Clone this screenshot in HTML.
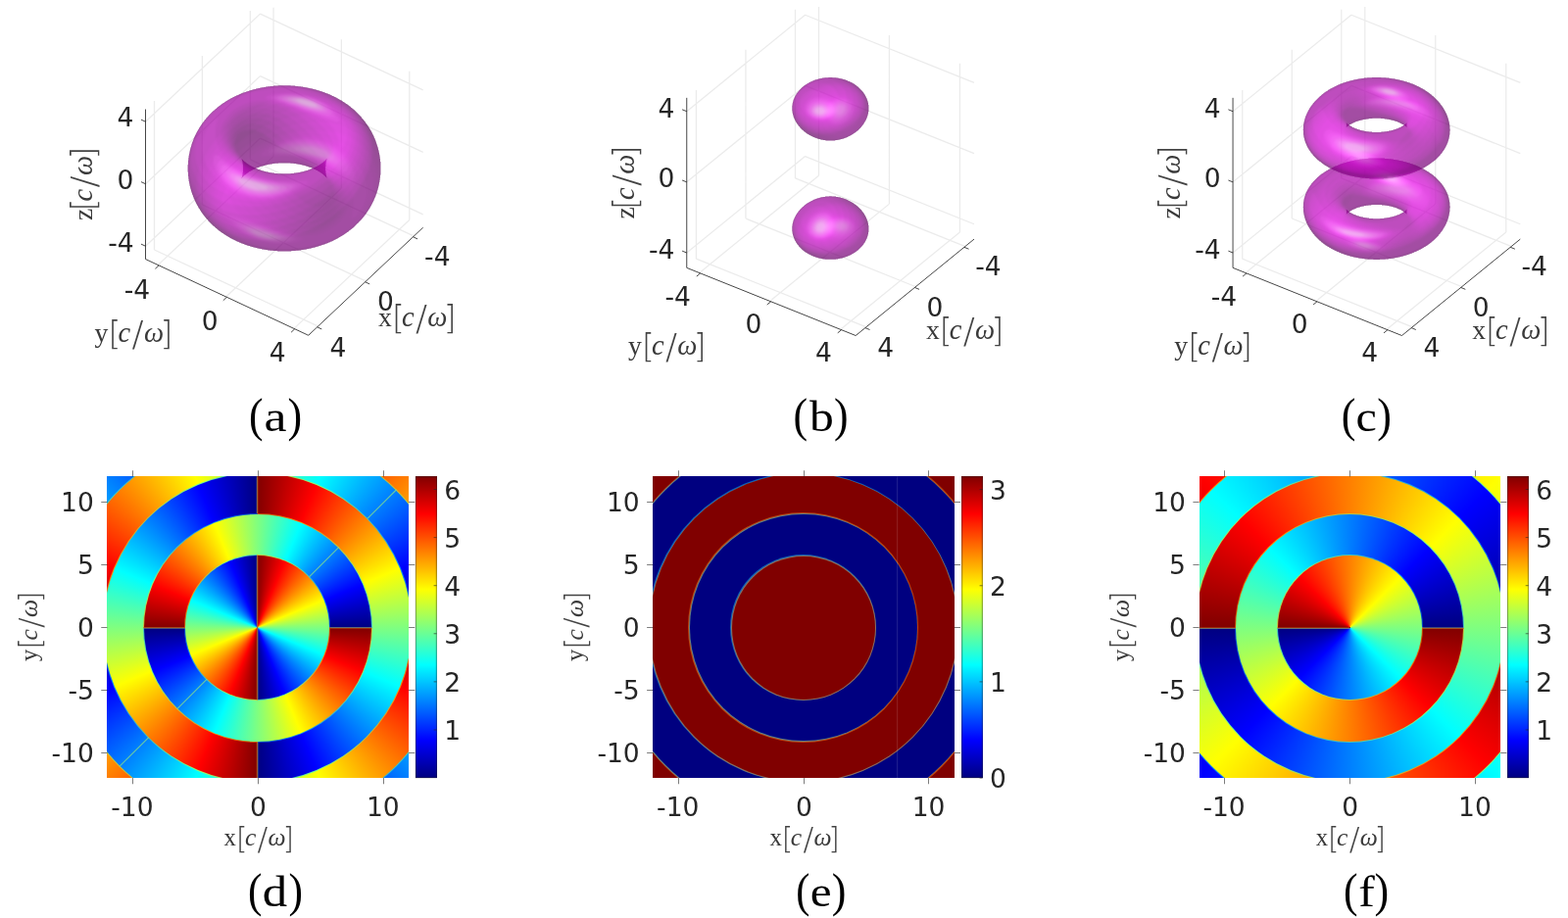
<!DOCTYPE html>
<html lang="en"><head><meta charset="utf-8"><title>Figure</title><style>
html,body{margin:0;padding:0;background:#fff}
#fig{position:relative;width:1600px;height:937px;overflow:hidden;background:#fff}
#fig svg{position:absolute;left:0;top:0}
.pl{position:absolute;overflow:hidden}
.pl i{position:absolute;border-radius:50%;display:block}
.cb{position:absolute;background:linear-gradient(to top,#000080 0%,#0000ff 12.5%,#00ffff 37.5%,#ffff00 62.5%,#ff0000 87.5%,#800000 100%)}
.pl i.fr{opacity:.55}
.pl i.f2{opacity:.55}
.wa{fill:none;stroke:#c86414;stroke-opacity:.8;stroke-width:.75}
.wb{fill:none;stroke:#96aa78;stroke-opacity:.85;stroke-width:.75}
.dl{fill:none;stroke:#82dc8c;stroke-opacity:.8;stroke-width:1.1}
.t{font-family:'DejaVu Sans','Liberation Sans',sans-serif;fill:#262626}
.s{font-family:'Liberation Serif','DejaVu Serif',serif;fill:#3a3a3a}
.el{font-family:'DejaVu Sans','Liberation Sans',sans-serif;font-weight:200;fill:#444}
.cap{font-family:'Liberation Serif','DejaVu Serif',serif;fill:#000}
.gr{fill:none;stroke:#262626;stroke-opacity:.095;stroke-width:1.25}
.ax{fill:none;stroke:#262626;stroke-width:.85}
.tk{fill:none;stroke:#262626;stroke-opacity:.6;stroke-width:1}
</style></head><body><div id="fig">
<div class="pl" style="left:109.45px;top:486.45px;width:307.6px;height:307.6px;background:conic-gradient(from 0deg,#800000 0deg,#ff0000 22.5deg,#ffff00 67.5deg,#00ffff 112.5deg,#0000ff 157.5deg,#000080 180deg,#800000 180deg,#ff0000 202.5deg,#ffff00 247.5deg,#00ffff 292.5deg,#0000ff 337.5deg,#000080 360deg)"><i class="fr" style="left:-46.76px;top:-45.86px;width:400.11px;height:400.11px;background:conic-gradient(from 90deg,#ff8000 0deg,#ffff00 22.5deg,#80ff80 45deg,#00ffff 67.5deg,#0080ff 90deg,#ff8000 90deg,#ffff00 112.5deg,#80ff80 135deg,#00ffff 157.5deg,#0080ff 180deg,#ff8000 180deg,#ffff00 202.5deg,#80ff80 225deg,#00ffff 247.5deg,#0080ff 270deg,#ff8000 270deg,#ffff00 292.5deg,#80ff80 315deg,#00ffff 337.5deg,#0080ff 360deg)"></i><i style="left:-45.76px;top:-44.86px;width:398.11px;height:398.11px;background:conic-gradient(from -90deg,#800000 0deg,#ff0000 22.5deg,#ffff00 67.5deg,#00ffff 112.5deg,#0000ff 157.5deg,#000080 180deg,#800000 180deg,#ff0000 202.5deg,#ffff00 247.5deg,#00ffff 292.5deg,#0000ff 337.5deg,#000080 360deg)"></i><i class="fr" style="left:-5.14px;top:-4.24px;width:316.88px;height:316.88px;background:conic-gradient(from 90deg,#ff8000 0deg,#ffff00 22.5deg,#80ff80 45deg,#00ffff 67.5deg,#0080ff 90deg,#ff8000 90deg,#ffff00 112.5deg,#80ff80 135deg,#00ffff 157.5deg,#0080ff 180deg,#ff8000 180deg,#ffff00 202.5deg,#80ff80 225deg,#00ffff 247.5deg,#0080ff 270deg,#ff8000 270deg,#ffff00 292.5deg,#80ff80 315deg,#00ffff 337.5deg,#0080ff 360deg)"></i><i style="left:-4.14px;top:-3.24px;width:314.88px;height:314.88px;background:conic-gradient(from 0deg,#800000 0deg,#ff0000 22.5deg,#ffff00 67.5deg,#00ffff 112.5deg,#0000ff 157.5deg,#000080 180deg,#800000 180deg,#ff0000 202.5deg,#ffff00 247.5deg,#00ffff 292.5deg,#0000ff 337.5deg,#000080 360deg)"></i><i class="fr" style="left:36.23px;top:37.13px;width:234.14px;height:234.14px;background:conic-gradient(from 90deg,#ff8000 0deg,#ffff00 22.5deg,#80ff80 45deg,#00ffff 67.5deg,#0080ff 90deg,#ff8000 90deg,#ffff00 112.5deg,#80ff80 135deg,#00ffff 157.5deg,#0080ff 180deg,#ff8000 180deg,#ffff00 202.5deg,#80ff80 225deg,#00ffff 247.5deg,#0080ff 270deg,#ff8000 270deg,#ffff00 292.5deg,#80ff80 315deg,#00ffff 337.5deg,#0080ff 360deg)"></i><i style="left:37.23px;top:38.13px;width:232.14px;height:232.14px;background:conic-gradient(from -90deg,#800000 0deg,#ff0000 22.5deg,#ffff00 67.5deg,#00ffff 112.5deg,#0000ff 157.5deg,#000080 180deg,#800000 180deg,#ff0000 202.5deg,#ffff00 247.5deg,#00ffff 292.5deg,#0000ff 337.5deg,#000080 360deg)"></i><i class="fr" style="left:78.93px;top:79.83px;width:148.74px;height:148.74px;background:conic-gradient(from 90deg,#ff8000 0deg,#ffff00 22.5deg,#80ff80 45deg,#00ffff 67.5deg,#0080ff 90deg,#ff8000 90deg,#ffff00 112.5deg,#80ff80 135deg,#00ffff 157.5deg,#0080ff 180deg,#ff8000 180deg,#ffff00 202.5deg,#80ff80 225deg,#00ffff 247.5deg,#0080ff 270deg,#ff8000 270deg,#ffff00 292.5deg,#80ff80 315deg,#00ffff 337.5deg,#0080ff 360deg)"></i><i style="left:79.93px;top:80.83px;width:146.74px;height:146.74px;background:conic-gradient(from 0deg,#800000 0deg,#ff0000 22.5deg,#ffff00 67.5deg,#00ffff 112.5deg,#0000ff 157.5deg,#000080 180deg,#800000 180deg,#ff0000 202.5deg,#ffff00 247.5deg,#00ffff 292.5deg,#0000ff 337.5deg,#000080 360deg)"></i></div>
<div class="cb" style="left:424px;top:486.45px;width:21.6px;height:307.6px"></div>
<div class="pl" style="left:666.3px;top:486.45px;width:307.6px;height:307.6px;background:#800000"><i class="f2" style="left:-46.81px;top:-46.11px;width:400.61px;height:400.61px;background:#f07818"></i><i class="f2" style="left:-46.06px;top:-45.36px;width:399.11px;height:399.11px;background:#18b4e6"></i><i style="left:-45.31px;top:-44.61px;width:397.61px;height:397.61px;background:#000080"></i><i class="f2" style="left:-5.19px;top:-4.49px;width:317.38px;height:317.38px;background:#18b4e6"></i><i class="f2" style="left:-4.44px;top:-3.74px;width:315.88px;height:315.88px;background:#f07818"></i><i style="left:-3.69px;top:-2.99px;width:314.38px;height:314.38px;background:#800000"></i><i class="f2" style="left:36.18px;top:36.88px;width:234.64px;height:234.64px;background:#f07818"></i><i class="f2" style="left:36.93px;top:37.63px;width:233.14px;height:233.14px;background:#18b4e6"></i><i style="left:37.68px;top:38.38px;width:231.64px;height:231.64px;background:#000080"></i><i class="f2" style="left:78.88px;top:79.58px;width:149.24px;height:149.24px;background:#18b4e6"></i><i class="f2" style="left:79.63px;top:80.33px;width:147.74px;height:147.74px;background:#f07818"></i><i style="left:80.38px;top:81.08px;width:146.24px;height:146.24px;background:#800000"></i></div>
<div class="cb" style="left:981.4px;top:486.45px;width:21.2px;height:307.6px"></div>
<div class="pl" style="left:1223.6px;top:486.45px;width:307.6px;height:307.6px;background:conic-gradient(from -90deg,#800000 0deg,#ff0000 45deg,#ffff00 135deg,#00ffff 225deg,#0000ff 315deg,#000080 360deg)"><i class="fr" style="left:-46.36px;top:-45.66px;width:400.11px;height:400.11px;background:conic-gradient(from 90deg,#ff8000 0deg,#ffff00 45deg,#80ff80 90deg,#00ffff 135deg,#0080ff 180deg,#ff8000 180deg,#ffff00 225deg,#80ff80 270deg,#00ffff 315deg,#0080ff 360deg)"></i><i style="left:-45.36px;top:-44.66px;width:398.11px;height:398.11px;background:conic-gradient(from -270deg,#800000 0deg,#ff0000 45deg,#ffff00 135deg,#00ffff 225deg,#0000ff 315deg,#000080 360deg)"></i><i class="fr" style="left:-4.74px;top:-4.04px;width:316.88px;height:316.88px;background:conic-gradient(from 90deg,#ff8000 0deg,#ffff00 45deg,#80ff80 90deg,#00ffff 135deg,#0080ff 180deg,#ff8000 180deg,#ffff00 225deg,#80ff80 270deg,#00ffff 315deg,#0080ff 360deg)"></i><i style="left:-3.74px;top:-3.04px;width:314.88px;height:314.88px;background:conic-gradient(from -90deg,#800000 0deg,#ff0000 45deg,#ffff00 135deg,#00ffff 225deg,#0000ff 315deg,#000080 360deg)"></i><i class="fr" style="left:36.63px;top:37.33px;width:234.14px;height:234.14px;background:conic-gradient(from 90deg,#ff8000 0deg,#ffff00 45deg,#80ff80 90deg,#00ffff 135deg,#0080ff 180deg,#ff8000 180deg,#ffff00 225deg,#80ff80 270deg,#00ffff 315deg,#0080ff 360deg)"></i><i style="left:37.63px;top:38.33px;width:232.14px;height:232.14px;background:conic-gradient(from -270deg,#800000 0deg,#ff0000 45deg,#ffff00 135deg,#00ffff 225deg,#0000ff 315deg,#000080 360deg)"></i><i class="fr" style="left:79.33px;top:80.03px;width:148.74px;height:148.74px;background:conic-gradient(from 90deg,#ff8000 0deg,#ffff00 45deg,#80ff80 90deg,#00ffff 135deg,#0080ff 180deg,#ff8000 180deg,#ffff00 225deg,#80ff80 270deg,#00ffff 315deg,#0080ff 360deg)"></i><i style="left:80.33px;top:81.03px;width:146.74px;height:146.74px;background:conic-gradient(from -90deg,#800000 0deg,#ff0000 45deg,#ffff00 135deg,#00ffff 225deg,#0000ff 315deg,#000080 360deg)"></i></div>
<div class="cb" style="left:1538.1px;top:486.45px;width:21.6px;height:307.6px"></div>
<svg width="1600" height="937" viewBox="0 0 1600 937"><defs><filter id="bl" x="-5%" y="-5%" width="110%" height="110%" color-interpolation-filters="sRGB"><feGaussianBlur stdDeviation="0.8"/></filter></defs><path class="wa" d="M262.95 566.78V640.65M262.25 640.65V714.52M262.95 486.45V524.08M262.25 757.22V794.05M146.18 640.55H188.88M336.62 641.25H379.32"/><path class="wb" d="M262.25 566.78V640.65M262.95 640.65V714.52M262.25 486.45V524.08M262.95 757.22V794.05M146.18 641.25H188.88M336.62 640.55H379.32"/>
<path class="dl" d="M315.68 588.62L345.88 558.42M211.22 693.08L181.02 723.28M375.13 529.17L404.56 499.74M151.77 752.53L122.34 781.96"/>
<rect x="424.3" y="486.75" width="21" height="307" fill="none" stroke="#262626" stroke-opacity=".45" stroke-width="1"/>
<text class="t" x="52.53" y="778.15" font-size="26.5">-10</text>
<text class="t" x="113.24" y="833.25" font-size="26.5">-10</text>
<text class="t" x="69.39" y="714.2" font-size="26.5">-5</text>
<text class="t" x="78.95" y="650.25" font-size="26.5">0</text>
<text class="t" x="255.03" y="833.25" font-size="26.5">0</text>
<text class="t" x="78.95" y="586.3" font-size="26.5">5</text>
<text class="t" x="62.09" y="522.35" font-size="26.5">10</text>
<text class="t" x="373.91" y="833.25" font-size="26.5">10</text>
<text class="t" x="453.2" y="754.96" font-size="26.5">1</text>
<text class="t" x="453.2" y="705.87" font-size="26.5">2</text>
<text class="t" x="453.2" y="656.78" font-size="26.5">3</text>
<text class="t" x="453.2" y="607.69" font-size="26.5">4</text>
<text class="t" x="453.2" y="558.6" font-size="26.5">5</text>
<text class="t" x="453.2" y="509.51" font-size="26.5">6</text>
<path class="tk" d="M109.45 768.5h-6.2M417.05 768.5h6.2M135.5 486.45v-6.2M135.5 794.05v6.2M109.45 704.5h-6.2M417.05 704.5h6.2M109.45 640.5h-6.2M417.05 640.5h6.2M263.5 486.45v-6.2M263.5 794.05v6.2M109.45 576.5h-6.2M417.05 576.5h6.2M109.45 512.5h-6.2M417.05 512.5h6.2M391.5 486.45v-6.2M391.5 794.05v6.2M445.6 744.96h-3M445.6 695.87h-3M445.6 646.78h-3M445.6 597.69h-3M445.6 548.6h-3M445.6 499.51h-3"/>
<text class="s" y="863.4"><tspan x="228.54" dy="0" font-size="24.82">x</tspan><tspan x="240.92" dy="2.7" font-size="29.61" class="el">[</tspan><tspan x="249.96" dy="-2.7" font-size="25.61" font-style="italic">c</tspan><tspan x="262.53" dy="3.62" font-size="32.12" class="el">/</tspan><tspan x="273.58" dy="-3.62" font-size="25.61" font-style="italic">ω</tspan><tspan x="288.39" dy="2.7" font-size="29.61" class="el">]</tspan></text>
<text class="s" y="0" transform="translate(38 675.4) rotate(-90)"><tspan x="0.29" dy="0" font-size="24.82">y</tspan><tspan x="12.82" dy="2.7" font-size="29.61" class="el">[</tspan><tspan x="21.86" dy="-2.7" font-size="25.61" font-style="italic">c</tspan><tspan x="34.43" dy="3.62" font-size="32.12" class="el">/</tspan><tspan x="45.48" dy="-3.62" font-size="25.61" font-style="italic">ω</tspan><tspan x="60.29" dy="2.7" font-size="29.61" class="el">]</tspan></text>
<text class="cap" y="924.6"><tspan x="252.98" font-size="49" textLength="14.52" lengthAdjust="spacingAndGlyphs">(</tspan><tspan x="267.67" font-size="45" textLength="25.35" lengthAdjust="spacingAndGlyphs">d</tspan><tspan x="294.39" font-size="49" textLength="14.52" lengthAdjust="spacingAndGlyphs">)</tspan></text>
<path d="M915.6 486.45V794.05" stroke="#fff" stroke-opacity=".13" stroke-width="1" fill="none"/>
<rect x="981.7" y="486.75" width="20.6" height="307" fill="none" stroke="#262626" stroke-opacity=".45" stroke-width="1"/>
<text class="t" x="609.38" y="778.15" font-size="26.5">-10</text>
<text class="t" x="670.09" y="833.25" font-size="26.5">-10</text>
<text class="t" x="626.24" y="714.2" font-size="26.5">-5</text>
<text class="t" x="635.8" y="650.25" font-size="26.5">0</text>
<text class="t" x="811.88" y="833.25" font-size="26.5">0</text>
<text class="t" x="635.8" y="586.3" font-size="26.5">5</text>
<text class="t" x="618.94" y="522.35" font-size="26.5">10</text>
<text class="t" x="930.76" y="833.25" font-size="26.5">10</text>
<text class="t" x="1010.05" y="804.05" font-size="26.5">0</text>
<text class="t" x="1010.05" y="705.9" font-size="26.5">1</text>
<text class="t" x="1010.05" y="607.75" font-size="26.5">2</text>
<text class="t" x="1010.05" y="509.6" font-size="26.5">3</text>
<path class="tk" d="M666.3 768.5h-6.2M973.9 768.5h6.2M692.5 486.45v-6.2M692.5 794.05v6.2M666.3 704.5h-6.2M973.9 704.5h6.2M666.3 640.5h-6.2M973.9 640.5h6.2M820.5 486.45v-6.2M820.5 794.05v6.2M666.3 576.5h-6.2M973.9 576.5h6.2M666.3 512.5h-6.2M973.9 512.5h6.2M947.5 486.45v-6.2M947.5 794.05v6.2M1002.6 794.05h-3M1002.6 695.9h-3M1002.6 597.75h-3M1002.6 499.6h-3"/>
<text class="s" y="863.4"><tspan x="785.39" dy="0" font-size="24.82">x</tspan><tspan x="797.77" dy="2.7" font-size="29.61" class="el">[</tspan><tspan x="806.81" dy="-2.7" font-size="25.61" font-style="italic">c</tspan><tspan x="819.38" dy="3.62" font-size="32.12" class="el">/</tspan><tspan x="830.43" dy="-3.62" font-size="25.61" font-style="italic">ω</tspan><tspan x="845.24" dy="2.7" font-size="29.61" class="el">]</tspan></text>
<text class="s" y="0" transform="translate(594.85 675.4) rotate(-90)"><tspan x="0.29" dy="0" font-size="24.82">y</tspan><tspan x="12.82" dy="2.7" font-size="29.61" class="el">[</tspan><tspan x="21.86" dy="-2.7" font-size="25.61" font-style="italic">c</tspan><tspan x="34.43" dy="3.62" font-size="32.12" class="el">/</tspan><tspan x="45.48" dy="-3.62" font-size="25.61" font-style="italic">ω</tspan><tspan x="60.29" dy="2.7" font-size="29.61" class="el">]</tspan></text>
<text class="cap" y="924.6"><tspan x="812.23" font-size="49" textLength="14.13" lengthAdjust="spacingAndGlyphs">(</tspan><tspan x="826.68" font-size="45" textLength="21.83" lengthAdjust="spacingAndGlyphs">e</tspan><tspan x="848.68" font-size="49" textLength="14.65" lengthAdjust="spacingAndGlyphs">)</tspan></text>
<path class="wa" d="M1223.6 640.8H1260.73M1303.43 640.8H1377.3M1451.17 641.5H1493.87"/><path class="wb" d="M1223.6 641.5H1260.73M1303.43 641.5H1377.3M1451.17 640.8H1493.87"/>
<rect x="1538.4" y="486.75" width="21" height="307" fill="none" stroke="#262626" stroke-opacity=".45" stroke-width="1"/>
<text class="t" x="1166.68" y="778.15" font-size="26.5">-10</text>
<text class="t" x="1227.39" y="833.25" font-size="26.5">-10</text>
<text class="t" x="1183.54" y="714.2" font-size="26.5">-5</text>
<text class="t" x="1193.1" y="650.25" font-size="26.5">0</text>
<text class="t" x="1369.18" y="833.25" font-size="26.5">0</text>
<text class="t" x="1193.1" y="586.3" font-size="26.5">5</text>
<text class="t" x="1176.24" y="522.35" font-size="26.5">10</text>
<text class="t" x="1488.06" y="833.25" font-size="26.5">10</text>
<text class="t" x="1567.35" y="754.96" font-size="26.5">1</text>
<text class="t" x="1567.35" y="705.87" font-size="26.5">2</text>
<text class="t" x="1567.35" y="656.78" font-size="26.5">3</text>
<text class="t" x="1567.35" y="607.69" font-size="26.5">4</text>
<text class="t" x="1567.35" y="558.6" font-size="26.5">5</text>
<text class="t" x="1567.35" y="509.51" font-size="26.5">6</text>
<path class="tk" d="M1223.6 768.5h-6.2M1531.2 768.5h6.2M1249.5 486.45v-6.2M1249.5 794.05v6.2M1223.6 704.5h-6.2M1531.2 704.5h6.2M1223.6 640.5h-6.2M1531.2 640.5h6.2M1377.5 486.45v-6.2M1377.5 794.05v6.2M1223.6 576.5h-6.2M1531.2 576.5h6.2M1223.6 512.5h-6.2M1531.2 512.5h6.2M1505.5 486.45v-6.2M1505.5 794.05v6.2M1559.7 744.96h-3M1559.7 695.87h-3M1559.7 646.78h-3M1559.7 597.69h-3M1559.7 548.6h-3M1559.7 499.51h-3"/>
<text class="s" y="863.4"><tspan x="1342.69" dy="0" font-size="24.82">x</tspan><tspan x="1355.07" dy="2.7" font-size="29.61" class="el">[</tspan><tspan x="1364.11" dy="-2.7" font-size="25.61" font-style="italic">c</tspan><tspan x="1376.68" dy="3.62" font-size="32.12" class="el">/</tspan><tspan x="1387.73" dy="-3.62" font-size="25.61" font-style="italic">ω</tspan><tspan x="1402.54" dy="2.7" font-size="29.61" class="el">]</tspan></text>
<text class="s" y="0" transform="translate(1152.15 675.4) rotate(-90)"><tspan x="0.29" dy="0" font-size="24.82">y</tspan><tspan x="12.82" dy="2.7" font-size="29.61" class="el">[</tspan><tspan x="21.86" dy="-2.7" font-size="25.61" font-style="italic">c</tspan><tspan x="34.43" dy="3.62" font-size="32.12" class="el">/</tspan><tspan x="45.48" dy="-3.62" font-size="25.61" font-style="italic">ω</tspan><tspan x="60.29" dy="2.7" font-size="29.61" class="el">]</tspan></text>
<text class="cap" y="924.6"><tspan x="1370.98" font-size="49" textLength="14.52" lengthAdjust="spacingAndGlyphs">(</tspan><tspan x="1386.37" font-size="45" textLength="16.53" lengthAdjust="spacingAndGlyphs">f</tspan><tspan x="1402.58" font-size="49" textLength="14.65" lengthAdjust="spacingAndGlyphs">)</tspan></text>
<g id="pa"><path class="gr" d="M255.3 162.92L421.5 240.66M279.04 159.66L162.04 269.75M255.3 162.92L255.3 11.03M265.49 141.14L148.5 251.23M279.04 159.66L279.04 7.77M265.49 141.14L431.7 218.87M206.4 208.94L372.6 286.67M348.4 192.1L231.4 302.19M206.4 208.94L206.4 57.05M265.49 77.64L148.5 187.73M348.4 192.1L348.4 40.21M265.49 77.64L431.7 155.37M157.5 254.95L323.7 332.69M417.76 224.54L300.76 334.63M157.5 254.95L157.5 103.06M265.49 14.14L148.5 124.23M417.76 224.54L417.76 72.65M265.49 14.14L431.7 91.87"/>
<clipPath id="csa1"><use href="#sa1"/></clipPath><g opacity="0.45" clip-path="url(#csa1)"><g filter="url(#bl)"><path id="sa1" fill="#690069" stroke="#690069" stroke-width="3" d="M332.6 162.8l0.9-0.9 0.2 0.3-0.3 0.3 0 0.7-0.3 0.3 0 1-0.4 0.3 0 1.7-0.3 0.3 0 3-0.3 0.4 0 3.6 0.3 0.4 0 2.6 0.3 0.4 0 1.6 0.3 0.4 0 1 0.4 0.3 0 0.7 0.3 0.3-0.2 0.2-1.2-1.2 0-0.3-0.8-0.8-0.3 0-1.7-1.7-0.3 0-1-1-0.4 0-1.6-1.3-1-0.4-0.7-0.6-0.3 0-0.4-0.4-0.3 0-0.3-0.3-0.4 0-0.3-0.3-0.3 0-0.4-0.4-0.3 0-0.3-0.3-0.4 0-0.3-0.3-0.3 0-0.9-0.6 0.9-0.5 0.3 0 0.3-0.4 0.4 0 0.3-0.3 0.3 0 0.4-0.3 0.3 0 0.3-0.4 0.4 0 0.3-0.3 0.3 0 0.4-0.3 0.3 0 0.3-0.4 0.4 0 0.6-0.6 0.4 0 1.6-1.4 0.4 0 0.6-0.6 0.4 0 1.6-1.7 0.4 0 1.3-1.3zM246.6 162.5l0.2-0.2 3 3 0.4 0 1.3 1.3 0.3 0 0.7 0.7 0.3 0 1.7 1.3 1 0.3 0.7 0.7 0.3 0 1.7 1 0.3 0 1 0.7 0.7 0 0.9 0.5-0.9 0.6-0.4 0-0.3 0.3-0.7 0-1.6 1-0.4 0-0.6 0.7-1 0.3-0.4 0.4-0.3 0-0.7 0.6-0.3 0-0.7 0.7-0.3 0-2.3 2-0.4 0-2.7 2.8 0 0.3-0.6 0.6-0.2-0.3 0.6-1 0-1 0.4-0.3 0-1 0.3-0.3 0-2 0.3-0.4 0-8-0.3-0.3 0-2-0.3-0.3 0-1-0.4-0.4 0-0.6-0.3-0.4z"/><path fill="#7c007c" d="M246.8 162.5l3 3 0.4 0 1.3 1.3 0.3 0 0.7 0.6 0.3 0 1.7 1.4 1 0.3 0.7 0.7 0.3 0 1.7 1 0.3 0 1 0.7 0.7 0 0.3 0.3 0.4 0-1.1 0.4-0.3 0.3-0.7 0-1.6 1-0.4 0-0.6 0.7-1 0.3-0.4 0.4-0.3 0-0.7 0.6-0.3 0-0.7 0.7-0.3 0-1 1-0.3 0-1 1-0.4 0-2.6 2.7-0.1-1.1 0.4-0.3 0-1 0.3-0.3 0-2 0.3-0.4 0-8-0.3-0.3 0-2-0.3-0.3 0-1-0.4-0.4 0-0.6-0.3-0.4zM333.1 162.5l0.2 0 0 0.7-0.4 0.3 0 1-0.3 0.3 0 1.7-0.4 0.3 0 3-0.3 0.4 0 3.6 0.3 0.4 0 2.6 0.3 0.4 0 1.6 0.3 0.4 0 0.9-6.6-4.9-0.4 0-1.3-1-0.3 0-0.4-0.4-0.3 0-0.3-0.3-0.4 0-0.3-0.3-0.3 0-0.4-0.4-0.3 0-0.3-0.3-0.4 0-0.3-0.3-1-0.4 1-0.3 0.3-0.4 0.4 0 0.3-0.3 0.3 0 0.4-0.3 0.3 0 0.3-0.4 0.4 0 0.3-0.3 0.3 0 0.4-0.3 0.3 0 0.3-0.4 0.4 0 0.6-0.7 0.4 0 1.6-1.3 0.4 0 0.6-0.7 0.4 0 1.6-1.6 0.4 0 1.3-1.4z"/><path fill="#8a008a" d="M246.8 162.5l3 3 0.4 0 1.3 1.3 0.3 0 0.7 0.7 0.3 0 1.7 1.3 1 0.3 0.7 0.7 0.3 0 1.7 1 0.3 0 1 0.7 0.7 0 0.3 0.3 0.4 0-1.1 0.4-0.3 0.3-0.7 0-1.6 1-0.4 0-0.6 0.7-1 0.3-0.4 0.4-0.3 0-0.7 0.6-0.3 0-0.7 0.7-0.3 0-1 1-0.3 0-1 1-0.4 0-2.6 2.7-0.1-1.1 0.4-0.3 0-1 0.3-0.3 0-2 0.3-0.4 0-8-0.3-0.3 0-2-0.3-0.3 0-1-0.4-0.4 0-0.6-0.3-0.4zM333.1 162.5l0.2 0 0 0.7-0.4 0.3 0 1-0.3 0.3 0 1.7-0.4 0.3 0 3-0.3 0.4 0 3.6 0.3 0.4 0 2.6 0.3 0.4 0 1.6 0.3 0.4 0 0.3-3-2.1-3.3-2.1-6-3.1-0.3 0-0.4-0.4-0.3 0 1-0.3 0.3-0.4 0.4 0 0.3-0.3 0.3 0 0.4-0.3 0.3 0 0.3-0.4 0.4 0 0.3-0.3 0.3 0 0.4-0.3 0.3 0 0.3-0.4 0.4 0 0.6-0.6 0.4 0 1.6-1.4 0.4 0 0.6-0.7 0.4 0 1.6-1.6 0.4 0 1.3-1.4z"/><path fill="#970097" d="M246.8 162.5l3 3 0.4 0 1.3 1.3 0.3 0 0.7 0.7 0.3 0 1.7 1.3 1 0.3 0.7 0.7 0.3 0 1.7 1 0.3 0 1 0.7 0.7 0 0.3 0.3 0.4 0-1.1 0.4-0.3 0.3-0.7 0-1.6 1-0.4 0-0.6 0.7-1 0.3-0.4 0.4-0.3 0-0.7 0.6-0.3 0-0.7 0.7-0.3 0-1 1-0.3 0-1 1-0.4 0-2.6 2.7-0.1-1.1 0.4-0.3 0-1 0.3-0.3 0-2 0.3-0.4 0-8-0.3-0.3 0-2-0.3-0.3 0-1-0.4-0.4 0-0.6-0.3-0.4zM333.1 162.5l0.2 0-0.1 0.7-0.3 0.3 0 1-0.3 0.3 0 1.7-0.4 0.3 0 3-0.3 0.4 0 3.6 0.3 0.4 0 2.6 0.3 0.4 0 1.4-3-2-3.3-1.9-6.3-2.9 0.3-0.3 0.3 0 0.3-0.3 0.4 0 0.3-0.4 0.3 0 0.4-0.3 0.3 0 0.3-0.4 0.4 0 1.6-1 0.4 0 0.6-0.6 0.4 0 1.6-1.4 0.4 0 0.6-0.6 0.4-0.1 1.6-1.6 0.4 0 1.3-1.4z"/><path fill="#a400a4" d="M246.8 162.5l3 3 0.4 0 1.3 1.3 0.3 0 0.7 0.7 0.3 0 1.7 1.3 1 0.3 0.7 0.7 0.3 0 1.7 1 0.3 0 1 0.7 0.7 0 0.3 0.3 0.3 0-1 0.4-0.3 0.3-0.7 0-1.6 1-0.4 0-0.6 0.7-1 0.3-0.4 0.3-0.3 0.1-0.7 0.6-0.3 0-0.7 0.7-0.3 0-1 1-0.3 0-1 1-0.4 0-2.6 2.6-0.1-1 0.4-0.3 0-1 0.3-0.3 0-2 0.3-0.4 0-8-0.3-0.3 0-2-0.3-0.3 0-1-0.4-0.4 0-0.6-0.3-0.4zM333.1 162.5l0.1 0 0 0.7-0.3 0.3 0 1-0.3 0.3 0 1.7-0.4 0.3 0 3-0.3 0.4 0 3.6 0.3 0.4 0 2.6 0.3 0.4 0 0.6-6-3.5-6.3-2.8 0.3 0 0.3-0.3 0.4 0 0.3-0.4 0.3 0 0.4-0.3 0.3 0 0.3-0.4 0.4 0 1.6-1 0.4 0 0.6-0.6 0.4 0 1.6-1.4 0.4 0 0.6-0.6 0.4 0 1.6-1.7 0.4 0 1.3-1.4z"/><path fill="#b100b1" d="M246.8 162.5l3 3 0.4 0 1.3 1.3 0.3 0 0.7 0.7 0.3 0 1.7 1.3 1 0.3 0.7 0.7 0.3 0 1.7 1 0.3 0 1 0.7 0.7 0 0.3 0.3 0.3 0-1 0.4-0.3 0.3-0.7 0-1.6 1-0.4 0-0.6 0.7-1 0.3-0.4 0.3-0.3 0-0.7 0.7-0.3 0-0.7 0.7-0.3 0-1 1-0.3 0-1 1-0.4 0-2.6 2.6 0-1 0.3-0.3 0-1 0.3-0.3 0-2 0.3-0.4 0-8-0.3-0.3 0-2-0.3-0.3 0-1-0.3-0.4 0-0.6-0.4-0.4zM332.8 162.8l0.4-0.3 0 0.7-0.3 0.3 0 1-0.3 0.3 0 1.7-0.4 0.3 0 3-0.3 0.4-0.1 3.6 0.4 0.4 0 2.5-5.4-3-5.8-2.5 0.5-0.4 0.3 0 0.4-0.3 0.3 0 0.3-0.3 0.4 0 0.3-0.4 0.3 0 0.4-0.3 0.3 0 0.3-0.4 0.4 0 0.6-0.6 0.4 0 1.6-1.4 0.4 0 0.6-0.6 0.4 0 3.6-3.3z"/><path fill="#be00be" d="M246.8 162.5l3 3 0.4 0 1.3 1.3 0.3 0 0.7 0.7 0.3 0 1.7 1.3 1 0.4 0.7 0.6 0.3 0 1.7 1 0.3 0 1 0.7 0.7 0 0.4 0.3-1.8 0.7-1.6 1-0.4 0-2 1.3-0.3 0-1.8 1.4-0.2 0-2.4 2-0.3 0-2.6 2.6 0-1 0.3-0.3 0-1 0.3-0.3 0-2 0.4-0.4 0-8-0.4-0.3 0-2-0.3-0.3 0-1-0.3-0.4 0-0.6-0.4-0.4zM332.8 162.8l0.4-0.3 0 0.7-0.3 0.3 0 1-0.3 0.3-0.1 1.7-0.3 0.3 0 3-0.3 0.4-0.1 3.6 0.4 0.4 0 1.3-4.7-2.5-5.3-2.3 0-0.2 0.3 0 0.3-0.3 0.4 0 1.6-1 0.4 0 0.6-0.7 0.4 0 1.6-1.4 0.4 0 0.6-0.6 0.4 0 3.6-3.3z"/><path fill="#cc00cc" d="M332.8 162.8l0.4-0.3 0 0.7-0.3 0.3 0 1-0.4 0.3 0 1.7-0.3 0.3 0 3-0.4 0.4 0 3.6-4.3-2.2-4-1.7 0.7-0.4 0.3 0 0.3-0.3 0.4 0 0.6-0.7 0.4 0 1.6-1.3 0.4 0 0.6-0.7 0.4 0 3.6-3.3zM247.6 163.8l0.2-0.2 0.4 0.2 1.6 1.7 0.4 0 1.3 1.3 0.3 0 0.7 0.7 0.3 0 1.7 1.3 1 0.4 0.7 0.6 0.3 0 1.7 1 0.3 0 0.3 0.4 0.4 0 0.1 0.3-6.1 3.5-3.4 2.4-2.3 2 0-0.9 0.3-0.3 0-2 0.4-0.4 0-8-0.4-0.3 0-2-0.3-0.3z"/><path fill="#d400d4" d="M333.1 162.5l0.1 0.7-0.3 0.3 0 1-0.4 0.3 0 1.7-0.3 0.3 0 3-0.4 0.4 0 1.5-6-2.9 0-0.3 0.4 0 1.6-1.3 0.4 0 0.6-0.7 0.4 0 1.6-1.7 0.4 0 1.6-1.6 0-0.4zM253.1 168.2l0.7 0 0.7 0.6 1 0.4 0.4 0.6-3.7 2.5-4 3.3 0-4.6z"/><path fill="#e105e1" d="M333.1 162.5l0.1 0.7-0.3 0.3 0 1-0.4 0.3 0 1.7-0.3 0.3 0 2.5-4.4-2 0.4-0.1 0.6-0.7 0.4 0 1.6-1.7 0.4 0 1.6-1.6 0-0.4z"/><path fill="#eb0deb" d="M333.1 162.5l0.1 0.7-0.3 0.3 0 1-0.4 0.3 0 1.7-0.3 0.3 0 1.2-3.4-1.5 0.4 0 1.6-1.7 0.4 0 1.6-1.6 0-0.4z"/><path fill="#f415f4" d="M333.1 162.5l0.1 0.7-0.3 0.3 0 1-0.4 0.3 0 1.7-0.3 0.3 0 0.5-2.5-1.1 1.1-1.4 0.4 0 1.6-1.6 0-0.4z"/><path fill="#fe20fe" d="M333.1 162.5l0.1 0.7-0.3 0.3 0 1-0.4 0.3 0 1.7-0.3 0.2-2-0.9 0-0.3 0.6-0.7 0.4 0 1.6-1.6 0-0.4z"/><path fill="#ff32ff" d="M333.1 162.5l0.1 0.7-0.3 0.3-0.1 1-0.3 0.3 0 1.3-2-0.8 2.3-2.1 0-0.4z"/><path fill="#ff4dff" d="M333.1 162.5l0.1 0.7-0.4 0.3 0 1-0.3 0.5-1-0.4 1.3-1.4 0-0.4z"/><path fill="#ff75ff" d="M333.2 162.5l0 0.7-0.4 0.3 0 0.7-0.6-0.3z"/></g></g>
<clipPath id="csa2"><use href="#sa2"/></clipPath><g opacity="0.45" clip-path="url(#csa2)"><g filter="url(#bl)"><path id="sa2" fill="#4d004d" stroke="#4d004d" stroke-width="3" d="M332.6 162.8l0.9-0.8 0.2 0.2-0.3 0.3 0 0.7-0.4 0.3 0 1-0.3 0.3 0 1.7-0.3 0.3 0 3-0.4 0.4 0 3.6 0.4 0.4 0 2.6 0.3 0.4 0 1.6 0.3 0.4 0 1 0.4 0.3 0 0.7 0.3 0.3-0.2 0.2-1.2-1.2 0-0.3-0.8-0.8-0.3 0-1.7-1.7-0.3 0-1-1-0.4 0-0.6-0.7-0.4 0-0.6-0.6-1-0.4-0.7-0.6-0.3 0-0.4-0.4-0.3 0-0.3-0.3-0.4 0-0.3-0.3-0.3 0-0.4-0.4-0.3 0-0.3-0.3-0.4 0-0.3-0.3-0.3 0-0.9-0.6 0.9-0.5 0.3 0 0.3-0.3 0.4 0 0.3-0.4 0.3 0 0.4-0.3 0.3 0 0.3-0.3 0.4 0 0.3-0.4 0.3 0 0.4-0.3 0.3 0 0.3-0.3 0.4 0 1.6-1.4 0.4 0 1.6-1.3 0.4 0 1.6-1.7 0.4 0 1.3-1.3zM246.6 162.8l0.2-0.5 3 3 0.4 0 1.3 1.3 0.3 0 0.7 0.7 0.3 0 1.7 1.3 1 0.4 0.7 0.6 1 0.4 1 0.6 0.3 0 1 0.7 0.7 0 0.8 0.5-0.8 0.6-0.4 0-0.3 0.3-0.7 0-1.6 1-0.4 0-0.6 0.7-0.4 0-0.3 0.3-1 0.3-1.7 1.4-0.3 0-2.3 2-0.4 0-2.8 2.8 0 0.3-0.5 0.5-0.2-0.2 0.7-1 0-1 0.3-0.3 0-1 0.3-0.3 0-2 0.4-0.4 0-8-0.4-0.3 0-2-0.3-0.3 0-1-0.3-0.4 0-0.6z"/><path fill="#540054" d="M333.1 162.5l0.1 0.7-0.3 0.3 0 1-0.4 0.3 0 1.7-0.3 0.3 0 3-0.3 0.4 0 3.6 0.3 0.4 0 2.6 0.3 0.4 0 1.6 0.4 0.4-0.1 1 0.4 0.3 0 0.7-0.7-0.8 0-0.2-1-1-4-3.6-3-2.3-3.2-2.1 0.2-0.4 0.3 0 0.4-0.3 0.3 0 0.3-0.3 0.4 0 1.6-1.1 0.4 0 1.6-1.3 0.4 0 1.6-1.3 0.4 0 1.6-1.7 0.4 0 1.3-1.3z"/><path fill="#590059" d="M333.1 162.5l0.1 0.7-0.3 0.3 0 1-0.4 0.3 0 1.7-0.3 0.3 0 3-0.3 0.4 0 3.6 0.3 0.4 0 2.6 0.3 0.4 0 1.6 0.4 0.4-0.1 1 0.4 0.3 0 0.7-0.7-1-4.3-4.3-2.7-2.2-4-2.9 0.3 0 0.4-0.3 0.3 0 0.3-0.3 0.4 0 1.6-1.1 0.4 0 1.6-1.3 0.4 0 1.6-1.3 0.4 0 1.6-1.7 0.4 0 1.3-1.3z"/><path fill="#5f005f" d="M333.1 162.5l0.1 0.7-0.3 0.3 0 1-0.4 0.3 0 1.7-0.3 0.3 0 3-0.3 0.4 0 3.6 0.3 0.4 0 2.6 0.3 0.4 0 1.6 0.4 0.4-0.1 1 0.4 0.3 0 0.6-2-2.5-2.4-2.4-3.3-3-3.3-2.4 0-0.3 1-0.3 0.3-0.4 0.3 0 0.4-0.3 0.3 0 0.3-0.3 0.4-0.1 1.6-1.3 0.4 0 1.6-1.3 0.4 0 1.6-1.7 0.4 0 1.3-1.3z"/><path fill="#640064" d="M333.1 162.5l0.1 0.7-0.3 0.3 0 1-0.4 0.3 0 1.7-0.3 0.3 0 3-0.3 0.4 0 3.6 0.3 0.4 0 2.6 0.3 0.4 0 1.6 0.3 0.4 0 1 0.4 0.3 0 0.5-2-2.7-2.4-2.5-3-2.8-3.2-2.5 0.2-0.3 0.4 0 1.6-1 0.4 0 1.6-1.4 0.4 0 1.6-1.3 0.4 0 1.6-1.7 0.4 0 1.3-1.3z"/><path fill="#690069" d="M333.1 162.5l0.1 0.7-0.3 0.3 0 1-0.4 0.3 0 1.7-0.3 0.3 0 3-0.3 0.4 0 3.6 0.3 0.4 0 2.6 0.3 0.4 0 1.6 0.3 0.4 0 1.1-1.6-2.3-2.4-2.7-2.6-2.6-3.1-2.5 1.7-1 0.4 0 1.6-1.4 0.4 0 1.6-1.3 0.4 0 1.6-1.7 0.4 0 1.3-1.3z"/><path fill="#6e006e" d="M333.1 162.5l0.1 0.7-0.3 0.3 0 1-0.4 0.3 0 1.7-0.3 0.3 0 3-0.3 0.4 0 3.6 0.3 0.4 0 2.6 0.3 0.4 0 1.6 0.3 0.4 0 0.9-1.6-2.6-2-2.5-2.7-2.7-2.8-2.5 1.1-0.6 0.4 0 1.6-1.4 0.4 0 1.6-1.3 0.4 0 1.6-1.7 0.4 0 1.3-1.3z"/><path fill="#730073" d="M333.1 162.5l0.1 0.7-0.3 0.3 0 1-0.4 0.3 0 1.7-0.3 0.3 0 3-0.3 0.4-0.1 3.6 0.4 0.4 0 2.6 0.3 0.4 0 1.9-1.3-2.2-2-2.6-4.8-4.8 0.4-0.3 0.4 0 0.6-0.7 0.4 0 0.6-0.7 0.4 0 0.6-0.6 0.4 0 0.6-0.7 0.4 0 1.6-1.7 0.4 0 1.3-1.3z"/><path fill="#780078" d="M333.1 162.5l0.1 0.7-0.3 0.3 0 1-0.4 0.3 0 1.7-0.3 0.3 0 3-0.4 0.4 0 3.6 0.4 0.4 0 2.6 0.3 0.4 0 1.4-1.3-2.4-1.7-2.3-4.3-4.7 0.6-0.7 0.4 0 0.6-0.7 0.4 0 1.6-1.3 0.4 0 1.6-1.7 0.4 0 1.6-1.6 0-0.4z"/><path fill="#7d007d" d="M333.1 162.5l0.1 0.7-0.3 0.3 0 1-0.4 0.3 0 1.7-0.3 0.3 0 3-0.4 0.4 0 3.6 0.4 0.4 0 2.6 0.3 0.4 0 0.8-1-2.1-1.3-2.1-4.4-5.3 0.4 0 0.6-0.7 0.4 0 1.6-1.3 0.4 0 1.6-1.7 0.4 0 1.3-1.3z"/><path fill="#820082" d="M333.1 162.5l0.1 0.7-0.3 0.3 0 1-0.4 0.3 0 1.7-0.3 0.3 0 3-0.4 0.4 0 3.6 0.4 0.4 0 2.1-2-3.8-3.5-4.3 0.1-0.4 0.4 0 1.6-1.3 0.4 0 1.6-1.7 0.4 0 1.6-1.6 0-0.4z"/><path fill="#870087" d="M333.1 162.5l0.1 0.7-0.4 0.3 0 1-0.3 0.3 0 1.7-0.3 0.3 0 3-0.4 0.4 0 3.6 0.4 0.4 0 1-0.7-1.8-1-1.8-2.9-4.1 1.2-1 0.4 0 1.6-1.7 0.4 0 1.6-1.6 0-0.4z"/><path fill="#8c008c" d="M333.2 162.5l0 0.7-0.4 0.3 0 1-0.3 0.3 0 1.7-0.3 0.3 0 3-0.4 0.4 0 2.3-1.3-2.7-2-3 0.3-0.3 0.4 0 1.6-1.7 0.4 0 1.6-1.6 0-0.4z"/><path fill="#920092" d="M333.2 162.5l0 0.7-0.4 0.3 0 1-0.3 0.3 0 1.7-0.3 0.3 0 3-0.4 0.5-0.8-1.8-1.4-2.3 1.2-1.4 0.4 0 1.6-1.6 0-0.4z"/><path fill="#970097" d="M333.2 162.5l0 0.7-0.4 0.3 0 1-0.3 0.3 0 1.7-0.3 0.3 0 1.8-0.5-1.4-1.1-2 0.2-0.4 0.4 0 1.6-1.6 0-0.4z"/><path fill="#9d009d" d="M333.2 162.5l0 0.7-0.4 0.3 0 1-0.3 0.3 0 1.7-0.7-2.3 1-1 0-0.4z"/></g></g>
<clipPath id="csa3"><use href="#sa3"/></clipPath><g opacity="0.45" clip-path="url(#csa3)"><g filter="url(#bl)"><path id="sa3" fill="#4f004f" stroke="#4f004f" stroke-width="3" d="M283.5 87.6l0.3-0.3 12.7 0 0.3 0.3 4.4 0 0.3 0.4 2.7 0 0.3 0.3 2.3 0 0.4 0.3 2 0 0.3 0.4 1.7 0 0.3 0.3 1.3 0 0.4 0.3 1.3 0 0.3 0.4 1.4 0 0.3 0.3 1 0 0.3 0.3 1.4 0 0.3 0.4 1 0 0.3 0.3 0.7 0 0.3 0.3 1 0 0.4 0.4 0.6 0 0.4 0.3 1 0 0.3 0.3 0.7 0 0.3 0.4 0.7 0 0.3 0.3 0.7 0 0.3 0.3 0.7 0 0.3 0.4 0.7 0 1 0.6 0.6 0 0.4 0.4 0.6 0 1 0.6 0.7 0 1 0.7 0.7 0 0.3 0.3 0.3 0 1.7 1 0.3 0 0.4 0.4 0.6 0 0.4 0.3 0.3 0 1.7 1 1 0.3 0.6 0.7 1 0.3 1 0.7 0.4 0 0.6 0.7 1 0.3 0.4 0.3 0.3 0 1.7 1.4 0.3 0 0.7 0.6 0.3 0 1.7 1.4 0.3 0 0.7 0.6 0.3 0 1 1 0.3 0 1 1 0.4 0 1.3 1.4 0.3 0 1.7 1.6 0.3 0 8.2 8.2 0 0.4 2 2 0 0.3 1 1 0 0.3 1 1 0 0.4 1 1 0 0.3 0.7 0.7 0 0.3 0.7 0.7 0 0.3 1.3 1.7 0.3 1 0.7 0.6 0.3 1 0.7 0.7 0.3 1 0.4 0.3 0 0.4 0.3 0.3 0 0.3 0.3 0.4 0 0.3 0.4 0.3 0 0.4 0.3 0.3 0 0.3 1 1.7 0 0.7 1 1.6 0 0.7 0.7 1 0 0.7 0.3 0.3 0 0.7 0.3 0.3 0 0.7 0.4 0.3 0 0.7 0.3 0.3 0 0.7 0.3 0.3 0 0.7 0.4 0.3 0 0.7 0.3 0.3 0 1 0.3 0.3 0 1 0.4 0.4 0 1 0.3 0.3 0 1.3 0.3 0.4 0 1.3 0.4 0.3 0 1.7 0.3 0.3 0 2 0.3 0.4 0 2.6 0.4 0.4 0 13.3-0.4 0.3 0 2.7-0.3 0.3 0 2-0.3 0.4 0 1.6-0.3 0.4-0.1 1.3-0.3 0.3 0 1.4-0.3 0.3 0 1-0.3 0.3 0 1-0.4 0.4 0 1-0.3 0.3 0 0.7-0.3 0.3 0 0.7-0.4 0.3 0 1-0.3 0.3 0 0.7-0.7 1 0 0.7-0.3 0.3 0 0.7-0.7 1 0 0.6-1 1.7 0 0.7-0.3 0.3 0 0.3-0.3 0.4 0 0.3-0.4 0.3 0 0.4-0.3 0.3 0 0.3-0.3 0.4 0 0.3-0.4 0.3 0 0.4-0.3 0.3 0 0.3-0.3 0.4-0.4 1-0.6 0.6 0 0.4-0.4 0.3-0.3 1-1.3 1.7 0 0.3-0.7 0.7 0 0.3-0.7 0.7 0 0.3-0.6 0.7 0 0.3-0.7 0.7 0 0.3-1 1 0 0.3-1.3 1.4 0 0.3-1.7 1.7 0 0.3-4 4 0 0.3-0.2 0.3-0.4 0-4.3 4.3-0.3 0-1.7 1.7-0.3 0-1 1-0.4 0-1.3 1.3-0.3 0-0.7 0.7-0.3 0-1 1-0.4 0-0.6 0.6-0.4 0-1.6 1.4-1 0.3-0.7 0.7-1 0.3-0.7 0.7-1 0.3-0.3 0.3-0.3 0-0.7 0.7-0.3 0-0.4 0.3-0.3 0-0.3 0.4-0.4 0-0.3 0.3-0.3 0-0.4 0.3-0.3 0-0.3 0.4-0.4 0-0.3 0.3-0.3 0-1.7 1-0.7 0-1.6 1-0.7 0-1.7 1-0.6 0-0.4 0.3-0.6 0-1 0.7-0.7 0-0.3 0.3-0.7 0-0.3 0.4-0.7 0-0.3 0.3-0.7 0-0.3 0.3-0.7 0-0.3 0.4-0.7 0-0.3 0.3-0.7 0-0.3 0.3-1 0-0.4 0.4-0.6 0-0.4 0.3-1 0-0.3 0.3-1 0-0.3 0.4-1 0-0.4 0.3-1 0-0.3 0.3-1.3 0-0.4 0.4-1.3 0-0.3 0.3-1.4 0-0.3 0.3-1.7 0-0.3 0.4-2 0-0.3 0.3-2.4 0-0.3 0.3-2.7 0-0.3 0.3-4 0.1-0.3 0.3-14 0-0.4-0.3-4-0.1-0.3-0.3-3 0-0.3-0.3-2 0-0.4-0.4-2 0-0.3-0.3-1.7 0-0.3-0.3-1.3 0-0.4-0.4-1.3 0-0.3-0.3-1.4 0-0.3-0.3-1 0-0.3-0.4-1 0-0.4-0.3-1 0-0.3-0.3-1 0-0.3-0.4-1 0-0.4-0.3-0.6 0-0.4-0.3-0.6 0-0.4-0.4-1 0-0.3-0.3-0.7 0-0.3-0.3-0.7 0-0.3-0.4-0.7 0-1-0.6-0.6 0-0.4-0.4-0.6 0-0.4-0.3-0.3 0-0.3-0.3-0.7 0-1-0.7-0.7 0-1.6-1-0.7 0-0.3-0.3-0.4 0-0.3-0.4-0.3 0-0.4-0.3-0.3 0-0.3-0.3-0.4 0-0.3-0.4-0.3 0-0.4-0.3-0.3 0-0.3-0.3-0.4 0-0.3-0.4-0.3 0-0.4-0.3-0.3 0-0.3-0.3-0.4 0-0.3-0.4-1-0.3-0.7-0.7-1-0.3-0.6-0.7-1-0.3-0.7-0.7-0.3 0-0.7-0.6-1-0.4-1-1-0.3 0-0.7-0.6-0.3 0-0.7-0.7-0.3 0-1-1-0.4 0-3-2.7-0.3 0-2.3-2.3-0.4 0-5.5-5.5 0-0.4-2.3-2.3 0-0.3-1.4-1.4 0-0.3-1-1 0-0.3-1-1 0-0.4-1-1 0-0.3-0.6-0.7 0-0.3-0.7-0.7-0.3-1-1.4-1.6 0-0.4-0.3-0.3-0.3-1-0.7-0.7-0.3-1-0.4-0.3 0-0.3-0.6-1 0-0.4-0.4-0.3-0.3-1-0.3-0.3 0-0.4-0.4-0.3 0-0.7-1-1.6 0-0.7-0.6-1 0-0.7-0.7-1 0-0.6-0.3-0.4 0-0.6-0.4-0.4 0-0.6-0.3-0.4 0-0.6-0.3-0.4 0-1-0.4-0.3 0-0.7-0.3-0.3 0-1-0.3-0.3 0-1-0.4-0.4 0-1.3-0.3-0.3 0-1.4-0.3-0.3 0-1.3-0.4-0.4 0-2-0.3-0.3 0-2.3-0.3-0.4 0-4-0.4-0.3 0-7.3 0.4-0.4 0-4 0.3-0.3 0-2.3 0.3-0.4 0-2 0.4-0.3 0-1.3 0.3-0.4 0-1.3 0.3-0.3 0-1.4 0.4-0.3 0-1 0.3-0.3 0-1 0.3-0.4 0-0.6 0.4-0.4 0-0.6 0.3-0.4 0-1 0.3-0.3 0-0.7 0.4-0.3 0-0.7 0.6-1 0-0.6 0.4-0.4 0-0.6 0.6-1 0-0.7 1-1.7 0-0.6 1-1.7 0.4-1 0.6-1 0-0.3 0.4-0.4 0-0.3 0.6-0.7 0-0.3 0.7-1 0-0.3 0.7-0.7 0.3-1 1.3-1.7 0-0.3 1.4-1.7 0-0.3 0.6-0.7 0-0.3 1-1 0-0.3 1-1 0-0.4 1.7-1.6 0-0.4 2.3-2.3 0-0.3 4.9-4.9 0.3 0 2.4-2.3 0.3 0 1.7-1.7 0.3 0 1-1 0.3 0 2.4-2 0.3 0 0.7-0.7 0.3 0 0.7-0.6 0.3 0 1.7-1.4 0.3 0 0.7-0.6 1-0.4 0.6-0.6 1-0.4 0.4-0.3 0.3 0 0.7-0.7 0.3 0 1-0.6 0.3 0 0.4-0.4 0.3 0 1.7-1 0.3 0 0.3-0.3 0.4 0 1-0.7 0.3 0 0.3-0.3 0.7 0 0.3-0.3 1-0.4 1-0.6 0.7 0 0.3-0.4 0.4 0 0.3-0.3 0.7 0 1-0.7 0.6 0 0.4-0.3 0.6 0 0.4-0.3 0.6 0 0.4-0.4 0.6 0 0.4-0.3 0.6 0 0.4-0.3 0.6 0 0.4-0.4 0.6 0 0.4-0.3 0.6 0 0.4-0.3 1 0 0.3-0.4 0.7 0 0.3-0.3 1 0 0.3-0.3 1 0 0.4-0.4 1 0 0.3-0.3 1 0 0.3-0.3 1.4 0 0.3-0.4 1.3 0 0.4-0.3 1.6 0 0.4-0.3 1.6 0 0.4-0.4 1.6 0 0.4-0.3 2.3 0 0.3-0.3 3 0 0.4-0.4zM284.2 166.4l-0.4 0.3-3.3 0-0.3 0.4-2 0-0.4 0.3-1.6 0-0.4 0.3-1.6 0-0.4 0.4-1 0-0.3 0.3-1.3 0-0.4 0.3-0.6 0-0.4 0.4-1 0-0.3 0.3-1 0-0.3 0.3-0.7 0-0.3 0.4-0.7 0-0.3 0.3-0.7 0-1 0.7-0.7 0-0.3 0.3-0.7 0-0.3 0.3-0.5 0.1 0.8 0.5 0.7 0 1 0.7 0.7 0 0.3 0.3 0.7 0 0.3 0.3 0.7 0 0.3 0.4 0.7 0 0.3 0.3 0.7 0 0.3 0.3 1 0 0.3 0.4 1 0 0.4 0.3 1 0 0.3 0.3 1.3 0 0.4 0.4 1.3 0 0.3 0.3 1.7 0 0.3 0.3 2 0 0.4 0.4 3 0 0.3 0.3 13 0 0.3-0.3 3 0 0.4-0.4 2 0 0.3-0.3 1.7 0 0.3-0.3 1.7 0 0.3-0.4 1 0 0.3-0.3 1.4 0 0.3-0.3 0.7 0 0.3-0.4 1 0 0.3-0.3 0.7 0 0.3-0.3 1 0 0.4-0.4 0.6 0 0.4-0.3 0.6 0 1-0.7 0.7 0 1-0.6 0.8-0.2-0.8-0.1-1-0.7-0.7 0-0.3-0.3-0.7 0-0.3-0.3-0.7 0-0.3-0.4-0.7 0-0.3-0.3-0.7 0-0.3-0.3-0.7 0-0.3-0.4-1 0-0.3-0.3-1 0-0.4-0.3-1 0-0.3-0.4-1.3 0-0.4-0.3-1.3 0-0.3-0.3-1.7 0-0.3-0.3-2.4-0.1-0.3-0.3-3 0-0.3-0.3z"/><path fill="#670067" d="M306.3 98.8l4.9-0.1 5 0.1 5 0.4 5 0.7 5 0.9 4.3 1 4.7 1.4 4.6 1.7 4.4 1.9 4 2 4 2.4 3.9 2.6 3.4 2.7 3.3 3 3 3.2 2.7 3.2 1 1.3 0 0.3 0.7 0.7 0 0.3 0.6 0.7 0 0.3 0.7 0.7 0.3 1 0.7 0.6 0 0.4 0.3 0.3 0 0.3 0.7 0.7 0.3 1 0.4 0.3 0 0.4 0.3 0.3 0 0.3 0.3 0.4 0 0.3 0.4 0.3 0 0.4 0.3 0.3 0 0.3 0.3 0.4 0 0.3 0.4 0.3 0 0.4 0.3 0.3 0 0.7 0.7 1 0 0.3 0.3 0.3 0 0.7 0.7 1 0 0.7 0.3 0.3 0 0.7 0.4 0.3 0 0.7 0.3 0.3 0 0.7 0.3 0.3 0 0.7 0.4 0.3 0 0.7 0.3 0.3 0 0.7 0.3 0.3 0 1 0.4 0.3 0 1 0.3 0.4 0 1 0.3 0.3 0 1.3 0.4 0.4 0 1.3 0.3 0.3 0 1.7 0.3 0.3 0 2 0.4 0.4 0 2.6 0.3 0.4 0 6.3 0 7-0.3 0.3 0 2.7-0.4 0.3 0 2-0.3 0.4 0 1.6-0.3 0.4 0 1.3-0.4 0.3 0 1.4-0.3 0.3 0 1-0.3 0.3 0 1-0.4 0.4 0 1-0.3 0.3 0 0.7-0.3 0.3 0 0.7-0.4 0.3 0 1-0.3 0.3 0 0.7-0.7 1 0 0.7-0.3 0.3 0 0.7-0.7 1 0 0.6-0.3 0.4 0 0.3-0.6 1-0.1 0.7-0.3 0.3 0 0.3-0.3 0.4 0 0.3-0.3 0.3-0.1 0.4-0.3 0.3 0 0.3-0.3 0.4 0 0.3-0.3 0.3-0.1 0.4-0.3 0.3 0 0.3-0.3 0.4-0.4 1-0.6 0.6 0 0.4-0.3 0.3-0.4 1-1.3 1.7 0 0.3-0.7 0.7 0 0.3-0.6 0.7 0 0.3-0.7 0.7 0 0.3-0.7 0.7 0 0.3-1 1 0 0.3-1.3 1.4 0 0.3-1.7 1.7 0 0.3-4 4 0 0.4-0.4 0-4.3 4.3-0.3 0-1.7 1.7-0.3 0-1 1-0.4 0-1.3 1.3-0.3 0-0.7 0.7-0.3 0-1 1-0.4 0-0.6 0.7-0.4 0-1.6 1.3-1 0.3-0.7 0.7-0.3 0-0.4 0.3-0.3 0-0.7 0.7-1 0.3-0.3 0.4-0.3 0-0.7 0.6-0.3 0-0.4 0.4-0.3 0-0.3 0.3-0.4 0-0.3 0.3-0.3 0-0.4 0.4-0.3 0-0.3 0.3-0.4 0-0.3 0.3-0.3 0-1.7 1-0.7 0-1.6 1-0.7 0-1.7 1-0.6 0-0.4 0.3-0.6 0.1-1 0.6-0.7 0-0.3 0.3-0.7 0.1-0.3 0.3-0.7 0-0.3 0.3-0.7 0-0.3 0.3-0.7 0.1-0.3 0.3-0.7 0-0.3 0.3-0.7 0-0.3 0.3-1 0.1-0.4 0.3-0.6 0-0.4 0.3-1 0-0.3 0.3-1 0.1-0.3 0.3-1 0-0.4 0.3-1 0-0.3 0.3-1.3 0-0.4 0.4-1.3 0-0.3 0.3-1.4 0-0.3 0.3-1.7 0-0.3 0.4-2 0-0.3 0.3-2.4 0-0.3 0.3-2.7 0-0.3 0.4-4 0-0.3 0.3-14 0-0.4-0.3-4 0-0.3-0.4-3 0-0.3-0.3-2 0-0.4-0.3-2 0-0.3-0.4-1.7 0-0.3-0.3-1.3 0-0.4-0.3-1.3 0-0.3-0.4-1.4 0-0.3-0.3-1 0-0.3-0.3-1 0-0.4-0.4-1 0-0.3-0.3-1 0-0.3-0.3-1 0-0.4-0.4-0.6 0-0.4-0.3-0.6 0-0.4-0.3-1 0-0.3-0.4-0.7 0-0.3-0.3-0.7 0-0.3-0.3-0.7 0-1-0.7-0.6 0-0.4-0.3-0.6 0-1-0.7-0.7 0-0.3-0.3-0.4 0-0.3-0.4-0.7 0-1.6-1-0.7 0-0.3-0.3-0.4 0-0.3-0.3-0.3 0-0.4-0.4-0.3 0-0.3-0.3-0.4 0-0.3-0.3-0.3 0-0.4-0.4-0.3 0-0.3-0.3-0.4 0-0.3-0.3-0.3 0-0.4-0.4-0.3 0-0.3-0.3-0.4 0-0.3-0.3-1-0.4-0.7-0.6-1-0.4-0.6-0.6-1-0.4-1.7-1.3-1-0.4-1-1-0.3 0-0.7-0.6-0.3 0-0.7-0.7-0.3 0-1-1-0.4 0-1.3-1.3-0.3 0-1.4-1.4-0.3 0-2.3-2.3-0.7-0.3-4.3-4.7-3.4-4.3-3.2-5.4-2.5-5.3-1.9-5.7-1.1-5.6-0.6-6 0.2-6 0.8-6.3 1.4-6.1 2.1-6.3 3-6.7 3.6-6.6 4.2-6.4 5-6.4 5.4-6 6-5.9 6.3-5.3 7-5.2 7.1-4.5 7.2-4 7.4-3.4 7.6-3 7.7-2.4 8-1.9 8-1.3zM333.2 162.5l-0.4 0.3 0 0.4-1.6 1.6-0.4 0-1.6 1.7-0.4 0-0.6 0.6-0.4 0-1.6 1.4-0.4 0-0.6 0.6-0.4 0-0.3 0.4-0.3 0-0.4 0.3-0.3 0-0.3 0.3-0.4 0-0.3 0.3-0.3 0-0.4 0.4-0.3 0-1.7 1-1.3-0.3-1-0.6-0.7 0-0.3-0.4-0.7 0-0.3-0.3-0.7 0-0.3-0.3-0.7 0-0.3-0.4-0.7 0-0.3-0.3-0.7 0-0.3-0.3-1 0-0.3-0.4-1 0-0.4-0.3-1 0-0.3-0.3-1.3 0-0.4-0.4-1.3 0-0.3-0.3-1.7 0-0.3-0.3-2.4 0-0.3-0.4-3 0-0.3-0.3-6.4 0-5.6 0-0.4 0.3-3.3 0-0.3 0.4-2 0-0.4 0.3-1.6 0-0.4 0.3-1.6 0.1-0.4 0.3-1 0-0.3 0.3-1.3 0-0.4 0.3-0.6 0.1-0.4 0.3-1 0-0.3 0.3-1 0-0.3 0.3-0.7 0.1-0.3 0.3-0.7 0-0.3 0.3-0.7 0-1 0.7-0.7 0-0.3 0.3-0.7 0-0.3 0.4-1 0.2-0.3-0.3-0.7 0-1-0.7-0.3 0-1.7-1-0.3 0-0.7-0.7-1-0.3-1.7-1.3-0.3 0-0.7-0.7-0.3 0-3-2.7-0.3 0.1 2 2.3 2.6 2.6 3 2.5 3.4 2.4 7.6 4.6 15.9 8.2 6.8 4 5.4 3.7 11.3 9 5.2 3.7 3.8 2 3.3 1.2 3.7 0.9 3.3 0.2 3-0.3 2.7-0.7 2.3-1.1 2.3-1.5 2-2.1 1.4-2 1-2.3 0.5-2.3 0.2-2-0.2-2.4-0.5-2.3-0.8-2.3-1.1-2.4-1.2-2-3.7-4.6-0.1-0.7-0.3-0.3-0.1-1-0.3-0.4 0-1.6-0.4-0.4 0-2.6-0.3-0.4 0-3.6 0.3-0.4 0-3 0.3-0.3 0-1.7 0.4-0.3 0-1 0.3-0.3z"/><path fill="#790079" d="M309.6 103.8l5.2-0.1 5.4 0.1 5 0.4 5.3 0.7 5 1 5 1.2 4.7 1.6 4.6 1.8 4.4 2.1 4.3 2.4 4 2.6 3.7 2.8 3.3 2.9 3.3 3.5 3 3.6 2.4 3.3 2.3 4 1 2 0 0.5 1 1.6 0 0.7 0.7 1 0 0.7 0.3 0.3 0 0.7 0.3 0.3 0 0.7 0.4 0.3 0 0.7 0.3 0.3 0 0.7 0.3 0.3 0 0.7 0.4 0.3 0 0.7 0.3 0.3 0 1 0.3 0.3 0 1 0.4 0.4 0 1 0.3 0.3 0 1.3 0.3 0.4 0.1 1.3 0.3 0.3 0 1.7 0.3 0.3 0 2 0.3 0.4 0.1 2.6 0.3 0.4 0 13.3-0.3 0.3 0 2.7-0.4 0.3 0 2-0.3 0.4 0 1.6-0.3 0.4 0 1.3-0.4 0.3 0 1.4-0.3 0.3 0 1-0.3 0.3 0 1-0.4 0.4 0 1-0.3 0.3 0 0.7-0.3 0.3 0 0.7-0.4 0.3 0 1-0.3 0.3 0 0.7-0.7 1 0 0.7-0.3 0.3 0 0.7-0.7 1 0 0.6-0.3 0.4 0 0.3-0.7 1 0 0.7-0.3 0.3 0 0.3-0.3 0.4 0 0.3-0.4 0.3 0 0.4-0.3 0.3 0 0.3-0.3 0.4 0 0.3-0.4 0.3 0 0.4-0.3 0.3 0 0.3-0.3 0.4-0.4 1-0.6 0.6 0 0.4-0.4 0.3-0.3 1-1.3 1.7 0 0.3-0.7 0.7 0 0.3-0.7 0.7 0 0.3-0.6 0.7 0 0.3-0.7 0.7 0 0.3-1 1 0 0.3-1.3 1.4 0 0.3-1.7 1.7 0 0.3-4 4 0 0.4-0.4 0-4.3 4.3-0.3 0-1.7 1.7-0.3 0-1 1-0.4 0-1.3 1.3-0.3 0-0.7 0.7-0.3 0-1 1-0.4 0-0.6 0.6-0.4 0-1.6 1.4-1 0.3-0.7 0.7-1 0.3-0.7 0.7-1 0.3-0.3 0.3-0.3 0-0.7 0.7-0.3 0-0.4 0.3-0.3 0-0.3 0.4-0.4 0-0.3 0.3-0.3 0-0.4 0.3-0.3 0-0.3 0.4-0.4 0-0.3 0.3-0.3 0-1.7 1-0.7 0-1.6 1-0.7 0-1.7 1-0.6 0-0.4 0.3-0.6 0-1 0.7-0.7 0-0.3 0.3-0.7 0-0.3 0.4-0.7 0-0.3 0.3-0.7 0-0.3 0.3-0.7 0-0.3 0.4-0.7 0-0.3 0.3-0.7 0-0.3 0.3-1 0-0.4 0.4-0.6 0-0.4 0.3-1 0-0.3 0.3-1 0-0.3 0.4-1 0-0.4 0.3-1 0-0.3 0.3-1.3 0-0.4 0.4-1.3 0-0.3 0.3-1.4 0-0.3 0.3-1.7 0-0.3 0.4-2 0-0.3 0.3-2.4 0-0.3 0.3-2.7 0-0.3 0.4-4 0-0.3 0.3-14 0-0.4-0.3-4 0-0.3-0.4-3 0-0.3-0.3-2 0-0.4-0.3-2 0-0.3-0.4-1.7 0-0.3-0.3-1.3 0-0.4-0.3-1.3 0-0.3-0.4-1.4 0-0.3-0.3-1 0-0.3-0.3-1 0-0.4-0.4-1 0-0.3-0.3-1 0-0.3-0.3-1-0.1-0.4-0.3-0.6 0-0.4-0.3-0.6 0-0.4-0.3-1-0.1-0.3-0.3-0.7 0-0.3-0.3-0.7 0-0.3-0.3-0.7-0.1-1-0.6-0.6 0-0.4-0.3-0.6-0.1-1-0.6-0.7 0-0.3-0.3-0.4-0.1-0.3-0.3-0.7 0-1.6-1-0.7 0-0.3-0.3-0.4 0-0.3-0.4-0.3 0-0.4-0.3-0.3 0-0.3-0.3-0.4 0-0.3-0.4-0.3 0-0.4-0.3-0.3 0-0.3-0.3-0.4 0-0.3-0.4-0.3 0-0.4-0.3-0.3 0-0.3-0.3-0.4 0-0.3-0.4-1-0.3-0.7-0.7-1-0.3-0.6-0.7-1-0.3-1.7-1.3-0.3 0-1-0.7-0.7-0.7-0.3 0-3-2.3-4.5-4-3.7-4-3.5-4.6-2.9-4.7-2.4-5-1.7-5-1.1-5-0.6-5.4-0.1-5.3 0.6-5.7 1-5.3 1.7-5.7 2.3-5.6 2.8-5.7 3.4-5.8 4.1-5.9 4.6-5.6 5.2-5.7 5.4-5.2 6-5.1 6.3-4.7 6.4-4.2 6.7-3.9 7-3.6 7-3 7-2.5 7.3-2.1 7-1.6 7-1.1zM333.2 162.5l-0.4 0.3 0 0.4-1.6 1.6-0.4 0-1.6 1.6-0.4 0-0.6 0.7-0.4 0-1.6 1.3-0.4 0-0.6 0.7-0.4 0-0.3 0.3-0.3 0-0.4 0.3-0.3 0-0.3 0.4-0.4 0-0.3 0.3-0.3 0-0.4 0.3-0.3 0-1.7 1-1.3-0.2-1-0.6-0.7-0.1-0.3-0.3-0.7 0-0.3-0.3-0.7 0-0.3-0.3-0.7-0.1-0.3-0.3-0.7 0-0.3-0.3-0.7 0-0.3-0.3-1 0-0.3-0.4-1 0-0.4-0.3-1 0-0.3-0.3-1.3 0-0.4-0.4-1.3 0-0.3-0.3-1.7 0-0.3-0.3-2.4 0-0.3-0.4-3 0-0.3-0.3-7.4 0-4.6 0-0.4 0.3-3.3 0-0.3 0.4-2 0-0.4 0.3-1.6 0-0.4 0.3-1.6 0-0.4 0.4-1 0-0.3 0.3-1.3 0-0.4 0.3-0.6 0-0.4 0.4-1 0-0.3 0.3-1 0-0.3 0.3-0.7 0-0.3 0.4-0.7 0-0.3 0.3-0.7 0-1 0.7-0.7 0-0.3 0.3-0.7 0-0.3 0.3-1 0.2-0.3-0.3-0.7 0-1-0.7-0.3 0-1.7-1-0.3 0-0.7-0.6-1-0.4-1.7-1.3-0.3 0-0.7-0.7-0.3 0-1.3-1.3-0.4 0-2.6-2.6-0.3 0 1.3 2.6 2.3 3.3 3 3.3 3.3 3 6.4 5 12.8 8.8 5.9 4.4 5.3 4.3 10.4 9 4.6 3.5 5.3 3.4 5 2.3 5 1.4 5 0.4 3.7-0.3 3.3-0.8 3.3-1.3 3-1.9 2.4-2 2.1-2.7 1.5-2.9 0.9-3.1 0.3-2.7-0.1-2.6-0.6-3-0.9-2.7-1.2-2.3-1.4-2.4-2.4-3-2.9-2.9-0.1-0.4-0.3-0.3-0.1-1-0.3-0.4-0.1-1.6-0.3-0.4 0-2.6-0.4-0.4 0-3.6 0.3-0.4 0-3 0.4-0.3 0-1.7 0.3-0.3 0-1 0.3-0.3z"/><path fill="#8b008b" d="M311.9 109.8l5.3-0.2 5.3 0.1 5 0.3 5 0.6 5 0.9 4.7 1.1 5 1.6 4.3 1.6 4.3 2 4 2.2 4 2.6 3.5 2.6 3.5 3 3 3.1 3 3.5 2.4 3.3 2.6 4.4 2 4.2 1.7 4.5 0.3 1.6 0.4 0.6 0 0.8 0.3 0.5 0 1.1 0.3 0.4 0 1.3 0.4 0.3 0 1.7 0.3 0.3 0 2 0.3 0.4 0 2.6 0.4 0.4 0 13.3-0.3 0.3-0.1 2.7-0.3 0.3 0 2-0.3 0.4 0 1.6-0.3 0.4 0 1.3-0.4 0.3 0 1.4-0.3 0.3 0 1-0.3 0.3 0 1-0.4 0.4 0 1-0.3 0.3 0 0.7-0.3 0.3 0 0.7-0.4 0.3 0 1-0.3 0.3 0 0.7-0.3 0.3 0 0.4-0.4 0.3 0 0.7-0.3 0.3 0 0.7-0.7 1 0 0.6-1 1.7 0 0.7-0.3 0.3 0 0.3-0.3 0.4 0 0.3-0.4 0.3 0 0.4-0.3 0.3 0 0.3-0.3 0.4 0 0.3-0.4 0.3 0 0.4-0.3 0.3 0 0.3-0.3 0.4-0.4 1-0.6 0.6 0 0.4-0.4 0.3-0.3 1-1.3 1.7 0 0.3-0.7 0.7 0 0.3-0.7 0.7 0 0.3-0.6 0.7 0 0.3-0.7 0.7 0 0.3-1 1 0 0.3-1.3 1.4 0 0.3-1.7 1.7 0 0.3-4 4 0 0.4-0.4 0-4.3 4.3-0.3 0-1.7 1.7-0.3 0-1 1-0.4 0-1.3 1.3-0.3 0-0.7 0.7-0.3 0-1 1-0.4 0-0.6 0.6-0.4 0-1.6 1.4-1 0.3-0.7 0.7-1 0.3-0.7 0.7-1 0.3-0.3 0.3-0.3 0-0.7 0.7-0.3 0-0.4 0.3-0.3 0-0.3 0.4-0.4 0-0.3 0.3-0.3 0-0.4 0.3-0.3 0-0.3 0.4-0.4 0-0.3 0.3-0.3 0-1.7 1-0.7 0-1.6 1-0.7 0-1.7 1-0.6 0-0.4 0.3-0.6 0-1 0.7-0.7 0-0.3 0.3-0.7 0-0.3 0.4-0.7 0-0.3 0.3-0.7 0-0.3 0.3-0.7 0-0.3 0.4-0.7 0-0.3 0.3-0.7 0-0.3 0.3-1 0-0.4 0.4-0.6 0-0.4 0.3-1 0-0.3 0.3-1 0-0.3 0.4-1 0-0.4 0.3-1 0-0.3 0.3-1.3 0-0.4 0.4-1.3 0-0.3 0.3-1.4 0-0.3 0.3-1.7 0-0.3 0.4-2 0-0.3 0.3-2.4 0-0.3 0.3-2.7 0-0.3 0.4-4 0-0.3 0.3-14 0-0.4-0.3-4-0.1-0.3-0.3-3 0-0.3-0.3-2 0-0.4-0.3-2-0.1-0.3-0.3-1.7 0-0.3-0.3-1.3 0-0.4-0.4-1.3 0-0.3-0.3-1.4 0-0.3-0.3-1 0-0.3-0.4-1 0-0.4-0.3-1 0-0.3-0.3-1 0-0.3-0.4-1 0-0.4-0.3-0.6 0-0.4-0.3-0.6 0-0.4-0.4-1 0-0.3-0.3-0.7 0-0.3-0.3-0.7 0-0.3-0.4-0.7 0-1-0.6-0.6 0-0.4-0.4-0.6 0-1-0.6-0.7 0-0.3-0.4-0.4 0-0.3-0.3-0.6 0-7.4-3.7-5-3-5-3.6-4.3-3.7-3.8-4-3.2-4-3.1-4.7-2.3-4.6-1.9-5-1.2-5-0.7-5 0-5 0.4-5.4 1.1-5.3 1.6-5.3 2.1-5.2 2.6-5.3 3.4-5.5 4-5.6 4.6-5.6 5-5.3 5.7-5.4 5.8-4.8 6.2-4.6 6.7-4.4 6.6-3.8 7-3.6 7-3 7-2.6 7-2.1 7-1.6 7-1.2zM246.8 162.4l0 0.4 0.3 0.4 0 0.6 0.3 0.4 0.1 1 0.3 0.3 0 1.7 1.4 3.1 3 4.3 4.3 4.8 5 4.7 13.2 11.7 15.9 14.7 6.5 5 3.1 2 3 1.6 5.6 2.2 3 0.8 3 0.6 3 0.2 3 0 3-0.3 2.7-0.5 2.7-0.8 2.6-1 2.4-1.3 2.3-1.5 2-1.7 1.9-2 1.5-2 1.3-2.2 1.2-3.1 0.6-3 0.1-3.3-0.4-3.4-1.4-4.3-2.4-4.3-3.4-4.4-4.3-4-0.1-0.6-0.3-0.4-0.1-1.6-0.3-0.4-0.1-2.6-0.3-0.4 0-3.6 0.3-0.4 0-3 0.3-0.3 0-1.7 0.3-0.3 0-1 0.3-0.3 0-0.8-0.4 0.4 0 0.4-1.6 1.5-0.4 0-1.6 1.7-0.4 0-0.6 0.6-0.4 0-1.6 1.4-0.4 0-0.6 0.6-0.4 0-0.3 0.4-0.3 0-0.4 0.3-0.3 0-0.3 0.3-0.4 0-0.3 0.3-0.3 0-0.4 0.4-0.3 0-1.7 0.9-1.3-0.1-1-0.7-0.7 0-0.3-0.3-0.7 0-0.3-0.3-0.7 0-0.3-0.4-0.7 0-0.3-0.3-0.7 0-0.3-0.3-0.7 0-0.3-0.4-1 0-0.3-0.3-1 0-0.4-0.3-1 0-0.3-0.3-1.3-0.1-0.4-0.3-1.3 0-0.3-0.3-1.7 0-0.3-0.3-2.4-0.1-0.3-0.3-3 0-0.3-0.3-9.4 0-2.6 0-0.4 0.3-3.3 0-0.3 0.4-2 0-0.4 0.3-1.6 0-0.4 0.3-1.6 0-0.4 0.4-1 0-0.3 0.3-1.3 0-0.4 0.3-0.6 0-0.4 0.4-1 0-0.3 0.3-1 0-0.3 0.3-0.7 0-0.3 0.4-0.7 0-0.3 0.3-0.7 0-1 0.7-0.7 0-0.3 0.3-0.7 0-0.3 0.3-1 0.2-0.3-0.3-0.7 0-1.7-1-0.3 0-0.3-0.4-0.4 0-0.3-0.3-0.3 0-0.7-0.7-1-0.3-1.7-1.3-0.3 0-0.7-0.7-0.3 0-1.3-1.3-0.4 0z"/><path fill="#9d009d" d="M318.4 116.5l5.4 0 5 0.2 5 0.5 5 0.9 4.7 1 4.7 1.4 4.3 1.6 4.3 1.9 4 2.2 3.7 2.3 3.7 2.7 3.3 2.8 3 3 3 3.6 2.3 3.3 2.4 3.9 1.6 3.4 1.7 4.2 1 3.2 1 4.4 0.7 4.8 0 10.7-0.4 0.3 0 2.7-0.3 0.3 0 2-0.3 0.4 0 1.6-0.4 0.4 0 1.3-0.3 0.3 0 1.4-0.3 0.3 0 1-0.4 0.3 0 1-0.3 0.4 0 1-0.3 0.3 0 0.7-0.4 0.3 0 0.7-0.3 0.3 0 1-0.3 0.3 0 0.7-0.7 1 0 0.7-0.3 0.3 0 0.7-0.7 1 0 0.6-0.3 0.4 0 0.3-0.7 1 0 0.7-0.3 0.3 0 0.3-0.3 0.4-0.1 0.3-0.3 0.3 0 0.4-0.3 0.3 0 0.3-0.3 0.4 0 0.3-0.4 0.3 0 0.4-0.3 0.3 0 0.3-0.3 0.4-0.4 1-0.6 0.6 0 0.4-0.4 0.3-0.3 1-1.3 1.7 0 0.3-0.7 0.7 0 0.3-0.7 0.7 0 0.3-0.6 0.7 0 0.3-0.7 0.7 0 0.3-1 1 0 0.3-1.3 1.4 0 0.3-1.7 1.7 0 0.3-4 4 0 0.3-0.4 0.1-4.3 4.3-0.3 0-1.7 1.7-0.3 0-1 1-0.4 0-1.3 1.3-0.3 0-0.7 0.7-0.3 0-1 1-0.4 0-0.6 0.6-0.4 0-1.6 1.4-1 0.3-0.7 0.7-1 0.3-0.7 0.7-1 0.3-0.3 0.3-0.3 0-0.7 0.7-0.3 0-0.4 0.3-0.3 0-0.3 0.4-0.4 0-0.3 0.3-0.3 0-0.4 0.3-0.3 0-0.3 0.4-0.4 0-0.3 0.3-0.3 0-1.7 1-0.7 0-1.6 1-0.7 0-1.7 1-0.6 0-0.4 0.3-0.6 0-1 0.7-0.7 0-0.3 0.3-0.7 0-0.3 0.4-0.7 0-0.3 0.3-0.7 0-0.3 0.3-0.7 0-0.3 0.4-0.7 0-0.3 0.3-0.7 0-0.3 0.3-1 0-0.4 0.3-0.6 0.1-0.4 0.3-1 0-0.3 0.3-1 0-0.3 0.3-1 0.1-0.4 0.3-1 0-0.3 0.3-1.3 0-0.4 0.3-1.3 0.1-0.3 0.3-1.4 0-0.3 0.3-1.7 0-0.3 0.3-2 0.1-0.3 0.3-2.4 0-0.3 0.3-2.7 0-0.3 0.3-4 0-0.3 0.4-14 0-0.4-0.4-4 0-0.3-0.3-3 0-0.3-0.3-2 0-0.4-0.4-1.9 0-0.4-0.3-1.5 0-0.5-0.3-1.2 0-0.5-0.4-1.1 0-0.5-0.3-1 0-0.7-0.3-0.7 0-0.6-0.4-0.7 0-0.7-0.3-1.7-0.3-8.9-3-8-3.7-4.2-2.3-3.7-2.4-4.5-3.3-4.2-3.7-3.6-3.6-3.2-4-2.8-4.4-2.1-4.3-1.8-4.7-1.1-4.6-0.7-4.7 0-4.7 0.4-4.6 1-5 1.5-5 2-4.8 2.5-4.9 3.1-5 3.7-5 4.3-5.1 5-5.2 5.4-4.9 5.6-4.6 6.4-4.6 6.3-4.1 6.7-3.9 6.6-3.4 6.7-2.9 6.8-2.6 6.9-2.2 7-1.8 6.6-1.3 7-1zM246.8 162.3l-0.1 0.5 0.3 0.4 0 0.6 0.4 0.4 0 1 0.3 0.3 0.1 2 0.3 0.3 0.1 7.4 1.6 3.3 3.4 4.7 4.3 4.9 6 6.4 10 10.4 6.4 6.3 4.3 3.7 4.1 3.3 3.9 2.6 4 2.3 3.3 1.5 3.7 1.4 3.3 0.9 3.7 0.7 3.6 0.4 3.4 0 3.6-0.3 3.4-0.6 3.3-0.9 3.3-1.2 3-1.5 2.7-1.7 2.7-2 2.2-2.3 1.9-2.3 1.6-2.7 1.5-3.7 0.8-3.6 0.1-3.7-0.6-4-0.8-2.7-0.9-2.3-1.5-2.7-1.5-2.3-1.9-2.3-2.2-2.4-5.1-4.2 0-1.4-0.4-0.4 0-2.6-0.4-0.4 0-3.6 0.3-0.4 0-3 0.3-0.3 0-1.7 0.3-0.3 0-1 0.4-0.3-0.1-0.8-0.5 0.4 0 0.4-1.5 1.5-0.4 0-1.6 1.7-0.4 0-0.6 0.6-0.4 0-1.6 1.3-0.4 0-0.6 0.7-0.4 0-0.3 0.3-0.3 0-0.4 0.3-0.3 0-0.3 0.4-0.4 0-0.3 0.3-0.3 0-0.4 0.3-0.3 0-1.7 0.9-0.5 0-7.8-2.7-2-0.3-0.7-0.3-0.8 0-0.5-0.4-1.1 0-0.6-0.3-1.3 0-0.3-0.3-1.7 0-0.3-0.4-2.4 0-0.3-0.3-3 0-0.3-0.3-12 0-0.4 0.3-3.3 0-0.3 0.3-2 0.1-0.4 0.3-1.6 0-0.4 0.3-1.6 0-0.4 0.3-1 0.1-0.3 0.3-1.3 0-0.4 0.3-0.6 0-0.4 0.3-1 0.1-0.3 0.3-1 0-0.3 0.3-0.7 0-0.3 0.4-0.7 0-0.3 0.3-0.7 0-1 0.6-0.7 0.1-0.3 0.3-0.7 0-0.3 0.3-1 0.1-0.3-0.3-0.7 0-1.7-1-0.3 0-0.3-0.3-0.4 0-0.3-0.3-0.3 0-0.7-0.7-1-0.3-1.7-1.4-0.3 0-0.7-0.6-0.3 0-1.3-1.4-0.4 0z"/><path fill="#ae00ae" d="M316.1 124.5l5.4-0.3 5 0.1 5 0.2 5 0.6 4.7 0.9 4.6 1.1 4.4 1.3 4.3 1.7 4 1.8 4 2.3 3.7 2.4 3.3 2.6 3 2.7 3 3.2 2.3 2.9 2.4 3.5 2 3.6 1.6 3.6 1.4 3.8 1.2 4.7 0.7 4.3 0.3 4 0.1 4-0.3 4.6-0.7 4.5-0.3 0.9 0 0.8-0.4 0.5 0 0.9-0.3 0.5 0 0.8-0.3 0.5 0 0.7-0.4 0.3 0 0.7-0.3 0.3 0 1-0.3 0.3 0 0.7-0.7 1 0 0.7-0.3 0.3 0 0.7-0.7 1 0 0.6-1 1.7 0 0.7-0.3 0.3 0 0.3-0.4 0.4 0 0.3-0.3 0.3 0 0.4-0.3 0.3 0 0.3-0.4 0.4 0 0.3-0.3 0.3 0 0.4-0.3 0.3 0 0.3-0.4 0.4-0.3 1-0.7 0.6 0 0.4-0.3 0.3-0.3 1-1.4 1.7 0 0.3-0.6 0.7 0 0.3-0.7 0.7 0 0.3-0.7 0.7 0 0.3-0.6 0.7 0 0.3-1 1 0 0.3-1.4 1.4 0 0.3-1.6 1.7 0 0.3-4 4 0 0.3-0.4 0-4.3 4.4-0.3 0-1.7 1.6-0.3 0-1 1-0.4 0-1.3 1.4-0.3 0-0.7 0.6-0.3 0-1 1-0.4 0-0.6 0.7-0.4 0-1.6 1.3-1 0.4-0.7 0.6-1 0.4-0.7 0.6-1 0.4-0.3 0.3-0.3 0-0.7 0.7-0.3 0-0.4 0.3-0.3 0-0.3 0.3-0.4 0-0.3 0.4-0.3 0-0.4 0.3-0.3 0-0.3 0.3-0.4 0-0.3 0.4-0.3 0-1.7 1-0.7 0-1.6 1-0.7 0-1.7 1-0.6 0-0.4 0.3-0.6 0-1 0.7-0.7 0-0.3 0.3-0.7 0-0.3 0.3-0.7 0-0.3 0.4-0.7 0-0.3 0.3-0.7 0-0.3 0.3-0.7 0-0.3 0.4-0.7 0-0.3 0.3-1 0-0.4 0.3-0.6 0-0.4 0.4-1 0-0.3 0.3-1 0-0.3 0.3-1 0-0.4 0.4-1 0-0.3 0.3-1.3 0-0.4 0.3-1.3 0-0.3 0.4-1.4 0-0.3 0.3-1.7 0-0.4 0.3-1.9 0-0.3 0.4-2.4 0-0.4 0.3-2.6 0-0.9 0.3-3.4 0-0.7 0.2-2.6 0.2-4.7 0-10.3-0.7-8.8-1.3-9.7-2.4-8.7-3-4.6-2-4-2-4.1-2.3-3.6-2.3-4.3-3.4-3.8-3.3-3.4-3.7-2.8-3.6-2.6-4-2-4-1.5-4-1-4.4-0.6-4.3-0.1-4.3 0.4-4.4 0.8-4.4 1.4-4.3 1.9-4.6 2.3-4.3 2.8-4.4 3.4-4.6 4.1-4.7 4.5-4.4 5-4.5 5.3-4.2 6-4.2 6-3.9 6.3-3.6 6.4-3.2 6.6-3.1 6.7-2.6 6.7-2.2 6.6-1.9 6.4-1.4 6.6-1.1zM246.8 162.3l-0.2 0.2 0 0.3 0.3 0.4 0.1 0.6 0.3 0.4 0 1 0.3 0.3 0.1 2 0.3 0.3 0.1 8-0.3 0.4 0 2-0.4 0.3 0 1-0.3 0.3 0 1-0.6 1-0.1 1 0.5 1.7 1.6 2.9 3.7 4.9 5.7 6.9 6.6 7.3 6.1 6.3 4.9 4.5 4.7 3.8 4.4 3.1 4.6 2.6 4 1.9 4 1.5 4.3 1.3 4 0.7 4.3 0.5 4 0.1 4.4-0.4 4-0.6 4-1 4-1.5 3.6-1.7 3.4-2.1 3-2.3 2.6-2.6 2.2-2.8 1.9-3 1.6-4 1-4.3 0.1-4.3-0.8-4.4-0.8-2.6-1.3-3-1.6-2.7-1.9-2.7-4-4.3-3-2.6-3.4-2.4 0-0.3-0.3-0.4-0.1-2.6-0.3-0.4-0.1-3.6 0.4-0.4-0.1-3 0.4-0.3-0.1-1.7 0.4-0.3 0-1 0.3-0.3-0.1-0.8-0.5 0.4 0 0.4-1.5 1.5-0.4 0-1.6 1.6-0.4 0-0.6 0.7-0.4 0-1.6 1.3-0.4 0-0.6 0.6-0.4 0-0.3 0.4-0.3 0-0.4 0.3-0.3 0-0.3 0.3-0.4 0-0.3 0.3-0.3 0-1.7 1-7-2.2-7.7-1.7-9.6-1.1-5.4-0.1-6.6 0.1-0.9 0.3-2.8 0-0.3 0.3-2 0-0.4 0.4-1.6 0-0.4 0.3-1.6 0-0.4 0.3-1 0-0.3 0.4-1.3 0-0.4 0.3-0.6 0-0.4 0.3-1 0-0.3 0.4-1 0-0.3 0.3-0.7 0-0.3 0.3-0.7 0-0.3 0.4-0.7 0-1 0.6-0.7 0-0.3 0.4-0.7 0-0.3 0.3-1 0.1-0.3-0.3-0.7 0-1.7-1-0.3 0-0.3-0.4-0.4 0-0.3-0.3-0.3 0-0.7-0.7-1-0.3-1.7-1.3-0.3 0-0.7-0.7-0.3 0-1.3-1.3-0.4 0z"/><path fill="#c001c0" d="M315.2 132.8l10.3-0.1 5 0.3 5 0.5 4.7 0.8 4.3 0.9 4.3 1.3 4 1.4 4 1.7 3.7 1.9 3.3 2.1 3.4 2.4 3 2.5 2.9 3 2.4 2.8 2.3 3.3 2 3.4 1.7 3.5 1.3 3.5 1.1 3.8 0.8 4 0.4 4 0.1 4.4-0.2 4-0.5 3.6-1 4.6-1.3 4.5-1.4 3.5-2 4.4-2.3 4.3-2.3 3.7-2.7 3.7-3 3.6-3.3 3.6-4 3.8-1 0.7-1.4 1.3-0.6 0.3-1.1 1-0.3 0-1 1-1.3 1-0.3 0-0.7 0.7-4 2.7-0.3 0-3.7 2.3-0.3 0-0.4 0.3-2.5 1.4-5.8 2.6-8 3-9.8 2.7-9.2 1.7-6 0.6-4.7 0.3-9.6 0.1-9-0.7-4.8-0.7-5.4-1-9-2.3-5-1.7-4.2-1.6-4.3-2-3.8-2-3.8-2.4-3.8-2.6-3.7-3-3.5-3.4-2.9-3.3-2.5-3.4-2.3-3.9-1.7-3.7-1.2-3.7-0.9-4-0.4-4 0.1-4 0.5-4 0.9-4 1.4-4 1.8-4 2.1-3.6 2.8-4 3.2-4 4-4.2 4.4-4 5-4.1 6-4.4 6.3-4.2 6.3-3.9 6.4-3.4 5.6-2.7 6-2.6 5.7-2.1 6.3-1.9 5.7-1.4 6.3-1.2 5.7-0.8zM246.8 162.2l-0.3 0.3 0 0.3 0.4 0.4 0 0.6 0.3 0.4 0 1 0.4 0.3 0 2 0.3 0.3 0.1 8-0.3 0.4-0.1 2-0.3 0.3 0 1-0.3 0.3-0.1 1-2.3 3.7-0.6 1.3-0.4 1.7-0.1 1.3 0.2 1.7 1.1 3.3 2.4 3.8 4 5.3 5.3 6.2 5.4 5.7 4.6 4.3 4 3.4 4.3 3 5 3 4.7 2.3 4.8 2 4.9 1.7 5.3 1.3 5 0.9 5 0.4 5-0.1 4.7-0.5 4.6-1 4.7-1.5 4.7-2 4-2.4 3.6-2.6 3.4-3.2 2.6-3.2 2.2-3.4 2-4.7 0.6-2.3 0.4-2.7 0.1-2.3-0.1-2.7-0.4-2.7-0.5-2.3-1.1-3-1.6-3.3-2-3-2.1-2.7-2.5-2.7-2.6-2.4-3.4-2.5-3.3-2.2 0-1.5-0.4-0.4 0-3.6 0.3-0.4 0-3 0.3-0.3 0-1.7 0.3-0.3 0-1 0.3-0.3-0.1-0.8-0.5 0.4 0 0.4-1.5 1.5-0.4 0-1.6 1.6-0.4 0-0.6 0.6-0.4 0-1.6 1.3-0.4 0-0.6 0.7-0.4 0-0.3 0.3-0.3 0-0.4 0.3-0.3 0-1.7 1-8-2.4-7-1.5-7.6-0.9-8-0.3-8 0.5-7 1.1-7 1.7-4.7 1.5-3.2 1.3-0.8 0-0.3-0.3-0.7 0-1.7-1-0.3 0-0.3-0.3-0.4 0-0.3-0.3-0.3 0-0.7-0.7-1-0.3-1.7-1.4-0.3 0-0.7-0.6-0.3 0-1.3-1.4-0.4 0z"/><path fill="#d101d1" d="M309.1 137.8l4.4-0.1 4.3 0.1 8.7 0.9 4.7 0.9 4 1 4.3 1.4 4.7 1.7 9.3 4.1 4 2.1 3.7 2.3 3.3 2.4 3 2.5 2.7 2.6 2.3 2.8 2 2.8 1.9 3.2 1.4 3 1.4 3.5 1 3.7 0.6 3.5 0.4 3.6 0 3.4-0.2 3.6-0.5 3.7-0.9 4-1.1 3.5-1.3 3.5-1.7 3.6-1.7 3.1-2.3 3.7-2.7 3.6-2.3 2.8-2.7 2.9-3.1 3-3.5 3-3.2 2.3-7.3 4.7-8 4-8.8 3.3-9.5 2.7-8.8 1.6-9.1 1.1-10 0.3-9.3-0.5-9.4-1.2-8.9-2-4.4-1.3-4.7-1.7-4-1.7-4.1-2-6.7-4-4.9-3.6-4.3-4-3.7-4.4-2.9-4.5-2.3-4.8-1.4-4.7-0.8-5 0.1-5 0.8-4.6 1.6-5 2.2-4.7 2.8-4.3 3.4-4.4 4.2-4.3 5-4.3 6.7-5.2 0 1.5 0.4 0.3 0 6 0 2-0.4 0.4 0 2-0.3 0.3 0 0.5-2.1 2.2-2.1 2.6-1.3 2.4-1 2.3-0.7 2.3-0.2 2.4 0.2 2.3 0.5 2.3 1.3 3.4 2.1 3.6 3 4.4 3.9 4.6 3.5 3.7 3 2.7 3.2 2.3 3.9 2.3 6.6 3.4 8.3 3.6 6.8 2.7 7.2 2.3 6.5 1.7 5.7 1.1 6 0.6 5.7 0.2 4.6-0.4 4.7-1 4.7-1.6 4.3-2.1 4.3-2.7 3.7-2.9 3.6-3.5 2.8-3.7 1.7-2.7 1.4-3 1.1-3 0.7-3 0.4-3 0-3-0.2-3-0.7-3.3-1.3-3.7-1.8-3.6-2.1-3.4-2.6-3.3-3-3-3.3-2.9-3.7-2.6-4.3-2.7-0.1-3.1 0.4-0.4-0.1-3 0.3-0.3 0-1.7 0.3-0.3 0-1 0.3-0.3 0-0.7-0.1-0.2-0.5 0.5 0 0.4-1.5 1.4-0.4 0-1.6 1.7-0.4-0.1-1.6 1.3-0.4 0-0.6 0.7-0.4 0-0.6 0.7-0.4-0.1-1 0.7-7.6-2.6-8.7-1.9-8.3-1-8.4-0.2-8.3 0.5-8 1.4-7.3 2-3.7 1.3-4.2 1.8-0.5 0-1.6-0.9-0.4 0-0.3-0.4-0.3 0-0.7-0.6-1-0.4-1.7-1.3-0.3 0-0.7-0.7-0.3 0-1.3-1.3-0.4 0-0.3-0.4-0.1-0.3 9.3-7.3 5.1-3.7 6.7-4.1 7.3-3.7 7.7-3.1 7.7-2.3 8-1.6z"/><path fill="#df05df" d="M306.8 140.2l4.7-0.2 4.7 0.1 5 0.5 4.3 0.7 4.3 1 4.4 1.4 4 1.6 3.6 1.7 3.4 1.9 3.6 2.5 3.4 2.6 3.1 2.8 3.3 3.4 3.2 3.6 3.3 4.4 2.8 4 2 3.3 1.5 3 1.2 3 0.9 3.1 0.7 3.5 0.3 3.4 0 3.3-0.4 3.4-0.6 3.4-1 3.6-1.3 3.4-1.7 3.4-2 3.3-2.3 3.1-2.4 2.5-2.3 1.8-1 0.5-0.7 0.2-0.4-0.2-0.2-0.7 0.2-1.7 1.5-8 0.2-3 0-3-0.3-3.3-0.5-3-1-3.3-1.3-3.4-1.9-3.6-2.2-3.4-2.4-3-3-3.2-3.5-3.1-3.6-2.7-3.5-2.3-4.4-2.5-0.1-3.2 0.3-0.3 0-1.7 0.3-0.3 0-1 0.4-0.3 0-0.7 0.3-0.3-0.2-0.2-0.9 0.8 0 0.4-1.4 1.4-0.4 0-1.6 1.6-0.4 0-1.7 1.3-6.1-2.3-5.4-1.7-7-1.7-5.8-1-5.6-0.6-8-0.5-19.4 0-2.3-0.3-0.7-0.3-0.6-0.6-0.1-1 0.7-1.3 1.2-1.4 1.9-1.6 5-3.4 6.3-3.2 6-2.4 6.3-1.9 6.7-1.3zM232.3 191.2l0.9-0.2 0.3 0.3 0.2 0.5 0.7 5.7 0.6 3.3 1.2 3.7 1.7 3.7 2.1 3.6 2.5 3.4 2.5 2.6 2.5 2 3.4 2 5 2.4 25.2 10 10.6 3.6 13.3 3.7 3 1 1.5 1 0.1 0.3-0.2 0.7-1.6 1.1-3.3 1.3-4.3 1-4.7 0.7-4.7 0.4-5 0.1-4.3-0.2-5.7-0.5-4.6-0.8-4.7-1-4.7-1.3-4-1.3-4-1.6-3.6-1.7-3.7-2.1-3.7-2.3-3-2.3-3-2.6-2.5-2.6-2.5-3-2-3-1.6-3-1.2-3-0.9-3-0.5-3.3-0.2-3 0.3-3.3 0.6-3 1.1-3.4 1.4-2.8 1.7-2.3z"/><path fill="#eb13eb" d="M308.7 141.5l5.5 0 5.6 0.5 5.7 0.9 5 1.4 4.7 1.7 4.6 2.3 4.4 2.6 3.8 2.9 3.6 3.4 3.4 4 2.7 4 2.4 4.6 1.6 4.7 0.9 5 0.1 2-0.2 2-0.4 1.3-0.6 1-0.7 0.5-0.6 0.1-1-0.3-1-0.5-2.4-1.6-7-5.8-4.5-3.4-5.9-3.6-5.9-3.1 0-1.3 0.3-0.3-0.1-1.7 0.4-0.3 0-1 0.3-0.3 0-0.7 0.3-0.3-0.2-0.2-0.9 0.8 0 0.4-1.4 1.4-0.4 0-1.6 1.6-0.7 0.1-4.8-1.8-5.1-1.7-5-1.3-6.2-1.3-6.3-1-6-0.7-17.9-1.1-2.7-0.6-0.7-0.3-0.7-0.7 0-1 0.5-1 2.6-2.3 4.3-2.7 5.3-2.4 5.7-2 5.7-1.4 5.6-1zM235.1 219.5l1.4-0.1 2.3 0.6 8.5 3.2 17.2 5.8 20.2 7.5 15 5 3 1.3 0.7 0.7 0 0.7-0.5 0.6-1.4 0.8-2 0.7-2.7 0.6-6 0.8-6.3 0.1-6.3-0.4-5.7-0.8-6-1.3-6.7-2-5.6-2.4-5-2.6-5-3.4-3.7-3.1-3.5-4-2.1-3.6-0.6-1.7-0.2-1.3 0.2-1z"/><path fill="#f71ff7" d="M305.3 142.8l5.2-0.3 5 0.2 5 0.5 4.7 0.9 4.6 1.3 4.4 1.6 4.3 2.1 4 2.4 3.7 2.8 3.3 3.2 3.1 3.7 2.4 3.6 2 4 1.1 4 0.3 3.4-0.1 1.3-0.5 1-0.6 0.7-1 0.3-1.4-0.1-1.3-0.6-13-7.6-8-4.1 0-0.3 0.3-0.3 0-1.7 0.3-0.3 0-1 0.3-0.3 0-0.7 0.3-0.3-0.2-0.3-0.9 0.9 0 0.4-1.4 1.4-0.4 0-1.4 1.2-9.4-3.3-8.9-2.3-5.1-1-6.6-1-17.9-2-2.7-0.7-0.6-0.4-0.5-0.6 0-0.7 0.2-0.6 0.8-1 1.2-1 3.1-2 3.8-1.9 4.4-1.6 4.6-1.3 5-1zM239.4 223.8l2.1-0.2 4 0.8 8.7 2.3 9.3 3 32.1 11.5 3.4 1.6 0.6 0.7 0 0.7-0.6 0.6-1.3 0.7-3.5 0.9-5 0.6-5.7 0.1-5.7-0.3-5.3-0.8-5-1-5.7-1.7-5-1.9-4.3-2.1-4.3-2.6-3.8-2.9-3.4-3.3-2-3-0.5-1.3-0.1-1 0.2-0.7z"/><path fill="#ff35ff" d="M308.9 143.5l4.3 0 4.3 0.3 4.3 0.6 4.4 0.9 3.6 1.1 4 1.6 4 1.9 3.4 2.1 3.3 2.5 2.6 2.3 2.8 3 1.9 2.7 1.8 3.7 1.1 3.3 0.2 2.7-0.2 1-0.5 1-0.7 0.6-1 0.2-1.3-0.1-1.4-0.4-17-8 0-1.7 0.3-0.3 0-1 0.3-0.3 0-0.7 0.4-0.3-0.3-0.3-0.9 0.9 0 0.4-1.4 1.3-0.4 0-0.6 0.7-0.4 0-8.3-2.9-8.7-2.4-10-1.9-17.3-2.3-3-0.9-0.7-0.4-0.5-0.6 0-0.6 0.2-0.7 1.6-1.7 3.3-2 4.1-1.7 4.3-1.4 4.4-1.1 4.6-0.7zM244 226.2l3.5 0.1 4.8 0.9 6.9 1.8 8 2.6 26.1 9.6 3 1.6 0.5 0.7-0.1 0.7-0.7 0.6-0.8 0.4-3.9 1-4.5 0.4-5.6 0-4.4-0.4-4.6-0.7-4.7-1-4.7-1.4-5.3-2-4-2-4-2.4-3.7-2.9-2.7-3-0.8-1.3-0.3-1-0.1-1 0.4-0.7 0.5-0.3z"/><path fill="#ff56ff" d="M306 145.2l3.8-0.2 4 0 4 0.4 3.7 0.5 3.7 0.9 3.6 1.2 3.4 1.3 3 1.5 3 1.8 3 2.2 2.5 2.4 2.4 2.6 1.8 2.7 1.2 2.7 0.5 2-0.3 1.6-0.6 0.7-0.9 0.3-1.3 0-1.3-0.2-3.7-1.2-8.7-3.4 0.4-0.5-0.1-1 0.4-0.3 0-0.7 0.3-0.3-0.3-0.3-1 0.9 0 0.4-1.3 1.1-8.4-2.8-8.4-2.3-7.6-1.7-15.8-3-2.5-1-0.9-1 0.2-1 0.9-1 2-1.3 2.5-1.2 3-1 3-0.8zM248.2 229.2l3.3 0 5 0.8 6.3 1.6 7 2.1 10.4 3.6 8 3.2 3 1.7 0.6 0.6 0.2 0.7-0.6 0.7-0.7 0.3-2.5 0.7-3.7 0.3-4 0-4-0.3-4.3-0.6-4.4-1-4.3-1.2-4.3-1.7-3.7-1.7-3.5-2.2-2.6-2-1.9-2-0.9-1.6-0.1-0.7 0.3-0.7 0.4-0.3z"/><path fill="#ff7aff" d="M310.3 146.8l6.2 0.2 6 1 5.7 1.7 5.3 2.4 4.8 3.1 2 1.6 1.9 2 1.6 2 1 2 0.4 1.7-0.2 1-0.7 0.7-1.1 0.2-1.7-0.1-2-0.4-6.3-2.1 0-0.3 0.3-0.3 0-0.7 0.3-0.3-0.3-0.3-1 0.9 0 0.4-0.3 0.3-7.1-2.3-6.9-2.1-19.2-4.6-2.8-1-1.1-0.7-0.5-0.6-0.1-0.7 0.8-1 1.6-1 2.3-0.9 5.3-1.2zM251.8 231.2l3 0 4.7 0.9 6 1.5 6.3 2.1 7.4 2.7 4.9 2.1 2.1 1.3 0.6 0.7 0 0.7-1 0.6-2 0.5-3 0.2-3.3-0.1-6.7-0.9-7-1.8-3.6-1.4-3.1-1.5-2.8-1.6-2.2-1.7-1.5-1.7-0.6-1.3 0.2-0.6 0.3-0.3z"/><path fill="#ff9eff" d="M310.6 148.5l5.2 0.1 5 0.6 5 1.3 4.7 1.9 4.3 2.4 3.7 3 1.4 1.7 0.8 1.3 0.3 1-0.1 1-0.7 0.7-1.4 0.2-1.7-0.2-2.9-0.7-0.7-0.1 0.3-0.5-0.3-0.4-0.7 0.7-12-3.6-16-4.4-3.2-1.3-1-1 0-0.7 0.5-0.7 2-1 3.4-0.8zM253.8 233.2l2-0.4 3 0.4 4.7 1 5.3 1.6 5.9 2 4.7 2 2.7 1.7 0.4 0.7-0.1 0.3-0.9 0.6-1.3 0.3-4.4 0.1-5.3-0.7-5.7-1.5-5.2-2.1-4-2.4-1.5-1.3-0.7-1-0.1-0.7z"/><path fill="#ffcaff" d="M312.1 150.2l3.7-0.1 4 0.5 4 0.9 3.7 1.2 3.6 1.8 2.9 2 1.9 2 0.5 1 0.1 0.7-0.7 0.7-1.6 0.2-2.4-0.3-3.9-1-17.2-5-3.1-1.3-1-1 0-0.7 1.2-0.8 1.8-0.5zM257 234.8l1.5-0.3 2.3 0.2 3.4 0.7 3.7 1.1 4.7 1.7 3.1 1.3 1.7 1 0.7 0.7 0.1 0.4-0.1 0.2-0.9 0.5-3 0.1-4.4-0.6-4-1-4.3-1.6-2.9-1.7-1.2-1-0.6-0.7-0.1-0.6z"/></g></g>
<clipPath id="csa4"><use href="#sa4"/></clipPath><g opacity="0.45" clip-path="url(#csa4)"><g filter="url(#bl)"><path id="sa4" fill="#4f004f" stroke="#4f004f" stroke-width="3" d="M283.6 87.5l0.2-0.2 12.7 0 0.3 0.3 4.4 0 0.3 0.4 2.7 0 0.3 0.3 2.3 0 0.4 0.3 2 0 0.3 0.4 1.7 0 0.3 0.3 1.3 0 0.4 0.3 1.3 0 0.3 0.4 1.4 0 0.3 0.3 1 0 0.3 0.3 1.4 0 0.3 0.4 1 0 0.3 0.3 0.7 0 0.3 0.3 1 0 0.4 0.4 0.6 0 0.4 0.3 1 0 0.3 0.3 0.7 0 0.3 0.4 0.7 0 0.3 0.3 0.7 0 0.3 0.3 0.7 0 0.3 0.4 0.7 0 1 0.6 0.6 0 0.4 0.4 0.6 0 0.4 0.3 0.3 0 0.3 0.3 0.7 0 1 0.7 0.7 0 1.6 1 0.4 0 0.3 0.3 0.3 0 0.4 0.4 0.6 0 1.7 1 0.3 0 0.4 0.3 0.3 0 0.3 0.3 0.4 0 0.6 0.7 0.4 0 0.3 0.3 0.3 0 0.4 0.4 1 0.3 0.6 0.7 0.4 0 0.3 0.3 1 0.3 1.7 1.4 0.3 0 0.7 0.6 0.3 0 0.7 0.7 0.3 0 0.7 0.7 0.3 0 0.7 0.6 0.3 0 2.3 2 0.4 0 1.3 1.4 0.3 0 1.7 1.6 0.3 0 8.2 8.2 0 0.4 2 2 0 0.3 1 1 0 0.3 1 1 0 0.4 1 1 0 0.3 0.7 0.7 0 0.3 0.7 0.7 0 0.3 1.3 1.7 0.3 1 0.7 0.6 0.3 1 0.7 0.7 0 0.3 1 1.7 0.3 1 0.7 1 0 0.3 0.7 1 0 0.4 0.3 0.3 0 0.7 1 1.6 0 0.7 0.3 0.3 0 0.4 0.4 0.3 0 0.7 0.3 0.3 0 0.7 0.3 0.3 0 0.7 0.4 0.3 0 0.7 0.3 0.3 0 0.7 0.3 0.3 0 0.7 0.4 0.3 0 0.7 0.3 0.3 0 1 0.3 0.3 0 1 0.4 0.4 0 1 0.3 0.3 0 1.3 0.3 0.4 0 1.3 0.4 0.3 0 1.7 0.3 0.3 0 2 0.3 0.4 0 2.6 0.4 0.4 0 13.3-0.4 0.3 0 2.7-0.3 0.3 0 2-0.3 0.4 0 1.6-0.4 0.4 0 1.3-0.3 0.3 0 1.4-0.3 0.3 0 1-0.4 0.3 0 1-0.3 0.4 0 1-0.3 0.3 0 0.7-0.4 0.3 0 0.7-0.3 0.3 0 1-0.3 0.3 0 0.7-0.7 1 0 0.7-0.3 0.3 0 0.7-0.7 1 0 0.6-1 1.7 0 0.7-0.7 1 0 0.3-1 1.7 0 0.3-1 1.7-0.3 1-0.7 0.6-0.3 1-0.3 0.4 0 0.3-1.4 1.7 0 0.3-0.6 0.7 0 0.3-0.7 0.7 0 0.3-0.7 0.7 0 0.3-0.6 0.7 0 0.3-1 1 0 0.3-1.4 1.4 0 0.3-1.6 1.7 0 0.3-4 4 0 0.3-0.6 0.2-4.3 4.4-0.3 0-1.7 1.6-0.3 0-1 1-0.4 0-1.3 1.4-0.3 0-0.7 0.6-0.3 0-1 1-0.4 0-0.6 0.7-0.4 0-0.6 0.7-0.4 0-0.6 0.6-1 0.4-0.7 0.6-1 0.4-0.7 0.6-0.3 0-1 0.7-0.3 0-0.7 0.7-0.3 0-0.4 0.3-0.3 0-1 0.7-0.3 0-0.4 0.3-0.3 0-1 0.7-0.3 0-1.7 1-0.7 0-1.6 1-0.7 0-1.7 1-0.6 0-0.4 0.3-0.6 0-1 0.7-0.7 0-0.3 0.3-0.7 0-0.3 0.3-0.7 0-0.3 0.4-0.7 0-0.3 0.3-0.7 0-0.3 0.3-0.7 0-0.3 0.4-0.7 0-0.3 0.3-1 0-0.4 0.3-0.6 0-0.4 0.4-1 0-0.3 0.3-1 0-0.3 0.3-1 0-0.4 0.4-1 0-0.3 0.3-1.3 0-0.4 0.3-1.3 0-0.3 0.4-1.4 0-0.3 0.3-1.7 0-0.3 0.3-2 0-0.3 0.4-2.4 0-0.3 0.3-2.7 0-0.3 0.3-4 0-0.3 0.4-14 0-0.4-0.4-4 0-0.3-0.3-3 0-0.3-0.3-2 0-0.4-0.4-2 0-0.3-0.3-1.7 0-0.3-0.3-1.3 0-0.4-0.4-1.3 0-0.3-0.3-1.4 0-0.3-0.3-1 0-0.3-0.4-1 0-0.4-0.3-1 0-0.3-0.3-1 0-0.3-0.4-1 0-0.4-0.3-0.6 0-0.4-0.3-0.6 0-0.4-0.4-1 0-0.3-0.3-0.7 0-0.3-0.3-0.7 0-0.3-0.4-0.7 0-1-0.6-0.6 0-0.4-0.4-0.6 0-1-0.6-0.7 0-1-0.7-0.7 0-1.6-1-0.7 0-0.3-0.3-0.4 0-1-0.7-0.3 0-0.3-0.3-0.4 0-0.3-0.4-0.3 0-0.4-0.3-0.3 0-0.3-0.3-0.4 0-1.6-1-0.4 0-1-0.7-0.3 0-0.7-0.7-1-0.3-0.6-0.7-1-0.3-1.7-1.3-1-0.4-1-1-0.3 0-0.7-0.6-0.3 0-0.7-0.7-0.3 0-1-1-0.4 0-1.3-1.3-0.3 0-1.4-1.4-0.3 0-2.3-2.3-0.4 0-5.5-5.5 0-0.4-2.3-2.3 0-0.3-1.4-1.4 0-0.3-1-1 0-0.3-2-2.4 0-0.3-0.6-0.7 0-0.3-0.7-0.7-0.3-1-1.4-1.6-0.3-1-0.3-0.4 0-0.3-0.7-0.7-0.3-1-0.4-0.3 0-0.3-0.3-0.4 0-0.3-0.3-0.3 0-0.4-0.4-0.3 0-0.3-0.3-0.4 0-0.3-0.3-0.3 0-0.4-0.4-0.3 0-0.7-1-1.6 0-0.7-0.6-1 0-0.7-0.7-1 0-0.6-0.3-0.4 0-0.6-0.4-0.4 0-0.6-0.3-0.4 0-0.6-0.3-0.4 0-1-0.4-0.3 0-0.7-0.3-0.3 0-1-0.3-0.3 0-1-0.4-0.4 0-1.3-0.3-0.3 0-1.4-0.3-0.3 0-1.3-0.4-0.4 0-2-0.3-0.3 0-2.3-0.3-0.4 0-4-0.4-0.3 0-7.3 0.4-0.4 0-4 0.3-0.3 0-2.3 0.3-0.4 0-2 0.3-0.3 0.1-1.3 0.3-0.4 0-1.3 0.3-0.3 0-1.4 0.3-0.3 0.1-1 0.3-0.3 0-1 0.3-0.4 0-0.6 0.3-0.4 0-0.6 0.4-0.4 0-1 0.3-0.3 0-0.7 0.3-0.3 0-0.7 0.7-1 0-0.6 0.3-0.4 0-0.6 0.7-1 0-0.7 1-1.7 0-0.6 1-1.7 0-0.3 0.3-0.4 0-0.3 0.4-0.3 0-0.4 0.3-0.3 0-0.3 0.3-0.4 0-0.3 0.7-0.7 0-0.3 0.3-0.3 0.4-1 0.6-0.7 0.4-1 0.6-0.7 0-0.3 0.7-0.7 0-0.3 0.7-0.7 0-0.3 0.6-0.7 0-0.3 0.7-0.7 0-0.3 1-1 0-0.3 1-1 0-0.4 1.7-1.6 0-0.4 2.3-2.3 0-0.3 4.9-4.9 0.3 0 2.4-2.4 0.3 0 1.7-1.6 0.3 0 1-1 0.3 0 2.4-2 0.3 0 0.7-0.7 0.3 0 0.7-0.7 0.3 0 0.7-0.6 0.3 0 1.7-1.4 1-0.3 0.6-0.7 0.4 0 0.3-0.3 1-0.3 0.7-0.7 1-0.3 0.3-0.4 0.3 0 0.4-0.3 0.3 0 0.3-0.3 0.4 0 0.3-0.4 0.3 0 0.4-0.3 0.3 0 0.3-0.3 0.4 0 0.3-0.4 0.3 0 0.4-0.3 0.3 0 0.3-0.3 0.7 0 0.3-0.4 0.4 0 1.6-1 0.7 0 0.3-0.3 0.4 0 0.3-0.3 0.7 0 1-0.7 0.6 0 0.4-0.3 0.6 0 0.4-0.4 0.6 0 0.4-0.3 0.6 0 0.4-0.3 0.6 0 0.4-0.4 0.6 0 0.4-0.3 0.6 0 0.4-0.3 0.6 0 0.4-0.4 1 0 0.3-0.3 0.7 0 0.3-0.3 1 0 0.3-0.4 1 0 0.4-0.3 1 0 0.3-0.3 1 0 0.3-0.4 1.4 0 0.3-0.3 1.3 0 0.4-0.3 1.6 0 0.4-0.4 1.6 0 0.4-0.3 1.6 0 0.4-0.3 2.3 0 0.3-0.3 3-0.1 0.4-0.3zM284.2 166.4l-0.4 0.3-3.3 0-0.3 0.3-2 0-0.4 0.4-1.6 0-0.4 0.3-1.6 0-0.4 0.3-1 0-0.3 0.4-1.3 0-0.4 0.3-0.6 0-0.4 0.3-1 0-0.3 0.4-1 0-0.3 0.3-0.7 0-0.3 0.3-0.7 0-0.3 0.4-0.7 0-1 0.6-0.7 0-0.3 0.4-0.7 0-0.8 0.4 0.5 0.2 0.3 0.3 0.7 0 1 0.7 0.7 0 0.3 0.3 0.7 0 0.3 0.3 0.7 0 0.3 0.4 0.7 0 0.3 0.3 0.7 0 0.3 0.3 1 0 0.3 0.4 1 0 0.4 0.3 1 0 0.3 0.3 1.3 0 0.4 0.4 1.3 0 0.3 0.3 1.7 0 0.3 0.3 2 0 0.4 0.3 3 0.1 0.3 0.3 5.7 0 7.3 0 0.3-0.3 3-0.1 0.4-0.3 2 0 0.3-0.3 1.7 0 0.3-0.4 1.7 0 0.3-0.3 1 0 0.3-0.3 1.4 0 0.3-0.4 0.7 0 0.3-0.3 1 0 0.3-0.3 0.7 0 0.3-0.4 1 0 0.4-0.3 0.6 0 0.4-0.3 0.6 0 1-0.7 0.7 0 1-0.7 0.8-0.1-0.8-0.1-1-0.7-0.7 0-0.3-0.3-0.7 0-0.3-0.3-0.7 0-0.3-0.4-0.7 0-0.3-0.3-0.7 0-0.3-0.3-0.7 0-0.3-0.4-1 0-0.3-0.3-1 0-0.4-0.3-1 0-0.3-0.4-1.3 0-0.4-0.3-1.3 0-0.3-0.3-1.7 0-0.3-0.4-2.4 0-0.3-0.3-3 0-0.3-0.3z"/><path fill="#670067" d="M283.8 87.5l12.7 0 0.3 0.3 4.4 0 0.3 0.3 2.7 0 0.3 0.4 2.3 0 0.4 0.3 2 0 0.3 0.3 1.7 0 0.3 0.4 1.3 0 0.4 0.3 1.3 0 0.3 0.3 1.4 0 0.3 0.4 1 0 0.3 0.3 1.4 0 0.3 0.3 1 0 0.3 0.4 0.7 0 0.3 0.3 1 0 0.4 0.3 0.6 0 0.4 0.4 1 0 0.3 0.3 0.7 0 0.3 0.3 0.7 0 0.3 0.4 0.7 0 0.3 0.3 0.7 0 0.3 0.3 0.7 0 1 0.7 0.6 0 0.4 0.3 0.6 0 1 0.7 0.7 0 0.3 0.3 0.4 0 0.3 0.4 0.7 0 1.6 1 0.4 0 0.3 0.3 0.3 0 0.4 0.3 0.6 0 1.7 1 0.3 0 0.4 0.4 0.3 0 0.3 0.3 0.4 0 0.6 0.7 0.4 0 0.3 0.3 1 0.4 0.3 0.3 0.4 0 0.6 0.6 0.4 0 0.3 0.4 1 0.3 1.7 1.3 0.3 0.1 0.7 0.6 0.3 0 0.7 0.7 0.3 0 0.7 0.7 0.3 0 0.7 0.6 0.3 0 2.3 2 0.4 0 1.3 1.4 0.3 0 1.7 1.6 0.3 0 5.4 5.4 3.6 4.6 2.1 3 1.9 3.5 1.7 3.5 1.3 3.4 1.1 3.6 0.9 3.7 0.5 3.7 0.3 4 0.1 3.6-0.3 4-0.5 4-0.8 4-1.2 4.4-1.5 4.3-1.8 4.3-2.1 4.5-2.3 4.2-2.7 4.3-3 4.3-3.2 4.1-3.5 4.1-3.6 3.9-4 3.9-4 3.5-4.4 3.6-4.4 3.3-9.3 6-9.6 5.1-10 4.2-5 1.8-5.3 1.6-10 2.2-5.2 0.8-5.2 0.5-5 0.2-5 0.1-5-0.3-5-0.5-4.8-0.7-4.8-1-7.1-2-6.9-2.6-6.2-3.1-6-3.6-5.3-4-4.9-4.6-4.6-5.5-1-1.6-0.7-0.7-0.3-1-0.7-0.6 0-0.4-0.7-0.6-0.3-1-0.3-0.4 0-0.3-0.7-0.7-0.3-1-0.4-0.3 0-0.3-0.3-0.4 0-0.3-0.3-0.3 0-0.4-0.4-0.3 0-0.3-0.3-0.4 0-0.3-0.3-0.3 0-0.4-0.4-0.3 0-0.7-1-1.6 0-0.7-0.3-0.3 0-0.4-0.3-0.3-0.1-0.7-0.6-1 0-0.6-0.3-0.4-0.1-0.6-0.3-0.4 0-0.6-0.3-0.4 0-0.6-0.3-0.4-0.1-1-0.3-0.3 0-0.7-0.3-0.3 0-1-0.4-0.3 0-1-0.3-0.4 0-1.3-0.3-0.3 0-1.4-0.4-0.3 0-1.3-0.3-0.4 0-2-0.3-0.3 0-2.3-0.4-0.4 0-4-0.3-0.3 0-7.3 0.3-0.4 0-4 0.4-0.3 0-2.3 0.3-0.4 0-2 0.3-0.3 0-1.3 0.4-0.4 0-1.3 0.3-0.3 0-1.4 0.3-0.3 0-1 0.4-0.3 0-1 0.3-0.4 0-0.6 0.3-0.4 0-0.6 0.4-0.4 0-1 0.3-0.3 0-0.7 0.3-0.3 0-0.7 0.7-1 0-0.6 0.3-0.4 0-0.6 0.7-1 0-0.7 0.3-0.3 0-0.4 0.7-1 0-0.6 1-1.7 0-0.3 0.3-0.4 0-0.3 0.3-0.3 0.1-0.4 0.3-0.3 0-0.3 0.3-0.4 0-0.3 0.7-0.7 0-0.3 0.3-0.3 0.4-1 0.6-0.7 0.4-1 0.6-0.7 0-0.3 0.7-0.7 0-0.3 0.6-0.7 0-0.3 0.7-0.7 0-0.3 0.7-0.7 0-0.3 1-1 0-0.3 1-1 0-0.4 1.6-1.6 0-0.4 2.4-2.3 0-0.3 4.7-4.8 0.3 0 2.4-2.3 0.3 0 1.7-1.7 0.3 0 1-1 0.3 0 2.4-2 0.3 0 0.7-0.6 0.3 0 0.7-0.7 0.3 0 0.7-0.7 0.3 0 1.7-1.3 1-0.3 0.6-0.7 1-0.3 0.4-0.4 0.3 0 0.7-0.6 1-0.4 0.3-0.3 0.3 0 0.4-0.3 0.3 0 0.3-0.4 0.4 0 0.3-0.3 0.3 0 0.4-0.3 0.3 0 0.3-0.4 0.4 0 0.3-0.3 0.3 0 0.4-0.3 0.3 0 0.3-0.3 0.7-0.1 0.3-0.3 0.4 0 1.6-1 0.7 0 0.3-0.3 0.4 0 0.3-0.3 0.7-0.1 1-0.6 0.6 0 0.4-0.3 0.6-0.1 0.4-0.3 0.6 0 0.4-0.3 0.6 0 0.4-0.3 0.6-0.1 0.4-0.3 0.6 0 0.4-0.3 0.6 0 0.4-0.3 0.6-0.1 0.4-0.3 1 0 0.3-0.3 0.7 0 0.3-0.3 1-0.1 0.3-0.3 1 0 0.4-0.3 1 0 0.3-0.3 1 0 0.3-0.4 1.4 0 0.3-0.3 1.3 0 0.4-0.3 1.6 0 0.4-0.4 1.6 0 0.4-0.3 1.6 0 0.4-0.3 2.3 0 0.3-0.4 3 0 0.4-0.3 4.3 0zM251.8 132.5l-2.6 0.7-2.7 1.2-2.3 1.6-2 2.1-1.4 2.2-1 2.6-0.4 2.6 0 3 0.6 2.7 1 3 1.4 2.6 1.8 2.7 2.3 2.7 3.3 3.1 1.7 1.3 0.3 0.1 1.7 1.3 0.3 0 0.7 0.6 1 0.4 0.7 0.6 0.3 0 1.7 1 0.3 0 0.3 0.3 0.4 0 0.3 0.4 0.7 0 0.3 0.3 0.3 0 0.4 0.5 0.3 0 0.3 0.4 0.7 0 1 0.6 0.7 0 0.3 0.4 0.7 0 0.3 0.3 0.7 0 0.3 0.3 0.7 0 0.3 0.4 0.7 0 0.3 0.3 1 0 0.3 0.3 1 0 0.4 0.4 1 0 0.3 0.3 1.3 0 0.4 0.3 1.3 0 0.3 0.4 1.7 0 0.3 0.3 2 0 0.4 0.3 3 0 0.3 0.4 13 0 0.3-0.4 3 0 0.4-0.3 2 0 0.3-0.3 1.7-0.1 0.3-0.3 1.7 0 0.3-0.3 1 0 0.3-0.3 1.4-0.1 0.3-0.3 0.7 0 0.3-0.3 1 0 0.3-0.3 0.7-0.1 0.3-0.3 1 0 0.4-0.3 0.6 0 0.4-0.3 0.6-0.1 1-0.6 0.7 0 1-0.7 0.7 0 0.3-0.5 0.3 0 1-0.7 0.4 0 0.3-0.4 0.3 0 0-0.2-2-1.4-5.3-3.2-17-8.9-6.9-4-6.2-4.3-11.7-9.3-5.5-3.6-4-1.8-4-1.2-3.7-0.4z"/><path fill="#790079" d="M283.8 87.5l12.7 0 0.3 0.3 4.4 0 0.3 0.3 2.7 0 0.3 0.4 2.3 0 0.4 0.3 2 0 0.3 0.3 1.7 0 0.3 0.4 1.3 0 0.4 0.3 1.3 0 0.3 0.3 1.4 0 0.3 0.4 1 0 0.3 0.3 1.4 0 0.3 0.3 1 0.1 0.3 0.3 0.7 0 0.3 0.3 1 0 0.4 0.3 0.6 0 0.4 0.4 1 0 0.3 0.3 0.7 0 0.3 0.3 0.7 0.1 0.3 0.3 0.7 0 0.3 0.3 0.7 0 0.3 0.3 0.7 0.1 1 0.6 0.6 0 0.4 0.3 0.6 0.1 1 0.6 0.7 0 0.3 0.4 0.4 0 0.3 0.3 0.7 0 1.6 1 0.4 0 0.3 0.3 0.3 0 0.4 0.4 0.6 0 1.7 1 0.3 0 0.4 0.3 0.3 0 0.3 0.3 0.4 0 0.6 0.7 0.4 0 0.3 0.3 0.3 0 0.4 0.4 1 0.3 0.6 0.7 1 0.3 1.4 1 0.3 0 0.7 0.7 0.3 0 0.7 0.6 0.3 0 0.7 0.7 0.3 0 1.3 1 3.4 2.7 2.9 2.6 2.9 3 2.5 3 2.3 3.2 2.1 3.2 1.9 3.6 1.4 3.4 1.3 3.6 0.9 3.7 0.7 3.7 0.3 3.6 0.1 4-0.2 3.7-0.5 4-0.8 4-1 4-1.5 4.3-1.8 4.4-2.2 4.3-2.3 4.1-2.7 4.2-3 4.2-3.3 4.2-3.5 4-3.9 4-4 3.8-4.3 3.8-4.3 3.4-4.7 3.4-4.7 3.1-9.6 5.6-10 4.7-10 3.7-5.1 1.5-5.3 1.3-5.2 1-5.1 0.7-5 0.5-5 0.3-5 0-5-0.3-5-0.5-4.7-0.7-4.6-1-4.7-1.3-6.7-2.4-6.3-2.9-5.7-3.3-5.3-3.9-4.7-4.2-4.3-4.8-3.3-4.5-3.4-5.9 0-0.5-1-1.6 0-0.7-0.6-1 0-0.7-0.7-1 0-0.6-0.3-0.4 0-0.6-0.4-0.4 0-0.6-0.3-0.4 0-0.6-0.3-0.4 0-1-0.4-0.3 0-0.7-0.3-0.3 0-1-0.3-0.3 0-1-0.4-0.4 0-1.3-0.3-0.3 0-1.4-0.3-0.3-0.1-1.3-0.3-0.4 0-2-0.3-0.3 0-2.3-0.3-0.4-0.1-4-0.3-0.3 0-7.3 0.3-0.4 0-4 0.4-0.3 0-2.3 0.3-0.4 0-2 0.3-0.3 0-1.3 0.4-0.4 0-1.3 0.3-0.3 0-1.4 0.3-0.3 0-1 0.4-0.3 0-1 0.3-0.4 0-0.6 0.3-0.4 0-0.6 0.4-0.4 0-1 0.3-0.3 0-0.7 0.3-0.3 0-0.7 0.7-1 0-0.6 0.3-0.4 0-0.6 0.7-1 0-0.7 1-1.7 0-0.6 1-1.7 0-0.3 0.3-0.4 0-0.3 0.4-0.3 0-0.4 0.3-0.3 0-0.3 0.3-0.4 0-0.3 0.7-0.7 0.3-1 0.4-0.3 0-0.3 0.6-0.7 0.4-1 0.6-0.7 0-0.3 0.7-0.7 0-0.3 0.7-0.7 0-0.3 0.6-0.7 0-0.3 0.7-0.7 0-0.3 1-1 0-0.3 1-1 0-0.4 1.7-1.6 0-0.4 2.3-2.3 0-0.3 4.7-4.7 0.3 0 2.4-2.4 0.3 0 1.7-1.6 0.3 0 1-1 0.3 0 2.4-2 0.3 0 0.7-0.7 0.3 0 0.7-0.7 0.3 0 0.7-0.6 0.3 0 1.7-1.4 1-0.3 0.6-0.7 1-0.3 0.4-0.3 0.3 0 0.7-0.7 1-0.3 0.3-0.4 0.3 0 0.4-0.3 0.3 0 0.3-0.3 0.4 0 0.3-0.4 0.3 0 0.4-0.3 0.3 0 0.3-0.3 0.4 0 0.3-0.4 0.3 0 0.4-0.3 0.3 0 0.3-0.3 0.7 0 0.3-0.4 0.4 0 1.6-1 0.7 0 0.3-0.3 0.4 0 0.3-0.3 0.7 0 1-0.7 0.6 0 0.4-0.3 0.6 0 0.4-0.4 0.6 0 0.4-0.3 0.6 0 0.4-0.3 0.6 0 0.4-0.4 0.6 0 0.4-0.3 0.6 0 0.4-0.3 0.6 0 0.4-0.4 1 0 0.3-0.3 0.7 0 0.3-0.3 1 0 0.3-0.4 1 0 0.4-0.3 1 0 0.3-0.3 1 0 0.3-0.4 1.4 0 0.3-0.3 1.3 0 0.4-0.3 1.6 0 0.4-0.4 1.6 0 0.4-0.3 1.6 0 0.4-0.3 2.3 0 0.3-0.4 3 0 0.4-0.3 4.3 0zM254.2 126.5l-3.7 0.8-3.3 1.4-3 1.9-2.4 2.1-2 2.6-1.4 2.9-0.9 3-0.3 3.3 0.3 3.3 0.8 3 1.5 3.4 1.8 3 2.4 3 3 3 4.5 3.6 3 1.9 5 2.6 1.3 0.4 0.4 0.4 0.3 0.1 0.3 0.3 0.7 0 1 0.6 0.7 0.1 0.3 0.3 0.7 0 0.3 0.3 0.7 0 0.3 0.3 0.7 0 0.3 0.4 0.7 0 0.3 0.3 1 0 0.3 0.3 1 0 0.4 0.4 1 0 0.3 0.3 1.3 0 0.4 0.3 1.3 0 0.3 0.4 1.7 0 0.3 0.3 2 0 0.4 0.3 3 0 0.3 0.4 13 0 0.3-0.4 3 0 0.4-0.3 2 0 0.3-0.3 1.7 0 0.3-0.4 1.7 0 0.3-0.3 1 0 0.3-0.3 1.4 0 0.3-0.4 0.7 0 0.3-0.3 1 0 0.3-0.3 0.7 0 0.3-0.4 1 0 0.4-0.3 0.6 0 0.4-0.3 0.6 0 1-0.7 0.7 0 1-0.7 0.7 0 0.3-0.5 0.3 0 1.7-1 0.3 0 0.4-0.4 0.3 0 0.3-0.3 0.4 0 0.3-0.4 0.3 0 0.2-0.3-5.2-4.1-15.1-10.6-5.4-4-5.4-4.3-11.4-9.9-3.3-2.5-3.4-2.3-5-2.7-2.6-1-2.7-0.8-2.7-0.5-2.6-0.3-2.7 0z"/><path fill="#8b008b" d="M283.8 87.5l12.7 0 0.3 0.3 4.4 0 0.3 0.3 2.7 0.1 0.3 0.3 2.3 0 0.4 0.3 2 0 0.3 0.3 1.7 0.1 0.3 0.3 1.3 0 0.4 0.3 1.3 0 0.3 0.4 1.4 0 0.3 0.3 1 0 0.3 0.3 1.4 0 0.3 0.4 1 0 0.3 0.3 0.7 0 0.3 0.3 1 0 0.4 0.4 0.6 0 0.4 0.3 1 0 0.3 0.3 0.7 0 0.3 0.4 0.7 0 0.3 0.3 0.7 0 0.3 0.3 0.7 0 0.3 0.4 0.7 0 1 0.6 0.6 0 0.4 0.4 0.6 0 1 0.6 0.6 0 1.1 0.7 1.2 0.3 5.3 2.7 3.5 2 4 2.7 6.3 5 2.8 2.6 2.8 3 2.4 3 2 3 2 3.4 1.6 3.3 1.4 3.7 1 3.3 0.8 3.7 0.5 3.6 0.2 3.7-0.1 3.7-0.4 3.6-0.7 3.7-1 4-1.3 3.8-1.6 4.1-2 4.1-2.4 4.1-2.6 4.2-3 4.1-3.4 4.1-3.6 4.2-3.6 3.6-4.1 3.8-4.3 3.8-9 6.8-9.7 6.1-10 5.2-10 4.2-10.3 3.4-5.4 1.3-5 1-10 1.4-5 0.3-5 0-5-0.2-4.6-0.4-4.7-0.7-4.7-1-4.6-1.3-4.4-1.4-6-2.5-5.6-3-5.4-3.6-4.6-3.8-4.4-4.3-3.6-4.6-3-4.7-2.7-5.3-1.7-4.4-0.6-2.1 0-0.6-0.4-0.6 0-1.1-0.3-0.3 0-1.4-0.3-0.3 0-1.3-0.4-0.4 0-2-0.3-0.3 0-2.3-0.3-0.4 0-4-0.4-0.3 0-7.3 0.3-0.4 0.1-4 0.3-0.3 0-2.3 0.3-0.4 0-2 0.3-0.3 0-1.3 0.4-0.4 0-1.3 0.3-0.3 0-1.4 0.3-0.3 0-1 0.4-0.3 0-1 0.3-0.4 0-0.6 0.3-0.4 0-0.6 0.4-0.4 0-1 0.3-0.3 0-0.7 0.3-0.3 0-0.7 0.7-1 0-0.6 0.3-0.4 0-0.6 0.7-1 0-0.7 0.3-0.3 0-0.4 0.7-1 0-0.6 1-1.7 0-0.3 0.3-0.4 0-0.3 0.4-0.3 0-0.4 0.3-0.3 0-0.3 0.3-0.4 0-0.3 0.7-0.7 0.3-1 0.4-0.3 0-0.3 0.6-0.7 0.4-1 0.6-0.7 0-0.3 0.7-0.7 0-0.3 0.7-0.7 0-0.3 0.6-0.7 0-0.3 0.7-0.7 0-0.3 2-2.3 0-0.4 1.7-1.6 0-0.4 2.3-2.3 0-0.3 4.7-4.7 0.3 0 2.4-2.4 0.3 0 1.7-1.6 0.3 0 1-1 0.3 0 2.4-2 0.3 0 0.7-0.7 0.3 0 0.7-0.7 0.3 0 0.7-0.6 0.3 0 0.7-0.7 0.3 0 0.7-0.7 0.3 0 0.3-0.3 0.4 0 0.6-0.7 1-0.3 0.4-0.3 0.3 0 0.7-0.7 1-0.3 0.3-0.4 0.3 0 0.4-0.3 0.3 0 0.3-0.3 0.4 0 0.3-0.4 0.3 0 0.4-0.3 0.3 0 0.3-0.3 0.4 0 0.3-0.4 0.3 0 0.4-0.3 0.3 0 0.3-0.3 0.7 0 0.3-0.4 0.4 0 1.6-1 0.7 0 0.3-0.3 0.4 0 0.3-0.3 0.7 0 1-0.7 0.6 0 0.4-0.3 0.6 0 0.4-0.4 0.6 0 0.4-0.3 0.6 0 0.4-0.3 0.6 0 0.4-0.4 0.6 0 0.4-0.3 0.6 0 0.4-0.3 0.6 0 0.4-0.4 1 0 0.3-0.3 0.7 0 0.3-0.3 1 0 0.3-0.4 1 0 0.4-0.3 1 0 0.3-0.3 1 0 0.3-0.4 1.4 0 0.3-0.3 1.3 0 0.4-0.3 1.6 0 0.4-0.4 1.6 0 0.4-0.3 1.6 0 0.4-0.3 2.3 0 0.3-0.4 3 0 0.4-0.3 4.3 0zM258.8 120.8l-4.3 0.6-4 1.2-3.7 1.6-3.3 2.1-3 2.7-2.2 2.8-1.8 3.4-1 3.3-0.4 3.3 0.2 3.7 0.8 3.7 1.6 3.6 2 3.4 2.7 3.3 3.1 3.1 4 3.1 6.7 4.1 3.3 1.6 1.3 0.4 1 0.7 0.7 0 1 0.7 0.7 0 0.3 0.3 0.7 0 0.3 0.3 0.7 0 0.3 0.4 0.7 0 0.3 0.3 0.7 0 0.3 0.3 1 0 0.3 0.4 1 0 0.4 0.3 1 0 0.3 0.3 1.3 0 0.4 0.3 1.3 0.1 0.3 0.3 1.7 0 0.3 0.3 2 0 0.4 0.3 3 0.1 0.3 0.3 13 0 0.3-0.4 3 0 0.4-0.3 2 0 0.3-0.3 1.7 0 0.3-0.4 1.7 0 0.3-0.3 1 0 0.3-0.3 1.4 0 0.3-0.4 0.7 0 0.3-0.3 1 0 0.3-0.3 0.7 0 0.3-0.4 1 0 0.4-0.3 0.6 0 0.4-0.3 0.6 0 1-0.7 0.7 0 1-0.7 0.7 0 0.3-0.4 0.3 0 1.7-1 0.3-0.1 0.4-0.3 0.3 0 0.3-0.3 0.4-0.1 0.3-0.3 0.3 0 0.4-0.4 0.3 0 0.3-0.3 0.4 0 0.6-0.7 0.4 0 0.3-0.4 0.2-0.3-0.9-1-6-5.9-14-12.4-14.3-13.4-4-3.4-3.9-2.9-3.1-2-3-1.7-3-1.3-3.3-1.2-3.1-0.8-3.3-0.5-3-0.3z"/><path fill="#9d009d" d="M283.8 87.5l12.7 0 0.3 0.3 4.4 0 0.3 0.4 2.7 0 0.3 0.3 2.3 0 0.4 0.3 1.9 0 0.4 0.4 1.5 0 0.5 0.3 1.3 0 0.4 0.3 1.1 0 0.5 0.4 1 0 0.7 0.3 0.7 0 0.6 0.3 0.8 0 4.6 1.4 8.3 3 4.5 2 3.8 2 4 2.3 3.5 2.3 3.5 2.7 3.1 2.7 2.7 2.6 2.7 3 2.3 3 1.9 3 1.9 3.4 1.5 3.3 1.2 3.3 0.9 3.4 0.6 3.3 0.3 3.7 0.1 3.3-0.3 3.7-0.6 3.6-0.8 3.7-1.2 3.7-1.4 3.6-1.9 4-2.3 4-2.6 4-2.7 3.8-3.2 3.9-3.5 3.8-7.7 7.4-8.6 6.9-9.7 6.6-5 3-5.3 2.9-10.4 4.8-10 3.7-10.3 2.8-10 1.9-5 0.5-5 0.4-5 0.1-4.7-0.2-4.6-0.4-4.7-0.7-4.7-0.9-4.3-1.1-4.3-1.5-4-1.6-5.7-2.7-5.3-3.3-4.7-3.6-4.3-4.1-3.7-4.3-3.3-5-2.7-5.1-2-5.1-1.3-4.7-1-5.8-0.4-4.2 0-2.5 0-2.3 0.4-0.4 0-4 0.3-0.3 0-2.3 0.3-0.4 0-2 0.4-0.3 0-1.3 0.3-0.4 0-1.3 0.3-0.3 0-1.4 0.4-0.3 0-1 0.3-0.3 0-1 0.3-0.4 0-0.6 0.4-0.4 0-0.6 0.3-0.4 0-1 0.3-0.3 0-0.7 0.4-0.3 0-0.7 0.6-1 0-0.6 0.3-0.4 0.1-0.6 0.6-1 0-0.7 0.3-0.3 0.1-0.4 0.6-1 0-0.6 1-1.7 0-0.3 0.3-0.4 0.1-0.3 0.3-0.3 0-0.4 0.3-0.3 0-0.3 0.3-0.4 0.1-0.3 0.6-0.7 0-0.3 0.3-0.3 0.4-1 0.6-0.7 0.4-1 1.3-1.7 0-0.3 0.7-0.7 0-0.3 0.6-0.7 0-0.3 0.7-0.7 0-0.3 2-2.3 0-0.4 1.7-1.6 0-0.4 2.3-2.3 0-0.3 4.7-4.7 0.3 0 2.4-2.4 0.3 0 1.7-1.6 0.3 0 1-1 0.3 0 2.4-2 0.3 0 0.7-0.7 0.3 0 0.7-0.7 0.3 0 0.7-0.6 0.3 0 1.7-1.4 1-0.3 0.6-0.7 0.4 0 0.3-0.3 1-0.3 0.7-0.7 1-0.3 0.3-0.4 0.3 0 0.4-0.3 0.3 0 0.3-0.3 0.4 0 0.3-0.4 0.3 0 0.4-0.3 0.3 0 0.3-0.3 0.4 0 0.3-0.4 0.3 0 0.4-0.3 0.3 0 0.3-0.3 0.7 0 0.3-0.4 0.4 0 1.6-0.9 0.7-0.1 0.3-0.3 0.4 0 0.3-0.3 0.7 0 1-0.7 0.6 0 0.4-0.3 0.6 0 0.4-0.4 0.6 0 0.4-0.3 0.6 0 0.4-0.3 0.6 0 0.4-0.4 0.6 0 0.4-0.3 0.6 0 0.4-0.3 0.6 0 0.4-0.3 1-0.1 0.3-0.3 0.7 0 0.3-0.3 1 0 0.3-0.3 1-0.1 0.4-0.3 1 0 0.3-0.3 1 0 0.3-0.3 1.4-0.1 0.3-0.3 1.3 0 0.4-0.3 1.6 0 0.4-0.3 1.6-0.1 0.4-0.3 1.6 0 0.4-0.3 2.3 0 0.3-0.3 3 0 0.4-0.4 4.3 0zM261.2 115.8l-4.7 0.7-4.7 1.2-4.3 1.9-4 2.4-3.3 2.7-2.8 3.1-2.2 3.7-1.5 3.7-0.7 3.6-0.1 4 0.7 4 1.5 4 2 3.7 2.7 3.7 3.4 3.5 4 3.2 3.6 2.4 3.7 2.1 4.3 2 4.4 1.7 4.3 1.4 0.4 0 0.6 0.3 2.1 0.4 0.6 0.3 0.8 0 0.5 0.3 1.2 0 0.5 0.4 1.3 0 0.3 0.3 1.7 0 0.3 0.3 2 0 0.4 0.4 3 0 0.3 0.3 13 0 0.3-0.3 3-0.1 0.4-0.3 2 0 0.3-0.3 1.7 0 0.3-0.3 1.7-0.1 0.3-0.3 1 0 0.3-0.3 1.4 0 0.3-0.3 0.7-0.1 0.3-0.3 1 0 0.3-0.3 0.7 0 0.3-0.3 1-0.1 0.4-0.3 0.6 0 0.4-0.3 0.6 0 1-0.7 0.7 0 1-0.7 0.7 0 0.3-0.4 0.3 0 0.4-0.3 0.3 0 0.3-0.3 1.7-0.7 0.3-0.4 0.4 0 0.3-0.3 0.3 0 0.4-0.4 0.3 0 0.3-0.3 0.4 0 0.6-0.7 0.4 0 0.6-0.7 0.4 0 0.6-0.7 0.4 0 0.6-0.7 0.4 0 1-1 0-0.3-2-2.7-4-5-14-14.8-10.7-10.6-4.2-3.6-3.9-3-3.9-2.6-3.7-2.1-3.6-1.6-3.7-1.4-4-1-3.7-0.6-4-0.2z"/><path fill="#ae00ae" d="M279.8 87.8l10-0.3 10.8 0.7 9 1.3 8.6 2 9 3 8.3 3.7 3.6 2 3.8 2.3 3.4 2.3 3.3 2.7 2.9 2.7 2.6 2.6 2.5 3 2.1 3 1.8 3 1.7 3.4 1.3 3.3 0.9 3 0.7 3.3 0.4 3.4 0.1 3.3-0.1 3.3-0.5 3.4-0.8 3.6-1 3.4-1.4 3.4-1.7 3.6-2 3.6-2.5 3.7-2.8 3.7-3 3.5-3.3 3.5-3.7 3.5-4 3.5-9 6.9-9.6 6.2-10.4 5.5-10.3 4.6-10.3 3.7-10 2.7-10 1.8-9.7 0.8-5 0.1-4.7-0.2-4.6-0.4-4.4-0.6-4.3-0.9-4.3-1.1-4-1.3-4-1.6-5.2-2.6-4.8-2.9-4.4-3.3-4.1-3.8-3.5-4.1-3-4.3-2.7-4.8-2-4.9-1.3-4.5-1-5.3-0.5-5.4 0.1-5.7 0.7-5.6 0.7-2.7 0-0.7 0.3-0.6 0-0.8 0.3-0.6 0-0.6 0.4-0.4 0-0.6 0.3-0.4 0-1 0.3-0.3 0-0.7 0.4-0.3 0-0.7 0.6-1 0-0.6 0.4-0.4 0-0.6 0.6-1 0-0.7 0.4-0.3 0-0.4 0.6-1 0-0.6 1-1.7 0-0.3 0.4-0.4 0-0.3 0.3-0.3 0-0.4 0.3-0.3 0-0.3 0.4-0.4 0-0.3 0.6-0.7 0-0.3 0.4-0.3 0.3-1 0.7-0.7 0.3-1 1.3-1.7 0-0.3 0.7-0.7 0-0.3 0.7-0.7 0-0.3 0.6-0.7 0-0.3 2-2.3 0-0.4 1.7-1.6 0-0.4 2.3-2.3 0-0.3 4.7-4.7 0.3 0 2.4-2.3 0.3 0 1.7-1.7 0.3 0 1-1 0.3 0 2.4-2 0.3 0 0.7-0.7 0.3 0 0.7-0.6 0.3 0 0.7-0.7 0.3 0 1.7-1.3 1-0.4 0.6-0.6 0.4 0 0.3-0.4 1-0.3 0.7-0.7 1-0.3 0.3-0.3 0.3 0 0.4-0.4 0.3 0 0.3-0.3 0.4 0 0.3-0.3 0.3 0 0.4-0.4 0.3 0 0.3-0.3 0.4 0 0.3-0.3 0.3 0 0.4-0.4 0.3 0 0.3-0.3 0.7 0 0.3-0.3 0.4 0 1.6-1 0.7 0 0.3-0.4 0.4 0 0.3-0.3 0.7 0 1-0.7 0.6 0 0.4-0.3 0.6 0 0.4-0.3 0.6 0 0.4-0.4 0.6 0 0.4-0.3 0.6 0 0.4-0.3 0.6 0 0.4-0.4 0.6 0 0.4-0.3 0.6 0 0.4-0.3 1 0 0.3-0.4 0.7 0 0.3-0.3 1 0 0.3-0.3 1 0 0.4-0.4 1 0 0.3-0.3 1 0 0.3-0.3 1.4 0 0.3-0.4 1.3 0 0.4-0.3 1.6 0 0.4-0.3 1.6 0 0.4-0.4 1.6 0 0.6-0.3 2.1 0 0.6-0.3 2.7 0zM262.8 111.2l-5.3 0.8-5 1.4-5 2.1-4.3 2.6-3.9 3.1-3.1 3.3-2.7 4-1.7 4-1 4-0.2 4.3 0.6 4.4 1.4 4.3 2 4 2.9 4 3.4 3.7 4.3 3.5 5 3.3 5.3 2.7 5.7 2.3 6.6 2 6.7 1.4 9 1.1 13 0 0.8-0.3 2.5 0 0.5-0.4 1.9 0 0.4-0.3 1.6 0 0.3-0.3 1.7 0 0.3-0.4 1 0 0.3-0.3 1.4 0 0.3-0.3 0.7 0 0.3-0.4 1 0 0.3-0.3 0.7 0 0.3-0.3 1 0 0.4-0.4 0.6 0 0.4-0.3 0.6 0 1-0.7 0.7 0 1-0.6 0.7 0 0.3-0.4 0.3 0 0.4-0.3 0.3-0.1 0.3-0.3 0.4 0 3-1.7 0.3 0 0.3-0.3 0.4 0 0.6-0.7 0.4 0 1.6-1.3 0.4-0.1 0.6-0.6 0.4-0.1 3.4-3.1 0-0.4 1.1-1.3 0-1-0.3-1-1.9-3.5-4-5.3-7.3-8.6-8-8.6-6.4-6.1-5.9-4.9-4.4-3-4.6-2.7-4.4-2-4.7-1.7-4.6-1.2-4.7-0.7-5-0.3z"/><path fill="#c001c0" d="M283.1 88.5l9.4 0.1 9.8 0.9 9.3 1.7 8.6 2.3 8.1 3 4.3 2 3.8 2 6.8 4.3 3 2.4 3 2.6 2.7 2.7 2.3 2.7 2 2.6 1.9 3 1.6 3 1.2 3 1 3 0.8 3.4 0.4 3 0.1 3.3-0.1 3.3-0.5 3.4-0.8 3.2-1 3.1-1.3 3.3-1.5 3-2 3.4-2.4 3.3-2.4 3.1-3 3.3-3.4 3.3-3.6 3.3-8.4 6.4-10 6.7-10 5.7-10 4.7-10 3.7-9.6 2.6-9.7 1.7-10 0.9-10 0.1-9.3-0.9-4.4-0.7-4.3-1-4-1.1-4-1.4-3.7-1.6-3.3-1.7-4.3-2.6-4-3-3.7-3.3-3.3-3.7-3-4.2-2.4-4.1-1.9-4.5-1.4-4.4-1-5-0.5-4.6 0-5 0.5-5 1-5.1 1.7-5.7 2-5 2.3-4.7 2.7-4.5 3-4.3 3-3.7 4.3-4.7 4.3-4 0.7-0.3 1.3-1.4 0.7-0.3 1-1 0.3 0 1.1-1 0.3 0 0.6-0.7 1.4-1 0.3 0 0.7-0.6 0.3 0 0.7-0.7 0.3 0 0.8-0.7 3.9-2.3 0.3 0 0.9-0.7 4.6-2.3 5.4-2.3 6.4-2.4 5.7-1.6 7.3-1.7 6.2-1 6.1-0.7zM264.2 106.8l-5.7 0.9-5.7 1.6-5.3 2.2-5 2.9-4.3 3.4-3.6 3.7-2.8 4-2.1 4.3-1.2 4.4-0.5 4.6 0.4 4.4 1.3 4.6 1.9 4.4 2.9 4.3 3.5 4 4.2 3.7 5 3.5 5 2.7 6 2.6 5.6 1.9 6.7 1.7 6.3 1 7 0.6 6.4 0.1 7-0.5 5.6-0.8 7-1.6 6-1.9 3.4-1.3 6-3.1 3.7-2.6 0.3 0 2-1.7 2.9-3.3 1.9-3.3 0.5-1.7 0.2-1.3-0.1-1.7-0.4-1.6-1.8-3.7-1.9-2.9-2.7-3.5-6.8-8-6.8-7-6.2-5.3-5.1-3.7-5.8-3.3-5.7-2.7-6.5-2.3-6.4-1.7-5.3-0.8-5.7-0.4z"/><path fill="#d101d1" d="M285.8 90.5l9.7 0.3 8.7 1 8.4 1.7 9 2.7 8.1 3.3 6.8 3.6 6.3 4.4 5 4.5 2.4 2.5 2.1 2.7 1.9 2.7 1.6 2.9 1.4 3 0.9 2.7 0.8 3 0.4 3 0.2 3-0.1 3-0.4 3-0.6 3-1 3-1.2 3-1.4 2.7-1.8 3-2.2 3-2.6 3.1-2.7 2.8-3.3 3.1-4.4 3.6-15 11.7-5.9 4.3-7.1 4.4-7.3 3.8-7.7 3.1-7.6 2.3-8.7 1.7-4.7 0.6-4.3 0.2-8.7-0.1-8.3-1-4-0.9-4.7-1.2-8.6-3-9-4.1-4-2.1-3.4-2.1-3.9-2.9-3.4-3-3-3.3-2.7-3.6-2.2-3.8-1.8-4-1.3-4-1-4.6-0.5-4.4 0.1-4.6 0.4-4.7 1-4.7 1.3-4.5 1.7-4.2 2.3-4.6 2.7-4.3 2.7-3.8 3.3-3.9 3.6-3.7 3.8-3.3 4.3-3.3 4-2.7 4.6-2.7 5.3-2.6 4.7-2 5.6-2 5.6-1.7 5.5-1.3 5.2-1 7.3-1 5.8-0.5zM260.2 103.5l-5.4 0.9-5.6 1.9-5.4 2.6-5 3.3-4.3 3.9-3.5 4.1-2.9 4.6-1.9 4.7-1 4.7-0.2 5 0.6 4.6 1.4 4.7 2.3 4.7 3 4.3 4 4.3 4.5 3.9 5.4 3.6 5.6 3 6.4 2.6 6.3 2 6.3 1.5 7.4 1 7.3 0.5 7-0.1 7.3-0.7 6-1.1 6.4-1.7 6.3-2.3 5.3-2.7 5.4-3.4 4-3.4 3.3-3.7 1.3-2 1.1-2 0.8-2 0.5-2 0.2-2-0.1-2-0.3-2-0.7-2.3-1.1-2.5-1.5-2.5-4.2-5.9-5.6-6.4-4.9-4.4-5.6-3.6-8-4-10-4.4-9.4-3.3-7.3-2-8.2-1.5-7-0.7z"/><path fill="#df05df" d="M287.3 94.8l7.2-0.2 7.7 0.5 8 1.2 8 2 7.3 2.7 6.3 3 5.4 3.3 5.3 4.2 4.5 4.7 1.8 2.3 1.7 2.7 2.4 5 0.9 2.6 0.6 2.7 0.3 2.7 0 2.6-0.2 2.7-0.5 2.7-0.8 2.7-1 2.3-1.4 2.3-1.3 1.7-1 1-1 0.5-0.7-0.2-0.2-0.3-1.3-9-1-3.4-1.6-3.6-2.3-4-2.7-3.7-2.5-2.7-3.1-2.3-3.5-2-4.4-2-22.5-9-12.3-4.3-16.5-4.7-1.5-0.7-0.4-0.3-0.4-0.7 0.2-0.6 1-0.8 1.7-0.8 2.3-0.8 5-1.2zM219.5 121.1l1.7-0.7 0.4 0.1 0.3 0.3 0.1 0.7-1.7 9.3-0.2 3.4 0 3.3 0.7 5 1.6 5.3 1.3 3 1.4 2.7 1.7 2.7 2 2.6 4.7 5 5.7 4.7 5.7 3.7 6.6 3.3 6.6 2.7 7.6 2.3 9.3 2 4.6 0.7 6.2 0.6 8.4 0.3 14-0.2 3.6 0.3 1.4 0.3 0.8 0.7 0.1 1-0.7 1.3-2.7 2.7-4.2 3-5 2.7-5.7 2.5-5.6 2-6 1.6-5.7 1-6 0.6-5.7 0.1-5.6-0.3-5.4-0.8-5.3-1.2-5.3-1.7-4.7-2-4.7-2.5-4.3-2.8-4.5-3.6-4.5-4.3-4.6-5.3-4.3-5.7-2.9-4.7-2.2-4.3-1.5-4.3-0.9-4.4-0.4-5 0.4-5.3 1.1-5.2 1.6-4.8 2.4-4.6 3-4.5 3.6-4z"/><path fill="#eb13eb" d="M287.9 96.2l4.6-0.3 5 0 5 0.4 4.7 0.7 5 1 5 1.3 4.6 1.7 4 1.7 4 2 4.4 2.7 3.3 2.5 3.1 2.9 2.5 3 1.9 3 1 2.7 0.1 1-0.2 1-0.7 0.7-0.7 0.1-1.3-0.1-1.7-0.5-8.7-3.2-17-5.8-20.4-7.5-15-5-2.4-1-1.2-1 0-0.7 0.5-0.7 2-1 3.5-0.9zM219.3 157.5l1.2-0.1 2 1 11 8.8 3.9 2.6 3.7 2.4 7.1 3.6 8.2 3.4 5.1 1.6 4.9 1.4 10.1 2 9 1 15 0.9 3.7 0.4 1.6 0.4 1 0.6 0.4 0.7-0.1 0.6-1.1 1.7-1.9 1.7-3.1 2-3.8 1.9-4 1.7-4.4 1.5-4 1-4.6 1-4.4 0.6-4 0.3-4 0.1-4.3-0.2-4-0.5-4-0.7-4-1-3.7-1.1-3.6-1.5-3.4-1.6-3.3-2-3.3-2.3-2.8-2.2-2.8-2.7-2.4-2.7-2.2-3-2.1-3.3-1.6-3.3-1.3-3.4-1-3.6-0.5-3.4 0.1-3 0.6-2.1 0.6-0.9z"/><path fill="#f71ff7" d="M289.2 96.8l4-0.2 4.3 0 8.3 0.8 5 0.9 4 1 4.4 1.4 4 1.5 3.6 1.8 3.7 2 3.3 2.3 2.7 2.2 2.6 2.7 1.7 2.3 0.9 2 0.1 1-0.2 0.7-0.4 0.5-1 0.3-3-0.2-6.4-1.5-9-2.6-9-3-27.5-9.9-3.1-1.3-1.1-0.7-0.5-0.6 0-0.7 0.2-0.3 1.8-1 2.9-0.8zM224.1 164.2l1.4 0.2 2 0.9 10.9 6.5 7 3.7 6.1 2.7 6.4 2.3 8.2 2.3 7.9 1.7 9.2 1.3 12.6 1.3 3.7 0.5 2.4 0.9 0.6 0.7 0 1-1 1.3-2.1 1.7-2.6 1.5-3 1.5-7 2.4-4 1-4 0.8-7.3 0.7-7.3-0.1-7.4-1-6.6-1.7-6.4-2.6-3.3-1.8-3-1.9-2.7-2-2.5-2.2-2.3-2.3-2-2.3-2.1-3-1.6-3-1.3-3-0.9-3-0.3-2.7 0.2-2.3 0.4-1 0.4-0.6z"/><path fill="#ff35ff" d="M292.5 97.2l6.9 0 3.8 0.3 4.6 0.7 3.4 0.6 5 1.4 6.3 2.3 3.7 1.8 3 1.7 2.7 1.8 2.4 2 2 2 1.4 2 0.6 1.7-0.2 1-0.6 0.7-1 0.3-1.7 0.1-2-0.2-5-0.9-7-1.9-10-3.3-21.4-7.8-4.6-2-0.9-0.7-0.5-0.6 0.1-0.7 0.3-0.3 2-1 3.4-0.7zM227 168.8l1.8 0 2.4 0.7 16.6 7.9 5 2 5.7 2 7.3 2 7.7 1.6 6 1 11.9 1.5 4.1 0.7 2.7 1 0.6 0.6 0.1 1-0.7 1-1.5 1.4-2.2 1.3-3 1.4-6.3 2.2-7.4 1.5-6.6 0.6-6.7-0.1-6.3-0.8-6.4-1.5-5.6-2.2-5.7-2.9-4.9-3.5-2.2-2-2.3-2.4-1.6-2-1.7-2.6-1.1-2.4-0.9-2.6-0.5-2.4 0.1-2 0.6-1.3z"/><path fill="#ff56ff" d="M296.5 98.2l6 0.2 6.3 0.9 5.7 1.4 5.7 1.9 5.3 2.6 4.5 3 1.8 1.6 1.1 1.4 0.7 1.3 0 1-0.5 0.7-0.9 0.3-3 0.1-5.4-0.9-7-1.7-10.3-3.3-12-4.5-4.6-2-1.3-1-0.4-0.7 0.3-0.7 0.4-0.3 1.6-0.6 2.7-0.5zM231.6 174.2l0.9-0.3 1 0 2.7 0.5 16 6.1 10.8 3.3 8.6 2 17.4 3.4 2 0.6 1.1 0.7 0.5 0.7 0 0.6-0.7 1-1.2 1-3.5 1.8-5.4 1.7-5.6 1-5.7 0.4-5.7-0.1-5.3-0.7-5.3-1.2-5-1.8-4.7-2.3-4.3-2.8-3.7-3.2-3.2-3.8-2-3.6-0.5-1.7-0.2-1.7 0.3-1z"/><path fill="#ff7aff" d="M295.7 99.5l4.5-0.3 5.3 0.3 6 1.1 5.3 1.6 5.4 2.2 4.1 2.4 1.7 1.4 1.3 1.3 0.7 1 0.1 1-0.5 0.7-1.1 0.3-2 0.1-2.7-0.4-7-1.5-9.3-3-8.5-3.2-2.9-1.3-1.7-1-1-1 0.1-0.7 1-0.7zM235.9 177.5l1.9-0.2 2.7 0.5 20.1 6.4 20.5 5 3.5 1.3 0.8 0.7 0.3 1-0.4 0.6-0.8 0.7-3 1.4-4 1.1-4.7 0.7-4.3 0.2-4.7-0.2-4.6-0.7-4.4-1-4.3-1.6-4-1.9-3.7-2.3-2.9-2.4-2.8-3-1.6-2.6-0.4-1.4-0.1-1 0.2-0.6z"/><path fill="#ff9dff" d="M301.8 100.2l3.7 0.1 4.3 0.7 4.4 1.1 4 1.3 3.6 1.8 3.1 2 1.7 1.6 0.3 0.7-0.1 0.7-0.3 0.3-1 0.3-2.3 0-3.7-0.6-5-1.3-6-1.9-5.6-2.2-3.4-1.6-1.6-1.4-0.1-0.6 0.7-0.5 1.3-0.4zM240.3 180.2l2.2-0.1 3.3 0.7 14.4 4.2 14 3.8 3 1 1.3 0.7 0.9 0.7 0.2 0.3 0 0.7-1 1-2.4 1-3 0.6-3.7 0.4-3.7 0-3.6-0.3-3.7-0.6-3.7-1-3.3-1.2-3.3-1.5-2.9-1.8-2.6-2-2.2-2.3-1.1-2-0.2-1 0.1-0.7z"/><path fill="#ffcaff" d="M302.8 101.5l2.4-0.2 3 0.2 3.6 0.7 3.5 1 3.3 1.3 2.5 1.3 1.7 1.4 0.5 0.6 0.2 0.7-0.3 0.3-0.7 0.3-2.7-0.1-4-0.8-4.7-1.4-4.4-1.6-3.4-1.7-0.9-0.7-0.4-0.6 0.2-0.4zM244.4 182.8l1.8-0.1 3.3 0.5 17.9 5 2.9 1 2.2 1 1.1 1 0 0.6-0.8 0.7-2 0.7-2.3 0.3-2.3 0.1-5.4-0.4-5.3-1.2-2.7-1-2.6-1.2-2.2-1.3-1.8-1.3-1.4-1.4-0.9-1.3-0.1-1z"/></g></g>
<path class="ax" d="M148.5 111.53L148.5 264.53L314.7 342.27L431.7 232.17M148.5 251.23L143.97 249.11M162.04 270.87L158.4 274.29M421.5 241.77L426.03 243.89M148.5 187.73L143.97 185.61M231.4 303.31L227.76 306.73M372.6 287.78L377.13 289.9M148.5 124.23L143.97 122.11M300.76 335.75L297.12 339.17M323.7 333.8L328.23 335.92"/>
<text class="t" x="119.47" y="129.4" font-size="26.5">4</text>
<text class="t" x="119.38" y="192.8" font-size="26.5">0</text>
<text class="t" x="110.14" y="256.9" font-size="26.5">-4</text>
<text class="t" x="126.69" y="305" font-size="26.5">-4</text>
<text class="t" x="205.68" y="337.2" font-size="26.5">0</text>
<text class="t" x="274.87" y="369.4" font-size="26.5">4</text>
<text class="t" x="336.42" y="363.75" font-size="26.5">4</text>
<text class="t" x="384.98" y="316.6" font-size="26.5">0</text>
<text class="t" x="433.09" y="271" font-size="26.5">-4</text>
<text class="s" y="333.1"><tspan x="386.09" dy="0" font-size="27.64">x</tspan><tspan x="399.88" dy="3" font-size="32.98" class="el">[</tspan><tspan x="409.94" dy="-3" font-size="28.52" font-style="italic">c</tspan><tspan x="423.94" dy="4.03" font-size="35.77" class="el">/</tspan><tspan x="436.25" dy="-4.03" font-size="28.52" font-style="italic">ω</tspan><tspan x="452.74" dy="3" font-size="32.98" class="el">]</tspan></text>
<text class="s" y="348.75"><tspan x="96.58" dy="0" font-size="27.64">y</tspan><tspan x="110.53" dy="3" font-size="32.98" class="el">[</tspan><tspan x="120.59" dy="-3" font-size="28.52" font-style="italic">c</tspan><tspan x="134.59" dy="4.03" font-size="35.77" class="el">/</tspan><tspan x="146.9" dy="-4.03" font-size="28.52" font-style="italic">ω</tspan><tspan x="163.39" dy="3" font-size="32.98" class="el">]</tspan></text>
<text class="s" y="0" transform="translate(93.9 225) rotate(-90)"><tspan x="0.05" dy="0" font-size="27.64">z</tspan><tspan x="9.57" dy="3" font-size="32.98" class="el">[</tspan><tspan x="19.64" dy="-3" font-size="28.52" font-style="italic">c</tspan><tspan x="33.63" dy="4.03" font-size="35.77" class="el">/</tspan><tspan x="45.95" dy="-4.03" font-size="28.52" font-style="italic">ω</tspan><tspan x="62.43" dy="3" font-size="32.98" class="el">]</tspan></text>
<text class="cap" y="440.3"><tspan x="254.08" font-size="49" textLength="14.59" lengthAdjust="spacingAndGlyphs">(</tspan><tspan x="269.46" font-size="45" textLength="22.97" lengthAdjust="spacingAndGlyphs">a</tspan><tspan x="293.58" font-size="49" textLength="14.65" lengthAdjust="spacingAndGlyphs">)</tspan></text></g>
<g id="pb"><path class="gr" d="M811.48 181.88L983.89 251.05M835.48 179.24L714.67 277.66M811.48 181.88L811.48 9.65M821.57 159.59L700.76 258.01M835.48 179.24L835.48 7.01M821.57 159.59L993.99 228.76M760.96 223.04L933.37 292.21M907.46 208.12L786.66 306.54M760.96 223.04L760.96 50.81M821.57 87.43L700.76 185.85M907.46 208.12L907.46 35.89M821.57 87.43L993.99 156.6M710.44 264.2L882.85 333.37M979.45 237L858.64 335.42M710.44 264.2L710.44 91.97M821.57 15.27L700.76 113.69M979.45 237L979.45 64.77M821.57 15.27L993.99 84.44"/>
<clipPath id="csb1"><use href="#sb1"/></clipPath><g opacity="0.45" clip-path="url(#csb1)"><g filter="url(#bl)"><path id="sb1" fill="#4f004f" stroke="#4f004f" stroke-width="3" d="M845.2 79.3l0.3-0.3 3.7 0 0.3 0.3 3.7 0 0.3 0.3 2 0 0.3 0.4 1.4 0 0.3 0.3 1 0 0.3 0.3 1 0 0.4 0.4 1 0 0.3 0.3 0.7 0 0.3 0.3 0.7 0 0.3 0.4 0.7 0 1.6 1 0.7 0 1.7 1 0.3 0 0.3 0.3 1 0.3 0.7 0.7 1 0.3 1.7 1.4 0.3 0 1.3 1.3 0.4 0 5.2 5.2 0 0.3 1 1 0 0.4 1.3 1.6 0 0.4 0.3 0.3 0 0.3 0.4 0.4 0 0.3 0.3 0.3 0 0.4 1 1.6 0 0.7 0.3 0.3 0 0.7 0.4 0.3 0 0.7 0.3 0.3 0 1 0.3 0.4 0 1.6 0.4 0.4 0 6.6-0.3 0.4-0.1 1.6-0.3 0.4 0 1-0.3 0.3 0 0.7-0.3 0.3 0 0.7-0.4 0.3 0 0.7-0.6 1 0 0.6-0.7 1 0 0.4-0.7 0.6-0.3 1-0.7 0.7-0.3 1-1 1 0 0.3-1.3 1.4 0 0.3-3.9 3.9-0.4 0-1.3 1.3-0.3 0-1 1-0.4 0-1.6 1.4-1 0.3-0.7 0.7-0.3 0-0.4 0.3-0.3 0-0.3 0.3-0.4 0-0.3 0.4-0.3 0-0.4 0.3-0.3 0-1.7 1-0.6 0-0.4 0.3-0.6 0-0.4 0.4-0.3 0-0.3 0.3-0.7 0-0.3 0.3-1 0-0.4 0.4-1 0-0.3 0.3-1 0-0.3 0.3-1.4 0-0.3 0.4-2 0-0.3 0.3-9.7 0-0.3-0.4-2 0-0.4-0.3-1.3 0-0.3-0.3-1 0-0.4-0.4-1 0-0.3-0.3-0.7 0-0.3-0.3-0.7 0-0.3-0.4-0.7 0-0.3-0.3-0.7 0-1-0.7-0.6 0-0.4-0.3-0.3 0-0.3-0.3-0.4 0-0.3-0.4-0.3 0-0.4-0.3-0.3 0-0.3-0.3-1-0.4-0.7-0.6-0.3 0-0.4-0.4-0.3 0-0.7-0.6-0.3 0-2.3-2-0.4 0-1.6-1.7-0.4 0-2.5-2.5 0-0.4-1.7-1.6 0-0.4-1-1 0-0.3-0.6-0.7 0-0.3-0.7-0.7 0-0.3-0.7-1 0-0.3-0.3-0.4 0-0.3-0.7-1 0-0.3-0.3-0.4 0-0.6-0.7-1 0-1-0.3-0.4 0-0.6-0.3-0.4 0-1-0.4-0.3 0-2-0.3-0.3 0-5.4 0.3-0.3 0-2 0.4-0.3 0-1 0.3-0.4 0-1 0.3-0.3 0-0.7 0.7-1 0-0.6 0.3-0.4 0-0.3 1-1.7 0-0.3 0.7-0.7 0.3-1 2-2.3 0-0.3 4.6-4.6 0.3 0 1.3-1.3 0.4 0 0.6-0.7 0.4 0 1.6-1.3 1-0.3 0.7-0.7 1-0.3 1-0.7 0.7 0 1.6-1 0.7 0 1-0.7 0.7 0 0.3-0.3 1 0 0.3-0.3 0.7 0 0.3-0.4 1 0 0.4-0.3 1 0 0.3-0.3 1.3 0 0.4-0.4 2 0 0.3-0.3zM845.8 200.6l0.4-0.3 2.3 0 0.3 0.3 4 0 0.4 0.4 1.6 0 0.4 0.3 1.3 0 0.3 0.3 1 0 0.4 0.4 1 0 0.3 0.3 0.7 0 0.3 0.3 0.7 0 0.3 0.4 0.7 0 1 0.6 0.6 0 0.4 0.4 0.3 0 1.7 1 0.3 0 1.7 1 0.3 0 0.3 0.3 0.4 0 0.6 0.7 1 0.3 1 1 0.4 0 0.6 0.7 0.4 0 1.3 1.3 0.3 0 4.6 4.5 0 0.4 1 1 0 0.3 1 1 0 0.3 0.6 0.7 0.4 1 0.6 0.7 0 0.3 0.4 0.3 0 0.4 0.6 1 0 0.6 0.7 1 0 0.7 0.3 0.3 0 0.7 0.4 0.3 0 0.7 0.3 0.3 0 1 0.3 0.4 0 1.6 0.4 0.4 0 6.6-0.3 0.4-0.1 1.6-0.3 0.4 0 1-0.3 0.3 0 0.7-0.3 0.3 0 0.7-0.4 0.3 0 0.7-1 1.6 0 0.4-0.3 0.3 0 0.3-0.3 0.4 0 0.3-0.4 0.3 0 0.4-1.3 1.6 0 0.4-1 1 0 0.3-5.2 5.2-0.4 0-1 1-0.3 0-0.7 0.7-0.3 0-1.7 1.3-1 0.4-0.3 0.3-0.3 0-0.7 0.7-0.3 0-1 0.6-0.7 0-1.7 1-0.6 0-0.4 0.4-0.6 0-0.4 0.3-0.6 0-0.4 0.3-0.6 0-0.4 0.4-0.6 0-0.4 0.3-1 0-0.3 0.3-1.3 0-0.4 0.4-1.3 0-0.3 0.3-2 0-0.4 0.3-11 0-0.3-0.3-2 0-0.3-0.4-1.4 0-0.3-0.3-1.3 0-0.4-0.3-1 0-0.3-0.4-0.7 0-0.3-0.3-0.7 0-0.3-0.3-0.7 0-0.3-0.4-0.7 0-1-0.6-0.6 0-0.4-0.4-0.3 0-0.3-0.3-0.4 0-0.3-0.3-0.3 0-0.4-0.4-0.3 0-0.3-0.3-0.4 0-0.3-0.3-1-0.4-0.7-0.6-1-0.4-0.6-0.6-0.4 0-1-1-0.3 0-1-1-0.3 0-2.2-2.2-2-2 0-0.4-1.4-1.3 0-0.3-0.6-0.7 0-0.3-0.7-0.7-0.3-1-0.7-0.7-0.3-1-0.4-0.3 0-0.7-0.6-1 0-0.6-0.4-0.4 0-0.6-0.3-0.4 0-0.6-0.3-0.4 0-1-0.4-0.3 0-2-0.3-0.3 0-5.4 0.3-0.3 0-2 0.4-0.3 0-1 0.3-0.4 0-1 0.3-0.3 0-0.7 0.7-1 0-0.6 0.3-0.4 0.4-1 0.3-0.3 0-0.3 1-1.7 0-0.3 0.7-0.7 0-0.3 0.6-0.7 0-0.3 1-1 0-0.4 1.4-1.3 0-0.3 3.2-3.2 0.3 0 1.7-1.7 0.3 0 1-1 0.3 0 0.7-0.7 0.3 0 0.7-0.6 1-0.4 0.7-0.6 0.3 0 1.7-1 0.3 0 1.7-1 0.3 0 0.3-0.4 0.7 0 1-0.6 0.7 0 0.3-0.4 0.7 0 0.3-0.3 1 0 0.3-0.3 0.7 0 0.3-0.4 1 0 0.4-0.3 1.3 0 0.3-0.3 2 0 0.4-0.4z"/><path fill="#680068" d="M853.1 84.2l4.1 0 4 0.3 4 0.8 3.6 1.1 3.4 1.4 3 1.7 2.6 1.9 2.4 2.3 1 1.1 0 0.4 0.6 0.6 0 0.4 0.7 0.6 0 0.4 0.3 0.3 0 0.3 0.4 0.4 0 0.3 0.3 0.3 0 0.4 1 1.6 0 0.7 0.4 0.3 0 0.7 0.3 0.3 0 0.7 0.3 0.3 0 1 0.4 0.4 0 1.6 0.3 0.4 0 6.6-0.3 0.4 0 1.6-0.4 0.4 0 1-0.3 0.3 0 0.7-0.3 0.3 0 0.7-0.3 0.3-0.1 0.7-0.6 1 0 0.6-0.7 1 0 0.4-0.6 0.6-0.4 1-0.6 0.7-0.4 1-1 1 0 0.3-1.3 1.4 0 0.3-3.7 3.7-0.4 0-1.3 1.4-0.3 0-1 1-0.4 0-1.6 1.3-1 0.3-0.7 0.7-0.3 0-0.4 0.3-0.3 0-0.3 0.4-0.4 0-0.3 0.3-0.3 0-0.4 0.3-0.3 0-1.7 1-0.6 0-0.4 0.3-0.6 0.1-0.4 0.3-0.3 0-0.3 0.3-0.7 0-0.3 0.3-1 0.1-0.4 0.3-1 0-0.3 0.3-1 0-0.3 0.3-1.4 0-0.3 0.4-2 0-0.3 0.3-9.7 0-0.3-0.3-2 0-0.4-0.4-1.3 0-0.3-0.3-1 0-0.4-0.3-1 0-0.3-0.4-0.7 0-0.3-0.3-0.7 0-0.3-0.3-0.7 0-0.3-0.4-0.7 0-1-0.6-0.6 0-0.4-0.4-0.3 0-0.3-0.3-0.4 0-0.3-0.3-0.3 0-0.4-0.4-0.3 0-0.3-0.3-1-0.4-0.7-0.6-0.3 0-0.4-0.4-0.3 0-0.7-0.6-0.3 0-2.3-2-0.4 0-3.3-3.3-2.3-3.3-1.1-2.1-0.8-2.3-0.6-2.4-0.3-2.3 0-2.7 0.2-2.3 0.6-2.6 0.7-2.4 2.3-4.7 1.5-2.3 1.9-2.3 4.1-4 5.1-3.7 5.7-3 6-2.2 6.2-1.5zM854.6 206.8l4.2 0.1 4 0.5 4 0.9 3.7 1.2 3.3 1.6 2.7 1.8 2.7 2.3 2 2.3 0 0.3 0.6 0.7 0.4 1 0.6 0.7 0.4 1 0.3 0.3 0 0.3 0.3 0.4 0.1 0.6 0.6 1 0 0.7 0.4 0.3 0 0.7 0.3 0.3 0 0.7 0.3 0.3 0 1 0.4 0.4 0 1.6 0.3 0.4 0 6.6-0.3 0.4 0 1.6-0.4 0.4 0 1-0.3 0.3 0 0.7-0.3 0.3 0 0.7-0.3 0.3-0.1 0.7-0.9 1.6 0 0.4-0.4 0.3 0 0.3-0.3 0.4 0 0.3-0.3 0.3-0.1 0.4-1.3 1.6 0 0.4-1 1 0 0.3-5 5.1-0.4 0-1 1-0.3 0-0.7 0.6-0.3 0-1.7 1.4-1 0.3-0.3 0.3-0.3 0-0.7 0.7-0.3 0-1 0.6-0.7 0.1-1.7 0.9-0.6 0.1-0.4 0.3-0.6 0-0.4 0.3-0.6 0-0.4 0.3-0.6 0.1-0.4 0.3-0.6 0-0.4 0.3-1 0-0.3 0.3-1.3 0-0.4 0.4-1.3 0-0.3 0.3-2 0-0.4 0.3-11 0-0.3-0.3-2 0-0.3-0.3-1.4 0-0.3-0.4-1.3 0-0.4-0.3-1 0-0.3-0.3-0.7 0-0.3-0.4-0.7 0-0.3-0.3-0.7 0-0.3-0.3-0.7 0-1-0.7-0.6 0-0.4-0.3-0.3 0-0.3-0.4-0.4 0-0.3-0.3-0.3 0-0.4-0.3-0.3 0-0.3-0.4-0.4 0-0.3-0.3-1-0.4-0.7-0.6-0.3 0-0.3-0.3-0.4-0.1-0.6-0.6-0.4 0-2.3-2-0.3 0-2.7-2.7-2.3-3.4-1.7-3.9-0.4-2-0.3-2.4 0.2-4.3 1.2-4.3 2-4.3 3-4.3 3.5-3.8 4.5-3.6 5-3.1 5.6-2.6 5.7-1.9 6-1.2z"/><path fill="#7a007a" d="M852.8 85.8l4.4-0.1 4.3 0.4 4 0.7 3.7 1 3.4 1.4 3.1 1.6 2.8 2.1 2.3 2.2 2.4 3.1 0 0.3 0.3 0.3 0 0.4 1 1.6 0 0.7 0.3 0.3 0 0.7 0.4 0.3 0 0.7 0.3 0.3 0 1 0.3 0.4 0.1 1.6 0.3 0.4 0 6.6-0.3 0.4 0 1.6-0.4 0.4 0 1-0.3 0.3 0 0.7-0.3 0.3 0 0.7-0.4 0.3 0 0.7-0.6 1 0 0.6-0.7 1 0 0.4-0.7 0.6-0.3 1-0.7 0.7-0.3 1-1 1 0 0.3-1.3 1.4 0 0.3-3.7 3.7-0.4 0-1.3 1.3-0.3 0-1 1-0.4 0-1.6 1.4-1 0.3-0.7 0.7-0.3 0-0.4 0.3-0.3 0-0.3 0.3-0.4 0-0.3 0.4-0.3 0-0.4 0.3-0.3 0-1.7 1-0.6 0-0.4 0.3-0.6 0-0.4 0.4-0.3 0-0.3 0.3-0.7 0-0.3 0.3-1 0-0.4 0.4-1 0-0.3 0.3-1 0-0.3 0.3-1.4 0-0.3 0.4-2 0-0.3 0.3-9.7 0-0.3-0.3-2 0-0.4-0.4-1.3 0-0.3-0.3-1 0-0.4-0.3-1-0.1-0.3-0.3-0.7 0-0.3-0.3-0.7 0-0.3-0.3-0.7-0.1-0.3-0.3-0.7 0-1-0.7-0.6 0-0.4-0.3-0.3 0-0.3-0.3-0.4 0-0.3-0.4-0.3 0-0.4-0.3-0.3 0-0.3-0.3-1-0.4-0.7-0.6-0.3 0-2.3-1.7-3.2-3.3-1.5-2-1.1-2-1.6-4.4-0.5-2.3-0.3-2.7 0.1-2.6 0.3-2.4 1.3-4.6 2.1-4.4 3.1-4.3 4-4 4.5-3.3 5.1-2.8 5.6-2.3 6-1.5zM852 208.8l4.2-0.2 4.3 0.2 4 0.5 4 1 3.3 1.2 3.4 1.7 3 2.1 2.3 2.2 1.7 2 1.6 2.7 0 0.6 0.7 1 0 0.7 0.3 0.3 0 0.7 0.4 0.3 0 0.7 0.3 0.3 0 1 0.3 0.4 0.1 1.6 0.3 0.4 0 6.6-0.3 0.4 0 1.6-0.4 0.4 0 1-0.3 0.3 0 0.7-0.3 0.3 0 0.7-0.4 0.3 0 0.7-1 1.6 0 0.4-0.3 0.3 0 0.3-0.3 0.4 0 0.3-0.4 0.3 0 0.4-1.3 1.6 0 0.4-1 1 0 0.3-5 5-0.4 0-1 1-0.3 0-0.7 0.7-0.3 0-1.7 1.3-1 0.4-0.3 0.3-0.3 0-0.7 0.7-0.3 0-0.4 0.3-0.3 0-0.3 0.3-0.7 0-1.7 1-0.6 0-0.4 0.4-0.6 0-0.4 0.3-0.6 0-0.4 0.3-0.6 0-0.4 0.4-0.6 0-0.4 0.3-1 0-0.3 0.3-1.3 0-0.4 0.4-1.3 0-0.3 0.3-2 0-0.4 0.3-11 0-0.3-0.3-2 0-0.3-0.3-1.4 0-0.3-0.4-1.3 0-0.4-0.3-1 0-0.3-0.3-0.7-0.1-0.3-0.3-0.7 0-0.3-0.3-0.7 0-0.3-0.3-0.7-0.1-1-0.6-0.6 0-0.4-0.4-0.3 0-0.3-0.3-0.4 0-0.3-0.3-0.3 0-0.4-0.4-0.3 0-0.3-0.3-0.4 0-0.3-0.3-1-0.4-0.7-0.6-0.9-0.4-2.1-1.6-3-3.1-1.3-1.9-1.1-2-1.3-4-0.3-2-0.2-2.4 0.2-2.3 0.4-2.3 1.4-4.4 2.4-4.3 3.1-4 3.8-3.7 4.6-3.3 5-2.8 5.7-2.3 5.6-1.6z"/><path fill="#8c008c" d="M852 87.8l3.8-0.2 4 0 4 0.5 3.7 0.7 3.3 1.1 3 1.3 3 1.7 2.7 2 2.3 2.4 1.7 2.3 1.3 2.5 0 0.4 0.4 0.5 0 0.5 0.3 0.4 0 0.9 0.3 0.4 0 1.6 0.4 0.4 0 6.6-0.3 0.4 0 1.6-0.4 0.4 0 1-0.3 0.3 0 0.7-0.3 0.3 0 0.7-0.4 0.3 0 0.7-0.6 1 0 0.6-0.7 1 0 0.4-0.7 0.6-0.3 1-0.7 0.7-0.3 1-1 1 0 0.3-1.3 1.4 0 0.3-3.7 3.7-0.4 0-1.3 1.3-0.3 0-1 1-0.4 0-1.6 1.4-1 0.3-0.7 0.7-0.3 0-0.4 0.3-0.3 0-0.3 0.3-0.4 0-0.3 0.4-0.3 0-1.7 1-0.3 0-0.4 0.3-0.6 0-0.4 0.3-0.6 0-0.4 0.4-0.3 0-0.3 0.3-0.7 0-0.3 0.3-1 0-0.4 0.4-1 0-0.3 0.3-1 0-0.3 0.3-1.4 0-0.3 0.4-2 0-0.3 0.3-9.7 0-0.3-0.4-2 0-0.4-0.3-1.3 0-0.3-0.3-1 0-0.4-0.4-1 0-0.3-0.3-0.7 0-0.3-0.3-0.7 0-0.3-0.4-0.7 0-0.3-0.3-0.5 0-0.8-0.3-2.4-1.4-1.9-1.3-1.9-1.7-1.5-1.6-2.6-3.7-1.9-4.3-0.6-2.4-0.4-2.3-0.1-2.3 0.1-2.7 0.9-4.7 1.7-4.3 2.7-4.3 3.5-4 4-3.4 4.8-3 5.2-2.3 5.5-1.7zM852.3 210.8l4.2-0.2 4.3 0.1 4 0.5 3.7 0.8 3.3 1.2 3.4 1.6 2.6 1.7 2.7 2.3 2.3 2.7 1.7 2.9 0.3 1.1 0.4 0.4 0 0.6 0.3 0.4 0 0.9 0.3 0.4 0 1.6 0.4 0.4 0 6.6-0.3 0.4 0 1.6-0.4 0.4 0 1-0.3 0.3 0 0.7-0.3 0.3 0 0.7-0.4 0.3 0 0.7-1 1.6 0 0.4-0.3 0.3 0 0.3-0.3 0.4 0 0.3-0.4 0.3 0 0.4-1.3 1.6 0 0.4-1 1 0 0.3-5 5-0.4 0-1 1-0.3 0-0.7 0.7-0.3 0-1.7 1.3-1 0.4-0.3 0.3-0.3 0-0.7 0.7-0.3 0-0.4 0.3-0.3 0-0.3 0.3-0.7 0-1.7 1-0.6 0-0.4 0.4-0.6 0-0.4 0.3-0.6 0-0.4 0.3-0.6 0-0.4 0.4-0.6 0-0.4 0.3-1 0-0.3 0.3-1.3 0-0.4 0.4-1.3 0-0.3 0.3-2 0-0.4 0.3-11 0-0.3-0.3-2 0-0.3-0.4-1.4 0-0.3-0.3-1.3 0-0.4-0.3-1 0-0.3-0.4-0.7 0-0.3-0.3-0.7 0-0.3-0.3-0.7 0-0.3-0.4-0.7 0-1-0.6-0.5 0-2.5-1.4-3.6-2.6-3.1-3.4-1.3-1.8-1-2-0.7-1.8-0.6-2.3-0.4-4.1 0.5-4.3 1.3-4.3 2.3-4.2 3-4 3.6-3.5 4.4-3.3 4.8-2.7 5.2-2.1 5.3-1.6z"/><path fill="#9e009e" d="M854.8 89.8l3.7-0.1 3.6 0.1 3.4 0.5 3.3 0.8 3.3 1.1 2.7 1.2 2.7 1.6 2.3 1.8 2 2.1 1.7 2.2 1.3 2.4 1 2.9 0.4 1.6 0 5.8-0.4 0.4 0 1.6-0.3 0.4 0 1-0.3 0.3 0 0.7-0.3 0.3-0.1 0.7-0.3 0.3 0 0.7-0.6 1-0.1 0.6-0.6 1 0 0.4-0.7 0.6-0.3 1-0.7 0.7-0.3 1-1 1 0 0.3-1.3 1.4 0 0.3-3.7 3.7-0.4 0-1.3 1.3-0.3 0-1 1-0.4 0-1.6 1.4-1 0.3-0.7 0.7-0.3 0-0.4 0.3-0.3 0-0.3 0.3-0.4 0-0.3 0.4-0.3 0-0.4 0.3-0.3 0-1.7 1-0.6 0-0.4 0.3-0.6 0-0.4 0.4-0.3 0-0.3 0.3-0.7 0-0.3 0.3-1 0-0.4 0.3-1 0.1-0.3 0.3-1 0-0.3 0.3-1.4 0-0.3 0.3-2 0-0.3 0.4-9.7 0-0.3-0.4-1.6 0-2.5-0.6-3.9-1.7-2.2-1.3-1.7-1.4-3.2-3.3-2.5-4-1.7-4.3-0.8-4.7 0.1-4.7 1-4.6 1.8-4.4 2.5-4 3.3-3.6 3.7-3.1 4.7-2.8 4.8-2.1 5.5-1.6zM854.9 212.8l3.9-0.1 3.7 0.2 3.7 0.5 3.3 0.9 3.3 1.2 3 1.5 2.7 1.7 2.3 2.1 2 2.3 1.7 2.8 1 2.4 0.7 2.8 0 5.7-0.4 0.4 0 1.6-0.3 0.4 0 1-0.3 0.3 0 0.7-0.3 0.3-0.1 0.7-0.3 0.3 0 0.7-1 1.6 0 0.4-0.3 0.3 0 0.3-0.3 0.4 0 0.3-0.4 0.3 0 0.4-1.3 1.6 0 0.4-1 1 0 0.3-5 5-0.4 0-1 1-0.3 0-0.7 0.7-0.3 0-1.7 1.3-1 0.4-0.3 0.3-0.3 0-0.7 0.7-0.3 0-0.4 0.3-0.3 0-0.3 0.3-0.7 0-1.7 1-0.6 0-0.4 0.4-0.6 0-0.4 0.3-0.6 0-0.4 0.3-0.6 0-0.4 0.3-0.6 0.1-0.4 0.3-1 0-0.3 0.3-1.3 0-0.4 0.3-1.3 0-0.3 0.4-2 0-0.4 0.3-10.9 0-0.4-0.3-1.7 0-0.6-0.4-1 0-0.7-0.3-0.5 0-3.8-1.3-4.3-2.4-3.3-2.6-2.7-3.4-2-3.6-1.1-4-0.3-4.4 0.6-4.3 1.4-3.9 2.3-4.1 2.8-3.7 3.6-3.3 4.1-3 4.9-2.6 5-1.9 5.3-1.4z"/><path fill="#b000b0" d="M855.8 92.5l3-0.2 3.4 0 3.3 0.4 3 0.6 3 0.8 2.7 1.2 2.6 1.4 2.4 1.7 2 1.9 1.6 2 1.4 2.2 1 2.4 0.6 2.7 0.2 2.2-0.2 3.6-0.3 0.8 0 0.9-0.3 0.4 0 0.7-0.4 0.3 0 0.7-0.3 0.3 0 0.7-0.7 1 0 0.6-0.6 1 0 0.4-0.7 0.6-0.3 1-0.7 0.7-0.3 1-1 1 0 0.3-1.4 1.4 0 0.3-3.6 3.7-0.4 0-1.3 1.3-0.3 0-1 1-0.4 0-1.6 1.3-1 0.4-0.7 0.6-0.3 0-0.4 0.4-0.3 0-0.3 0.3-0.4 0-0.3 0.3-0.3 0-0.4 0.4-0.3 0-1.7 1-0.6 0-0.4 0.3-0.6 0-0.4 0.3-0.3 0-0.3 0.4-0.7 0-0.3 0.3-1 0-0.4 0.3-1 0-0.3 0.4-1 0-0.3 0.3-1.4 0-0.3 0.3-2 0-0.3 0.3-0.7 0.1-2 0-2.7-0.2-3.2-0.5-3.8-1.3-2-1-2-1.4-3.1-3-2.4-3.3-1.8-4-1-4.7-0.2-4.6 0.7-4.7 1.3-4 2.1-4 2.9-3.7 3.2-3 4-2.7 4.7-2.2 4.6-1.5zM854.3 215.5l3.5-0.3 3.4 0 3.3 0.3 3.3 0.6 3 0.8 3 1.2 2.7 1.4 2.3 1.6 2.3 2.1 1.7 2.1 1.4 2.2 1 2.4 0.6 2.6 0.2 2.3-0.2 3.7-0.3 0.7 0 0.9-0.3 0.4 0 0.7-0.4 0.3 0 0.7-0.3 0.3 0 0.7-1 1.6 0 0.4-0.3 0.3 0 0.3-0.4 0.4 0 0.3-0.3 0.3 0 0.4-1.3 1.6 0 0.4-1 1 0 0.3-5 5-0.4 0-1 1-0.3 0-0.7 0.7-0.3 0-1.7 1.3-1 0.3-0.3 0.4-0.3 0-0.7 0.6-0.3 0-1 0.7-0.7 0-1.7 1-0.6 0-0.4 0.3-0.6 0-0.4 0.4-0.6 0-0.4 0.3-0.6 0-0.4 0.3-0.6 0-0.4 0.4-1 0-0.3 0.3-1.3 0-0.4 0.3-1.3 0-0.3 0.4-2 0-1 0.3-5.2 0-2.8-0.3-3.1-0.7-4.6-1.7-3.9-2.3-3.1-2.7-2.5-3.3-1.8-3.7-1-4-0.1-4 0.8-4.3 1.5-4 2.4-4 3-3.5 3.7-3.1 4.2-2.7 4.5-2.1 5-1.6z"/><path fill="#c101c1" d="M860 95.5l5.8 0.3 2.7 0.4 2.7 0.8 2.3 0.8 2.3 1.2 2 1.3 2 1.6 1.7 1.9 1.3 1.9 1 2 0.7 1.8 0.5 2.3 0.1 2.4-0.1 2.3-0.5 2.4-0.7 2.1-1 2.3-1.3 2.4-1.7 2.5-2 2.3-2 2-3.3 2.7-3 2-0.3 0-1.6 1-3.6 1.6-3 1-2.9 0.7-2.9 0.4-3 0.1-2.7-0.3-2.7-0.5-3.6-1.5-3.3-2.2-2.7-3-1.8-3.3-1.3-4-0.6-4.4 0.2-4.3 1-4.7 1.4-4 1.8-3.3 2.7-3.3 2.9-2.5 3.3-2.1 4-1.6 4.4-1zM857.1 218.2l3.1-0.1 3.3 0.1 5.7 1 2.6 0.8 2.7 1.1 2.3 1.3 2 1.5 1.8 1.6 1.6 1.9 1.2 2.1 0.9 2 0.6 2 0.3 2.3 0 2.7-0.4 2.3-0.6 2.4-1 2.4-1.7 2.9-1.7 2.3-4.3 4.4-2.7 2-0.3 0-0.7 0.6-0.3 0-1.4 1-0.9 0.4-1.7 1-3.4 1.3-5.3 1.3-3 0.4-3.3 0.1-2.7-0.2-3-0.6-4-1.3-3.7-2-3.2-2.7-2.4-3-1.9-3.7-1-3.6-0.2-3.7 0.5-4 1.4-4 2.1-4 2.5-3.3 3.2-3 3.7-2.4 4-1.8 4.7-1.2z"/><path fill="#d302d3" d="M855.4 98.2l4.8-0.2 4.6 0.7 5.4 1.8 5.4 2.7 2.9 2.2 2.3 2.8 0.9 1.6 0.7 1.7 0.4 1.9 0.2 1.8-0.1 2.3-0.3 2-1.4 4.1-1.1 1.9-1.6 2.3-3.3 3.7-4.4 3.3-4.5 2.4-4.8 1.5-4.7 0.7-3.7-0.2-3.6-1-3-1.7-2.3-2.3-1.7-2.8-1.4-3.9-1.4-5.7-0.6-4.6 0.2-3.7 0.7-3.3 1.3-3 1.9-2.7 2.4-2.3 2.9-1.9 3.3-1.4zM855.4 220.2l4.4-0.1 5 0.8 5 1.7 4.8 2.2 3 2 2.6 2.5 2 3.2 1 3 0.3 3.7-0.7 3.8-0.6 1.9-1 2.1-2.4 3.4-3 3.1-3.7 2.7-4.1 2-4.5 1.3-4.7 0.5-4.3-0.4-4-1.1-3.7-2-3-2.6-2.3-3.1-1.6-3.6-1.3-5-0.8-4.7 0.1-3.7 0.9-3.3 1.7-3 2.6-2.7 3.4-2.2 4.3-1.6z"/><path fill="#e105e1" d="M855.2 99.5l3.6-0.2 3.7 0.5 3.7 1.2 3 1.8 2.3 2 2.1 2.7 2.5 4.7 1.2 3.3 0.3 2.7-0.4 2.6-1 2.7-1.7 2.7-2.1 2.3-2.6 2-3 1.7-3.3 1.1-3.3 0.5-3-0.3-2.7-1-4.7-2.7-2.6-2.1-2.4-2.6-1.6-2.9-1.2-3.4-0.5-3.3 0.2-3.3 0.9-3.4 1.4-2.6 2.2-2.5 2.6-2 3-1.4zM855.8 221.2l3.4 0 3.3 0.5 3 0.9 3 1.4 2.6 1.8 2.1 2 1.8 2.4 2.3 3.6 1.1 2.4 0.6 2 0.1 2.3-0.4 2.3-1 2.4-1.5 2.2-1.9 1.8-2.1 1.4-3 1.3-3 0.5-3.4-0.1-3-0.8-2.3-1.1-5-2.8-4.7-2.9-3.3-2.9-1.3-1.7-1-1.5-1.1-2.8-0.4-3 0.2-1.6 0.5-1.4 1.5-2.6 2.4-2.4 2.9-1.7 3.6-1.3z"/><path fill="#ed14ed" d="M854.9 100.5l3.3-0.3 3 0.3 3 0.9 2.6 1.4 2.2 1.7 1.7 2.3 1 2.4 0.4 2.6-0.3 2.7-0.8 2.7-1.7 3-2.1 2.4-2.4 2-3 1.7-3 1.1-3 0.4-2.3-0.1-2.3-0.6-2.4-1.2-1.7-1.4-1.6-2-1.3-2.3-0.8-2.7-0.4-2.7 0.1-2.6 0.6-2.4 1-2.3 1.3-2 1.8-1.8 2-1.4 2.4-1.1zM853.6 222.2l2.2-0.3 2.7 0 2.3 0.2 2.4 0.6 2.3 0.9 2 1 1.7 1.2 1.6 1.7 1.2 1.7 0.8 1.6 0.4 2 0.1 1.7-0.4 2-0.7 1.7-1 1.5-1.4 1.4-2.3 1.6-3.3 1.3-3.4 0.5-3.6 0-3.4-0.6-3.6-1.3-2.7-1.6-2.4-2.2-1.7-2.3-0.8-2.7-0.1-2.6 0.8-2.4 1.7-2.3 2.2-1.8 3-1.6z"/><path fill="#fa21fa" d="M855.5 101.2l2.7-0.2 3 0.3 2.6 0.8 2.4 1.3 1.9 1.8 1.4 2 0.8 2.3 0.2 2.3-0.4 2.7-1.1 2.7-1.8 2.6-2 2.1-2.7 2-2.7 1.3-2.6 0.8-2.7 0.2-2-0.3-2-0.7-1.7-1.1-1.7-1.6-1.3-2-0.9-2-0.6-2.3-0.2-2.7 0.3-2.3 0.6-2 1-2 1.3-1.7 1.5-1.5 2-1.3 2.4-1zM855.7 222.5l2.1-0.1 2.4 0.2 4 1.1 2 1 1.6 1.1 1.5 1.4 1 1.3 0.7 1.3 0.6 1.7 0.1 1.7-0.2 1.6-0.6 1.7-0.9 1.3-1.2 1.4-1.6 1.2-2.7 1.3-2.7 0.7-3.3 0.3-3.3-0.3-3-0.7-3-1.4-2.4-1.8-1.7-2-1.1-2.3-0.3-2.4 0.5-2.3 1.1-2 2-2 2.5-1.5 2.7-1z"/><path fill="#ff39ff" d="M855.5 101.8l3-0.2 2.7 0.4 2.4 0.8 2.2 1.4 1.7 1.6 0.9 1.7 0.6 2 0 2-0.4 2.3-1.2 2.7-1.6 2.3-2 2-2.3 1.7-2.7 1.3-2.3 0.6-2.7 0.2-2-0.4-1.7-0.7-1.4-1-1.3-1.3-1-1.7-0.9-2.4-0.4-2.3 0-2 0.3-2 0.7-2 0.9-1.6 1.3-1.7 1.5-1.3 1.7-1 2-0.9zM854.5 223.2l3.7-0.2 3.6 0.5 3.4 1.3 2 1.3 1 1.1 0.8 1 0.7 1.3 0.4 1.3 0.1 1.7-0.3 1.3-0.5 1.4-0.8 1.3-1.1 1.1-2 1.5-2.7 1.2-3 0.6-3 0.1-3-0.4-3-0.9-1.6-0.9-2.4-1.9-1.3-2.1-0.7-2.2 0.1-2.1 0.8-2 1.5-1.9 2-1.6 2.3-1.1z"/><path fill="#ff5cff" d="M855.7 103.2l2.1-0.2 2.4 0.3 2 0.6 1.5 0.9 1.5 1.4 0.9 1.3 0.6 1.7 0.2 2-0.3 2-0.8 2-1.2 2-1.8 1.8-2 1.5-2 1-2 0.6-2 0.2-1.6-0.3-1.4-0.5-1.3-0.8-1.3-1.2-0.9-1.3-0.7-1.7-0.4-1.7-0.2-2 0.2-1.6 0.5-1.7 0.8-1.7 1-1.3 1.3-1.2 1.4-0.9 1.6-0.8zM854.8 224.2l3.4-0.2 3 0.5 2.6 1.1 2.4 1.7 1.4 2.2 0.5 2-0.2 1.3-0.3 1-1.4 2.1-1.7 1.3-2 0.9-2.3 0.6-2.7 0.1-2.3-0.2-2.4-0.7-2.1-1.1-1.7-1.3-1.3-1.7-0.6-1.6 0-2 0.6-1.7 1.1-1.5 1.7-1.3 2-0.9z"/><path fill="#ff81ff" d="M855.4 104.8l1.8-0.2 1.6 0 1.7 0.4 1.7 0.7 1.3 1.1 0.8 1 0.6 1.4 0.3 1.6-0.2 1.7-0.5 1.7-0.9 1.6-1.1 1.4-1.7 1.4-1.6 1-1.7 0.6-1.7 0.2-1.3-0.1-1.3-0.4-1-0.5-1.1-0.9-0.8-1-0.7-1.3-0.4-1.4-0.2-1.6 0.4-2.7 0.5-1.3 0.9-1.4 2-1.8zM856.5 225.2l2.7 0 2.3 0.6 2.3 1.3 1.5 1.4 0.9 1.7 0.1 2-0.7 1.6-1.4 1.6-1.7 0.9-1.7 0.6-2 0.3-2-0.1-2-0.4-1.6-0.6-1.7-1-1.3-1.3-0.7-1.3-0.3-1.7 0.2-1.3 0.7-1.3 1.1-1.1 1.6-1 1.7-0.6z"/><path fill="#ffa5ff" d="M856.4 106.2l1.4-0.2 1.4 0.2 1.3 0.4 1 0.6 1 1 0.6 1 0.3 1 0.1 1.3-0.2 1.3-0.5 1.4-0.8 1.3-1 1-1.2 0.9-1.3 0.7-1.3 0.4-1.4 0.2-2-0.5-1.7-1.4-1-2-0.3-2.3 0.5-2.3 1.2-1.9 1.7-1.3zM855.4 226.5l2.1-0.3 2 0.2 2 0.7 1.7 1 1.1 1.4 0.4 1.3-0.2 1.4-0.7 1.3-1 0.9-1.3 0.7-1.3 0.4-1.7 0.2-3-0.4-1.3-0.5-1.4-0.9-1-1-0.5-1.1-0.2-1 0.2-1 0.4-1 0.9-1 1.2-0.7z"/><path fill="#ffceff" d="M856.4 107.8l2.1-0.1 1.7 0.7 0.6 0.6 0.6 0.8 0.4 1.7-0.5 2-1.1 1.6-1.7 1.2-2 0.5-1.5-0.3-1.2-0.8-0.8-1.2-0.4-1.7 0.3-1.6 0.7-1.4 1.2-1.2zM856.9 227.5l1.6 0 1.3 0.2 1.4 0.6 1 0.9 0.6 1 0.1 1-0.3 1-0.5 0.6-0.9 0.7-1 0.4-2.4 0.3-2.3-0.6-1.5-1.1-0.8-1.3 0-1 0.3-0.7 0.5-0.7 0.9-0.6z"/></g></g>
<clipPath id="csb2"><use href="#sb2"/></clipPath><g opacity="0.45" clip-path="url(#csb2)"><g filter="url(#bl)"><path id="sb2" fill="#4f004f" stroke="#4f004f" stroke-width="3" d="M845.3 79.2l0.2-0.2 3.7 0 0.3 0.3 3.7 0 0.3 0.3 2 0 0.3 0.4 1.4 0 0.3 0.3 1 0 0.3 0.3 1 0 0.4 0.4 1 0 0.3 0.3 0.7 0 0.3 0.3 0.7 0 0.3 0.4 0.7 0 1.6 1 0.7 0 0.3 0.3 0.4 0 0.3 0.3 0.3 0 0.4 0.4 0.3 0 0.3 0.3 1 0.3 0.7 0.7 1 0.3 0.7 0.7 0.3 0 0.7 0.7 0.3 0 1.3 1.3 0.4 0 5.2 5.2 0 0.3 1 1 0 0.4 0.6 0.6 0 0.4 0.7 0.6 0.3 1 0.4 0.4 0 0.3 0.3 0.3 0.3 1 0.7 1 0 0.7 0.3 0.3 0 0.7 0.4 0.3 0 0.7 0.3 0.3 0 1 0.3 0.4 0 1.6 0.4 0.4 0 6.6-0.4 0.4 0 1.6-0.3 0.4 0 1-0.3 0.3 0 0.7-0.4 0.3 0 0.7-0.3 0.3 0 0.7-0.7 1 0 0.6-0.6 1 0 0.4-0.7 0.6-0.3 1-0.7 0.7-0.3 1-1 1 0 0.3-1.4 1.4 0 0.3-3.8 3.9-0.4 0-1.3 1.3-0.3 0-1 1-0.4 0-1.6 1.3-1 0.4-0.7 0.6-0.3 0-0.4 0.4-1 0.3-0.3 0.3-0.3 0-1.7 1-0.3 0-0.4 0.4-0.6 0-0.4 0.3-0.6 0-0.4 0.3-0.3 0-0.3 0.4-0.7 0-0.3 0.3-1 0-0.4 0.3-1 0-0.3 0.4-1 0-0.3 0.3-1.4 0-0.3 0.3-2 0-0.3 0.4-9.7 0-0.3-0.4-2 0-0.4-0.3-1.3 0-0.3-0.3-1 0-0.4-0.4-1 0-0.3-0.3-0.7 0-0.3-0.3-0.7 0-0.3-0.4-0.7 0-0.3-0.3-0.7 0-1-0.7-0.6 0-1.7-1-0.3 0-1.7-1-0.3 0-0.7-0.6-0.3 0-0.4-0.4-0.3 0-0.7-0.6-0.3 0-1-1-0.3 0-1-1-0.4 0-1.6-1.7-0.4 0-2.5-2.5 0-0.4-1.7-1.6 0-0.4-1-1 0-0.3-1.3-1.7-0.3-1-0.4-0.3 0-0.3-0.3-0.4 0-0.3-0.3-0.3 0-0.4-0.4-0.3 0-0.3-0.3-0.4 0-0.6-0.7-1 0-1-0.3-0.4 0-0.6-0.3-0.4 0-1-0.4-0.3 0-2-0.3-0.3 0-5.4 0.3-0.3 0-2 0.3-0.3 0-1 0.4-0.4 0-1 0.3-0.3 0-0.7 0.3-0.3 0-0.3 0.4-0.4 0-0.6 1-1.7 0-0.3 0.3-0.4 0-0.3 0.7-0.7 0.3-1 2-2.3 0-0.3 4.6-4.6 0.3 0 1.3-1.3 0.4 0 0.6-0.7 0.4 0 0.6-0.7 0.4 0 0.6-0.6 1-0.4 0.7-0.6 1-0.4 0.3-0.3 0.4 0 0.3-0.3 0.7 0 1.6-1 0.7 0 1-0.7 0.7 0 0.3-0.3 1 0 0.3-0.4 0.7 0 0.3-0.3 1 0 0.4-0.3 1 0 0.3-0.4 1.3 0 0.4-0.3 2 0 0.3-0.3zM846 200.5l0.2-0.2 2.3 0 0.3 0.3 4 0 0.4 0.4 1.6 0 0.4 0.3 1.3 0 0.3 0.3 1 0 0.4 0.4 1 0 0.3 0.3 0.7 0 0.3 0.3 0.7 0 0.3 0.4 0.7 0 1 0.6 0.6 0 1.7 1 0.3 0 0.4 0.4 0.3 0 0.3 0.3 0.4 0 0.3 0.3 0.3 0 0.4 0.4 1 0.3 0.6 0.7 1 0.3 1 1 0.4 0 0.6 0.7 0.4 0 1.3 1.3 0.3 0 4.6 4.5 0 0.4 1 1 0 0.3 1 1 0 0.3 0.6 0.7 0.4 1 0.6 0.7 0 0.3 1 1.7 0 0.6 0.7 1 0 0.7 0.3 0.3 0 0.7 0.4 0.3 0 0.7 0.3 0.3 0 1 0.3 0.4 0 1.6 0.4 0.4 0 6.6-0.4 0.4 0 1.6-0.3 0.4 0 1-0.3 0.3 0 0.7-0.4 0.3 0 0.7-0.3 0.3 0 0.7-0.7 1-0.3 1-0.3 0.3 0 0.3-0.4 0.4-0.3 1-1.3 1.6 0 0.4-1 1 0 0.3-5.2 5.2-0.4 0-1 1-0.3 0-0.7 0.7-0.3 0-0.7 0.6-0.3 0-0.7 0.7-1 0.3-0.3 0.4-0.3 0-0.7 0.6-0.3 0-1 0.7-0.7 0-1.7 1-0.6 0-0.4 0.3-0.6 0-0.4 0.4-0.6 0-0.4 0.3-0.6 0-0.4 0.3-0.6 0-0.4 0.4-1 0-0.3 0.3-1.3 0-0.4 0.3-1.3 0-0.3 0.4-2 0-0.4 0.3-11 0-0.3-0.3-2 0-0.3-0.4-1.4 0-0.3-0.3-1.3 0-0.4-0.3-1 0-0.3-0.4-0.7 0-0.3-0.3-0.7 0-0.3-0.3-0.7 0-0.3-0.4-0.7 0-1-0.6-0.6 0-0.4-0.4-0.3 0-1-0.6-0.3 0-0.4-0.4-1-0.3-0.3-0.3-1-0.4-0.7-0.6-1-0.4-0.6-0.6-0.4 0-1-1-0.3 0-1-1-0.3 0-2.7-2.7-1.5-1.5 0-0.4-1.4-1.3 0-0.3-0.6-0.7 0-0.3-0.7-0.7-0.3-1-0.7-0.7 0-0.3-0.3-0.3 0-0.4-0.4-0.3 0-0.7-0.6-1 0-0.6-0.4-0.4 0-0.6-0.3-0.4 0-0.6-0.3-0.4 0-1-0.4-0.3 0-2-0.3-0.3 0-5.4 0.3-0.3 0-2 0.3-0.3 0-1 0.4-0.4 0-1 0.3-0.3 0-0.7 0.3-0.3 0-0.3 0.4-0.4 0-0.6 0.3-0.4 0-0.3 0.3-0.3 0-0.4 0.4-0.3 0-0.3 0.3-0.4 0-0.3 0.3-0.3 0.4-1 1.3-1.7 0-0.3 1-1 0-0.4 1.3-1.3 0-0.3 3.3-3.3 0.3 0 1.7-1.6 0.3 0 1-1 0.3 0 0.7-0.7 0.3 0 0.7-0.7 1-0.3 0.7-0.7 0.3 0 0.3-0.3 0.4 0 0.3-0.3 0.3 0 0.4-0.4 0.3 0 0.3-0.3 0.4 0 1.6-1 0.7 0 1-0.7 0.7 0 0.3-0.3 0.7 0 0.3-0.3 1 0 0.3-0.4 0.7 0 0.3-0.3 1 0 0.4-0.3 1.3 0 0.3-0.4 2 0 0.4-0.3z"/><path fill="#680068" d="M845.5 79.2l3.7-0.1 0.3 0.4 3.7 0 0.3 0.3 2 0 0.3 0.3 1.4 0 0.3 0.4 1 0 0.3 0.3 1 0 0.4 0.3 1 0 0.3 0.4 0.7 0 0.3 0.3 0.7 0 0.3 0.3 0.7 0 1.6 1 0.7 0 0.3 0.4 0.4 0 0.3 0.3 0.3 0 0.4 0.3 0.3 0 0.3 0.4 1 0.3 0.7 0.7 1 0.3 0.7 0.7 0.3 0 0.7 0.7 0.3 0 1.3 1.3 0.4 0 3.6 3.7 0.7 0.9 1.7 2.9 1 2.6 0.6 3.2 0.2 3-0.4 3.4-0.8 3-1.3 3.1-1.8 3.2-2.2 3-2.8 3-3.1 2.7-3.4 2.5-3.7 2.1-4 2-4.3 1.6-4.4 1.3-4.3 0.8-4.3 0.5-4.4 0.1-4-0.3-4-0.6-3.6-1-2.7-1.1-2.7-1.3-2-1.3-2.3-1.9-1.7-1.7-1.6-2.1 0-0.3-0.7-0.7-0.3-1-0.4-0.3 0-0.3-0.3-0.4 0-0.3-0.3-0.3-0.1-0.4-0.3-0.3 0-0.3-0.3-0.4 0-0.6-0.7-1 0-1-0.3-0.4 0-0.6-0.4-0.4 0-1-0.3-0.3 0-2-0.3-0.3 0-5.4 0.3-0.3 0-2 0.3-0.3 0-1 0.4-0.4 0-1 0.3-0.3 0-0.7 0.6-1 0.1-0.6 0.9-1.7 0.1-0.3 0.3-0.4 0-0.3 0.6-0.7 0.4-1 1-1 0-0.3 1-1 0-0.3 4.4-4.4 0.3 0 1.3-1.4 0.4 0 0.6-0.6 0.4 0 0.6-0.7 0.4 0 0.6-0.7 1-0.3 0.7-0.6 1-0.4 0.3-0.3 0.4 0 0.3-0.3 0.7-0.1 1.6-0.9 0.7-0.1 0.3-0.3 0.4 0 0.3-0.3 0.7 0 0.3-0.3 1-0.1 0.3-0.3 0.7 0 0.3-0.3 1 0 0.4-0.3 1 0 0.3-0.4 1.3 0 0.4-0.3 2 0 0.3-0.3 3.7 0zM846.1 200.5l2.4 0 0.3 0.3 4 0 0.4 0.3 1.6 0 0.4 0.4 1.3 0 0.3 0.3 1 0 0.4 0.3 1 0 0.3 0.4 0.7 0 0.3 0.3 0.7 0 0.3 0.3 0.7 0 1 0.7 0.6 0 0.4 0.3 0.3 0 0.3 0.4 0.4 0 0.3 0.3 0.3 0 0.4 0.3 0.3 0 0.3 0.4 0.4 0 0.3 0.3 0.3 0 0.4 0.3 1 0.4 0.6 0.7 1 0.3 1 1 0.4 0 0.6 0.7 0.4 0 1.3 1.3 0.3 0 0.4 0.3 2 2.1 2.3 3.3 1.3 2.8 1 3.2 0.5 3 0 3.3-0.4 3.3-1 3.4-1.4 3.2-1.8 3.1-2.3 3-2.6 2.7-3 2.6-3.4 2.4-3.6 2-4 1.9-4 1.4-4.3 1.1-4.3 0.8-4.4 0.4-4.3 0-4-0.4-4-0.8-3.7-1.1-2.6-1.1-2.5-1.2-2.2-1.4-2-1.6-2.7-2.8 0-0.2-0.6-0.7 0-0.3-0.7-0.7-0.3-1-0.7-0.7 0-0.3-0.7-1 0-0.7-0.7-1 0-0.6-0.3-0.4 0-0.6-0.3-0.4 0-0.6-0.4-0.4 0-1-0.3-0.3 0-2-0.3-0.3 0-5.4 0.3-0.3 0-2 0.3-0.3 0-1 0.4-0.4 0-1 0.3-0.3 0-0.7 0.6-1 0.1-0.6 0.3-0.4 0-0.3 0.3-0.3 0-0.4 0.3-0.3 0-0.3 0.4-0.4 0-0.3 0.3-0.3 0.4-1 1.3-1.7 0-0.3 1-1 0-0.4 1.3-1.3 0-0.3 3.1-3.1 0.3 0 1.7-1.7 0.3 0 1-1 0.3 0 0.7-0.6 0.3 0 0.7-0.7 1-0.3 0.7-0.7 0.3 0 0.3-0.3 0.4 0 0.3-0.4 0.3 0 0.4-0.3 0.3 0 0.3-0.3 0.4 0 1.6-1 0.7 0 1-0.7 0.7 0 0.3-0.3 0.7 0 0.3-0.3 1-0.1 0.3-0.3 0.7 0 0.3-0.3 1 0 0.4-0.3 1.3 0 0.3-0.4 2 0 0.4-0.3 3.6 0z"/><path fill="#7a007a" d="M845.5 79.2l3.7-0.1 0.3 0.4 3.7 0 0.3 0.3 2 0 0.3 0.3 1.4 0 0.3 0.4 1 0 0.3 0.3 1 0 0.4 0.3 1 0.1 0.3 0.3 0.7 0 0.3 0.3 0.7 0 0.3 0.3 0.7 0.1 1.6 1 0.7 0 0.3 0.3 0.4 0 0.3 0.3 0.3 0 0.4 0.4 0.3 0 0.3 0.3 1 0.3 0.7 0.7 0.9 0.3 1.4 1 2 1.7 2.3 2.7 1.7 2.6 1.3 3 0.7 2.7 0.3 3-0.1 3-0.6 3-1.1 3.3-1.7 3.4-2 3-2.6 3-2.8 2.6-3 2.4-3.7 2.3-3.8 2-4 1.7-4.2 1.3-4.3 1-4.4 0.6-4.3 0.2-4-0.1-4-0.5-3.7-0.9-3.6-1.3-2.4-1.1-2.3-1.4-3.7-2.9-1.6-1.9-1.4-1.9-0.3-0.8-0.3-0.3 0-0.4-0.4-0.3 0-0.3-0.3-0.4 0-0.6-0.7-1 0-1-0.3-0.4 0-0.6-0.3-0.4-0.1-1-0.3-0.3 0-2-0.3-0.3 0-5.4 0.3-0.3 0-2 0.3-0.3 0-1 0.4-0.4 0-1 0.3-0.3 0-0.7 0.3-0.3 0-0.3 0.4-0.4 0-0.6 1-1.7 0-0.3 0.3-0.4 0-0.3 0.7-0.7 0.3-1 2-2.3 0-0.3 4.4-4.4 0.3 0 1.3-1.3 0.4 0 0.6-0.7 0.4 0 0.6-0.7 0.4 0 0.6-0.6 1-0.4 0.7-0.6 1-0.4 0.3-0.3 0.4 0 0.3-0.3 0.7 0 1.6-1 0.7 0 0.3-0.4 0.4 0 0.3-0.3 0.7 0 0.3-0.3 1 0 0.3-0.4 0.7 0 0.3-0.3 1 0 0.4-0.3 1 0 0.3-0.4 1.3 0 0.4-0.3 2 0 0.3-0.3 3.7 0zM846.1 200.5l2.4 0 0.3 0.3 4 0 0.4 0.3 1.6 0 0.4 0.4 1.3 0 0.3 0.3 1 0 0.4 0.3 1 0.1 0.3 0.3 0.7 0 0.3 0.3 0.7 0 0.3 0.4 0.7 0 1 0.6 0.6 0 0.4 0.4 0.3 0 0.3 0.3 0.4 0 0.3 0.3 0.3 0 0.4 0.4 0.3 0 0.3 0.3 0.4 0 0.3 0.3 0.3 0 0.4 0.4 1 0.3 0.6 0.7 0.4 0 1.7 1.3 2.1 2 2.1 2.7 1.7 3 1.2 3 0.7 3 0.3 3.3-0.2 3.3-0.6 3.4-1 3.1-1.4 2.9-2 3.1-2.3 2.9-2.7 2.6-3 2.5-3.3 2.2-3.8 2-3.9 1.6-4.2 1.4-4.1 0.9-4.3 0.6-4 0.2-4-0.1-4-0.5-3.7-0.9-3.7-1.2-4.6-2.3-2-1.4-2-1.7-1.7-1.7-1.3-1.7-1.4-2.3 0-0.6-0.6-1 0-0.6-0.4-0.4 0-0.6-0.3-0.4 0-0.6-0.3-0.4-0.1-1-0.3-0.3 0-2-0.3-0.3 0-5.4 0.3-0.3 0-2 0.3-0.3 0-1 0.4-0.4 0-1 0.3-0.3 0-0.7 0.3-0.3 0-0.3 0.4-0.4 0-0.6 0.3-0.4 0-0.3 0.3-0.3 0-0.4 0.4-0.3 0-0.3 0.3-0.4 0-0.3 0.3-0.3 0.4-1 1.3-1.7 0-0.3 1-1 0-0.4 1.3-1.3 0-0.3 3.1-3.1 0.3 0 1.7-1.6 0.3 0 1-1 0.3 0 0.7-0.7 0.3 0 0.7-0.7 1-0.3 0.7-0.7 0.3 0 0.3-0.3 0.4 0 0.3-0.3 0.3 0 0.4-0.4 0.3 0 0.3-0.3 0.4 0 1.6-1 0.7 0 1-0.7 0.7 0 0.3-0.3 0.7 0 0.3-0.3 1 0 0.3-0.4 0.7 0 0.3-0.3 1 0 0.4-0.3 1.3 0 0.3-0.4 2 0 0.4-0.3 3.6 0z"/><path fill="#8c008c" d="M845.5 79.2l3.7 0 0.3 0.3 3.7 0 0.3 0.3 2 0 0.3 0.4 1.4 0 0.3 0.3 1 0 0.3 0.3 1 0 0.4 0.4 1 0 0.3 0.3 0.7 0 0.3 0.3 0.7 0 0.3 0.4 1.3 0.3 0.4 0.3 0.3 0 0.3 0.4 0.4 0 1.3 0.6 2.9 2 2.6 2.4 1.9 2.3 1.7 2.7 1.2 3 0.6 3 0.2 3-0.3 3.3-0.8 3.3-1.2 3-1.6 3-2.2 3-2.4 2.7-3 2.7-3.2 2.3-3.4 2-3.7 1.8-3.9 1.5-4.1 1.2-4.2 0.8-4.1 0.5-4 0.1-4-0.3-4-0.6-3.7-1-3.3-1.4-4.1-2.3-1.9-1.5-1.7-1.5-2.6-3.5-1.4-2.6 0-0.5-0.3-0.4 0-0.6-0.3-0.4 0-1-0.4-0.4 0-1.9-0.3-0.3 0-5.4 0.3-0.3 0-2 0.3-0.3 0-1 0.4-0.4 0-1 0.3-0.3 0-0.7 0.3-0.3 0-0.3 0.4-0.4 0-0.6 1-1.7 0-0.3 0.3-0.4 0-0.3 0.7-0.7 0.3-1 2-2.3 0-0.3 4.4-4.4 0.3 0 1.3-1.3 0.4 0 0.6-0.7 0.4 0 0.6-0.7 0.4 0 0.6-0.6 1-0.4 0.7-0.6 1-0.4 0.3-0.3 0.4 0 0.3-0.3 0.7 0 1.6-1 0.7 0 0.3-0.4 0.4 0 0.3-0.3 0.7 0 0.3-0.3 1 0 0.3-0.4 0.7 0 0.3-0.3 1 0 0.4-0.3 1 0 0.3-0.4 1.3 0 0.4-0.3 2 0 0.3-0.3 3.7 0zM846.2 200.5l2.3 0 0.3 0.3 4 0 0.4 0.4 1.6 0 0.4 0.3 1.3 0 0.3 0.3 1 0 0.4 0.4 1 0 0.3 0.3 0.7 0 0.3 0.3 0.7 0 0.3 0.4 0.6 0 1.1 0.6 0.4 0 1.3 0.7 2.5 1.7 2.4 2 1.8 2 1.9 2.6 1.5 3 1.1 3.4 0.6 3.3 0.1 3.3-0.3 3.4-0.8 3.3-1.2 3.1-1.7 3.1-1.9 2.8-2.4 2.7-2.7 2.4-2.9 2.2-3.3 2-3.4 1.7-4 1.6-4 1.1-4 0.7-4 0.4-4 0.1-3.7-0.3-3.7-0.6-3.6-1-3.4-1.3-4.3-2.4-3.3-2.8-2.7-3.2-1-1.7-0.7-1.5 0-0.4-0.3-0.4 0-0.6-0.3-0.5 0-0.9-0.4-0.4 0-1.9-0.3-0.3 0-5.4 0.3-0.3 0-2 0.3-0.3 0-1 0.4-0.4 0-1 0.3-0.3 0-0.7 0.3-0.3 0-0.3 0.4-0.4 0-0.6 0.3-0.4 0-0.3 0.3-0.3 0-0.4 0.4-0.3 0-0.3 0.3-0.4 0-0.3 0.3-0.3 0.4-1 1.3-1.7 0-0.3 1-1 0-0.4 1.3-1.3 0-0.3 3.1-3.1 0.3 0 1.7-1.6 0.3 0 1-1 0.3 0 0.7-0.7 0.3 0 0.7-0.7 1-0.3 0.7-0.7 0.3 0 0.3-0.3 0.4 0 0.3-0.3 0.3 0 0.4-0.4 0.3 0 0.3-0.3 0.4 0 1.6-1 0.7 0 1-0.7 0.7 0 0.3-0.3 0.7 0 0.3-0.3 1 0 0.3-0.4 0.7 0 0.3-0.3 1 0 0.4-0.3 1.3 0 0.3-0.4 2 0 0.4-0.3 3.6 0z"/><path fill="#9e009e" d="M845.5 79.2l3.7 0 0.3 0.3 3.7 0 0.3 0.3 1.7 0 0.6 0.4 0.9 0 3.3 1 3.1 1.3 2.8 1.7 2.5 2 2.3 2.3 1.8 2.6 1.3 2.7 0.9 2.7 0.5 3 0 3.3-0.4 3-0.9 3-1.4 3.1-1.8 2.9-2 2.7-2.6 2.7-2.8 2.3-3.1 2.1-3.5 1.9-3.5 1.6-3.7 1.2-3.7 1-4 0.6-4 0.3-4 0-3.6-0.4-3.7-0.8-3.7-1.2-3-1.3-4-2.6-1.6-1.5-1.7-1.8-1.3-1.9-1-1.8-1.4-3.7-0.3-1.9 0-2.8 0-1.7 0.3-0.3 0-2 0.4-0.3 0-1 0.3-0.4 0-1 0.3-0.3 0-0.7 0.7-1 0-0.6 1-1.7 0-0.3 0.3-0.4 0-0.3 0.7-0.7 0.3-1 1-1 0-0.3 1-1 0-0.3 4.4-4.4 0.3 0 1.3-1.3 0.4 0 0.6-0.7 0.4 0 0.6-0.7 0.4 0 0.6-0.6 1-0.4 0.7-0.6 1-0.4 0.3-0.3 0.4 0 0.3-0.3 0.7 0 1.6-1 0.7 0 1-0.7 0.7 0 0.3-0.3 1 0 0.3-0.3 0.7-0.1 0.3-0.3 1 0 0.4-0.3 1 0 0.3-0.3 1.3 0 0.4-0.4 2 0 0.3-0.3 3.7 0zM846.2 200.5l2.3 0 0.3 0.3 3.8 0 0.6 0.4 1.2 0 0.8 0.3 0.5 0 3.6 1.3 2.5 1.4 2.7 2 2.4 2.3 1.7 2.3 1.7 3 1.2 3 0.8 3 0.4 3.4-0.1 3.3-0.5 3.3-1 3.4-1.3 3-1.6 2.6-2.1 2.7-2.2 2.3-2.7 2.4-2.9 2-3.1 1.7-3.7 1.6-3.3 1.1-3.7 0.9-3.7 0.5-4 0.3-3.6-0.1-3.7-0.5-3.3-0.7-3.4-1.1-3-1.4-4-2.6-1.6-1.5-1.7-1.8-1.3-1.9-1-1.7-1.4-3.8 0-0.7-0.3-1.2 0-2.5 0-2 0.3-0.3 0-2 0.4-0.3 0-1 0.3-0.4 0-1 0.3-0.3 0-0.7 0.7-1 0-0.6 0.3-0.4 0-0.3 0.3-0.3 0-0.4 0.4-0.3 0-0.3 0.3-0.4 0-0.3 0.3-0.3 0.4-1 1.3-1.7 0-0.3 1-1 0-0.4 1.3-1.3 0-0.3 3.1-3.1 0.3 0 1.7-1.6 0.3 0 1-1 0.3 0 0.7-0.7 0.3 0 0.7-0.7 1-0.3 0.7-0.7 0.3 0 0.3-0.3 0.4 0 0.3-0.3 0.3 0 0.4-0.4 0.3 0 0.3-0.3 0.4 0 1.6-1 0.7 0 1-0.6 0.7-0.1 0.3-0.3 0.7 0 0.3-0.3 1 0 0.3-0.3 0.7-0.1 0.3-0.3 1 0 0.4-0.3 1.3 0 0.3-0.3 2 0 0.4-0.4 3.6 0z"/><path fill="#b000b0" d="M841.9 79.5l6.4 0 4.2 0.7 2.5 0.6 3.3 1.4 2.5 1.3 2.7 2 2.1 2 1.8 2.3 1.4 2.6 1.1 2.8 0.6 2.6 0.2 2.7-0.2 3-0.6 3-1.1 3-1.4 2.7-1.8 2.6-1.9 2.4-2.5 2.4-2.7 2-3 1.9-3.3 1.7-3.4 1.3-3.3 1-3.7 0.7-3.6 0.5-3.7 0.1-3.7-0.3-3.3-0.5-3.3-0.9-3-1.2-3.9-2.1-3.1-2.5-2.7-3.3-1.6-3.2-1-3.6-0.2-3 0.5-4 0.3-0.4 0-0.9 0.3-0.4 0-0.7 0.7-1 0-0.6 1-1.7 0-0.3 0.3-0.4 0-0.3 0.7-0.7 0.3-1 2-2.3 0-0.3 4.4-4.4 0.3 0 1.3-1.3 0.4 0 0.6-0.7 0.4 0 0.6-0.6 0.4 0 0.6-0.7 1-0.3 0.7-0.7 1-0.3 0.3-0.4 0.4 0 0.3-0.3 0.7 0 1.6-1 0.7 0 0.3-0.3 0.4 0 0.3-0.4 0.7 0 0.3-0.3 1 0 0.3-0.3 0.7 0 0.3-0.4 1 0 0.4-0.3 1 0 0.3-0.3 1.3 0 0.4-0.4 2 0zM842.5 200.8l4 0 2.3 0.2 2.5 0.5 3 1 2.7 1.3 2.4 1.7 2.1 2 1.9 2.3 1.6 2.7 1.1 2.7 0.8 3 0.5 3 0.1 3.3-0.3 3-0.7 3-1.1 3-1.3 2.7-1.6 2.4-2 2.4-2.2 2.2-2.5 2-2.6 1.6-2.7 1.4-3.1 1.3-3.2 1-3.4 0.7-3.3 0.4-3.3 0.1-3.4-0.2-3.3-0.5-3.1-0.8-2.9-1.1-3.7-1.9-3.3-2.6-2.7-3.1-1.6-2.9-1.1-3.4-0.3-1.7-0.1-2.3 0.5-4 0.3-0.4 0-0.9 0.3-0.4 0-0.7 0.7-1 0-0.6 0.3-0.4 0-0.3 0.4-0.3 0-0.4 0.3-0.3 0-0.3 0.3-0.4 0-0.3 0.4-0.3 0.3-1 1.3-1.7 0-0.3 1-1 0-0.4 1.4-1.3 0-0.3 3-3 0.3 0 1.7-1.7 0.3 0 1-1 0.3 0 0.7-0.7 0.3 0 0.7-0.6 1-0.4 0.7-0.6 0.3 0 0.3-0.4 0.4 0 0.3-0.3 0.3 0 0.4-0.3 0.3 0 0.3-0.4 0.4 0 1.6-1 0.7 0 1-0.6 0.7 0 0.3-0.4 0.7 0 0.3-0.3 1 0 0.3-0.3 0.7 0 0.3-0.4 1 0 0.4-0.3 1.3 0 0.4-0.3 1.9 0z"/><path fill="#c101c1" d="M838.1 80.8l3.1-0.1 3.2 0.1 2.8 0.5 3 0.8 2.6 1.1 2.4 1.3 2.3 1.7 1.7 1.6 1.7 2 1.4 2.4 1 2.3 0.6 2.3 0.4 2.7 0 2.7-0.4 2.6-0.7 2.7-1 2.7-1.3 2.3-1.5 2.3-1.9 2.4-1.8 1.6-2.2 1.8-2.3 1.4-2.7 1.3-2.7 1-3 0.8-3.3 0.5-3.3 0.3-3.4-0.1-3.3-0.3-3-0.5-3-0.8-3.7-1.6-3.3-2.1-2.9-2.7-2.1-3-1.3-3.2-0.6-3.4 0-3.4 0.9-3.8 1.7-3.8 3-4.3 3.6-3.7 0.7-0.4 1.5-1.3 4.2-2.7 4.4-2 4.4-1.3zM838.5 202.2l3-0.2 3 0.1 2.3 0.4 2.7 0.8 2.5 1.2 2 1.3 1.9 1.7 1.6 2 1.4 2.3 1 2.4 0.8 2.6 0.4 2.7 0.1 3-0.2 3-0.5 3-0.8 3-1 2.3-1.1 2.4-1.3 2-1.6 2-1.7 1.6-2 1.7-2.2 1.3-2.3 1.2-2.7 1-2.6 0.7-3 0.5-3 0.2-3.4 0-3-0.2-3-0.6-2.6-0.7-3.7-1.6-3.3-2.2-2.7-2.6-2-3-1.3-3.4-0.6-3.6 0.2-3.4 1-3.9 1.7-3.7 2.7-4 2.6-3 3-2.7 4.4-3 0.3 0 0.9-0.6 3.4-1.7 3.8-1.3z"/><path fill="#d302d3" d="M833 84.2l3.8-0.2 3.7 0.4 3.3 0.9 3.1 1.5 2.8 2 2.2 2.4 1.9 3 1.3 3.3 1.2 5 0.6 4.3-0.1 3.7-0.9 3-1.7 3-2.6 2.7-3.1 2-3.7 1.5-4.6 1-2.7 0.2-2.7-0.1-5-0.8-5-1.7-5.1-2.5-3.5-2.5-1.4-1.5-1.3-1.7-1-1.9-0.6-1.7-0.5-2-0.1-2 0.1-2 0.4-2.2 0.7-2 1-2.2 1.3-2.1 1.4-1.7 1.6-1.8 1.9-1.7 4.1-2.6 2-1 2.7-1zM835.3 204.8l4.2-0.2 4 0.6 3.3 1.4 1.4 0.9 1.5 1.3 2 2.7 1.5 3.7 1.7 6.3 0.7 5-0.2 4-0.8 3.7-1.6 3.3-2.1 2.7-2.7 2.3-3.4 1.8-3.6 1.2-4 0.5-4.7-0.3-4.3-0.9-5.4-2.1-4.3-2.3-3-2.6-1.9-2.6-1.3-3-0.6-3.4 0.1-2 0.3-2 1.1-3.6 2.3-4.1 3-3.6 3.5-3 4.2-2.7 4.6-1.9z"/><path fill="#e105e1" d="M826.6 91.8l2.2-0.3 2.4 0.1 2.3 0.5 2.3 0.8 5.7 3 4 2.4 2.7 2 2.3 2.2 1.6 2 1 2 0.7 2 0.2 2.3-0.2 2-0.7 2-1.3 2-1.6 1.7-3 2.1-3.7 1.4-4 0.7-4.3 0-4-0.7-3.7-1.4-3.4-2.1-2.8-2.7-2.6-3.6-2.3-4.4-0.7-3 0.2-3 0.5-1.6 0.9-1.7 1.1-1.7 1.2-1.3 1.6-1.3 1.6-1 1.7-0.7zM831.8 210.5l3-0.3 3 0.4 2.7 1.1 4 2.2 2.7 2 2.3 2.4 1.6 2.5 1.3 3 0.7 3 0.1 3.4-0.4 3-1.1 3-1.8 2.6-2 2-2.4 1.7-3 1.3-4 0.8-4 0-4-0.9-3.7-1.7-2.9-2.2-2.3-2.6-1.9-3.4-2-4.6-0.5-2.7 0.2-3 1.1-2.9 1.7-2.7 2.3-2.5 2.9-2.2 3.2-1.7z"/><path fill="#ed14ed" d="M833.2 99.5l2.3-0.1 2.7 0.1 2.3 0.4 2.3 0.7 2.4 1.1 1.6 0.9 1.7 1.3 1.5 1.6 1.1 1.7 0.8 1.6 0.3 1.7 0.1 1.7-0.4 1.6-0.7 1.7-1.2 1.7-1.3 1.3-2.9 1.8-3 1.1-3.3 0.6-3.7 0-3.6-0.6-3-1-3-1.8-2.2-2.1-1.7-2.7-0.8-2.6 0.1-2.7 0.9-2.7 1.7-2.2 2.3-1.9 3-1.4zM838.6 216.2l2.9 0.1 2.7 0.8 2.3 1.4 2.1 2 1.7 2.7 1 3 0.4 3.3-0.2 3-0.8 2.7-1.3 2.3-1.9 2.2-2.3 1.8-2.7 1.2-3 0.8-3 0.2-3-0.3-2.7-0.7-2.3-1.1-1.9-1.4-1.6-1.7-1.3-2-0.8-2.3-0.2-2.4 0.2-2.3 0.7-2.3 1.4-2.7 1.5-2 2-2 2.3-1.7 2.7-1.4 2.3-0.8z"/><path fill="#fa21fa" d="M833.1 101.5l4.1-0.3 2 0.2 2.3 0.6 2 0.7 2 1 1.7 1.1 1.3 1.2 1.1 1.5 0.8 1.3 0.5 1.7 0.1 1.7-0.3 1.6-0.5 1.4-0.8 1.3-1.2 1.3-2.4 1.7-2.6 1.1-3.4 0.8-3.3 0.1-3.3-0.5-3-0.9-2.7-1.5-2-1.8-1.6-2.3-0.8-2.3 0-2.4 0.8-2.3 1.4-2 2.2-1.9 2.7-1.3zM838.7 217.8l2.8 0.1 2.3 0.7 2.1 1.2 1.9 1.9 1.5 2.5 0.9 2.6 0.4 3-0.2 2.7-0.7 2.3-1.2 2.4-1.7 2-2.2 1.6-2.4 1.2-2.7 0.7-3 0.3-2.7-0.3-2.3-0.7-2-0.9-1.8-1.3-1.6-1.6-1-1.7-0.6-2-0.3-2 0.2-2 0.6-2 1.1-2.3 1.4-2 2-2.1 2.3-1.8 2.4-1.3 2.3-0.8z"/><path fill="#ff39ff" d="M834.2 103.2l4-0.2 4 0.7 3 1.2 1 0.6 1.6 1.5 1 1.4 0.7 1.3 0.4 1.5 0 1.3-0.2 1.3-0.5 1.4-0.8 1.3-0.9 1-2.4 1.7-2.6 1.1-3 0.6-3 0.1-3-0.4-2.4-0.8-2.6-1.3-2-1.7-1.3-2-0.6-2 0.1-2.3 0.8-2 1.3-1.8 2-1.6 2.4-1.1zM838.6 219.5l2.2-0.1 2.4 0.5 2 0.9 1.6 1.4 1.4 2 1.1 3 0.4 3-0.3 2.6-0.8 2.4-1.1 2-1.7 1.8-2 1.5-2.3 1-2.7 0.7-2.6 0.1-2.7-0.4-2-0.6-2-1.1-1.7-1.4-1-1.3-0.7-1.7-0.4-1.6 0-1.7 0.3-1.7 0.7-2 1-2 1.3-1.6 1.6-1.7 1.9-1.5 2-1.2 2-0.8z"/><path fill="#ff5cff" d="M835.6 105.2l3.2 0.1 3 0.7 2.7 1.4 1.9 1.8 1.1 2 0.2 1 0 1.3-0.3 1.3-0.6 1-1.6 1.8-1.7 1.1-2.3 0.8-2.4 0.4-2.6 0-2.4-0.4-2.3-0.8-2-1.3-1.6-1.6-0.9-1.6-0.3-1.7 0.3-2 0.8-1.6 1.4-1.4 2-1.2 2-0.7zM837.9 221.8l1.9-0.1 2 0.3 1.9 0.8 1.5 1.3 1.1 1.4 0.9 2 0.4 2 0.1 2.3-0.4 2-0.9 2-1.2 1.7-1.4 1.2-1.6 1.1-2 0.7-2 0.4-2.4 0-1.6-0.3-1.7-0.6-1.4-0.8-1.3-1.1-0.9-1.3-0.6-1.3-0.4-1.7 0-1.6 0.3-1.7 0.7-1.7 1-1.6 1.4-1.7 1.5-1.3 1.7-1.1 1.7-0.8z"/><path fill="#ff81ff" d="M835.4 106.8l2.4 0 2.7 0.6 2.2 1.1 1.6 1.3 1 1.7 0.3 2-0.6 1.7-1.4 1.6-1.6 1-1.8 0.7-2 0.3-2 0-2-0.4-2-0.8-1.4-0.8-1.3-1.3-0.8-1.3-0.3-1.4 0.2-1.3 0.6-1.4 1.1-1.3 1.5-1 1.7-0.6zM837.1 223.8l1.7-0.2 1.7 0.1 1.3 0.4 1.4 0.9 1.1 1.2 0.9 1.6 0.4 1.7 0.2 1.7-0.3 1.6-0.5 1.7-0.8 1.3-1 1.2-1.4 1-1.6 0.8-1.7 0.5-1.7 0.1-1.6-0.2-1.3-0.4-2.3-1.3-0.9-1-0.6-1-0.4-1.3-0.1-1.4 0.1-1.3 0.5-1.5 0.7-1.5 0.9-1.2 2.4-2.1 1.3-0.8z"/><path fill="#ffa5ff" d="M834.3 108.5l2.2-0.3 2 0.3 1.7 0.5 1.6 1 1.2 1.2 0.6 1.6-0.1 1.4-0.8 1.3-0.9 0.8-1.3 0.8-1.3 0.4-1.7 0.2-1.7-0.1-1.6-0.3-1.4-0.6-1.2-0.9-0.9-1-0.5-1-0.1-1.3 0.2-1 0.6-1 0.9-0.9 1-0.6zM837.2 225.5l1.3-0.2 1.3 0.1 1.2 0.4 1 0.7 0.8 0.9 0.7 1.1 0.4 1.3 0.1 1.4-0.2 1.3-0.4 1.3-0.6 1-1 1.2-1 0.8-1.3 0.7-1.3 0.3-1.4 0.1-2.2-0.4-1.8-1.1-0.8-0.9-0.5-1-0.3-2 0.6-2.3 1.2-2 1.9-1.7z"/><path fill="#ffceff" d="M835.4 109.8l1.4 0 1.4 0.2 1.3 0.5 1 0.7 0.8 1 0.2 1-0.1 1-0.7 1-1.7 1-2.2 0.3-2.3-0.4-1.7-1.1-0.6-0.8-0.3-0.7 0-1 0.2-0.7 0.5-0.6 0.9-0.7zM836.7 227.5l1.8-0.3 1.7 0.5 0.6 0.5 0.7 0.8 0.6 1.8-0.3 2-0.9 1.7-1.4 1.1-2 0.6-1.7-0.1-1.3-0.6-1-1.1-0.5-1.6 0.2-1.6 0.6-1.4 1.4-1.5z"/></g></g>
<path class="ax" d="M700.76 99.85L700.76 273.35L873.18 342.52L993.99 244.1M700.76 258.01L696.12 256.15M714.67 278.93L710.8 282.08M983.89 252.32L988.54 254.18M700.76 185.85L696.12 183.99M786.66 307.81L782.78 310.96M933.37 293.48L938.02 295.34M700.76 113.69L696.12 111.83M858.64 336.69L854.76 339.84M882.85 334.64L887.5 336.5"/>
<text class="t" x="671.47" y="120" font-size="26.5">4</text>
<text class="t" x="671.38" y="191" font-size="26.5">0</text>
<text class="t" x="661.89" y="263.5" font-size="26.5">-4</text>
<text class="t" x="678.49" y="311.9" font-size="26.5">-4</text>
<text class="t" x="760.38" y="340.3" font-size="26.5">0</text>
<text class="t" x="832.07" y="369.4" font-size="26.5">4</text>
<text class="t" x="895.27" y="363.75" font-size="26.5">4</text>
<text class="t" x="945.48" y="322.5" font-size="26.5">0</text>
<text class="t" x="995.19" y="281.25" font-size="26.5">-4</text>
<text class="s" y="345.6"><tspan x="944.89" dy="0" font-size="27.64">x</tspan><tspan x="958.68" dy="3" font-size="32.98" class="el">[</tspan><tspan x="968.74" dy="-3" font-size="28.52" font-style="italic">c</tspan><tspan x="982.74" dy="4.03" font-size="35.77" class="el">/</tspan><tspan x="995.05" dy="-4.03" font-size="28.52" font-style="italic">ω</tspan><tspan x="1011.54" dy="3" font-size="32.98" class="el">]</tspan></text>
<text class="s" y="362.25"><tspan x="640.93" dy="0" font-size="27.64">y</tspan><tspan x="654.88" dy="3" font-size="32.98" class="el">[</tspan><tspan x="664.94" dy="-3" font-size="28.52" font-style="italic">c</tspan><tspan x="678.94" dy="4.03" font-size="35.77" class="el">/</tspan><tspan x="691.25" dy="-4.03" font-size="28.52" font-style="italic">ω</tspan><tspan x="707.74" dy="3" font-size="32.98" class="el">]</tspan></text>
<text class="s" y="0" transform="translate(646.55 223.6) rotate(-90)"><tspan x="0.05" dy="0" font-size="27.64">z</tspan><tspan x="9.57" dy="3" font-size="32.98" class="el">[</tspan><tspan x="19.64" dy="-3" font-size="28.52" font-style="italic">c</tspan><tspan x="33.63" dy="4.03" font-size="35.77" class="el">/</tspan><tspan x="45.95" dy="-4.03" font-size="28.52" font-style="italic">ω</tspan><tspan x="62.43" dy="3" font-size="32.98" class="el">]</tspan></text>
<text class="cap" y="440.3"><tspan x="809.58" font-size="49" textLength="14.59" lengthAdjust="spacingAndGlyphs">(</tspan><tspan x="826.1" font-size="45" textLength="24.79" lengthAdjust="spacingAndGlyphs">b</tspan><tspan x="850.99" font-size="49" textLength="14.52" lengthAdjust="spacingAndGlyphs">)</tspan></text></g>
<g id="pc"><path class="gr" d="M1368.78 181.88L1541.19 251.05M1392.78 179.24L1271.97 277.66M1368.78 181.88L1368.78 9.65M1378.87 159.59L1258.06 258.01M1392.78 179.24L1392.78 7.01M1378.87 159.59L1551.29 228.76M1318.26 223.04L1490.67 292.21M1464.76 208.12L1343.96 306.54M1318.26 223.04L1318.26 50.81M1378.87 87.43L1258.06 185.85M1464.76 208.12L1464.76 35.89M1378.87 87.43L1551.29 156.6M1267.74 264.2L1440.15 333.37M1536.75 237L1415.94 335.42M1267.74 264.2L1267.74 91.97M1378.87 15.27L1258.06 113.69M1536.75 237L1536.75 64.77M1378.87 15.27L1551.29 84.44"/>
<clipPath id="csc1"><use href="#sc1"/></clipPath><g opacity="0.45" clip-path="url(#csc1)"><g filter="url(#bl)"><path id="sc1" fill="#4d004d" stroke="#4d004d" stroke-width="3" d="M1373.6 125.5l0.2-0.2 1.7 1.6 0.3 0 0.6 0.6 0 0.3-0.2 0.3-2.4 2-0.2-0.3 0.3-0.3 0-3.7zM1433.8 127l1.7-1.7 0.2 0.2-0.3 0.3 0 3.7 0.3 0.3-0.2 0.2-2.5-2.2 0-0.3 0.3-0.3 0.2-0.2zM1396.2 162l0.3-0.4 16.3 0 0.4 0.4 3.3 0 0.3 0.3 2.7 0 0.3 0.3 2 0 0.4 0.4 1.6 0 0.4 0.3 1.6 0 0.4 0.3 1.3 0 0.3 0.4 1.4 0 0.3 0.3 1 0 0.3 0.3 1 0 0.4 0.4 1 0 0.3 0.3 1 0 0.3 0.3 0.7 0 0.3 0.4 1 0 0.4 0.3 0.6 0 0.4 0.3 0.6 0 0.4 0.4 0.6 0 0.4 0.3 0.6 0 0.4 0.3 0.6 0 1 0.7 0.7 0 0.3 0.3 0.7 0 1.7 1 0.6 0 1 0.7 1 0.3 0.4 0.4 0.3 0 0.3 0.3 1 0.3 0.2 0.6-0.8 0.5-0.4 0-0.3 0.3-0.3 0-0.4 0.4-0.3 0-0.3 0.3-0.4 0-0.3 0.3-0.7 0-1.6 1-0.7 0-1 0.7-0.7 0-0.3 0.4-0.7 0-0.3 0.3-0.7 0-1 0.7-0.6 0-0.4 0.3-1 0-0.3 0.3-0.7 0-0.3 0.4-0.7 0-0.3 0.3-1 0-0.3 0.3-0.7 0-0.3 0.4-1 0-0.4 0.3-1.3 0-0.3 0.3-1 0-0.4 0.4-1.3 0-0.3 0.3-1.4 0-0.3 0.3-1.7 0-0.3 0.4-1.7 0-0.3 0.3-2 0-0.3 0.3-2.7 0-0.3 0.4-4 0-0.4 0.3-14.3 0-0.3-0.3-4 0-0.4-0.4-2.6 0-0.4-0.3-2 0-0.3-0.3-1.7 0-0.3-0.4-1.7 0-0.3-0.3-1.3 0-0.4-0.4-1.3 0-0.3-0.3-1 0-0.4-0.3-1.3 0-0.3-0.4-1 0-0.4-0.3-0.6 0-0.4-0.3-1 0-0.3-0.4-0.7 0-0.3-0.3-0.7 0-0.3-0.3-1 0-0.3-0.4-0.7 0-1-0.6-0.7 0-0.3-0.4-0.7 0-0.3-0.3-0.7 0-1-0.7-0.6 0-1.7-1-0.7 0-0.3-0.3-0.3 0-0.4-0.3-0.3 0-0.3-0.4-0.4 0-0.3-0.3-0.3 0-0.9-0.5 0.2-0.6 1-0.3 0.3-0.3 0.4 0 0.3-0.4 1-0.3 1-0.7 0.7 0 1-0.6 0.6 0 1-0.7 0.7 0 1-0.7 0.7 0 0.3-0.3 0.7 0 0.3-0.3 0.7 0 0.3-0.4 0.7 0 0.3-0.3 0.7 0 0.3-0.3 1 0 0.3-0.4 0.7 0 0.3-0.3 1 0 0.4-0.3 1 0 0.3-0.4 1 0 0.3-0.3 1 0 0.4-0.3 1.3 0 0.3-0.4 1.4 0 0.3-0.3 1.7 0 0.3-0.3 1.7 0 0.3-0.4 2 0 0.3-0.3 2.7 0 0.3-0.3zM1373.6 213.8l0.2-0.2 0.6 0.6 0.1 0.4 0.3 0 1.4 1.3 0.3 0 0.2 0.3-0.5 0.5-0.4 0-2 2-0.2-0.2 0.3-0.3 0-3.7-0.3-0.3zM1435.3 213.8l0.2-0.2 0.2 0.2 0 0.4-0.3 0.3 0 3.7 0.3 0.3-0.2 0.2-2-2-0.3 0-0.6-0.5 0.6-0.2 1.3-1.4 0.3 0 0.5-0.4z"/><path fill="#5a005a" d="M1374.1 125.8l1.4 1.3 0.3 0 0.4 0.4 0 0.4-1 1-0.4 0-0.6 0.7zM1433.8 127.1l1.4-1.3 0 3.7-2-1.6-0.1-0.4 0.4-0.4zM1403.5 164.8l6.3-0.2 6 0.1 6.4 0.4 5.6 0.8 6.7 1.2 5.2 1.4 6.9 2.3 3.6 1.5 0 0.2-1 0.3-0.4 0.4-0.3 0-0.3 0.3-0.4 0-0.3 0.4-0.7 0-1.6 1-0.7 0-1 0.6-0.7 0-0.3 0.4-0.7 0-0.3 0.3-0.7 0-1 0.7-0.6 0-0.4 0.3-1 0-0.3 0.4-0.7 0-0.3 0.3-0.7 0-0.3 0.3-1 0-0.3 0.4-0.7 0-0.3 0.3-1 0-0.4 0.3-1.3 0-0.3 0.4-1 0-0.4 0.3-1.3 0-0.3 0.3-1.4 0-0.3 0.4-1.7 0-0.3 0.3-1.7 0-0.3 0.3-2 0-0.3 0.4-2.7 0-0.3 0.3-4 0-0.4 0.3-14.3 0-0.3-0.3-4 0-0.4-0.3-2.6 0-0.4-0.4-2 0-0.3-0.3-1.7 0-0.3-0.4-1.7 0-0.3-0.3-1.3 0-0.4-0.3-1.3 0-0.3-0.4-1 0-0.4-0.3-1.3 0-0.3-0.3-1 0-0.4-0.4-0.6 0-0.4-0.3-1 0-0.3-0.3-0.7 0-0.3-0.4-0.7 0-0.3-0.3-1 0-0.3-0.3-0.7 0-1-0.7-0.7 0-0.3-0.4-0.7 0-0.3-0.3-0.7 0-0.3-0.3-0.3 0 4.1-2 4.8-2 4.8-1.7 4.5-1.3 9.8-2.1 5-0.8zM1373.8 213.8l0.4 0.4 0 0.3 0.3 0.3 0.3 0 1.4 1.3 0.4 0.1-0.4 0.4-0.4 0-1.6 1.6-0.1-3.7-0.3-0.3zM1434.8 214.8l0.4-0.3 0 3.7-1.7-1.7-0.3 0-0.4-0.3 0.4-0.1 1.3-1.3z"/><path fill="#630063" d="M1374.1 125.8l1.4 1.3 0.3 0 0.4 0.4 0 0.4-1 1-0.4 0-0.6 0.7zM1433.8 127.1l1.4-1.3 0 3.7-2-1.6-0.1-0.4 0.4-0.4zM1403.6 165.5l6.2-0.3 6 0 6 0.4 6 0.8 6.2 1.1 5.4 1.3 5.3 1.7 5.1 2-0.3 0.3-0.3 0-1.7 1.1-0.7 0-1.6 1-0.7 0-1 0.6-0.7 0-0.3 0.4-0.7 0-0.3 0.3-0.7 0-1 0.7-0.6 0-0.4 0.3-1 0-0.3 0.4-0.7 0-0.3 0.3-0.7 0-0.3 0.3-1 0-0.3 0.4-0.7 0-0.3 0.3-1 0-0.4 0.3-1.3 0-0.3 0.4-1 0-0.4 0.3-1.3 0-0.3 0.3-1.4 0-0.3 0.4-1.7 0-0.3 0.3-1.7 0-0.3 0.3-2 0-0.3 0.4-2.7 0-0.3 0.3-4 0-0.4 0.3-14.3 0-0.3-0.3-4 0-0.4-0.4-2.6 0-0.4-0.3-2 0-0.3-0.3-1.7 0-0.3-0.4-1.7 0-0.3-0.3-1.3 0-0.4-0.3-1.3 0-0.3-0.4-1 0-0.4-0.3-1.3 0-0.3-0.3-1 0-0.4-0.4-0.6 0-0.4-0.3-1 0-0.3-0.3-0.7 0-0.3-0.4-0.7 0-0.3-0.3-1 0-0.3-0.4-0.7 0-1-0.6-0.7 0-0.3-0.4-0.7 0-0.1-0.3 6.6-3 4.4-1.7 5.3-1.6 5.2-1.4 4.9-1 5.1-0.7zM1373.8 213.8l0.4 0.4 0 0.3 0.3 0.3 0.3 0 1.4 1.3 0.4 0.1-0.4 0.4-0.4 0-1.6 1.6-0.1-3.7-0.3-0.3zM1434.8 214.8l0.4-0.3 0 3.7-1.7-1.7-0.3 0-0.4-0.3 0.4-0.1 1.3-1.3z"/><path fill="#6c006c" d="M1374.1 125.8l1.4 1.3 0.3 0 0.4 0.4 0 0.4-1 1-0.4 0-0.6 0.6zM1433.8 127.1l1.4-1.3 0 3.7-2-1.7-0.1-0.3 0.4-0.4zM1404.7 166.2l5.8-0.3 6 0 5.7 0.4 6 0.7 5 0.9 5.6 1.3 5.5 1.6 5.2 2-0.3 0-1.7 1.1-0.7 0-1.6 1-0.7 0-1 0.6-0.7 0-0.3 0.4-0.7 0-0.3 0.3-0.7 0-1 0.7-0.6 0-0.4 0.3-1 0-0.3 0.3-0.7 0-0.3 0.4-0.7 0-0.3 0.3-1 0-0.3 0.3-0.7 0-0.3 0.4-1 0-0.4 0.3-1.3 0-0.3 0.4-1 0-0.4 0.3-1.3 0-0.3 0.3-1.4 0-0.3 0.4-1.7 0-0.3 0.3-1.7 0-0.3 0.3-2 0-0.3 0.4-2.7 0-0.3 0.3-4 0-0.4 0.3-14.3 0-0.3-0.3-4 0-0.4-0.4-2.6 0-0.4-0.3-2 0-0.3-0.3-1.7 0-0.3-0.4-1.7 0-0.3-0.3-1.3 0-0.4-0.3-1.3 0-0.3-0.4-1 0-0.4-0.3-1.3 0-0.3-0.3-1 0-0.4-0.4-0.6 0-0.4-0.3-1 0-0.3-0.4-0.7 0-0.3-0.3-0.7 0-0.3-0.3-1 0-0.3-0.4-0.7 0-1-0.6-0.5 0 8.2-3.7 4.6-1.7 4.5-1.3 9.5-2.1zM1373.8 213.8l0.4 0.4 0 0.3 0.3 0.3 0.3 0 1.4 1.3 0.3 0.1-0.3 0.3-0.4 0-1.6 1.7-0.1-3.7-0.3-0.3zM1434.8 214.8l0.4-0.3 0 3.7-1.7-1.7-0.3 0-0.4-0.3 0.4-0.1 1.3-1.3z"/><path fill="#750075" d="M1374.1 125.8l1.4 1.3 0.3 0 0.4 0.4 0 0.4-1 1-0.4 0-0.6 0.6zM1433.8 127.1l1.4-1.3 0 3.6-1.7-1.2-0.3-0.4 0-0.3 0.3-0.4zM1407 166.8l5.8-0.2 5.7 0.1 5.7 0.4 5.3 0.7 5.5 1 5.3 1.4 5.3 1.6 3.2 1.4-1 0.3-0.3 0.3-0.7 0-1.6 1.1-0.7 0-1 0.6-0.7 0-0.3 0.4-0.7 0-0.3 0.3-0.7 0-1 0.7-0.6 0-0.4 0.3-1 0-0.3 0.3-0.7 0-0.3 0.4-0.7 0-0.3 0.3-1 0-0.3 0.3-0.7 0-0.3 0.4-1 0-0.4 0.3-1.3 0-0.3 0.3-1 0-0.4 0.4-1.3 0-0.3 0.3-1.4 0-0.3 0.4-1.7 0-0.3 0.3-1.7 0-0.3 0.3-2 0-0.3 0.4-2.7 0-0.3 0.3-4 0-0.4 0.3-14.3 0-0.3-0.3-4 0-0.4-0.4-2.6 0-0.4-0.3-2 0-0.3-0.3-1.7 0-0.3-0.4-1.7 0-0.3-0.3-1.3 0-0.4-0.3-1.3 0-0.3-0.4-1 0-0.4-0.3-1.3 0-0.3-0.3-1 0-0.4-0.4-0.6 0-0.4-0.3-1 0-0.3-0.4-0.7 0-0.3-0.3-0.7 0-0.3-0.3-1 0-0.3-0.4-0.7 0 4.2-2 4-1.6 4.6-1.7 4.5-1.3 5.4-1.3 4.6-0.9 5-0.7zM1373.8 213.8l0.4 0.4 0 0.3 0.3 0.3 0.3 0 1.4 1.3 0.3 0.1-0.3 0.3-0.4 0-1.6 1.7-0.1-3.7-0.3-0.3zM1434.8 214.8l0.4-0.3 0 3.5-1.7-1.5-0.7-0.3 0.4 0 1.3-1.4z"/><path fill="#7e007e" d="M1374.1 125.8l1.4 1.3 0.3 0 0.4 0.4 0 0.4-1 1-0.4 0-0.6 0.6zM1433.8 127.1l1.4-1.3 0 3.4-2-1.4 0-0.3 0.3-0.4zM1412 167.5l9.8 0.2 9.6 1.1 9 2 5.4 1.7 2.4 1-0.4 0-0.3 0.3-0.7 0-1.6 1.1-0.7 0-1 0.6-0.7 0-0.3 0.4-0.7 0-0.3 0.3-0.7 0-1 0.7-0.6 0-0.4 0.3-1 0-0.3 0.3-0.7 0-0.3 0.4-0.7 0-0.3 0.3-1 0-0.3 0.3-0.7 0-0.3 0.4-1 0-0.4 0.3-1.3 0-0.3 0.3-1 0-0.4 0.4-1.3 0-0.3 0.3-1.4 0-0.3 0.3-1.7 0.1-0.3 0.3-1.7 0-0.3 0.3-2 0-0.3 0.4-2.7 0-0.3 0.3-4 0-0.4 0.3-14.3 0-0.3-0.3-4 0-0.4-0.4-2.6 0-0.4-0.3-2 0-0.3-0.3-1.7 0-0.3-0.4-1.7 0-0.3-0.3-1.3 0-0.4-0.3-1.3 0-0.3-0.4-1 0-0.4-0.3-1.3 0-0.3-0.4-1 0-0.4-0.3-0.6 0-0.4-0.3-1 0-0.3-0.4-0.7 0-0.3-0.3-0.7 0 0-0.3 1.5-0.7 6.2-2.7 5.3-1.8 5.4-1.5 5.3-1.2 5.3-0.9 5.4-0.6zM1373.8 213.8l0.4 0.4 0 0.3 0.3 0.3 0.3 0 1.4 1.3 0.3 0.1-0.3 0.3-0.4 0-1.6 1.7-0.1-3.7-0.3-0.3zM1434.8 214.8l0.4-0.3 0 3.3-2.3-1.6 0.3 0 1.3-1.4z"/><path fill="#870087" d="M1374.1 125.8l1.4 1.3 0.3 0 0.4 0.4 0 0.4-1 1-0.4 0-0.6 0.6zM1433.8 127.2l1.4-1.4 0 3.1-2-1.4 0.3-0.3zM1411.7 168.5l9.5 0.1 9.3 0.9 8.7 1.7 4.5 1.3 3.8 1.3-0.7 0-1.6 1-0.7 0-1 0.7-0.7 0-0.3 0.4-0.7 0-0.3 0.3-0.7 0-1 0.7-0.6 0-0.4 0.3-1 0-0.3 0.3-0.7 0-0.3 0.4-0.7 0-0.3 0.3-1 0-0.3 0.3-0.7 0-0.3 0.4-1 0-0.4 0.3-1.3 0-0.3 0.3-1 0-0.4 0.4-1.3 0-0.3 0.3-1.4 0-0.3 0.3-1.7 0-0.3 0.4-1.7 0-0.3 0.3-2 0-0.3 0.4-2.7 0-0.3 0.3-4 0-0.4 0.3-14.3 0-0.3-0.3-4 0-0.4-0.4-2.6 0-0.4-0.3-2 0-0.3-0.3-1.7 0-0.3-0.4-1.7 0-0.3-0.3-1.3 0-0.4-0.4-1.3 0-0.3-0.3-1 0-0.4-0.3-1.3 0-0.3-0.4-1 0-0.4-0.3-0.6 0-0.4-0.3-1 0 0-0.2 2.5-1.2 5.5-2.3 4.8-1.7 4.7-1.3 4.9-1.1 5-0.9 5.3-0.6zM1373.8 213.8l0.4 0.4 0 0.3 0.3 0.3 0.3 0 1.4 1.3 0.3 0.1-0.3 0.3-0.4 0-1.6 1.7-0.1-3.7-0.3-0.3zM1434.8 214.8l0.4-0.3 0 3.1-2.1-1.4 1.4-1.4z"/><path fill="#910091" d="M1374.1 125.8l1.4 1.3 0.3 0 0.4 0.4 0 0.4-1 1-0.4 0-0.6 0.6zM1433.8 127.2l1.4-1.4 0 2.8-1.8-1.1 0.1-0.3zM1415.1 169.5l8.1 0.2 7.9 0.8 8.1 1.6 7.1 2.1-0.5 0.3-0.3 0-0.3 0.3-0.7 0-1 0.7-0.7 0-0.3 0.3-0.7 0-0.3 0.4-0.7 0-1 0.7-0.6 0-0.4 0.3-1 0-0.3 0.3-0.7 0-0.3 0.4-0.7 0-0.3 0.3-1 0-0.3 0.3-0.7 0-0.3 0.4-1 0-0.4 0.3-1.3 0-0.3 0.3-1 0-0.4 0.4-1.3 0-0.3 0.3-1.4 0-0.3 0.3-1.7 0-0.3 0.4-1.7 0-0.3 0.3-2 0-0.3 0.3-2.7 0-0.3 0.4-4 0-0.4 0.3-14.3 0-0.3-0.3-4 0-0.4-0.4-2.6 0-0.4-0.3-2 0-0.3-0.4-1.7 0-0.3-0.3-1.7 0-0.3-0.3-1.3 0-0.4-0.4-1.3 0-0.3-0.3-1 0-0.4-0.3-1.3 0-0.3-0.4-1 0 4.2-2 4.2-1.6 5-1.7 4.9-1.3 5-1.1 5.3-0.8 5-0.5zM1373.8 213.8l0.4 0.4 0 0.3 0.3 0.3 0.3 0 1.4 1.3 0.3 0.1-0.3 0.3-0.4 0-1.6 1.7-0.1-3.7-0.3-0.3zM1434.8 214.8l0.4-0.3 0 2.8-1.7-1.1 0-0.4 1-1z"/><path fill="#9a009a" d="M1374.1 125.8l1.4 1.3 0.3 0 0.4 0.4 0 0.4-1 1-0.4 0-0.6 0.6zM1433.8 127.2l1.4-1.4 0 2.4-1.7-1zM1413.3 170.8l8.5-0.1 8.4 0.7 8.1 1.4 5.1 1.4 1.8 0.5 0 0.1-0.7 0-1 0.7-0.7 0-0.3 0.3-0.7 0-0.3 0.4-0.7 0-1 0.6-0.6 0-0.4 0.4-1 0-0.3 0.3-0.7 0-0.3 0.4-0.7 0-0.3 0.3-1 0-0.3 0.3-0.7 0-0.3 0.4-1 0-0.4 0.3-1.3 0-0.3 0.3-1 0-0.4 0.4-1.3 0-0.3 0.3-1.4 0-0.3 0.3-1.7 0-0.3 0.4-1.7 0-0.3 0.3-2 0-0.3 0.3-2.7 0-0.3 0.4-4 0-0.4 0.3-14.3 0-0.3-0.3-4 0-0.4-0.4-2.6 0-0.4-0.3-2 0-0.3-0.4-1.7 0-0.3-0.3-1.7 0-0.3-0.3-1.3 0-0.4-0.4-1.3 0-0.3-0.3-1 0 7.9-3.3 8.6-2.7 8.5-1.7zM1373.8 213.8l0.4 0.4 0 0.3 0.3 0.3 0.3 0 1.4 1.3 0.3 0.1-0.3 0.3-0.4 0-1.6 1.7-0.1-3.7-0.3-0.3zM1434.8 214.8l0.4-0.3 0 2.4-1.7-1.1 1-1z"/><path fill="#a300a3" d="M1374.1 125.8l1.4 1.3 0.3 0 0.4 0.4 0 0.3-1 1-0.4 0.1-0.6 0.6zM1434.2 126.8l1-1 0 1.8-1-0.5zM1415.9 172.2l7.6-0.1 7.3 0.6 8 1.4 4.7 1.2 0 0.2-0.7 0-0.3 0.3-0.7 0-0.3 0.4-0.7 0-1 0.6-0.6 0-0.4 0.4-1 0-0.3 0.3-0.7 0-0.3 0.3-0.7 0-0.3 0.4-1 0-0.3 0.3-0.7 0-0.3 0.4-1 0-0.4 0.3-1.3 0-0.3 0.3-1 0-0.4 0.4-1.3 0-0.3 0.3-1.4 0-0.3 0.3-1.7 0-0.3 0.4-1.7 0-0.3 0.3-2 0-0.3 0.3-2.7 0-0.3 0.4-4 0-0.4 0.3-14.3 0-0.3-0.4-4 0-0.4-0.3-2.6 0-0.4-0.3-2 0-0.3-0.4-1.7 0-0.3-0.3-1.7 0-0.3-0.3-0.5 0 8.2-3.4 8-2.3 8.3-1.6zM1373.8 213.8l0.4 0.4 0 0.3 0.3 0.3 0.3 0 1.4 1.3 0.3 0.1-0.3 0.3-0.4 0-1.6 1.7-0.1-3.7-0.3-0.3zM1434.8 214.8l0.4-0.3 0 2-1.4-0.8 0-0.2 0.7-0.7z"/><path fill="#ac00ac" d="M1374.1 125.8l1.4 1.4 0.3 0 0.4 0.3 0 0.3-1 1-0.4 0-0.6 0.7zM1416.3 173.8l6.5-0.1 6.7 0.3 7 1 4.3 0.9 0.7 0.1 0 0.2-0.7 0-1 0.6-0.6 0-0.4 0.4-1 0-0.3 0.3-0.7 0-0.3 0.3-0.7 0-0.3 0.4-1 0-0.3 0.3-0.7 0-0.3 0.3-1 0-0.4 0.4-1.3 0-0.3 0.3-1 0-0.4 0.4-1.3 0-0.3 0.3-1.4 0-0.3 0.3-1.7 0-0.3 0.4-1.7 0-0.3 0.3-2 0-0.3 0.3-2.7 0-0.3 0.4-4 0-0.4 0.3-14.3 0-0.3-0.4-4 0-0.4-0.3-2.6 0-0.4-0.3-2 0-0.4-0.4 6.8-2.6 7-2.1 7.3-1.4zM1373.8 213.8l0.7 1 0.3 0 1.4 1.4 0.3 0-0.3 0.3-0.4 0-1.6 1.7-0.1-3.7-0.3-0.3zM1434.2 215.2l1-0.7 0 1.5-1-0.6z"/><path fill="#b401b4" d="M1374.2 125.8l1.3 1.4 0.3 0 0.4 0.3 0 0.3-1 1-0.4 0-0.6 0.7zM1421.8 175.5l4.7 0 4.7 0.4 5.6 0.7 2 0.4 0 0.2-1 0-0.3 0.3-0.7 0-0.3 0.3-0.7 0-0.3 0.4-1 0-0.3 0.3-0.7 0-0.3 0.3-1 0-0.4 0.4-1.3 0-0.3 0.3-1 0-0.4 0.3-1.3 0-0.3 0.4-1.4 0-0.3 0.3-1.7 0-0.3 0.4-1.7 0-0.3 0.3-2 0-0.3 0.3-2.7 0-0.3 0.4-4 0-0.4 0.3-14.3 0-0.3-0.4-4 0-0.4-0.3-0.4 0 7.1-2.6 7.3-1.8 7.4-1.1zM1373.8 213.8l0.7 1 0.3 0 1.4 1.4 0.3 0-0.3 0.3-0.4 0-1.6 1.7 0-3.7-0.4-0.3z"/><path fill="#bc02bc" d="M1374.2 125.8l1.3 1.4 0.3 0 0.4 0.3 0 0.3-2 1.7zM1418.2 177.5l8.3-0.1 8.4 0.8-0.4 0-0.3 0.3-0.7 0-0.3 0.3-1 0-0.4 0.4-1.3 0-0.3 0.3-1 0-0.4 0.3-1.3 0-0.3 0.4-1.4 0-0.3 0.3-1.7 0-0.3 0.4-1.7 0-0.3 0.3-2 0-0.3 0.3-2.7 0-0.3 0.4-4 0-0.4 0.3-14.3 0-0.1-0.4 4.8-1.6 5-1.2 5.6-1zM1373.8 213.8l0.7 1 0.3 0 1.4 1.4 0.3 0-0.7 0.3-1.6 1.7 0-3.7-0.4-0.3z"/><path fill="#c405c4" d="M1374.2 125.8l1.5 1.4-1.5 1.3 0-1zM1419.2 178.8l7.3 0.1 3.7 0.3 0 0.3-1 0-0.4 0.3-1.3 0-0.3 0.4-1.4 0-0.3 0.3-1.7 0-0.3 0.3-1.7 0-0.3 0.4-2 0-0.3 0.3-2.7 0-0.3 0.4-4-0.1-0.4 0.4-10.8 0 3.8-1.2 4.7-1.1 4.7-0.7zM1373.8 213.8l0.7 1 0.3 0 1 1-1.6 1.6 0-2.9-0.4-0.3z"/><path fill="#cb0acb" d="M1418.6 179.8l5.2 0 3.4 0.2 0 0.2-1.4 0-0.3 0.3-1.7 0-0.3 0.3-1.7 0-0.3 0.4-2 0-0.3 0.3-2.7 0-0.3 0.3-4 0-0.4 0.4-7.3 0 6.7-1.6z"/><path fill="#d311d3" d="M1415.2 180.8l4-0.2 4.3 0 0 0.2-1.7 0-0.3 0.4-2 0-0.3 0.3-2.7 0-0.3 0.3-4 0-0.4 0.4-4.1 0 3.8-0.9z"/></g></g>
<clipPath id="csc2"><use href="#sc2"/></clipPath><g opacity="0.45" clip-path="url(#csc2)"><g filter="url(#bl)"><path id="sc2" fill="#4e004e" stroke="#4e004e" stroke-width="3" d="M1373.6 125.5l0.2-0.2 1.7 1.7 0.3 0 0.6 0.5 0 0.3-1.2 1.2-0.4 0-1 1-0.2-0.2 0.4-0.3 0-3.7zM1433.8 127l1.7-1.7 0.2 0.2-0.3 0.3 0 3.7 0.3 0.3-0.2 0.2-2.5-2.2 0-0.3 0.3-0.3zM1396.3 161.8l0.2-0.2 16.3 0 0.4 0.3 3.3 0.1 0.3 0.3 2.7 0 0.3 0.3 2 0 0.4 0.4 1.6 0 0.4 0.3 1.6 0 0.4 0.3 1.3 0 0.3 0.4 1.4 0 0.3 0.3 1 0 0.3 0.3 1 0 0.4 0.4 1 0 0.3 0.3 1 0 0.3 0.3 0.7 0 0.3 0.4 1 0 0.4 0.3 0.6 0 0.4 0.3 0.6 0 0.4 0.4 0.6 0 0.4 0.3 0.6 0 0.4 0.3 0.6 0 1 0.7 0.7 0 0.3 0.3 0.7 0 1 0.7 0.3 0 0.4 0.3 0.6 0 1.7 1 0.3 0 0.4 0.4 0.3 0 0.3 0.3 0.4 0 0.3 0.3 0.3 0 0.2 0.6-0.8 0.5-0.4 0-0.3 0.4-0.3 0-0.4 0.3-0.3 0-0.3 0.3-0.4 0-0.3 0.4-0.7 0-1.6 1-0.7 0-1 0.6-0.7 0-0.3 0.4-0.7 0-0.3 0.3-0.7 0-1 0.7-0.6 0-0.4 0.3-1 0-0.3 0.3-0.7 0-0.3 0.4-0.7 0-0.3 0.3-1 0-0.3 0.3-0.7 0-0.3 0.4-1 0-0.4 0.3-1.3 0-0.3 0.3-1 0-0.4 0.4-1.3 0-0.3 0.3-1.4 0-0.3 0.3-1.7 0-0.3 0.4-1.7 0-0.3 0.3-2 0-0.3 0.3-2.7 0-0.3 0.4-4 0-0.4 0.3-14.3 0-0.3-0.3-4 0-0.4-0.4-2.6 0-0.4-0.3-2 0-0.3-0.3-1.7 0-0.3-0.4-1.7 0-0.3-0.3-1.3 0-0.4-0.3-1.3 0-0.3-0.4-1 0-0.4-0.3-1.3 0-0.3-0.3-1 0-0.4-0.4-0.6 0-0.4-0.3-1 0-0.3-0.3-0.7 0-0.3-0.4-0.7 0-0.3-0.3-1 0-0.3-0.3-0.7 0-1-0.7-0.7 0-0.3-0.3-0.7 0-0.3-0.4-0.7 0-1-0.6-0.6 0-1.7-1-0.7 0-0.3-0.4-0.3 0-0.4-0.3-0.3 0-0.3-0.3-0.4 0-0.3-0.4-0.3 0-0.9-0.5 0-0.4 0.2-0.2 0.3 0 0.4-0.3 0.3 0 0.3-0.4 0.4 0 0.3-0.3 0.3 0 1.7-1 0.7 0 1-0.7 0.6 0 0.4-0.3 0.3 0 0.3-0.3 0.7 0 1-0.7 0.7 0 0.3-0.3 0.7 0 0.3-0.4 0.7 0 0.3-0.3 0.7 0 0.3-0.3 0.7 0 0.3-0.4 1 0 0.3-0.3 0.7 0 0.3-0.3 1 0 0.4-0.4 1 0 0.3-0.3 1 0 0.3-0.3 1 0 0.4-0.4 1.3 0 0.3-0.3 1.4 0 0.3-0.3 1.7 0 0.3-0.4 1.7 0 0.3-0.3 2 0 0.3-0.3 2.7 0 0.3-0.4zM1373.6 214.2l0.2-0.6 0.6 0.6 0.1 0.4 0.3 0 1.4 1.4 0.5 0.2-0.5 0.5-0.4 0-2 2-0.2-0.2 0.4-0.3 0-3.7zM1435.3 213.8l0.2-0.2 0.2 0.2 0 0.4-0.3 0.3 0 3.7 0.3 0.3-0.2 0.2-2-2-0.3 0-0.6-0.5 0.6-0.2 1.3-1.4 0.3 0 0.5-0.4z"/><path fill="#690069" d="M1433.8 127.2l1.4-1.4 0 3.7-1.9-2 0.2-0.3zM1396.5 161.8l16.3 0 0.4 0.3 3.3 0 0.3 0.4 2.7 0 0.3 0.3 2 0 0.4 0.3 1.6 0 0.4 0.4 1.6 0 0.4 0.3 1.3 0 0.3 0.3 1.4 0 0.3 0.4 1 0 0.3 0.3 1 0 0.4 0.3 1 0 0.3 0.4 1 0 0.3 0.3 0.7 0 0.3 0.3 1 0 0.4 0.4 0.6 0 0.4 0.3 0.6 0 0.4 0.3 0.6 0 0.4 0.4 0.6 0 0.4 0.3 0.6 0 1 0.7 0.7 0 0.3 0.3 0.7 0 1 0.7 0.3 0 0.4 0.3 0.6 0 1.7 1 0.3 0 0.4 0.3 0.3 0 0.3 0.4 0.4 0 0.3 0.3 0.3 0 0.1 0.4-1.1 0.3-0.3 0.4-0.3 0-0.4 0.3-0.3 0-0.3 0.4-0.4 0-0.3 0.3-0.7 0-1.6 1-0.7 0-1 0.7-0.7 0-0.3 0.3-0.7 0-0.3 0.3-0.7 0-1 0.7-0.6 0-0.4 0.3-1 0-0.3 0.4-0.7 0-0.3 0.3-0.7 0-0.3 0.3-1 0-0.3 0.4-0.7 0-0.3 0.3-1 0-0.4 0.3-1.3 0.1-0.3 0.3-1 0-0.4 0.3-1.3 0-0.3 0.4-1.4 0-0.3 0.3-1.7 0-0.3 0.3-1.7 0.1-0.3 0.3-2 0-0.3 0.3-2.7 0-0.3 0.4-4-0.1-0.4 0.4-14.3-0.1-0.3-0.3-4 0-0.4-0.3-2.6 0-0.4-0.4-2 0-0.3-0.3-1.7 0-0.3-0.3-1.7 0-0.3-0.4-1.3 0-0.4-0.3-1.3 0-0.3-0.3-1 0-0.4-0.4-1.3 0-0.3-0.3-1 0-0.4-0.3-0.6 0-0.4-0.4-1 0-0.3-0.3-0.7 0-0.3-0.3-0.7 0-0.3-0.4-1 0-0.3-0.3-0.7 0-1-0.7-0.7 0-0.3-0.3-0.7 0-0.3-0.3-0.7 0-1-0.7-0.6 0-1.7-1-0.7 0-0.3-0.3-0.3 0-0.4-0.4-0.3 0-0.3-0.3-0.4 0-0.3-0.3-1.1-0.4 0.1-0.4 0.3 0 0.4-0.4 0.3 0 0.3-0.3 0.4 0 0.3-0.3 0.3 0 1.7-1 0.7 0 1-0.7 0.6 0 0.4-0.3 0.3 0 0.3-0.3 0.7-0.1 1-0.6 0.7 0 0.3-0.3 0.7-0.1 0.3-0.3 0.7 0 0.3-0.3 0.7 0 0.3-0.3 0.7-0.1 0.3-0.3 1 0 0.3-0.3 0.7 0 0.3-0.3 1-0.1 0.4-0.3 1 0 0.3-0.3 1 0 0.3-0.3 1-0.1 0.4-0.3 1.3 0 0.3-0.3 1.4 0 0.3-0.3 1.7-0.1 0.3-0.3 1.7 0 0.3-0.3 2 0 0.3-0.3 2.7 0 0.3-0.4 3.4 0zM1434.8 214.8l0.4-0.3 0 3.7-1.8-2 0.1-0.4 1-1z"/><path fill="#7b007b" d="M1433.8 127.2l1.4-1.4 0 3.3zM1396.5 161.8l16.3 0 0.4 0.3 3.3 0 0.3 0.4 2.7 0 0.3 0.3 2 0 0.4 0.3 1.6 0 0.4 0.4 1.6 0 0.4 0.3 1.3 0 0.3 0.3 1.4 0 0.3 0.4 1 0 0.3 0.3 1 0 0.4 0.3 1 0 0.3 0.4 1 0 0.3 0.3 0.7 0 0.3 0.3 1 0.1 0.4 0.3 0.6 0 0.4 0.3 0.6 0 0.4 0.3 0.6 0.1 0.4 0.3 0.6 0 0.4 0.3 0.6 0 1 0.7 0.7 0 0.3 0.3 0.7 0 1 0.7 0.3 0 0.4 0.3 0.6 0 1.7 1 0.3 0 0.4 0.3 0.3 0.1 0.3 0.3 0.4 0 0.3 0.3 0.3 0 0.1 0.4-1.1 0.3-0.3 0.4-0.3 0-0.4 0.3-0.3 0-0.3 0.3-0.4 0-0.3 0.4-0.7 0-1.6 1-0.7 0-1 0.7-0.7 0-0.3 0.3-0.7 0-0.3 0.3-0.7 0-1 0.7-0.6 0-0.4 0.3-1 0-0.3 0.4-0.7 0-0.3 0.3-0.7 0-0.3 0.3-1 0-0.3 0.4-0.7 0-0.3 0.3-1 0-0.4 0.3-1.3 0-0.3 0.4-1 0-0.4 0.3-1.3 0-0.3 0.4-1.4 0-0.3 0.3-1.7 0-0.3 0.3-1.7 0-0.3 0.4-2 0-0.3 0.3-2.7 0-0.3 0.3-4 0-0.4 0.4-14.3-0.1-0.3-0.3-4 0-0.4-0.4-2.6 0-0.4-0.3-2 0-0.3-0.3-1.7 0-0.3-0.4-1.7 0-0.3-0.3-1.3 0-0.4-0.3-1.3 0-0.3-0.4-1 0-0.4-0.3-1.3 0-0.3-0.3-1 0-0.4-0.4-0.6 0-0.4-0.3-1 0-0.3-0.3-0.7 0-0.3-0.4-0.7 0.1-0.3-0.4-1 0-0.3-0.3-0.7 0-1-0.7-0.7 0-0.3-0.3-0.7 0-0.3-0.3-0.7 0-1-0.7-0.6 0-1.7-1-0.7 0-0.3-0.3-0.3 0-0.4-0.4-0.3 0-0.3-0.3-0.4 0-0.3-0.4-1-0.3 0-0.4 0.3 0 0.4-0.3 0.3 0 0.3-0.4 0.4 0 0.3-0.3 0.3 0 1.7-1 0.7 0 1-0.7 0.6 0 0.4-0.3 0.3 0 0.3-0.3 0.7 0 1-0.7 0.7 0 0.3-0.3 0.7 0 0.3-0.4 0.7 0 0.3-0.3 0.7 0 0.3-0.3 0.7 0 0.3-0.4 1 0 0.3-0.3 0.7 0 0.3-0.3 1 0 0.4-0.4 1 0 0.3-0.3 1 0 0.3-0.3 1 0 0.4-0.4 1.3 0 0.3-0.3 1.4 0 0.3-0.3 1.7 0 0.3-0.4 1.7 0 0.3-0.3 2 0 0.3-0.3 2.7 0 0.3-0.4 3.4 0zM1434.8 214.8l0.4-0.3 0 3.2-1.4-1.9 0-0.3 0.7-0.7z"/><path fill="#8d008d" d="M1434.5 126.5l0.7-0.7 0 2.3zM1396.5 161.8l16.3 0 0.4 0.3 3.3 0.1 0.3 0.3 2.7 0 0.3 0.3 2 0 0.4 0.3 1.6 0.1 0.4 0.3 1.6 0 0.4 0.3 1.3 0 0.3 0.3 1.4 0.1 0.3 0.3 1 0 0.3 0.3 1 0 0.4 0.4 1 0 0.3 0.3 1 0 0.3 0.3 0.7 0 0.3 0.4 1 0 0.4 0.3 0.6 0 0.4 0.3 0.6 0 0.4 0.4 0.6 0 0.4 0.3 0.6 0 0.4 0.3 0.6 0 1 0.7 0.7 0 0.3 0.3 0.6 0 1.1 0.7 0.3 0 0.4 0.3 0.5 0 0.5 0.4 0.3 0 1.7 1 0.3 0 0.3 0.3 0.4 0 0.3 0.3 0.3 0 0 0.4-1 0.3-0.3 0.4-0.3 0-0.4 0.3-0.3 0-0.3 0.3-0.4 0-0.3 0.4-0.7 0-1.6 1-0.7 0-1 0.6-0.7 0-0.3 0.4-0.7 0-0.3 0.3-0.7 0-1 0.7-0.6 0-0.4 0.3-1 0-0.3 0.3-0.7 0-0.3 0.4-0.7 0-0.3 0.3-1 0-0.3 0.4-0.7 0-0.3 0.3-1 0-0.4 0.3-1.3 0-0.3 0.4-1 0-0.4 0.3-1.3 0-0.3 0.3-1.4 0.1-0.3 0.3-1.7 0-0.3 0.3-1.7 0-0.3 0.4-2 0-0.3 0.3-2.7 0-0.3 0.3-4 0-0.4 0.4-14.3-0.1-0.3-0.3-4 0-0.4-0.4-2.6 0-0.4-0.3-2 0-0.3-0.3-1.7 0-0.3-0.4-1.7 0-0.3-0.3-1.3 0-0.4-0.3-1.3 0-0.3-0.4-1 0-0.4-0.3-1.3 0-0.3-0.3-1 0-0.4-0.4-0.6 0-0.4-0.3-1 0-0.3-0.3-0.7 0-0.3-0.4-0.7 0-0.3-0.3-1 0-0.3-0.3-0.7 0-1-0.7-0.7 0-0.3-0.3-0.7 0-0.3-0.4-0.7 0-1-0.6-0.6 0-1.7-1-0.7 0-0.3-0.4-0.3 0-0.4-0.3-0.3 0-0.3-0.3-0.4 0-0.3-0.4-1-0.3 0-0.4 0.3 0 0.4-0.3 0.3 0 0.3-0.4 0.4 0 0.3-0.3 0.3 0 1.7-1 0.7 0 1-0.7 0.6 0 0.4-0.3 0.3 0 0.3-0.3 0.7 0 1-0.7 0.7 0 0.3-0.3 0.7 0 0.3-0.4 0.7 0 0.3-0.3 0.7 0 0.3-0.3 0.7 0 0.3-0.4 1 0 0.3-0.3 0.7 0 0.3-0.3 1 0 0.4-0.4 1 0 0.3-0.3 1 0 0.3-0.3 1 0 0.4-0.4 1.3 0 0.3-0.3 1.4 0 0.3-0.3 1.7 0 0.3-0.4 1.7 0 0.3-0.3 2 0 0.3-0.3 2.7 0 0.3-0.4 3.4 0zM1434.8 214.8l0.4-0.3 0 2.3-0.8-1.6 0.1-0.4z"/><path fill="#a000a0" d="M1396.5 161.8l16.3 0 0.4 0.4 3.3 0 0.3 0.3 2.7 0 0.3 0.3 2 0 0.4 0.4 1.6 0 0.4 0.3 1.5 0 0.5 0.3 1.1 0 0.5 0.4 1.1 0 0.6 0.3 0.8 0 0.5 0.3 0.8 0 0.6 0.4 0.7 0 0.6 0.3 0.6 0 5.2 1.7 5.8 2.3 5.4 2.7-0.3 0.3-0.4 0-0.3 0.3-0.3 0-1.7 1.1-0.7 0-1.6 1-0.7 0-1 0.6-0.7 0-0.3 0.4-0.7 0-0.3 0.3-0.7 0-1 0.7-0.6 0-0.4 0.3-1 0-0.3 0.3-0.7 0-0.3 0.4-0.7 0-0.3 0.3-1 0-0.3 0.3-0.7 0-0.3 0.4-1 0-0.4 0.3-1.3 0-0.3 0.4-1 0-0.4 0.3-1.3 0-0.3 0.3-1.4 0-0.3 0.4-1.7 0-0.3 0.3-1.7 0-0.3 0.4-2 0-0.3 0.3-2.7 0-0.3 0.3-4 0-0.4 0.4-14.3-0.1-0.3-0.3-4 0-0.4-0.4-2.6 0-0.4-0.3-2 0-0.3-0.3-1.7 0-0.3-0.4-1.7 0-0.3-0.3-1.3 0-0.4-0.3-1.3 0-0.3-0.4-1 0-0.4-0.3-1.3 0-0.3-0.3-1 0-0.4-0.4-0.6 0-0.4-0.3-1 0-0.3-0.3-0.7 0-0.3-0.4-0.7 0-0.3-0.3-1 0-0.3-0.3-0.7 0-1-0.7-0.7 0-0.3-0.3-0.7 0-0.3-0.4-0.7 0-1-0.6-0.6 0-1.7-1-0.7 0-0.3-0.4-0.3 0-0.4-0.3-0.3 0-0.3-0.3-0.4 0-0.3-0.4-1-0.3 0-0.4 0.3 0 0.4-0.3 0.3 0 0.3-0.4 0.4 0 0.3-0.3 0.3 0 1.7-1 0.7 0 1-0.7 0.6 0 0.4-0.3 0.3 0 0.3-0.3 0.7 0 1-0.7 0.7 0 0.3-0.3 0.7 0 0.3-0.3 0.7-0.1 0.3-0.3 0.7 0 0.3-0.3 0.7 0 0.3-0.3 1-0.1 0.3-0.3 0.7 0 0.3-0.3 1 0 0.4-0.3 1-0.1 0.3-0.3 1 0 0.3-0.3 1 0 0.4-0.3 1.3-0.1 0.3-0.3 1.4 0 0.3-0.3 1.7 0 0.3-0.3 1.7-0.1 0.3-0.3 2 0 0.3-0.3 2.7 0 0.3-0.3 3.4 0z"/><path fill="#b200b2" d="M1397.9 161.8l10.9 0 4.7 0.4 5.7 0.6 7.3 1.4 6.5 1.6 6 2 5.5 2.4 5 2.6-0.3 0-1.7 1-0.7 0-1.6 1.1-0.7 0-1 0.6-0.7 0-0.3 0.4-0.7 0-0.3 0.3-0.7 0-1 0.7-0.6 0-0.4 0.3-1 0-0.3 0.3-0.7 0-0.3 0.4-0.7 0-0.3 0.3-1 0-0.3 0.3-0.7 0-0.3 0.4-1 0-0.4 0.3-1.3 0-0.3 0.4-1 0-0.4 0.3-1.3 0-0.3 0.3-1.4 0-0.3 0.4-1.7 0-0.3 0.3-1.7 0-0.3 0.4-2 0-0.3 0.3-2.7 0-0.3 0.3-4 0-0.4 0.3-14.3 0-0.3-0.3-4-0.1-0.4-0.3-2.6 0-0.4-0.3-2 0-0.3-0.4-1.7 0-0.3-0.3-1.7 0-0.3-0.3-1.3 0-0.4-0.4-1.3 0-0.3-0.3-1 0-0.4-0.3-1.3 0-0.3-0.4-1 0-0.4-0.3-0.6 0-0.4-0.3-1 0-0.3-0.3-0.7 0-0.3-0.4-0.7 0-0.3-0.3-1 0-0.3-0.3-0.7 0-1-0.7-0.7 0-0.3-0.3-0.7 0-0.3-0.4-0.7 0-1-0.6-0.6 0-1.7-1-0.7 0-0.3-0.4-0.3 0-0.4-0.3-0.3 0-0.3-0.3-0.4 0-0.3-0.4-1-0.3 0-0.4 0.3 0 0.4-0.3 0.3 0 0.3-0.3 0.4 0 0.3-0.4 0.3 0 1.7-1 0.7 0 1-0.6 0.6 0 0.4-0.4 0.3 0 0.3-0.3 0.7 0 1-0.7 0.7 0 0.3-0.3 0.7 0 0.3-0.3 0.7 0 0.3-0.4 0.7 0 0.3-0.3 0.7 0 0.3-0.3 1 0 0.3-0.4 0.7 0 0.3-0.3 1 0 0.4-0.3 1 0 0.3-0.4 1 0 0.3-0.3 1 0 0.4-0.3 1.3 0 0.3-0.4 1.4 0 0.3-0.3 1.7 0 0.3-0.3 1.7 0 0.3-0.4 2 0 0.5-0.3 2.5 0 0.7-0.3 3 0z"/><path fill="#c500c5" d="M1394.8 162.8l7-0.2 7 0.3 6.6 0.6 8.1 1.3 6.7 1.7 6.2 2 6.2 2.7 4.9 2.6-0.7 0-1.6 1-0.7 0-1 0.7-0.7 0-0.3 0.3-0.7 0-0.3 0.4-0.7 0-1 0.6-0.6 0.1-0.4 0.3-1 0-0.3 0.3-0.7 0-0.3 0.4-0.7 0-0.3 0.3-1 0-0.3 0.3-0.7 0-0.3 0.4-1 0-0.4 0.3-1.3 0-0.3 0.3-1 0-0.4 0.4-1.3 0-0.3 0.3-1.4 0-0.3 0.4-1.7 0-0.3 0.3-1.7 0-0.3 0.3-2 0-0.3 0.4-2.7 0-0.3 0.3-4 0-0.4 0.3-14.3 0-0.3-0.4-4 0-0.4-0.3-2.6 0-0.4-0.3-2 0-0.3-0.4-1.7 0-0.3-0.3-1.7 0-0.3-0.3-1.3 0-0.4-0.4-1.3 0-0.3-0.3-1 0-0.4-0.3-1.3 0-0.3-0.4-1 0-0.4-0.3-0.6 0-0.4-0.3-1 0-0.3-0.4-0.7 0-0.3-0.3-0.7 0-0.3-0.3-1 0-0.3-0.4-0.7 0-1-0.6-0.7 0-0.3-0.4-0.7 0-0.3-0.3-0.7 0-1-0.7-0.6 0-1.7-1-0.7 0-0.3-0.3-0.3 0-0.4-0.3-0.3 0-0.3-0.4-0.4 0-0.3-0.3-1-0.3 0-0.3 0.8-0.4 6.2-2.7 4.9-1.6 4.7-1.4 4.4-1 5.6-1z"/><path fill="#d101d1" d="M1398.7 165.8l6.5-0.1 6.3 0.3 6.7 0.8 5.6 1 5.4 1.4 5.8 2 6 2.6 2.5 1.4 0 0.3-0.7 0-0.3 0.3-0.7 0-0.3 0.4-0.7 0-1 0.6-0.6 0-0.4 0.4-1 0-0.3 0.3-0.7 0-0.3 0.3-0.7 0-0.3 0.4-1 0-0.3 0.3-0.7 0-0.3 0.4-1 0-0.4 0.3-1.3 0-0.3 0.3-1 0-0.4 0.4-1.3 0-0.3 0.3-1.4 0-0.3 0.4-1.7 0-0.3 0.3-1.7 0-0.3 0.3-2 0-0.3 0.4-2.7 0-0.3 0.3-4 0-0.4 0.3-14.3 0-0.3-0.4-0.4 0-4.1-2-6.2-3.6-3-1.1-3.3-0.5-4 0.1-4 0.6-3.4 1-1-0.1-0.3-0.4-0.7 0-0.3-0.3-0.7 0-1-0.7-0.6 0-1.7-1-0.7 0-0.3-0.3-0.3 0 0-0.3 5.4-1.7 14.1-3.3 9.8-1.7z"/><path fill="#e009e0" d="M1405.6 171.8l3.9-0.2 4.3 0 4.4 0.4 4 0.6 4.3 1 3.3 1 3.7 1.4 3.1 1.5-0.1 0.3-0.7 0-0.3 0.4-1 0-0.3 0.3-0.7 0-0.3 0.3-1 0-0.4 0.4-1.3 0-0.3 0.3-1 0-0.4 0.4-1.3 0-0.3 0.3-1.4 0-0.3 0.3-1.7 0.1-0.3 0.3-1.7 0-0.3 0.3-2 0-0.3 0.4-2.7 0-0.3 0.3-4 0-0.4 0.3-11.3 0-3.3-2-1.3-1-0.8-1-0.3-1 0.1-1 0.7-1 1.2-1 1.7-0.8 2.3-0.7z"/><path fill="#ed16ed" d="M1408.7 173.2l6.5 0.1 6.6 1.1 3.4 0.9 3 1.1 2.6 1.2 2.2 1.2-0.8 0-0.4 0.4-1.3 0-0.3 0.3-1 0-0.4 0.4-1.3 0-0.3 0.3-1.4 0-0.3 0.3-1.7 0-0.3 0.4-1.7 0-0.3 0.3-2 0-0.3 0.4-2.7 0-0.3 0.3-4 0-0.4 0.3-9.4 0-3-2-1.5-1.7-0.2-1 0.3-1 0.7-0.7 1.1-0.7 1.7-0.7 2.3-0.6z"/><path fill="#fa23fa" d="M1407.2 174.2l3-0.3 3.3 0.1 3.7 0.3 3.3 0.6 5.7 1.7 3 1.4 2.1 1.2-0.8 0-0.3 0.3-1 0-0.4 0.3-1.3 0-0.3 0.4-1.4 0-0.3 0.3-1.7 0-0.3 0.4-1.7 0-0.3 0.3-2 0-0.3 0.3-2.7 0-0.3 0.4-4 0-0.4 0.3-7.9 0-2.1-1.4-1.5-1.3-0.5-1-0.1-0.7 0.4-1 0.6-0.6 2.5-1.2z"/><path fill="#ff3bff" d="M1408 174.8l5.5-0.1 3 0.3 3.3 0.6 5.4 1.7 2.3 1.1 1.9 1.1-0.6 0.3-1.3 0-0.3 0.4-1.4 0-0.3 0.3-1.7 0-0.3 0.4-1.7 0-0.3 0.3-2 0-0.3 0.3-2.7 0-0.3 0.4-4 0-0.4 0.3-6.7 0-2.1-1.4-1-1-0.8-1.3 0.2-1 0.9-1 1.2-0.7 2-0.6z"/><path fill="#ff5fff" d="M1409.1 176.2l4.7-0.2 5.4 0.7 2.6 0.7 2.4 0.9 2.6 1.3 0.4 0.3 0 0.3-1.4 0-0.3 0.3-1.7 0-0.3 0.4-1.7 0-0.3 0.3-2 0-0.3 0.3-2.7 0-0.3 0.4-4 0-0.4 0.3-4.4 0-1.5-1-1-1-0.5-1 0-0.7 0.4-0.7 1-0.7 1.4-0.5z"/><path fill="#ff84ff" d="M1410.5 177.2l4-0.2 4.7 0.6 4.3 1.5 2 1.1 0 0.3-1.7 0-0.3 0.3-1.7 0.1-0.3 0.3-2 0-0.3 0.3-2.7 0-0.3 0.4-4-0.1-0.4 0.4-1.9 0-2.2-1.7-0.4-0.7-0.1-0.6 0.3-0.7 0.7-0.6z"/><path fill="#ffa8ff" d="M1411.6 178.2l2.9-0.3 3.7 0.3 3.2 1 2.7 1.3-0.6 0.3-1.7 0-0.3 0.4-2 0-0.3 0.3-2.7 0-0.3 0.3-4 0-0.4 0.2-1.5-1.2-0.6-1 0.1-0.6 0.3-0.4z"/><path fill="#ffd1ff" d="M1413.2 179.2l2-0.3 2.6 0.2 2.7 0.7 2 1-0.7 0-0.3 0.4-2 0-0.3 0.3-2.7 0-0.3 0.3-2.4 0-1.2-1-0.3-0.6 0.3-0.7z"/></g></g>
<clipPath id="csc3"><use href="#sc3"/></clipPath><g opacity="0.45" clip-path="url(#csc3)"><g filter="url(#bl)"><path id="sc3" fill="#4f004f" stroke="#4f004f" stroke-width="3" d="M1399.8 79.3l0.4-0.3 9 0 0.3 0.3 4.7 0 0.3 0.3 3 0 0.3 0.4 2 0 0.4 0.3 2 0 0.3 0.3 1.3 0 0.4 0.4 1.3 0 0.3 0.3 1.4 0 0.3 0.3 1 0 0.3 0.4 1.4 0 0.3 0.3 0.7 0 0.3 0.3 1 0 0.3 0.4 0.7 0 0.3 0.3 1 0 0.4 0.3 0.6 0 0.4 0.4 0.6 0 0.4 0.3 0.6 0 0.4 0.3 0.6 0 1 0.7 0.7 0 0.3 0.3 0.7 0 1.7 1 0.6 0 1 0.7 1 0.3 0.4 0.4 0.6 0 0.4 0.3 0.3 0 0.3 0.3 1 0.4 0.7 0.6 1 0.4 0.3 0.3 1 0.3 0.7 0.7 1 0.3 1.7 1.4 0.3 0 1.7 1.3 0.3 0 1 1 0.3 0 1 1 0.4 0 1.6 1.7 0.4 0 6.2 6.2 0 0.3 1.3 1.3 0 0.4 1 1 0 0.3 1 1 0 0.3 1.3 1.7 0.4 1 0.6 0.7 0 0.3 0.4 0.3 0 0.4 0.3 0.3 0 0.3 0.3 0.4 0 0.3 0.4 0.3 0 0.4 1 1.6 0 0.7 0.6 1 0 0.7 0.4 0.3 0 0.7 0.3 0.3 0 0.7 0.3 0.3 0 1 0.4 0.3 0 1 0.3 0.4 0 1 0.3 0.3 0 2 0.4 0.3 0 3.7 0.3 0.3 0 1.7-0.3 0.3 0 3.7-0.3 0.3-0.1 1.7-0.3 0.3 0 1.4-0.3 0.3 0 0.7-0.3 0.3 0 1-0.4 0.3 0 0.7-0.3 0.3 0 0.7-0.7 1 0 0.7-1 1.6 0 0.4-0.3 0.3 0 0.3-0.3 0.4 0 0.3-0.4 0.3 0 0.4-0.6 0.6 0 0.4-0.4 0.3 0 0.3-0.6 0.7 0 0.3-1 1 0 0.4-0.7 0.6 0 0.4-1.7 1.6 0 0.4-5.2 5.2-0.3 0-1.7 1.7-0.3 0-2.4 2-0.3 0-0.7 0.6-0.3 0-1.7 1.4-1 0.3-0.6 0.7-1 0.3-0.7 0.7-1 0.3-0.3 0.3-0.4 0-0.1 0.5 0.8 0.4 0.3 0 0.4 0.4 0.3 0 0.3 0.3 0.4 0 0.6 0.7 1 0.3 0.7 0.7 1 0.3 0.7 0.7 0.3 0 1 1 0.3 0 0.7 0.6 0.3 0 1 1 0.4 0 1.6 1.7 0.4 0 5.8 5.9 0 0.3 1.4 1.3 0 0.4 1 1 0 0.3 0.6 0.7 0 0.3 0.7 0.7 0.3 1 0.7 0.6 0 0.4 0.3 0.3 0 0.3 0.4 0.4 0 0.3 0.3 0.3 0 0.4 1 1.6 0 0.7 0.7 1 0 0.7 0.3 0.3 0 0.7 0.3 0.3 0 0.7 0.4 0.3 0 1 0.3 0.3 0 1.4 0.3 0.3 0 1.7 0.4 0.3 0 3.7 0.3 0.3 0 0.7 0 1-0.3 0.3 0 3.7-0.3 0.3-0.1 1.7-0.3 0.3 0 1.3-0.3 0.4 0 1-0.3 0.3 0 1-0.4 0.3 0 0.7-0.3 0.3 0 0.7-0.3 0.3 0 0.4-0.4 0.3 0 0.7-0.6 1 0 0.6-1 1.7 0 0.3-0.4 0.4 0 0.3-0.3 0.3 0 0.4-0.7 0.6-0.3 1-0.7 0.7-0.3 1-0.7 0.7 0 0.3-1 1 0 0.3-1 1 0 0.4-1.6 1.6 0 0.4-5.6 5.5-0.3 0-1.7 1.7-0.3 0-1.4 1.3-0.3 0-0.7 0.7-0.3 0-1 1-0.3 0-1.7 1.3-1 0.4-0.7 0.6-1 0.4-0.6 0.6-1 0.4-0.4 0.3-0.3 0-0.3 0.3-0.4 0-0.3 0.4-0.3 0-0.4 0.3-0.3 0-0.3 0.3-0.4 0-0.3 0.4-0.3 0-0.4 0.3-0.3 0-0.3 0.3-0.4 0-0.3 0.4-0.7 0-1.6 1-0.7 0-1 0.6-0.7 0-0.3 0.4-0.7 0-0.3 0.3-0.7 0-1 0.7-1 0-0.3 0.3-0.7 0-0.3 0.3-0.7 0-0.3 0.4-1 0-0.3 0.3-0.7 0-0.3 0.3-1 0-0.4 0.4-1 0-0.3 0.3-1.3 0-0.4 0.3-1 0-0.3 0.4-1.7 0-0.3 0.3-1.3 0-0.4 0.3-2 0-0.3 0.4-2.3 0-0.4 0.3-3 0-0.3 0.3-5.3 0-0.4 0.3-6.3 0-0.3-0.3-5.4 0-0.3-0.3-3 0-0.3-0.4-2.4 0-0.3-0.3-2 0-0.3-0.3-1.4 0-0.3-0.4-1.7 0-0.3-0.3-1 0-0.3-0.3-1.4 0-0.3-0.4-1 0-0.3-0.3-1 0-0.4-0.3-0.6 0-0.4-0.4-1 0-0.3-0.3-0.7 0-0.3-0.3-0.7 0-0.3-0.4-1 0-1-0.6-0.7 0-0.3-0.4-0.7 0-0.3-0.3-0.7 0-1-0.7-0.6 0-0.4-0.3-0.3 0-1-0.7-0.7 0-0.3-0.3-0.3 0-0.4-0.3-0.3 0-0.3-0.4-0.4 0-0.3-0.3-0.3 0-0.4-0.3-0.3 0-0.3-0.4-0.4 0-0.3-0.3-0.3 0-0.4-0.3-0.3 0-0.3-0.4-1-0.3-0.7-0.7-1-0.3-0.7-0.7-1-0.3-1.6-1.3-0.4 0-1-1-0.3 0-0.7-0.7-0.3 0-1.3-1.3-0.4 0-1.6-1.7-0.4 0-5.5-5.5 0-0.4-1.7-1.6 0-0.4-1-1 0-0.3-0.6-0.7 0-0.3-1-1-0.4-1-0.6-0.7 0-0.3-0.4-0.3 0-0.4-0.6-0.6 0-0.4-0.7-1 0-0.3-1-1.7 0-0.6-0.7-1 0-0.7-0.6-1 0-0.7-0.4-0.3 0-0.7-0.3-0.3 0-1-0.3-0.3 0-1-0.4-0.4 0-1.3-0.3-0.3 0-1.7-0.3-0.3 0-4.4-0.4-0.3 0-0.3 0.4-0.4 0-4.3 0.3-0.3 0-1.7 0.3-0.3 0-1.4 0.4-0.3 0-0.7 0.3-0.3 0-1 0.3-0.3 0-0.7 0.4-0.3 0-0.7 0.6-1 0-0.7 0.7-1 0.3-1 1-1.6 0-0.4 0.7-0.6 0.3-1 0.7-0.7 0-0.3 0.7-0.7 0-0.3 1-1 0-0.4 1.3-1.3 0-0.3 5.9-5.9 0.3 0 1.7-1.7 0.3 0 1-1 0.3 0 0.7-0.6 0.3 0 0.7-0.7 0.3 0 0.7-0.7 0.3 0 1.7-1.3 1-0.3 0.7-0.7 0.3 0 0.3-0.3 0.4 0 0.3-0.4 0.3 0 0.8-0.4-0.1-0.5-0.3 0-0.4-0.3-1-0.4-0.6-0.6-1-0.4-0.7-0.6-1-0.4-0.7-0.6-0.3 0-0.7-0.7-0.3 0-0.7-0.7-0.3 0-2.3-2-0.4 0-1.6-1.6-0.4 0-5.2-5.2 0-0.4-1.3-1.3 0-0.3-1-1 0-0.4-1-1 0-0.3-0.7-0.7-0.3-1-0.7-0.6-0.3-1-0.7-1-0.3-1-0.3-0.4 0-0.6-0.4-0.4-0.3-1-0.3-0.3 0-0.7-0.4-0.3 0-0.7-0.3-0.3 0-1-0.3-0.3 0-1-0.4-0.4 0-1-0.3-0.3 0-1.7-0.3-0.3 0-4.3-0.4-0.4 0-0.3 0.4-0.3 0-4.4 0.3-0.3 0-1.7 0.3-0.3 0-1.3 0.4-0.4 0-1 0.3-0.3 0-1 0.3-0.3 0-0.7 0.4-0.3 0-0.7 0.3-0.3 0-0.7 1-1.7 0-0.6 1-1.7 0-0.3 1-1.7 0-0.3 0.7-0.7 0.3-1 0.7-0.7 0-0.3 0.6-0.7 0-0.3 1-1 0-0.3 1-1 0-0.4 1.4-1.3 0-0.3 6.2-6.2 0.3 0 1.7-1.7 0.3 0 2.3-2 0.4 0 0.6-0.7 0.4 0 0.6-0.6 0.4 0 1.6-1.4 0.4 0 0.3-0.3 0.3 0 0.7-0.7 0.3 0 1-0.6 0.4 0 0.3-0.4 1-0.3 0.3-0.3 0.4 0 0.6-0.7 0.7 0 0.3-0.3 0.4 0 0.3-0.4 1-0.3 1-0.7 0.7 0 1.6-1 0.7 0 0.3-0.3 0.7 0 1-0.7 0.7 0 0.3-0.3 0.7 0 0.3-0.3 0.7 0 0.3-0.4 0.7 0 0.3-0.3 1 0 0.3-0.3 0.7 0 0.3-0.4 1 0 0.4-0.3 1 0 0.3-0.3 1 0 0.3-0.4 1 0 0.4-0.3 1.3 0 0.3-0.3 1.4 0 0.3-0.4 1.7 0 0.3-0.3 1.7 0 0.3-0.3 2 0 0.3-0.4 3 0 0.4-0.3zM1400.5 120.7l-0.3 0.3-3.4 0.1-0.3 0.3-2 0-0.3 0.3-1.7 0-0.3 0.4-1.4 0-0.3 0.3-1 0-0.3 0.3-1 0-0.4 0.4-1 0-0.3 0.3-0.7 0-0.3 0.3-0.7 0-0.3 0.4-0.7 0-1 0.6-0.6 0-0.4 0.4-0.3 0-0.3 0.3-0.4 0-1.6 1-0.4 0-0.3 0.3-0.3 0-0.4 0.4-0.3 0-0.8 0.7 0.5 0.2 0.6 0.6 0.4 0 1 0.7 0.3 0 0.7 0.7 0.3 0 0.3 0.3 0.7 0 1.7 1 0.6 0 0.4 0.3 0.6 0 0.4 0.4 0.6 0 0.4 0.3 0.6 0 0.4 0.3 0.6 0 0.4 0.4 1 0 0.3 0.3 1 0 0.3 0.3 1.4 0 0.3 0.4 1.7 0 0.3 0.3 2 0 0.3 0.3 3 0 0.4 0.4 6.6 0 2.4 0 0.3-0.4 3 0 0.3-0.3 2 0 0.4-0.3 1.6 0 0.4-0.4 1.3 0 0.3-0.3 1 0 0.4-0.3 1 0 0.3-0.4 0.7 0 0.3-0.3 0.7 0 0.3-0.3 0.7 0 0.3-0.4 0.7 0 0.3-0.3 0.7 0 1.6-1 0.7 0 0.3-0.3 0.4 0 0.6-0.7 0.4 0 1-0.7 0.3 0 0.7-0.6 0.4-0.2-0.8-0.8-0.3 0-0.3-0.3-0.4 0-0.3-0.3-0.3 0-1-0.7-0.4 0-0.3-0.3-0.3 0-0.4-0.4-0.3 0-0.3-0.3-0.7 0-1-0.7-0.7 0-0.3-0.3-0.7 0-0.3-0.3-0.7 0-0.3-0.4-1 0-0.3-0.3-1 0-0.4-0.3-1 0-0.3-0.4-1.3 0-0.4-0.3-1.6 0-0.4-0.3-2 0-0.3-0.3-3.3-0.1-0.4-0.3zM1399.5 209.1l-0.3 0.3-2.7 0-0.3 0.3-2 0-0.4 0.4-1.6 0-0.4 0.3-1 0-0.3 0.3-1.3 0-0.4 0.4-0.6 0-0.4 0.3-1 0-0.3 0.3-0.7 0-0.3 0.4-0.7 0-1 0.6-0.6 0-1 0.7-0.7 0-1.7 1-0.3 0-0.3 0.3-0.4 0-0.6 0.7-0.4 0-0.6 0.7-0.5 0.1 1.5 1.1 0.3 0 1.7 1 0.3 0 0.3 0.3 0.4 0 0.3 0.4 0.7 0 1 0.6 0.6 0 1 0.7 0.7 0 0.3 0.3 1 0 0.4 0.4 0.6 0 0.4 0.3 1 0 0.3 0.3 1.3 0 0.4 0.4 1.3 0 0.3 0.3 1.7 0 0.3 0.3 2 0 0.4 0.4 3.6 0 0.4 0.3 7 0 0.3-0.3 3.7 0 0.3-0.4 2 0 0.3-0.3 1.7 0 0.3-0.3 1.4 0 0.3-0.4 1.3 0 0.4-0.3 1 0 0.3-0.3 0.7 0 0.3-0.4 1 0 0.3-0.3 0.7 0 1-0.7 0.7 0 0.3-0.3 0.7 0 1.6-1 0.4 0 1.6-1 0.4 0 1.4-1.1-0.4-0.2-0.7-0.6-0.3 0-0.7-0.7-0.3 0-1.7-1-0.3 0-0.4-0.3-0.6 0-1.7-1-0.7 0-0.3-0.4-0.7 0-0.3-0.3-0.7 0-0.3-0.3-1 0-0.3-0.4-0.7 0-0.3-0.3-1 0-0.4-0.3-1.3 0-0.3-0.3-1.7-0.1-0.3-0.3-1.7 0-0.3-0.3-3 0-0.4-0.3z"/><path fill="#680068" d="M1407.2 85.8l5.6-0.2 5.4 0 5.3 0.3 5.3 0.6 5.4 0.9 5 1.1 4.5 1.3 4.5 1.7 4.6 2 3.8 2 3.7 2.3 3.5 2.7 2.7 2.3 2.7 2.8 1.3 1.6 0 0.3 1 1 0 0.3 0.7 0.7 0 0.3 0.6 0.7 0.4 1 0.6 0.7 0 0.3 0.4 0.3 0 0.4 0.3 0.3 0 0.3 0.3 0.4 0 0.3 0.4 0.3 0 0.4 1 1.6 0 0.7 0.6 1 0.1 0.7 0.3 0.3 0 0.7 0.3 0.3 0 0.7 0.4 0.3 0 1 0.3 0.3 0 1 0.3 0.4 0 1 0.4 0.3 0 2 0.3 0.3 0 3.7 0.3 0.3 0 1 0 0.7-0.3 0.3 0 3.7-0.3 0.3 0 1.7-0.4 0.3 0 1.4-0.3 0.3 0 0.7-0.3 0.3 0 1-0.3 0.3-0.1 0.7-0.3 0.3 0 0.7-0.6 1-0.1 0.7-0.9 1.6 0 0.4-0.4 0.3 0 0.3-0.3 0.4-0.4 1-0.6 0.6-0.4 1-0.6 0.7 0 0.3-1 1 0 0.4-0.7 0.6 0 0.4-1.6 1.6 0 0.4-5.1 5-0.3 0-1.7 1.7-0.3 0-2.4 2-0.3 0-0.7 0.7-0.3 0-1.7 1.3-1 0.3-0.6 0.7-1 0.3-0.7 0.7-1 0.3-0.3 0.4-0.4 0-0.3 0.5-1 0.4 0 0.3 4.2 2 3.5 2 5 3.4 5 4.3 4 4.7 0 0.3 0.6 0.7 0 0.3 0.7 0.7 0.4 1 0.6 0.6 0 0.4 0.3 0.3 0.1 0.3 0.3 0.4 0 0.3 0.3 0.3 0 0.4 1 1.6 0 0.7 0.7 1 0 0.7 0.3 0.3 0 0.7 0.4 0.3 0 0.7 0.3 0.3 0 1 0.3 0.3 0 1.4 0.4 0.3 0 1.7 0.3 0.3 0 3.7 0.3 0.3 0 1.7-0.3 0.3 0 3.7-0.3 0.3 0 1.7-0.4 0.3 0 1.3-0.3 0.4 0 1-0.3 0.3 0 1-0.4 0.3 0 0.7-0.3 0.3 0 0.7-0.6 1-0.1 0.7-0.6 1 0 0.6-1 1.7 0 0.3-0.3 0.4-0.1 0.3-0.3 0.3 0 0.4-0.6 0.6-0.4 1-0.6 0.7-0.4 1-0.6 0.7-0.1 0.3-0.9 1 0 0.3-1 1 0 0.4-1.7 1.6 0 0.4-2.7 2.6-2.7 2.8-0.3 0-1.7 1.6-0.3 0-1.4 1.4-0.3 0-0.7 0.6-0.3 0-1 1-0.3 0-1.7 1.4-1 0.3-0.7 0.7-1 0.3-0.6 0.6-1 0.4-0.4 0.3-0.3 0-0.3 0.4-0.4 0-0.3 0.3-0.3 0-0.4 0.3-0.3 0-0.3 0.4-0.4 0-0.3 0.3-0.3 0-0.4 0.3-0.3 0-0.3 0.4-0.4 0-0.3 0.3-0.7 0-1 0.7-0.3 0-0.3 0.3-0.7 0-1 0.6-0.7 0.1-0.3 0.3-0.7 0-0.3 0.3-0.7 0-1 0.7-1 0-0.3 0.3-0.7 0-0.3 0.3-0.7 0.1-0.3 0.3-1 0-0.3 0.3-0.7 0-0.3 0.3-1 0.1-0.4 0.3-1 0-0.3 0.3-1.3 0-0.4 0.3-1 0-0.3 0.4-1.7 0-0.3 0.3-1.3 0-0.4 0.3-2 0-0.3 0.4-2.3 0-0.4 0.3-3 0-0.3 0.3-5.3 0-0.4 0.4-6.3 0-0.3-0.4-5.4 0-0.3-0.3-3 0-0.3-0.3-2.4 0-0.3-0.4-2 0-0.3-0.3-1.4 0-0.3-0.3-1.7 0-0.3-0.4-1 0-0.3-0.3-1.4 0-0.3-0.3-1 0-0.3-0.4-1 0-0.4-0.3-0.6 0-0.4-0.3-1 0-0.3-0.4-0.7 0-0.3-0.3-0.7 0-0.3-0.3-1 0-1-0.7-0.7 0-0.3-0.3-0.7 0-0.3-0.4-0.7 0-1-0.6-0.6 0-0.4-0.4-0.3 0-1-0.6-0.7 0-0.3-0.4-0.3 0-0.4-0.3-0.3 0-0.3-0.3-0.4 0-0.3-0.4-0.3 0-0.4-0.3-0.3 0-0.3-0.3-0.4 0-0.3-0.4-0.3 0-0.4-0.3-0.3 0-0.3-0.3-1-0.4-0.7-0.6-0.3-0.1-0.4-0.3-0.3 0-0.7-0.6-1-0.4-1.6-1.3-0.4 0-1-1-0.3 0-0.7-0.7-0.3 0-1.3-1.3-0.4 0-1.6-1.7-0.3 0-0.4-0.3-3-3.1-2.7-3.3-2.3-3.7-1.7-3.4-1.3-3.9-0.8-4-0.4-4.3 0.2-4 0.7-4 1.2-4.3 1.6-4 2.2-4.1 2.6-3.9 2.9-3.7 3.5-3.7 3.7-3.3 3.9-3 4.5-3 4.7-2.7-0.8-0.3-0.4-0.4-0.6 0-1.7-1-0.7-0.1-3-1.6-0.3 0-0.3-0.3-0.4-0.1-0.3-0.5-1.7-0.7-0.6-0.6-1-0.3-0.7-0.7-0.3 0-0.4-0.3-0.3-0.1-0.7-0.6-0.3 0-0.7-0.7-0.3 0-0.7-0.6-0.3-0.1-1-0.9-0.3-0.1-1-1-0.4 0-1.6-1.6-0.4 0-4.3-4.4-3.3-4.5-1.4-2.4-1.3-2.9-1-3.1-0.6-2.7-0.3-3-0.1-2.7 0.6-4.7 1.2-4.3 1.9-4.5 2.6-4.5 3.3-4.3 3.7-4.1 4.4-3.9 5-3.7 5.3-3.4 6-3.3 6.3-2.9 6.7-2.4 6.7-2.1 7-1.6 7-1.2zM1400.5 120.5l-0.3 0.4-3.4 0-0.3 0.3-2 0-0.3 0.3-1.7 0-0.3 0.4-1.4 0-0.3 0.3-1 0-0.3 0.3-1 0.1-0.4 0.3-1 0-0.3 0.3-0.7 0-0.3 0.3-0.7 0.1-0.3 0.3-0.7 0-1 0.6-0.6 0.1-0.4 0.3-0.3 0-0.3 0.3-0.4 0-1.6 1-0.4 0-0.3 0.4-0.3 0-0.4 0.3-0.3 0-1 0.9-0.7-0.7-0.5 0.1 2.9 2.5 3 2 3.6 2 4.7 2 9.3 2.9 23.4 6.1 3 0.5 2.6 0.3 2.4-0.1 2.3-0.3 2-0.6 1.8-1 1.5-1.3 1-1.4 0.7-2.3-0.2-2.3-0.4-1.4-0.9-1.6-2.7-3.7-0.1-3.7-1.4 1.3-0.3 0-0.7 0.6-1-0.8-0.3 0-0.3-0.4-0.4 0-2.3-1.3-0.3 0-0.4-0.3-0.3 0-0.3-0.4-0.7 0-1-0.6-0.7 0-0.3-0.4-0.7 0-0.3-0.3-0.7 0-0.3-0.3-1 0-0.3-0.4-1 0-0.4-0.3-1 0-0.3-0.3-1.3 0-0.4-0.4-1.6 0-0.4-0.3-2 0-0.3-0.3-3.3 0-0.4-0.4zM1399.5 208.9l-0.3 0.3-2.7 0-0.3 0.3-2 0.1-0.4 0.3-1.6 0-0.4 0.3-1 0-0.3 0.3-1.3 0.1-0.4 0.3-0.6 0-0.4 0.3-1 0-0.3 0.3-0.7 0.1-0.3 0.3-0.7 0-1 0.6-0.6 0.1-1 0.6-0.7 0-1.7 1-0.3 0-0.3 0.4-0.4 0-0.6 0.6-0.4 0-0.6 0.7-0.7 0.2-0.3 0-1.4-1.3-0.3 0 2.3 2.4 3.4 2.5 4 2.2 4.6 2.1 4.7 1.7 4.7 1.4 23.3 6.1 3.3 0.6 2.7 0.3 2.3 0 2.4-0.4 2-0.6 1.8-0.9 1.5-1.3 1-1.4 0.8-2.3 0-1.4-0.2-1.3-1.1-2.7-2.7-3.6-0.1-3.8-0.4 0.4-0.3 0-1.3 1.3-0.4 0-0.6-0.3-1.7-1.3-0.3 0-1.7-1-0.3 0-0.4-0.3-0.6 0-1.7-1-0.7 0-0.3-0.3-0.7 0-0.3-0.4-0.7 0-0.3-0.3-1 0-0.3-0.3-0.7 0-0.3-0.4-1 0-0.4-0.3-1.3 0-0.3-0.3-1.7 0-0.3-0.4-1.7 0-0.3-0.3-3 0-0.4-0.3z"/><path fill="#7a007a" d="M1407.7 87.8l5.5-0.2 5.6 0 5.4 0.2 5.3 0.6 5 0.8 5 1.1 5 1.5 4.3 1.5 4.4 1.9 4 2.1 3.6 2.2 3.7 2.7 3.3 3 2.7 2.8 2.7 3.5 1.6 2.7 0 0.3 0.4 0.3 0 0.4 1 1.7 0 0.6 0.6 1 0 0.7 0.4 0.3 0 0.7 0.3 0.3 0 0.7 0.3 0.3 0.1 1 0.3 0.3 0 1 0.3 0.4 0 1 0.3 0.3 0.1 2 0.3 0.3 0 3.7 0.3 0.3 0 1.7-0.3 0.3 0 3.7-0.3 0.3 0 1.7-0.4 0.3 0 1.4-0.3 0.3 0 0.7-0.3 0.3 0 1-0.4 0.3 0 0.7-0.3 0.3 0 0.7-0.7 1 0 0.7-1 1.6 0 0.4-0.3 0.3 0 0.3-0.3 0.4 0 0.3-0.4 0.3 0 0.4-0.6 0.6 0 0.4-0.4 0.3 0 0.3-0.6 0.7 0 0.3-1 1 0 0.4-0.7 0.6 0 0.4-1.7 1.6 0 0.4-5 5-0.3 0-1.7 1.7-0.3 0-2.4 2-0.3 0-0.7 0.6-0.3 0-1.7 1.4-1 0.3-0.6 0.7-1 0.3-0.7 0.7-1 0.3-0.3 0.3-0.4 0-0.3 0.6-0.3 0-1 0.7-0.4 0-0.3 0.4-0.3 0 7 3.3 6 3.7 5.3 4.3 4.3 4.6 3 4.4 0.4 1 0.3 0.3 0 0.4 0.3 0.3 0 0.3 0.4 0.4 0 0.3 0.3 0.3 0 0.7 0.7 1 0 0.7 0.3 0.3 0 0.7 0.3 0.3 0.1 0.7 0.3 0.3 0 1 0.3 0.3 0 1.4 0.3 0.3 0.1 1.7 0.3 0.3 0 3.7 0.3 0.3 0 1.7-0.3 0.3 0 3.7-0.3 0.3 0 1.7-0.4 0.3 0 1.3-0.3 0.4 0 1-0.3 0.3 0 1-0.4 0.3 0 0.7-0.3 0.3 0 0.7-0.7 1 0 0.7-0.6 1 0 0.6-1 1.7 0 0.3-0.4 0.4 0 0.3-0.3 0.3 0 0.4-0.7 0.6-0.3 1-0.7 0.7-0.3 1-0.7 0.7 0 0.3-1 1 0 0.3-1 1 0 0.4-1.6 1.6 0 0.4-2.7 2.6-2.7 2.7-0.3 0-1.7 1.7-0.3 0-1.4 1.3-0.3 0-0.7 0.7-0.3 0-1 1-0.3 0-1.7 1.3-1 0.4-0.7 0.6-1 0.4-0.6 0.6-1 0.4-0.4 0.3-0.3 0-0.3 0.3-0.4 0-0.3 0.4-0.3 0-0.4 0.3-0.3 0-0.3 0.3-0.4 0-0.3 0.4-0.3 0-0.4 0.3-0.3 0-0.3 0.3-0.4 0-0.3 0.4-0.7 0-1 0.6-0.3 0-0.3 0.4-0.7 0-1 0.6-0.7 0-0.3 0.4-0.7 0-0.3 0.3-0.7 0-1 0.7-1 0-0.3 0.3-0.7 0-0.3 0.3-0.7 0-0.3 0.4-1 0-0.3 0.3-0.7 0-0.3 0.3-1 0-0.4 0.4-1 0-0.3 0.3-1.3 0-0.4 0.3-1 0-0.3 0.4-1.7 0-0.3 0.3-1.3 0-0.4 0.3-2 0-0.3 0.4-2.3 0-0.4 0.3-3 0-0.3 0.3-5.3 0-0.4 0.4-6.3 0-0.3-0.4-5.4 0-0.3-0.3-3 0-0.3-0.3-2.4 0-0.3-0.4-2 0-0.3-0.3-1.4 0-0.3-0.3-1.7 0-0.3-0.4-1 0-0.3-0.3-1.4 0-0.3-0.3-1 0-0.3-0.4-1 0-0.4-0.3-0.6 0-0.4-0.3-1-0.1-0.3-0.3-0.7 0-0.3-0.3-0.7 0-0.3-0.3-1-0.1-1-0.6-0.7 0-0.3-0.3-0.7-0.1-0.3-0.3-0.7 0-1-0.6-0.6-0.1-0.4-0.3-0.3 0-1-0.7-0.7 0-0.3-0.3-0.3 0-0.4-0.3-0.3 0-0.3-0.4-0.4 0-0.3-0.3-0.3 0-0.4-0.3-0.3 0-0.3-0.4-0.4 0-0.3-0.3-0.3 0-0.4-0.3-0.3 0-0.3-0.4-1-0.3-0.7-0.7-1-0.3-0.7-0.7-0.9-0.3-2.4-1.7-2.5-2-2.9-2.6-2.7-3-2.2-3-1.7-3-1.7-3.6-1.1-3.8-0.8-4-0.2-4 0.3-4 0.8-4.3 1.3-4.3 1.7-4 2-3.7 2.7-4 3-3.7 3.4-3.6 3.7-3.4 3.9-3 4.5-3 5.2-3-0.4 0-0.3-0.3-0.7-0.1-0.3-0.3-0.7-0.1-0.3-0.3-0.7 0-1-0.7-0.6-0.1-1.7-0.9-1.3-0.4-3.4-1.7-0.3-0.4-1.7-0.7-0.6-0.6-1-0.4-0.7-0.6-1-0.4-0.7-0.6-0.3 0-0.7-0.7-0.3 0-0.7-0.7-0.2 0-3.4-2.6-3.7-3.6-2-2.4-2-2.8-1.3-2.3-1.4-2.9-1-2.8-0.6-2.9-0.4-3-0.1-3 0.5-4.3 1.3-4.7 1.9-4.3 2.4-4.2 3.2-4.2 3.8-4.1 4.4-3.9 5-3.7 5.3-3.4 6-3.2 6.1-2.7 6.6-2.4 6.6-2 7-1.7 7-1.1zM1400.5 120.5l-0.3 0.4-3.4 0-0.3 0.3-2 0-0.3 0.3-1.7 0-0.3 0.4-1.4 0-0.3 0.3-1 0-0.3 0.3-1 0-0.4 0.4-1 0-0.3 0.3-0.7 0-0.3 0.3-0.7 0-0.3 0.4-0.7 0-1 0.6-0.6 0-0.4 0.4-0.3 0-0.3 0.3-0.4 0-1.6 1-0.4 0-0.3 0.3-0.3 0-0.4 0.4-0.3 0-1 0.8-0.7-0.6-0.3 0-1.3-1.3 0 0.4 2 2.7 2.6 2.3 3.7 2.5 4.3 2.3 4.7 2 5.3 2 16.7 5.7 5.7 1.7 3.3 0.7 3.3 0.4 3 0.1 3-0.4 2.7-0.7 2.3-1.2 1.9-1.5 1.3-1.6 0.7-1.4 0.3-1.6 0.1-1.4-0.3-1.6-0.8-2-1-1.7-1.3-1.7-2.3-2.3-0.2-3.8-1.4 1.3-0.3 0-0.7 0.6-1-0.8-0.3 0-0.3-0.3-0.4 0-2.3-1.3-0.3 0-0.4-0.3-0.3-0.1-0.3-0.3-0.7 0-1-0.6-0.7-0.1-0.3-0.3-0.7 0-0.3-0.3-0.7 0-0.3-0.3-1 0-0.3-0.4-1 0-0.4-0.3-1 0-0.3-0.3-1.3 0-0.4-0.4-1.6 0-0.4-0.3-2 0-0.3-0.3-3.3 0-0.4-0.4zM1399.5 208.9l-0.3 0.3-2.7 0-0.3 0.3-2 0-0.4 0.4-1.6 0-0.4 0.3-1 0-0.3 0.3-1.3 0-0.4 0.4-0.6 0-0.4 0.3-1 0-0.3 0.3-0.7 0-0.3 0.4-0.7 0-1 0.6-0.6 0-1 0.7-0.7 0-1.7 1-0.3 0-0.3 0.3-0.4 0-1.6 1.4-0.7 0.2-0.3 0-1.4-1.4-0.6 0.1 2 2.7 3 2.6 3.3 2.2 4.7 2.5 4.6 2 6 2.2 16 5.4 5.7 1.7 3.7 0.7 3 0.3 3 0 2.6-0.4 2.4-0.7 2.3-1.2 2-1.6 1.2-1.7 0.6-1.3 0.3-1.7 0.1-1.3-0.3-1.7-0.7-2-1-1.7-1.3-1.6-1.9-2-0.3-3.8-0.4 0.3-0.3 0-1.3 1.3-0.4 0-0.6-0.2-0.7-0.6-0.3 0-0.7-0.7-0.3 0-1.7-1-0.3 0-0.4-0.3-0.6 0-1.7-1-0.7 0-0.3-0.3-0.7 0-0.3-0.4-0.7 0-0.3-0.3-1 0-0.3-0.3-0.7 0-0.3-0.4-1 0-0.4-0.3-1.3 0-0.3-0.3-1.7 0-0.3-0.4-1.7 0-0.3-0.3-3 0-0.4-0.3z"/><path fill="#8c008c" d="M1409.2 89.8l5.6-0.2 5.4 0.1 5.3 0.3 5 0.5 5 0.9 5 1.1 4.7 1.3 4.6 1.7 4.4 1.9 3.9 2.1 3.7 2.3 3.2 2.4 3.2 2.7 2.6 2.8 2.4 3 2 3.1 1.6 3.3 1 2.6 0 0.8 0.4 0.3 0 1 0.3 0.4 0 1 0.3 0.3 0 2 0.4 0.3 0 3.7 0.3 0.3 0 1.7-0.3 0.3 0 3.7-0.3 0.3 0 1.7-0.4 0.3 0 1.4-0.3 0.3 0 0.7-0.3 0.3 0 1-0.4 0.3 0 0.7-0.3 0.3 0 0.7-0.7 1 0 0.7-1 1.6 0 0.4-0.3 0.3 0 0.3-0.3 0.4 0 0.3-0.4 0.3 0 0.4-0.6 0.6 0 0.4-0.4 0.3 0 0.3-0.6 0.7 0 0.3-1 1 0 0.4-0.7 0.6 0 0.4-1.7 1.6 0 0.4-5 5-0.3 0-1.7 1.7-0.3 0-2.4 2-0.3 0-0.7 0.6-0.3 0-1.7 1.4-1 0.3-0.6 0.7-1 0.3-0.7 0.7-1 0.3-0.3 0.3-0.4 0-0.3 0.5-0.3 0-1.7 1.1-0.3 0-0.4 0.3-0.3 0.1-0.3 0.3-0.4 0 7.5 3.4 6.3 3.6 5.6 4.4 4.3 4.4 2 2.6 1.7 2.6 1.6 3.3 0.7 1.6 0 0.5 0.3 0.5 0 0.5 0.4 0.5 0 0.8 0.3 0.4 0 1.3 0.3 0.3 0 1.7 0.4 0.3 0 3.7 0.3 0.3 0 1.7-0.3 0.3 0 3.7-0.3 0.3 0 1.7-0.4 0.3 0 1.3-0.3 0.4 0 1-0.3 0.3 0 1-0.4 0.3 0 0.7-0.3 0.3 0 0.7-0.7 1 0 0.7-0.6 1 0 0.6-1 1.7 0 0.3-0.4 0.4 0 0.3-0.3 0.3 0 0.4-0.7 0.6-0.3 1-0.7 0.7-0.3 1-0.7 0.7 0 0.3-1 1 0 0.3-1 1 0 0.4-1.6 1.6 0 0.4-5.4 5.3-0.3 0-1.7 1.7-0.3 0-1.4 1.3-0.3 0-0.7 0.7-0.3 0-1 1-0.3 0-1.7 1.3-1 0.4-0.7 0.6-1 0.4-0.6 0.6-1 0.4-0.4 0.3-0.3 0-0.3 0.3-0.4 0-0.3 0.4-0.3 0-0.4 0.3-0.3 0-0.3 0.3-0.4 0-0.3 0.4-0.3 0-1.7 1-0.7 0-1.6 1-0.7 0-1 0.6-0.7 0-0.3 0.4-0.7 0-0.3 0.3-0.7 0-1 0.7-1 0-0.3 0.3-0.7 0-0.3 0.3-0.7 0-0.3 0.4-1 0-0.3 0.3-0.7 0-0.3 0.3-1 0-0.4 0.4-1 0-0.3 0.3-1.3 0-0.4 0.3-1 0-0.3 0.4-1.7 0-0.3 0.3-1.3 0-0.4 0.3-2 0-0.3 0.4-2.3 0-0.4 0.3-3 0-0.3 0.3-5.3 0-0.4 0.4-6.3-0.1-0.3-0.3-5.4 0-0.3-0.3-3 0-0.3-0.3-2.4-0.1-0.3-0.3-2 0-0.3-0.3-1.4 0-0.3-0.3-1.7-0.1-0.3-0.3-1 0-0.3-0.3-1.4 0-0.3-0.4-1 0-0.3-0.3-1 0-0.4-0.3-0.6 0-0.4-0.4-1 0-0.3-0.3-0.7 0-0.3-0.3-0.7 0-0.3-0.4-1 0-1-0.6-0.7 0-0.3-0.4-0.7 0-0.3-0.3-0.6 0-1.1-0.7-0.5 0-1.1-0.6-0.4 0-0.3-0.4-0.5 0-2.7-1.3-3.5-2-3-2-2.6-2-2.7-2.3-2.2-2.4-2.2-2.6-1.8-2.7-1.5-2.7-1.5-3.6-1-3.7-0.5-3.7-0.1-4 0.4-4 0.9-4 1.5-4.3 1.8-4 2.3-4 2.8-4 3.1-3.7 3.5-3.6 3.8-3.4 4-3 4.6-3 4.8-2.6-9.7-3.7-1-0.6-0.5-0.1-2.1-1-3.8-2-6-4-3.2-2.6-2.4-2.4-2.4-2.6-1.9-2.7-1.7-2.9-1.3-2.9-1-3-0.7-3.2-0.3-3 0.1-3 0.6-4 1.3-4.3 2-4.4 2.7-4.3 3.3-4.1 3.7-3.9 4.3-3.7 5.1-3.6 5.5-3.4 5.9-3 6.1-2.6 6.4-2.2 6.6-1.9 6.7-1.5 6.9-1.1zM1400.5 120.5l-0.3 0.4-3.4 0-0.3 0.3-2 0-0.3 0.3-1.7 0-0.3 0.4-1.4 0-0.3 0.3-1 0-0.3 0.3-1 0-0.4 0.4-1 0-0.3 0.3-0.7 0-0.3 0.3-0.7 0-0.3 0.4-0.7 0-1 0.6-0.6 0-0.4 0.4-0.3 0-0.3 0.3-0.4 0-1.6 1-0.4 0-0.3 0.3-0.3 0-0.4 0.4-0.3 0-1 0.8-0.7-0.7-0.3 0-1.3-1.3 0 1.4 1.3 2.4 2.7 2.8 3.3 2.5 4.3 2.6 6.7 3.3 9.3 3.9 9.4 3.7 6 2 4 0.9 4 0.4 3.6 0 3.4-0.4 3-0.9 2.6-1.3 2.3-1.8 1.6-2 0.8-1.8 0.4-1.9 0-1.7-0.4-2-0.9-2-1.5-2.3-2.2-2.3-2.4-2-0.2-3.4 0.4-0.3-0.2-0.2-1.7 1.6-0.3 0-0.7 0.6-3-1.7-1.6-0.6-0.4-0.4-0.3 0-0.3-0.3-0.6 0-1.1-0.7-0.7 0-0.3-0.3-0.7 0-0.3-0.3-0.7 0-0.3-0.4-1 0-0.3-0.3-1 0-0.4-0.3-1 0-0.3-0.3-1.3-0.1-0.4-0.3-1.6 0-0.4-0.3-2 0-0.3-0.3-3.3-0.1-0.4-0.3zM1399.5 208.9l-0.3 0.3-2.7 0-0.3 0.3-2 0-0.4 0.4-1.6 0-0.4 0.3-1 0-0.3 0.3-1.3 0-0.4 0.4-0.6 0-0.4 0.3-1 0-0.3 0.3-0.7 0-0.3 0.4-0.7 0-1 0.6-0.6 0-1 0.7-0.7 0-1.7 1-0.3 0-0.3 0.3-0.4 0-1.6 1.4-0.7 0.1-0.3 0-1.4-1.3-0.3 0-0.2-0.2 0-0.3-0.5-0.5 0 0.5 0.3 0.3 0.1 1.2 0.5 1.1 2.1 2.8 3.4 2.9 4.3 2.8 5.3 2.7 7.4 3.3 12.3 5 6.7 2.3 4 1 4 0.5 3.6 0 3.4-0.4 3.3-1 2.7-1.4 2.2-1.8 1.5-2 0.8-1.7 0.4-2 0.1-1.6-0.4-2-0.8-2-1.5-2.4-1.7-2-2.3-2-0.2-3.3-0.1-0.2-0.4 0.4-0.3 0-1.3 1.2-0.6-0.1-2.1-1.3-0.3 0-1.7-1-0.3 0-0.4-0.3-0.5 0-0.5-0.4-0.3 0-1-0.6-0.7 0-0.3-0.4-0.7 0-0.3-0.3-0.7 0-0.3-0.3-1 0-0.3-0.3-0.7-0.1-0.3-0.3-1 0-0.4-0.3-1.3 0-0.3-0.3-1.7-0.1-0.3-0.3-1.7 0-0.3-0.3-3 0-0.4-0.3z"/><path fill="#9e009e" d="M1413 91.8l5.2 0 5.3 0.2 5 0.4 5 0.7 4.7 0.9 4.7 1.2 4.6 1.4 4.3 1.7 4 1.9 4 2.2 3.7 2.4 3 2.4 2.7 2.5 2.6 2.9 2.4 3.2 1.6 2.8 1.7 3.7 1 3.1 0.7 3.2 0 2.9 0.2 0.3 0.1 1.7-0.3 0.3 0 3.7-0.4 0.3 0 1.7-0.3 0.3 0 1.4-0.3 0.3 0 0.7-0.3 0.3-0.1 1-0.3 0.3 0 0.7-0.3 0.3 0 0.7-0.7 1 0 0.7-1 1.6 0 0.4-0.3 0.3 0 0.3-0.3 0.4 0 0.3-0.4 0.3 0 0.4-0.6 0.6 0 0.4-0.4 0.3 0 0.3-0.6 0.7 0 0.3-1 1 0 0.4-0.7 0.6 0 0.4-1.7 1.6 0 0.4-5 5-0.3 0-1.7 1.7-0.3 0-2.4 2-0.3 0-0.7 0.6-0.3 0-1.7 1.4-1 0.3-0.6 0.7-1 0.3-0.7 0.7-1 0.3-0.3 0.3-0.4 0-0.3 0.4-1 0.4-0.3 0.3-0.4 0.1-0.3 0.3-1.7 0.7-0.3 0.4-0.7 0-0.9 0.7 7.6 3 4 2 3.3 2 3.4 2.3 3 2.5 2.6 2.5 2.4 2.7 2 2.7 1.6 2.8 1.4 2.8 1 2.8 1 4.4 0 2.9 0.3 0.6 0 1.4-0.3 0.3 0 3.7-0.4 0.3 0 1.7-0.3 0.3 0 1.3-0.3 0.4 0 1-0.3 0.3-0.1 1-0.3 0.3 0 0.7-0.3 0.3 0 0.7-0.7 1 0 0.7-0.6 1-0.1 0.6-0.9 1.7 0 0.3-0.4 0.4 0 0.3-0.3 0.3 0 0.4-0.7 0.6-0.3 1-0.7 0.7 0 0.3-0.3 0.4 0 0.3-0.7 0.7 0 0.3-1 1 0 0.3-1 1 0 0.4-1.6 1.6 0 0.4-5.4 5.3-0.3 0-1.7 1.7-0.3 0-1.4 1.3-0.3 0-0.7 0.7-0.3 0-1 1-0.3 0-1.7 1.3-1 0.4-0.7 0.6-1 0.4-0.6 0.6-1 0.4-0.4 0.3-0.3 0-0.3 0.3-0.4 0-0.3 0.4-0.3 0-0.4 0.3-0.3 0-0.3 0.3-0.4 0-0.3 0.4-0.3 0-0.4 0.3-0.3 0-0.3 0.3-0.4 0-0.3 0.4-0.7 0-1 0.6-0.3 0-0.3 0.3-0.7 0.1-1 0.6-0.7 0-0.3 0.4-0.7 0-0.3 0.3-0.7 0-1 0.6-1 0.1-0.3 0.3-0.7 0-0.3 0.3-0.7 0-0.3 0.3-1 0.1-0.3 0.3-0.7 0-0.3 0.3-1 0-0.4 0.3-1 0.1-0.3 0.3-1.3 0-0.4 0.3-1 0-0.3 0.3-1.7 0.1-0.3 0.3-1.3 0-0.4 0.3-2 0-0.3 0.3-2.3 0-0.4 0.4-3 0-0.3 0.3-5.3 0-0.4 0.3-6.3 0-0.3-0.3-5.4 0-0.3-0.3-3 0-0.3-0.4-2.4 0-0.3-0.3-1.7 0-0.6-0.3-1.3 0-0.4-0.4-1.2 0-0.8-0.3-0.8 0-0.5-0.3-0.8 0-6.9-2-6.7-2.7-6.3-3.3-5.2-3.7-2.4-2-2.3-2.3-2-2.4-1.7-2.3-1.3-2.3-1.3-2.7-1.1-3.3-0.8-3.7-0.2-3.7 0.2-4 0.8-4 1.2-4 1.7-4 2.1-3.9 2.6-4.1 3-3.9 3.4-3.6 3.6-3.5 4-3.3 4-2.9 4.6-2.8 4.4-2.3-5.6-1.7-4.9-1.6-4-1.7-4.2-2-4-2.3-3.5-2.4-3-2.3-2.9-2.7-2.7-3-2.1-3-1.7-2.9-1.4-3.1-0.9-3.3-0.5-3-0.2-3.3 0.3-3.4 0.9-4.3 1.5-4 2.3-4.2 2.8-4.1 3.5-4 4-3.8 4.6-3.6 5-3.3 5.4-3 6-2.9 6.3-2.4 6.2-2 6.5-1.7 6.9-1.3 6.8-0.9zM1400.5 120.5l-0.3 0.3-3.4 0-0.3 0.4-2 0-0.3 0.3-1.7 0-0.3 0.3-1.4 0.1-0.3 0.3-1 0-0.3 0.3-1 0-0.4 0.3-1 0.1-0.3 0.3-0.7 0-0.3 0.3-0.7 0-0.3 0.4-0.7 0-1 0.6-0.6 0-0.4 0.4-0.3 0-0.3 0.3-0.4 0-1.6 1-0.4 0-0.3 0.3-0.3 0-0.4 0.4-0.3 0-0.7 0.6-0.3 0.1-0.7-0.6-0.3 0-1.3-1.3-0.2 0.1 0.2 3.7 1.3 2.3 2.7 2.8 4 3 5 3.1 7.6 4 9.7 4.6 6.3 2.5 5.7 1.8 4.3 0.8 4.4 0.4 4-0.1 3.6-0.6 3.7-1.2 3-1.5 2.4-1.9 1.8-2.3 1-2 0.4-2.4 0-2.3-0.6-2.3-1.4-2.7-1.8-2.3-2.4-2.4-3.4-2.4-0.1-2.6 0.3-0.3-0.2-0.2-1.7 1.6-0.6 0.2-3-1.5-3.4-1.3-4.3-1.5-1.9-0.3-0.8-0.3-0.7 0-0.6-0.4-1.1 0-0.6-0.3-1.4 0-0.6-0.3-2 0-0.3-0.4-3.3 0-0.4-0.3zM1399.5 208.9l-0.3 0.3-2.7 0-0.3 0.3-2 0-0.4 0.3-1.6 0.1-0.4 0.3-1 0-0.3 0.3-1.3 0-0.4 0.3-0.6 0.1-0.4 0.3-1 0-0.3 0.3-0.7 0-0.3 0.4-0.7 0-1 0.6-0.6 0-1 0.7-0.7 0-1.7 1-0.3 0-0.3 0.3-0.4 0-1.6 1.4-1 0.1-1.4-1.4-0.5-0.1 0.1-0.3-0.6-0.5-0.1 0.1 0.3 0.7 0.2 3.5 0.2 0.5 1.4 2.3 2.7 2.7 3.7 2.8 5 3 7.6 4 9.4 4.4 6.3 2.6 5.3 1.7 4.4 0.8 4 0.3 3.6-0.1 3.7-0.6 3.3-1.1 3-1.5 2.5-2 1.9-2.3 1-2 0.6-2.3 0-2-0.4-2.4-1.1-2.6-1.6-2.4-2.3-2.3-2.9-2.3-0.1-2.7 0.3-0.3-0.2-0.6-0.2 0.6-0.5 0.4-0.3 0-1.3 1.1-3.4-1.7-4.3-1.8-2.4-0.7-0.6-0.3-2-0.4-0.3-0.3-1 0-0.4-0.3-1.3 0-0.3-0.4-1.6 0-0.4-0.3-1.7 0-0.3-0.3-3 0-0.4-0.4z"/><path fill="#af00af" d="M1413.4 94.2l5.1-0.1 5.3 0.2 5 0.4 5 0.7 4.7 0.9 4.7 1.1 4.4 1.4 4.2 1.7 4 1.8 3.7 2 3.4 2.2 3.3 2.5 2.7 2.5 2.6 2.8 2.3 3.1 1.7 2.8 1.7 3.6 1.3 4.3 0.6 4.4 0.1 3.6-0.4 1.7 0 1.4-0.3 0.6 0 1.2-0.3 0.5 0 0.7-0.4 0.3 0 1-0.3 0.3 0 0.7-0.3 0.3 0 0.7-0.7 1 0 0.7-1 1.6 0 0.4-0.3 0.3 0 0.3-0.4 0.4 0 0.3-0.3 0.3 0 0.4-0.7 0.6 0 0.4-0.3 0.3 0 0.3-0.7 0.7 0 0.3-1 1 0 0.4-0.6 0.6 0 0.4-1.7 1.6 0 0.4-5 5-0.3 0-1.7 1.6-0.3 0-1 1-0.4 0-1 1-0.3 0-0.7 0.7-0.3 0-0.7 0.7-0.3 0-0.7 0.6-0.3 0-0.3 0.4-0.4 0-0.6 0.6-1 0.4-0.7 0.6-1 0.4-0.3 0.3-0.4 0-0.3 0.4-0.3 0-0.4 0.3-0.3 0-0.3 0.4-0.4 0-2.3 1.3-0.7 0.1-1.6 1-0.7 0-1 0.7-0.7 0.1-0.1 0.4 4.5 1.3 3.6 1.3 3.9 1.7 3.8 2 3.7 2.3 3.2 2.4 2.8 2.4 2.6 2.7 2.4 3 2 3.1 1.6 3.4 1 2.8 0.7 2.6 0.6 4 0 3-0.3 3.6-0.3 0.7 0 1.2-0.3 0.5 0 1-0.4 0.3 0 1-0.3 0.3 0 0.7-0.3 0.3 0 0.7-0.7 1 0 0.7-0.7 1 0 0.6-1 1.7 0 0.3-0.3 0.4 0 0.3-0.3 0.3 0 0.4-0.7 0.6-0.3 1-0.7 0.7-0.3 1-0.7 0.7 0 0.3-1 1 0 0.3-1 1 0 0.4-1.7 1.6 0 0.4-5.3 5.3-0.3 0-1.7 1.7-0.3 0-1.4 1.3-0.3 0-0.7 0.7-0.3 0-1 1-0.3 0-1.7 1.3-1 0.3-0.7 0.7-1 0.3-0.6 0.7-1 0.3-0.4 0.4-0.3 0-0.3 0.3-0.4 0-0.3 0.3-0.3 0-0.4 0.4-0.3 0-0.3 0.3-0.4 0-0.3 0.3-0.3 0-0.4 0.4-0.3 0-0.3 0.3-0.4 0-0.3 0.3-0.7 0-1 0.7-0.3 0-0.3 0.3-0.7 0-1 0.7-0.7 0-0.3 0.3-0.7 0-0.3 0.4-0.7 0-1 0.6-1 0-0.3 0.4-0.7 0-0.3 0.3-0.7 0-0.3 0.3-1 0-0.3 0.4-0.7 0-0.3 0.3-1 0-0.4 0.3-1 0-0.3 0.4-1.3 0-0.4 0.3-1 0-0.3 0.3-1.7 0-0.3 0.4-1.3 0-0.5 0.3-1.9 0-0.3 0.3-2.3 0-0.6 0.4-2.8 0-0.3 0.2-0.9 0.1-8.4 0.1-8.1-0.4-8.8-1.4-6.8-1.6-7.7-2.7-6.4-3-5.8-3.7-4.7-4-3.8-4.3-1.5-2.3-1.3-2.7-1.4-4-0.7-4-0.1-4 0.7-4.3 1.2-4.4 2.1-4.6 2.4-4.4 3.3-4.6 4.2-5 4.8-4.8 5.2-4.2 5.7-4 4.6-2.7 4.6-2.3 1.6-0.2 0.3 0.4 2-0.2 0.4 0.5 2.6-0.2-6.6-1-4.8-1-6.2-1.7-4.8-1.6-4.9-2-4.6-2.4-3.9-2.3-3.7-2.7-3.5-3-2.8-3-2.5-3.3-1.9-3.3-1.4-3.4-1-3.6-0.3-3.7 0.1-3.3 0.7-4.4 1.4-4 2.1-4.1 2.6-4 3.4-4 3.9-3.9 4.6-3.6 4.9-3.4 5.2-3 6-2.9 6.1-2.4 6.1-2 6.5-1.7 6.7-1.3 6.6-0.9zM1399.5 120.8l-2.7 0-0.5 0.4-1.8 0-0.4 0.3-1.6 0-0.3 0.3-1.4 0-0.3 0.4-1 0-0.3 0.3-1 0-0.4 0.3-1 0-0.3 0.4-0.7 0-0.3 0.3-0.7 0-0.3 0.3-0.7 0-1 0.7-0.6 0-0.4 0.3-0.3 0-0.3 0.4-0.4 0-1.6 1-0.4 0-0.3 0.3-0.3 0-0.4 0.3-0.3 0-0.7 0.7-0.3 0.1-0.7-0.7-0.3 0-1.7-1.6-0.2 0.2 0.4 0.3 0 3.7-0.3 0.3-0.2 1.7 0.3 1.3 0.9 1.4 1.1 1.3 3.4 3.1 4.6 3.3 6 3.7 7.7 4.2 7 3.3 6 2.3 5.7 1.7 4.6 0.8 4.7 0.3 4.3-0.2 4.4-0.8 4-1.4 3.3-1.8 2.7-2.2 2.1-2.6 1.2-2.7 0.5-2.7-0.2-3-0.9-2.6-1.8-3-2.6-3-3-2.5-4-2.5 0-1.4 0.3-0.3-0.3-0.3-1.4 1.3-4.3-1.9-5-1.6-5.6-1.3-4.7-0.7-5.7-0.5-8.3 0zM1393.2 181.5l-0.2 0.3 0.2 0.2 2.8-0.2zM1397.5 181.9l-0.1 0.3 0.1 0.1 3.6-0.1zM1399.2 209.1l-2.7 0.1-0.5 0.3-1.8 0-0.4 0.3-1.6 0-0.4 0.4-1 0-0.3 0.3-1.3 0-0.4 0.3-0.6 0-0.4 0.4-1 0-0.3 0.3-0.7 0-0.3 0.3-0.7 0-1 0.7-0.6 0-1 0.7-0.7 0-1.7 1-0.3 0-0.3 0.3-0.4 0-1.6 1.3-1 0.1-1.4-1.3-0.4-0.1 0-0.3-0.6-0.6-0.2 0.2 0 0.4 0.4 0.3 0 3.7-0.3 0.3-0.2 1.3 0.4 1.7 1.9 2.7 3.4 3 4.3 3.1 6 3.7 7.7 4.2 6.6 3.2 5.7 2.2 5.3 1.6 4.7 0.7 4.3 0.3 4.4-0.3 4-0.8 3.6-1.3 3.4-1.8 2.7-2.2 2.1-2.6 1.2-2.4 0.6-2.6 0-2.7-0.7-2.7-1.5-3-2-2.6-2.8-2.6-3.3-2.3-0.1-1.8 0.4-0.3-0.1-0.4-0.2-0.2-0.7 1-0.3 0-0.7 0.6-0.2 0-3.8-1.8-3.6-1.4-3.7-1.1-4.3-1-8.4-1.1-10.3 0z"/><path fill="#c200c2" d="M1413.9 96.5l8.6 0.1 8.3 0.8 8.4 1.5 7.6 2.1 7 2.8 6.4 3.3 5.3 3.8 2.3 2.1 2.4 2.4 2 2.4 1.6 2.4 1.4 2.3 1.3 3 1 3 0.6 2.7 0.3 2.6 0.1 2.7-0.2 3-0.5 2.6-0.6 2.5-1 2.8-1.4 2.9-1.6 2.9-1.4 1.6 0 0.4-0.6 0.6-0.4 0.7-1.3 1.3-0.3 0.7-4.4 4.3-0.4 0.4-0.2 0-1.8 1.6-0.2 0-1 1-0.4 0-2 1.7-0.3 0-0.7 0.7-0.3 0-0.8 0.6-0.9 0.4-0.7 0.6-0.9 0.4-1.5 1-5.6 2.6-7 2.7-8.6 2.3-7.1 1.4-9.2 1-8.7 0.2-9-0.5-8.5-1.1-7.7-1.6-7.6-2.4-7.2-3-6.6-3.6-5.4-4-2.3-2.3-2-2.1-2-2.6-1.4-2.4-1.3-2.6-0.9-2.7-0.6-2.7-0.3-2.6 0-2.7 0.3-2.7 0.6-2.6 1.1-3 1.2-2.7 1.6-2.8 2-2.9 2-2.5 2.6-2.8 2.8-2.7 6.4-5 7.4-4.6 8.5-4.2 8-3.1 8.3-2.2 8-1.4zM1401.5 119.8l-6.7 0.9-7 1.6-6 2.3-4.3 2.2-0.8 0.7-0.2 0-0.7-0.6-0.3 0-1.7-1.7-0.2 0.3 0.3 0.3 0 3.7-1.6 2.7-0.3 1.3 0.2 1.3 0.6 1.4 1 1.5 1.4 1.5 4.3 3.6 6 4.2 6.4 3.8 6 3 7.9 3.4 7.4 2.6 5.3 1.4 4.7 0.8 4.3 0.1 4.7-0.4 4.3-0.9 4-1.5 3.7-2 3-2.4 2.2-2.7 1.5-2.7 0.8-3 0.1-3.3-0.7-3-1.3-3-2.1-3-2.9-2.9-3.3-2.6-6-3.5-0.3 0-5.7-2.2-6-1.7-5.3-1-5.7-0.6-5.7-0.1zM1435.8 178.2l1.7 0.1 4.7 0.9 7.6 2.3 6.2 2.7 5.8 3.3 5 3.9 4 4.2 1.7 2.2 1.7 2.6 2.2 4.8 0.8 2.5 0.5 2.8 0.4 5.3-0.6 5.4-0.7 2.8-1 2.9-2.6 5.6-3 4.6-3.4 4.1-3.3 3.3-1.3 1-1.4 1.3-6 4.4-5.2 3-6.4 3-6.6 2.3-7.7 2-7.8 1.3-7 0.7-7.3 0.2-7.3-0.4-7.3-0.8-7.8-1.7-6.6-2-6.4-2.6-5.5-3-4.6-3.4-4-4-1.8-2.3-1.7-2.7-1.2-2.6-0.8-3-0.5-3 0.1-3 0.4-3 0.8-3 1.2-3.1 1.7-3.3 2-3.1 2.3-3.2 3-3.6 3.4-3.6 7.6-7.1 5.8-4.7 5.2-3.7 5.4-3 5.6-2.6 1.4-0.1 0.3 0.4 14.3-0.2 0.4-0.4 4 0 0.3-0.4 2.7 0.1 0.3-0.4 2 0.1 0.3-0.4 1.7 0 0.3-0.4 1.7 0.1 0.3-0.4 1.4 0.1 0.3-0.4 1.3 0.1 0.4-0.4 1 0 0.3-0.4 1.3 0.2 0.4-0.5 1 0.2 0.3-0.5 0.7 0.1 0.3-0.5 1 0.2zM1400.5 208.5l-6.3 0.8-6.7 1.6-6 2.3-2.4 1.3-0.3 0-1.8 1.3-0.8 0.1-1.4-1.3-0.4-0.1 0-0.3-0.6-0.6-0.2 0.2 0 0.4 0.3 0.3 0 3.7-1.4 2.3-0.4 1.7 0.1 1.3 0.6 1.4 1 1.4 1.5 1.5 4.2 3.6 6 4.2 6.5 3.9 6.1 3 6.5 2.7 5.8 2 5.8 1.4 4.3 0.7 4.3 0.1 4.4-0.5 4.3-1 4-1.6 3.3-1.9 2.8-2.2 2.3-2.7 1.6-3 0.8-3.3-0.1-3-0.9-3.4-1.3-2.6-2-2.7-1.8-1.8-2-1.7-4.7-3.1 0-0.4 0.3-0.3 0-0.4-0.3-0.3-0.3 0.3 0 0.4-0.5 0.3-4.2-1.9-4.3-1.5-4.4-1.2-5-0.9-8-0.7-4.3-0.1z"/><path fill="#d101d1" d="M1413.3 97.8l7.9 0.1 7.3 0.8 7.3 1.4 7.7 2.2 7.7 3 6.9 3.5 5.5 3.7 4.6 4 3.6 4.5 2.7 4.5 1 2.4 0.9 2.9 0.4 2.4 0.3 3-0.3 5-0.6 3.1-0.7 2.1-1 2.5-1.3 2.6-1.7 2.7-1.7 2.2-4 4.3-4.7 3.8-5.3 3.3-6.5 3-6.8 2.4-9.1 2.3-8.9 1.7-9 1-8 0.4-8-0.2-8-0.9-7.1-1.3-7.1-2-6.8-2.7-5.7-3-4.8-3.3-4-3.7-3.1-4-2.1-4-0.6-2-0.5-2.3-0.2-2 0-2.4 0.3-2.3 0.5-2 1.9-4.3 3-4.5 2.6-3.1 3.7-3.6 12.3-10.6 6.2-6.2 2.1-1.7 2.1-1.3 3.1-1.7 2.9-1.2 7-2.2 7.6-1.5zM1399.2 117.1l-7 1-6.7 1.6-3.7 1.3-2.6 1.2-2.7 1.6-2.2 1.7-0.5-0.3-0.3 0.3 0.3 0.4-1.7 1.9-1.5 2.4-0.9 2-0.4 1.6-0.1 2 0.4 1.7 0.9 1.7 1.2 1.6 2.7 2.7 3.7 3 3.7 2.7 3 1.6 3 1.4 18.7 7.2 7.9 3.4 8.4 4.2 3.4 1 3.3 0.4 4-0.2 4.3-0.8 3.7-1.2 3.7-1.7 3.3-2.2 2.9-2.5 2.3-2.6 2.2-3.7 1.2-3.7 0.3-3.6-0.1-2-0.4-2-1.3-3.7-2.3-3.7-2.9-3.3-3.9-3.3-4.7-3-5-2.4-5.6-2.1-6-1.7-6.7-1.3-6.3-0.7-6.7-0.2zM1427.5 180.2l1.7-0.1 3.6 0.5 7.4 1.7 7 2.3 7.3 3.3 5.3 2.9 4.7 3.4 4 4 3 4 2.3 4.6 1.4 4.7 0.5 5-0.3 5-1.3 5-2.3 5.3-3 4.7-3.6 4.4-4.7 4.3-4.6 3.3-5.3 3-6.1 2.7-7 2.3-9.2 2.3-9.1 1.7-7 0.7-7.4 0.2-7.3-0.4-6.7-0.9-7.1-1.6-6.1-2-5.9-2.7-4.9-3-4-3.3-2.2-2.3-1.9-2.7-1.4-2.7-0.9-2.6-0.5-2.7 0-2.7 0.5-3 0.9-2.6 2.2-4.1 3.3-4.1 3.7-3.5 8.7-7.3 3-3 1.4-2 3.6-6 3.1-3.7 3.3-3 4.2-2.9 4.4-2.2 4.8-1.9 8.8-0.1 0.4-0.4 4 0 0.3-0.3 2.7 0 0.3-0.4 2 0.1 0.3-0.4 1.7 0 0.3-0.3 1.7 0 0.3-0.3 1.4 0zM1398.8 206.8l-7.6 1.1-6.4 1.8-5.3 2.3-2.3 1.4-2 1.4-0.4-0.3-0.3 0 0-0.3-0.7-0.7-0.3 0.3 0 0.4 0.3 0.3 0 1.6-1.5 1.7-1.4 2-0.9 2-0.3 1.7 0 1.7 0.4 1.3 0.7 1.5 1.1 1.5 2.6 2.6 3.7 3 3.8 2.7 3 1.7 4.9 2 30.3 11.2 3.3 0.9 3 0.2 3.7-0.4 3.6-0.8 3.7-1.3 3.3-1.7 3-2 2.7-2.4 2-2.4 1.9-3.3 1.1-3.3 0.3-3.4-0.5-3.6-1.2-3.4-2.1-3.3-2.7-3-3.5-2.9-4-2.5-5-2.5-5.3-1.9-5-1.3-5.7-1.1-6-0.6-6-0.2z"/><path fill="#e004e0" d="M1409.3 98.8l6.5-0.3 6.7 0.2 7 0.9 6.3 1.4 5.7 1.7 5.7 2.4 5.3 2.8 4.8 3.3 5.1 4.3 4.5 4.7 3.2 4.3 2.1 4 1.3 4.5 0.3 2.2 0 2.3-0.2 2.3-0.4 1.9-0.7 1.9-1 1.7-1 1-0.7 0.3-0.6 0.1-0.7-0.4-1-1.2-2.8-5.6-2.1-3.3-2.2-3-2.8-3-3.3-3-4.1-3-4.4-2.7-4.7-2.3-7.7-3-9.4-2.7-10.8-2-20.7-2.3-3.3-0.9-0.8-0.5-0.4-0.6 0.1-1 1.1-1.4 2.1-1.3 2.9-1.3 3.3-1.2 4-1zM1362.5 143.5l1.7-0.1 2 0.7 7.5 5.4 3.2 1.7 2.2 0.6 9.1 2.1 5 1.5 7.3 2.6 6.3 2.7 4.2 2.1 2.7 2 1.2 1.7 0 1-0.2 0.7-0.9 1-1.3 0.9-3.7 1.3-5.3 1-6.3 0.3-6-0.5-6.7-1.1-6-1.7-5-2-4.6-2.6-4-3-3.1-3.3-2.1-3.3-0.6-1.7-0.5-2 0-1.7 0.2-1.6 0.5-1.7 0.9-1.3 1-1zM1421.8 181.2l2-0.1 3 0.2 6.4 1 5.3 1.4 5.7 2.2 4.6 2.5 4.5 3.1 4.2 3.7 4 4.3 3.6 4.7 2.4 4 1.6 4 0.8 4-0.1 4.3-0.3 2-0.7 2.4-0.9 2.3-1.1 1.9-1 1.3-1.3 1.4-1.3 0.9-1 0.3-1-0.1-0.7-0.4-1-1.2-2.8-5.1-1.8-2.7-1.8-2.3-2.1-2.4-3-2.6-3.2-2.4-3.8-2.3-3.9-2-3.9-1.7-4.7-1.6-8.9-2.4-7.5-1.3-13.3-1.6-4.6-0.8-2.7-1-1-0.7-0.7-0.9-0.3-1.3 0.2-1.4 0.6-1.3 1.1-1.7 1.6-1.6 1.6-1.4 4.6-2.8 4.3-1.9 5.1-1.6 3.2-0.1 0.4-0.3 4 0 0.3-0.3 2.7 0 0.3-0.4 2 0.1zM1364.4 230.8l1.1 0.2 1 0.5 6.3 5.5 1.7 1.2 1.8 1 2.8 1 8.7 2.1 5.7 1.7 12.3 4.4 4.7 2 2.7 1.4 0.8 0.7 0.5 0.7 0 1-0.7 0.7-1.3 0.8-3.3 1-5 0.7-6 0.1-6-0.5-5.7-1-5-1.4-5-2-4.3-2.3-3.5-2.5-3.1-3-2.1-3-1.4-3.3-0.3-1.7 0-1.6 0.3-1.7 0.6-1.3 0.8-0.9z"/><path fill="#ec13ec" d="M1412.1 99.2l8.1-0.1 4 0.3 4.6 0.6 4.7 1 3.7 1 4 1.3 4 1.7 3.3 1.6 3.7 2.3 3 2.3 2.5 2.3 2.3 2.7 1.4 2.3 0.8 2 0 1.7-0.4 0.6-1 0.4-1 0-1.6-0.3-17.3-6.7-6.3-2-6.4-1.7-6.3-1.3-5.9-1-19.2-2.5-3.1-0.9-0.5-0.3-0.6-0.7 0.2-1 1-1 1.7-1 2.7-1.1 3.3-1 3.3-0.7zM1377.3 153.8l4.9 0.1 5 0.7 5.6 1.5 6.7 2.2 6 2.7 3.9 2.2 1.2 1 0.9 1 0.4 1-0.2 1-0.4 0.6-0.8 0.7-2.7 1.2-4 0.9-4.3 0.3-4.7-0.1-4.3-0.5-4.3-0.9-4.4-1.4-4.3-2-3-1.9-2.7-2.6-1.4-2.3-0.2-1 0.1-1 0.4-1 0.6-0.7 1.1-0.7 1.4-0.5zM1417.2 182.2l4-0.2 4 0.1 4.3 0.5 4 0.8 4 1.2 3.7 1.4 3.3 1.6 3.3 2 2.8 2.2 2.4 2.4 2.1 2.6 1.6 2.7 1 2.7 0.6 3-0.2 2.6-0.8 2-1.1 1.2-1.4 0.6-1.6 0.1-2.4-0.3-3.3-1-12.7-4.6-8.3-2.3-9.6-2-14.1-2.1-4.3-0.9-3-1.2-1-0.7-0.6-0.8-0.3-1 0.1-1 0.9-2 2.1-2.3 3.3-2.3 3.8-1.9 4-1.4 4.7-1.1zM1374 242.2l3.8-0.3 5 0.4 5.4 1 5.3 1.4 7.7 2.6 6.6 2.8 3 1.7 0.8 1 0 0.7-0.8 1-2.3 1-3 0.6-4 0.3-4 0-4-0.4-4-0.6-4-1.1-3.7-1.3-3-1.3-3-1.9-2.3-2-1.6-2-0.4-1.6 0.2-0.7 0.5-0.7z"/><path fill="#f920f9" d="M1414 99.5l7.5 0.1 7.3 0.8 7 1.6 4 1.3 3.4 1.3 6 3.1 2.6 1.8 2.5 2 1.9 2 1.5 2 0.7 1.7 0 1.3-0.4 0.7-0.8 0.3-1 0.1-1.7-0.3-3.7-1-11.7-3.8-8.5-2.3-11.5-2.4-18.9-2.7-3.2-0.9-0.6-0.4-0.6-0.6 0.1-0.7 0.9-1 1.7-1 2.7-1 6.3-1.4zM1380.5 154.8l4 0.2 4.7 0.7 5.6 1.6 5.7 2 4.6 2.2 3.1 2 1.4 1.7 0.3 1-0.2 0.6-0.5 0.7-0.9 0.7-2.5 1-3.3 0.6-4 0.3-4-0.2-4.3-0.5-4.4-1.1-3.6-1.3-3.4-1.6-3-2.2-1.7-2-0.5-1-0.3-1 0.1-1 0.3-0.7 0.5-0.7 0.8-0.6 2.5-1zM1419.3 182.8l3.5 0 3.7 0.2 3.7 0.5 3.3 0.8 3.3 0.9 3 1.2 3.4 1.6 2.4 1.5 2.7 2 2.1 2 1.7 2 1.4 2.3 1 2.4 0.4 2.3-0.1 2-0.7 1.7-1.3 1.2-1.6 0.7-2.4 0.1-2.6-0.4-14.4-4-6.8-1.6-22.8-4.3-2.3-0.7-1.4-0.7-1-0.7-0.7-1-0.2-0.6 0-1 0.3-1 0.6-1 2.3-2.3 3-1.9 3.7-1.7 4-1.2 4.3-0.8zM1377.8 243.2l3.4-0.2 4.3 0.4 4.7 0.9 5 1.4 6.3 2.3 5 2.2 2.6 1.6 0.5 0.7 0.1 0.7-0.7 1-2.2 0.9-3 0.6-3.3 0.2-4-0.1-3.7-0.4-3.6-0.7-3.7-1-3.3-1.3-3-1.5-2.5-1.7-1.6-1.7-0.7-1.7 0-0.6 0.3-0.7 1.1-0.8z"/><path fill="#ff37ff" d="M1414.8 99.8l4 0 4.4 0.2 5.3 0.7 6.3 1.4 6.2 2.1 3.8 1.6 3 1.7 3.3 2.3 1.8 1.7 1.4 1.7 0.7 1.6 0 1-0.5 0.6-1 0.3-1.3 0-2-0.3-15-3.9-8.4-1.9-9-1.7-15.3-2.3-2.6-0.8-0.7-0.3-0.7-0.7-0.1-0.6 1-1 1.8-0.9 2-0.7 5.3-1.2zM1380.3 155.8l2.9-0.3 5.3 0.6 5.3 1.3 4.7 1.6 4.8 2.2 3.2 2 1.5 1.6 0.3 1-0.2 0.7-0.9 1-2.4 1.1-2.6 0.6-4 0.2-4.7-0.2-2.7-0.4-3.3-0.8-3-1-3-1.4-2.3-1.4-1.9-1.7-1.1-1.7-0.2-1.6 0.5-1.4 0.7-0.6 1-0.6zM1419.6 183.5l6.6 0.2 6.3 1 5.7 1.8 2.9 1.3 2.4 1.4 4 3 1.8 2 1.3 2 0.9 2 0.4 2-0.1 1.6-0.6 1.6-1.4 1.2-2 0.7-2.6 0.1-3.4-0.4-17.3-3.8-15-2.7-4.3-0.9-4-1.4-1-0.7-1-1-0.2-0.7-0.1-1 0.7-1.6 1.9-2 2.7-1.8 3.3-1.5 3.7-1.2 4-0.8zM1381 243.8l3.2 0 4.3 0.6 4 1 4.3 1.3 5.4 2 3.7 1.8 1.8 1.3 0.4 0.7 0.1 0.7-0.5 0.6-0.6 0.4-1.8 0.6-1.8 0.4-4.3 0.2-4.7-0.2-2.3-0.4-6-1.5-3.4-1.3-2.3-1.3-2.1-1.5-1.3-1.7-0.3-1.3 0.5-1 1.5-0.9z"/><path fill="#ff5aff" d="M1415.3 100.5l5.9 0 5.6 0.6 6 1.2 5.4 1.6 4.6 2.1 4.3 2.5 1.6 1.3 1.2 1.4 0.6 1 0 1-0.7 0.5-1 0.2-1.6-0.1-2.7-0.4-17.3-3.9-19.9-3.7-3-1-0.5-0.3-0.4-0.7 0.1-0.3 0.6-0.7 2.7-1.1 4-0.8zM1382.7 157.2l2.8-0.2 3.7 0.3 3.6 0.7 4 1.3 3.7 1.5 2.9 1.7 1.7 1.7 0.3 0.6 0 0.7-0.8 1-1.4 0.8-2.4 0.6-2.6 0.2-3 0-3.4-0.4-3-0.6-2.6-0.9-2.7-1.1-2-1.3-1.5-1.3-0.9-1.3-0.2-1.4 0.6-1.2 1.3-0.9zM1418.9 184.8l5.6 0 5.3 0.7 5 1.4 4.7 2.1 2 1.2 2 1.5 1.5 1.5 1.3 1.6 0.9 1.7 0.4 1.3 0.1 1.4-0.4 1.3-0.5 0.7-0.9 0.6-2.1 0.7-3 0.1-4-0.5-19.6-3.9-6.7-1.5-4.5-1.5-1.2-0.7-0.9-1-0.4-1.3 0.4-1.4 1.2-1.3 2.1-1.5 2.5-1.2 2.8-0.9 3-0.7zM1383.1 245.2l3.1 0 3.6 0.4 3.4 0.8 4.3 1.3 3.7 1.5 2.5 1.3 1.5 1.3 0.2 0.7-0.1 0.3-0.8 0.7-1.7 0.6-2.3 0.4-2.7 0-5.6-0.5-5.4-1.4-2.3-0.9-2.2-1.2-1.7-1.3-0.8-1-0.3-1 0.5-1 1.3-0.7z"/><path fill="#ff7eff" d="M1414.4 101.5l4.8-0.2 5 0.2 5.3 0.8 4.7 1.1 4.9 1.8 4 2 1.9 1.3 1.1 1 0.8 1 0.1 0.7-0.5 0.5-1.3 0.3-2-0.2-3-0.5-26.9-5.5-3.4-1-0.7-0.3-0.7-0.7 0.2-0.6 1.1-0.7 2-0.6zM1384.7 158.2l2.5-0.1 3 0.3 3 0.7 3.3 1.1 2.8 1.3 2 1.3 1.1 1.4 0.1 1-0.7 0.7-1.3 0.7-1.7 0.3-2.3 0.2-2.3 0-2.7-0.4-4.7-1.2-2.1-1-1.5-1-1.4-1.3-0.6-1 0-1 0.7-1 1.3-0.7zM1418.4 186.5l4.8-0.3 4.6 0.4 4.4 1 4.2 1.6 3.8 2.2 2.5 2.4 0.9 1.4 0.6 1.3 0.1 1-0.2 1-0.4 0.7-0.9 0.6-2 0.7-3 0.1-4.3-0.5-10-1.8-8.3-2-4.3-1.5-1.2-0.6-1.1-1-0.4-1 0.2-1 0.6-1 1.2-1 1.6-0.9 2-0.8zM1384.7 246.2l2.5 0 3 0.4 3.3 0.7 3 1 2.7 1.1 2.1 1.1 1.1 1 0.1 0.3 0 0.6-0.7 0.6-1.3 0.5-4 0.3-4.7-0.5-4.3-1.2-3.5-1.6-1.4-1-0.8-1-0.1-1 0.5-0.6 1-0.5z"/><path fill="#ffa2ff" d="M1417.5 102.2l3.7-0.1 4.3 0.2 4 0.7 4 0.9 3.6 1.3 3.5 1.6 2.3 1.7 0.5 0.7 0 0.6-0.9 0.5-1.7 0-7-1.1-16-3.4-3.3-1-1.2-0.6-0.3-0.4 0-0.3 0.3-0.3 0.7-0.4zM1385.8 159.2l2-0.1 2.7 0.3 2.7 0.6 2.4 0.8 2.1 1 1.4 1 0.8 1 0 1-0.7 0.7-1 0.4-3.4 0.3-3.6-0.4-3.7-1-2.9-1.6-1-1-0.3-0.7 0-1 0.5-0.6 0.7-0.4zM1420 187.8l3.8-0.2 3.7 0.3 3.7 0.8 3.3 1.2 2.9 1.6 2.3 2 0.7 1 0.5 1 0.1 1-0.2 0.7-1 1-2.3 0.6-3 0-4.3-0.5-7-1.3-5.6-1.5-3.3-1.3-1.6-1.4-0.3-0.6 0.2-1 1.2-1.4 2.7-1.2zM1385.3 247.2l1.9-0.2 2 0.2 5 1.1 2.4 0.9 2 1 1.3 1 0.2 0.6-0.5 0.7-0.8 0.3-2.6 0.3-3.7-0.3-3.7-0.9-3.2-1.4-1.6-1.3-0.3-0.7 0.2-0.7 0.4-0.3z"/><path fill="#ffccff" d="M1418.9 103.2l2.6-0.3 3 0.1 3.3 0.4 3 0.6 3.1 0.8 2.6 1 2.4 1.4 0.8 1-0.1 0.3-0.8 0.3-3-0.2-4.8-0.8-7.8-1.6-3.6-1-1.9-1-0.1-0.4 0.3-0.3zM1387.2 160.2l3 0 3.7 1 1.5 0.6 1.5 1 0.5 0.7 0.1 0.7-0.3 0.3-0.7 0.4-2.3 0.4-3-0.3-2.7-0.8-1.9-1-0.8-0.7-0.4-0.7 0-0.6 0.3-0.4 0.5-0.3zM1422.6 189.2l2.6-0.1 2.6 0.3 2.7 0.6 2.3 0.9 2.4 1.3 1.5 1.3 0.7 1.3-0.1 1-0.5 0.6-0.6 0.4-1.7 0.3-2.7 0-3.6-0.4-4.3-0.9-3.4-1-2.2-1-1-0.6-0.5-0.7 0-1 1-1.1 2-0.8zM1386.5 248.2l1.3-0.2 1.7 0 3.8 0.8 3.2 1.4 0.9 0.6 0.2 0.7-0.2 0.3-0.8 0.4-1.8 0.1-2.3-0.1-2.9-0.7-1.7-0.7-1.6-1-0.5-0.6 0-0.4 0.1-0.3z"/></g></g>
<clipPath id="csc4"><use href="#sc4"/></clipPath><g opacity="0.45" clip-path="url(#csc4)"><g filter="url(#bl)"><path id="sc4" fill="#4f004f" stroke="#4f004f" stroke-width="3" d="M1400 79.2l0.2-0.2 9 0 0.3 0.3 4.7 0 0.3 0.3 3 0 0.3 0.4 2 0 0.4 0.3 2 0 0.3 0.3 1.3 0 0.4 0.4 1.3 0 0.3 0.3 1.4 0 0.3 0.3 1 0 0.3 0.4 1.4 0 0.3 0.3 0.7 0 0.3 0.3 1 0 0.3 0.4 0.7 0 0.3 0.3 1 0 0.4 0.3 0.6 0 0.4 0.4 0.6 0 0.4 0.3 0.6 0 0.4 0.3 0.6 0 1 0.7 0.7 0 0.3 0.3 0.7 0 1.7 1 0.6 0 1.7 1 0.3 0 0.4 0.4 0.6 0 0.4 0.3 0.3 0 0.3 0.3 1 0.4 0.7 0.6 0.3 0 0.4 0.4 0.3 0 0.3 0.3 1 0.3 0.7 0.7 1 0.3 1.7 1.4 0.3 0 0.7 0.6 0.3 0 0.7 0.7 0.3 0 1 1 0.3 0 1 1 0.4 0 1.6 1.7 0.4 0 6.2 6.2 0 0.3 1.3 1.3 0 0.4 1 1 0 0.3 1 1 0 0.3 0.7 0.7 0 0.3 0.6 0.7 0.4 1 0.6 0.7 0 0.3 0.7 1 0 0.3 0.3 0.4 0 0.3 0.4 0.3 0.3 1 0.7 1 0 0.7 0.6 1 0 0.7 0.4 0.3 0 0.7 0.3 0.3 0 0.7 0.3 0.3 0 1 0.4 0.3 0 1 0.3 0.4 0 1 0.3 0.3 0 2 0.4 0.3 0 3.7 0.3 0.3 0 1.7-0.3 0.3 0 3.7-0.4 0.3 0 1.7-0.3 0.3 0 1.4-0.3 0.3 0 0.7-0.4 0.3 0 1-0.3 0.3 0 0.7-0.3 0.3 0 0.7-0.7 1 0 0.7-0.3 0.3-0.4 1-0.3 0.3 0 0.4-0.3 0.3-0.4 1-0.3 0.3 0 0.4-0.7 0.6 0 0.4-0.3 0.3 0 0.3-0.7 0.7 0 0.3-1 1 0 0.4-0.6 0.6 0 0.4-1.7 1.6 0 0.4-5.2 5.2-0.3 0-1.7 1.6-0.3 0-2.4 2-0.3 0-0.7 0.7-0.3 0-1.7 1.3-1 0.4-0.6 0.6-1 0.4-0.7 0.6-0.3 0-0.4 0.4-0.3 0-0.8 0.4 0.1 0.5 0.4 0 0.3 0.3 0.3 0 0.4 0.4 1 0.3 0.6 0.7 1 0.3 0.7 0.7 1 0.3 0.7 0.7 0.3 0 1 1 0.3 0 0.7 0.6 0.3 0 1 1 0.4 0 1.6 1.7 0.4 0 5.8 5.9 0 0.3 1.4 1.3 0 0.4 1 1 0 0.3 0.6 0.7 0 0.3 0.7 0.7 0.3 1 0.7 0.6 0.3 1 0.4 0.4 0 0.3 0.3 0.3 0 0.4 0.7 1 0 0.3 0.3 0.3 0 0.7 0.7 1 0 0.7 0.3 0.3 0 0.7 0.3 0.3 0 0.7 0.4 0.3 0 1 0.3 0.3 0 1.4 0.3 0.3 0 1.7 0.4 0.3 0 3.7 0.3 0.3 0 1.7-0.3 0.3 0 3.7-0.4 0.3 0 1.7-0.3 0.3 0 1.3-0.3 0.4 0 1-0.4 0.3 0 1-0.3 0.3 0 0.7-0.3 0.3 0 0.7-0.7 1 0 0.7-0.7 1 0 0.6-0.3 0.4 0 0.3-1 1.7-0.3 1-0.7 0.6-0.3 1-0.7 0.7-0.3 1-0.7 0.7 0 0.3-1 1 0 0.3-1 1 0 0.4-1.7 1.6 0 0.4-5.5 5.5-0.3 0-1.7 1.7-0.3 0-1.4 1.3-0.3 0-0.7 0.7-0.3 0-1 1-0.3 0-0.7 0.6-0.3 0-0.7 0.7-1 0.3-0.7 0.7-1 0.3-0.6 0.7-0.4 0-1.6 1-0.4 0-1.6 1-0.4 0-0.3 0.3-0.3 0-1.7 1-0.7 0-1.6 1-0.7 0-0.3 0.4-0.4 0-0.3 0.3-0.7 0-0.3 0.3-0.7 0-0.3 0.4-0.7 0-1 0.6-1 0-0.3 0.4-0.7 0-0.3 0.3-0.7 0-0.3 0.3-1 0-0.3 0.4-0.7 0-0.3 0.3-1 0-0.4 0.3-1 0-0.3 0.4-1.3 0-0.4 0.3-1 0-0.3 0.3-1.7 0-0.3 0.4-1.3 0-0.4 0.3-2 0-0.3 0.3-2.3 0-0.4 0.4-3 0-0.3 0.3-5.3 0-0.4 0.3-6.3 0-0.3-0.3-5.4 0-0.3-0.3-3 0-0.3-0.4-2.4 0-0.3-0.3-2 0-0.3-0.3-1.4 0-0.3-0.4-1.7 0-0.3-0.3-1 0-0.3-0.3-1.4 0-0.3-0.4-1 0-0.3-0.3-1 0-0.4-0.3-0.6 0-0.4-0.4-1 0-0.3-0.3-0.7 0-0.3-0.3-0.7 0-0.3-0.4-1 0-1-0.6-0.7 0-0.3-0.4-0.7 0-0.3-0.3-0.7 0-0.3-0.3-0.3 0-0.4-0.4-0.6 0-1.7-1-0.7 0-1.6-1-0.4 0-0.3-0.3-0.3 0-1.7-1-0.3 0-1-0.7-0.4 0-0.3-0.3-0.3 0-0.7-0.7-1-0.3-0.7-0.7-1-0.3-0.6-0.7-0.4 0-0.6-0.6-0.4 0-1-1-0.3 0-0.7-0.7-0.3 0-1.3-1.3-0.4 0-1.6-1.7-0.4 0-5.5-5.5 0-0.4-1.7-1.6 0-0.4-1-1 0-0.3-0.6-0.7 0-0.3-1-1-0.4-1-0.6-0.7-0.4-1-0.6-0.6 0-0.4-0.4-0.3 0-0.3-0.3-0.4 0-0.3-1-1.7 0-0.6-0.7-1 0-0.7-0.6-1 0-0.7-0.4-0.3 0-0.7-0.3-0.3 0-1-0.3-0.3 0-1-0.4-0.4 0-1.3-0.3-0.3 0-1.7-0.3-0.3 0-4.4-0.4-0.3 0-0.3 0.3-0.4 0.1-4.3 0.3-0.3 0-1.7 0.3-0.3 0-1.4 0.3-0.3 0-0.7 0.4-0.3 0-1 0.3-0.3 0-0.7 0.3-0.3 0-0.7 0.7-1 0-0.7 1-1.6 0-0.4 0.3-0.3 0-0.3 0.4-0.4 0.3-1 0.7-0.6 0.3-1 1.3-1.7 0-0.3 1-1 0-0.4 1.4-1.3 0-0.3 5.9-5.9 0.3 0 1.7-1.7 0.3 0 1-1 0.3 0 0.7-0.7 0.3 0 0.7-0.6 0.3 0 0.7-0.7 0.3 0 0.7-0.7 0.3 0 0.7-0.6 1-0.4 0.7-0.6 1-0.4 0.3-0.3 0.3 0 0.4-0.3 0.3 0 0.1-0.5-0.8-0.4-0.3 0-0.3-0.4-0.4 0-0.6-0.6-1-0.4-0.7-0.6-1-0.4-0.7-0.6-0.3 0-0.7-0.7-0.3 0-0.7-0.7-0.3 0-2.3-2-0.4 0-1.6-1.6-0.4 0-5.2-5.2 0-0.4-1.3-1.3 0-0.3-1-1 0-0.4-1-1 0-0.3-0.7-0.7-0.3-1-0.7-0.6-0.3-1-0.3-0.4 0-0.3-0.4-0.3 0-0.4-0.6-1 0-0.6-1-1.7 0-0.7-0.4-0.3 0-0.7-0.3-0.3 0-1-0.3-0.3 0-1-0.4-0.4 0-1-0.3-0.3 0-1.7-0.3-0.3 0-4.3-0.4-0.4 0-0.3 0.3-0.3 0.1-4.4 0.3-0.3 0-1.7 0.3-0.3 0-1.3 0.3-0.4 0-1 0.4-0.3 0-1 0.3-0.3 0-0.7 0.3-0.3 0-0.7 0.4-0.3 0-0.7 1-1.7 0-0.6 0.3-0.4 0-0.3 0.3-0.3 0-0.4 0.4-0.3 0-0.3 0.3-0.4 0-0.3 0.3-0.3 0.4-1 0.6-0.7 0.4-1 1.3-1.7 0-0.3 2-2.3 0-0.4 1.3-1.3 0-0.3 6.3-6.3 0.3 0 1.7-1.6 0.3 0 1-1 0.3 0 1-1 0.4 0 0.6-0.7 0.4 0 0.6-0.7 0.4 0 1.6-1.3 1-0.3 0.7-0.7 1-0.3 0.3-0.4 1-0.3 0.4-0.3 0.3 0 0.3-0.4 0.4 0 0.6-0.6 0.7 0 0.3-0.4 0.4 0 0.3-0.3 0.3 0 1.7-1 0.7 0 1.6-1 0.7 0 0.3-0.3 0.7 0 1-0.7 0.7 0 0.3-0.3 0.7 0 0.3-0.4 0.7 0 0.3-0.3 0.7 0 0.3-0.3 1 0 0.3-0.4 0.7 0 0.3-0.3 1 0 0.4-0.3 1 0 0.3-0.4 1 0 0.3-0.3 1 0 0.4-0.3 1.3 0 0.3-0.4 1.4 0 0.3-0.3 1.7 0 0.3-0.3 1.7 0 0.3-0.4 2 0 0.3-0.3 3 0 0.4-0.3zM1400.5 120.7l-0.3 0.3-3.4 0-0.3 0.4-2 0-0.3 0.3-1.7 0-0.3 0.3-1.4 0-0.3 0.4-1 0-0.3 0.3-1 0-0.4 0.3-1 0-0.3 0.4-0.7 0-0.3 0.3-0.7 0-0.3 0.3-0.7 0-1 0.7-0.6 0-1 0.7-0.4 0-0.3 0.3-0.3 0-1.7 1-1 0.3-0.8 0.8 0.5 0.2 0.6 0.6 0.4 0 0.3 0.4 1 0.3 0.7 0.7 0.3 0 0.3 0.3 0.7 0 1.7 1 0.6 0 0.4 0.3 0.6 0 0.4 0.4 0.6 0 0.4 0.3 0.6 0 0.4 0.3 0.6 0 0.4 0.4 1 0 0.3 0.3 1 0 0.3 0.3 1.4 0 0.3 0.3 1.7 0.1 0.3 0.3 2 0 0.3 0.3 3 0 0.4 0.3 3.3 0 5.7 0 0.3-0.3 3 0 0.3-0.3 2 0 0.4-0.4 1.6 0 0.4-0.3 1.3 0 0.3-0.3 1 0 0.4-0.4 1 0 0.3-0.3 0.7 0 0.3-0.3 0.7 0 0.3-0.4 0.7 0 0.3-0.3 0.7 0 0.3-0.3 0.7 0 1.6-1 0.7 0 0.3-0.4 0.4 0 0.6-0.6 1-0.4 0.4-0.3 0.3 0 0.7-0.7 0.4-0.1-0.8-0.8-1-0.3-1.6-1-0.4 0-1.6-1-0.7 0-1-0.7-0.7 0-0.3-0.3-0.7 0-0.3-0.3-0.7 0-0.3-0.4-1 0-0.3-0.3-1 0-0.4-0.3-1 0-0.3-0.4-1.3 0-0.4-0.3-1.6 0-0.4-0.3-2 0-0.3-0.4-3.3 0-0.4-0.3zM1399.5 209l-0.3 0.4-2.7 0-0.3 0.3-2 0-0.4 0.3-1.6 0-0.4 0.4-1 0-0.3 0.3-1.3 0-0.4 0.3-0.6 0-0.4 0.4-1 0-0.3 0.3-0.7 0-0.3 0.3-0.7 0-1 0.7-0.6 0-1 0.7-0.7 0-0.3 0.3-0.4 0-0.3 0.3-0.3 0-1 0.7-0.4 0-0.6 0.7-0.4 0-0.6 0.6-0.5 0.2 1.5 1.1 0.3 0 0.3 0.3 0.4 0 1 0.7 0.3 0 0.3 0.3 0.4 0 0.3 0.4 0.7 0 1 0.6 0.6 0 0.4 0.4 0.3 0 0.3 0.3 0.7 0 0.3 0.3 1 0 0.4 0.4 0.6 0 0.4 0.3 1 0 0.3 0.3 1.3 0 0.4 0.4 1.3 0 0.3 0.3 1.7 0 0.3 0.3 2 0 0.4 0.3 3.6 0.1 0.4 0.3 2 0 5 0 0.3-0.3 3.7-0.1 0.3-0.3 2 0 0.3-0.3 1.7 0 0.3-0.4 1.4 0 0.3-0.3 1.3 0 0.4-0.3 1 0 0.3-0.4 0.7 0 0.3-0.3 1 0 0.3-0.3 0.7 0 1-0.7 0.7 0 0.3-0.3 0.7 0 0.3-0.4 0.3 0 0.4-0.3 0.3 0 1.7-1 0.3 0 0.3-0.3 0.4 0 0.6-0.7 0.4 0 0.4-0.4-0.4-0.2-0.7-0.6-0.3 0-0.7-0.7-0.3 0-1-0.7-0.4 0-1-0.6-0.6 0-1.7-1-0.7 0-0.3-0.4-0.7 0-0.3-0.3-0.7 0-0.3-0.3-1 0-0.3-0.4-0.7 0-0.3-0.3-1 0-0.4-0.3-1.3 0-0.3-0.4-1.7 0-0.3-0.3-1.7 0-0.3-0.3-3 0-0.4-0.4z"/><path fill="#680068" d="M1400.1 79.2l9.1-0.1 0.3 0.4 4.7 0 0.3 0.3 3 0 0.3 0.3 2 0 0.4 0.4 2 0 0.3 0.3 1.3 0 0.4 0.3 1.3 0 0.3 0.4 1.4 0 0.3 0.3 1 0 0.3 0.3 1.4 0 0.3 0.4 0.7 0 0.3 0.3 1 0 0.3 0.3 0.7 0 0.3 0.4 1 0 0.4 0.3 0.6 0 0.4 0.3 0.6 0 0.4 0.4 0.6 0 0.4 0.3 0.6 0 1 0.7 0.7 0 0.3 0.3 0.7 0 1.7 1 0.6 0 1.7 1 0.3 0 0.4 0.3 0.6 0.1 0.4 0.3 1.6 0.7 0.7 0.6 0.3 0 0.4 0.3 0.3 0 0.3 0.4 1 0.3 0.7 0.7 1 0.3 1.7 1.3 0.3 0.1 0.7 0.6 0.3 0 0.7 0.7 0.3 0 1 1 0.3 0 1 1 0.4 0 1.6 1.7 0.4 0 4 4 3.6 4.9 2.7 5.1 1.7 5.3 0.5 3 0.3 2.7-0.2 5.6-0.5 3-0.7 3-2.1 5.7-3 5.5-4 5.5-5 5.3-5.6 4.7-6.5 4.3-6.9 3.7-7.1 3-8.3 2.7-8.9 2-8.4 1.1-9 0.5-8.6-0.3-8.4-0.9-8-1.5-8-2.3-7.7-3-4.6-2.3-3.9-2.3-3.8-2.7-3.1-2.7-4.2-4.3 0-0.3-1-1 0-0.4-1-1 0-0.3-0.7-0.7 0-0.3-0.3-0.3 0-0.4-0.7-0.6-0.7-1.7-0.3-0.3 0-0.4-0.3-0.3 0-0.3-0.3-0.4-0.1-0.6-0.9-1.7-0.1-0.7-0.3-0.3 0-0.7-0.3-0.3 0-1-0.4-0.3 0-1-0.3-0.4 0-1-0.3-0.3 0-1.7-0.4-0.3 0-4.3-0.3-0.4 0-0.3 0.3-0.3 0-4.4 0.4-0.3 0-1.7 0.3-0.3 0-1.3 0.3-0.4 0-1 0.4-0.3 0-1 0.3-0.3 0-0.7 0.3-0.3 0-0.7 0.3-0.3 0.1-0.7 0.9-1.7 0.1-0.6 0.3-0.4 0-0.3 0.3-0.3 0-0.4 0.3-0.3 0.1-0.3 0.3-0.4 0-0.3 0.3-0.3 0.4-1 0.6-0.7 0.4-1 1.3-1.7 0-0.3 1-1 0-0.3 1-1 0-0.4 1.3-1.3 0-0.3 6.1-6.1 0.3 0 1.7-1.7 0.3 0 2.3-2 0.4 0 0.6-0.6 0.4 0 0.6-0.7 0.4 0 1.6-1.3 1-0.4 0.7-0.6 1-0.4 0.3-0.3 0.4 0 0.3-0.3 0.3 0 0.4-0.4 0.3 0 0.3-0.3 0.4 0 0.6-0.6 0.7-0.1 0.3-0.3 0.4 0 1.6-1 0.4 0 0.3-0.3 0.7 0 1.6-1 0.7 0 0.3-0.3 0.7-0.1 1-0.6 0.7 0 0.3-0.3 0.7-0.1 0.3-0.3 0.7 0 0.3-0.3 0.7 0 0.3-0.3 1-0.1 0.3-0.3 0.7 0 0.3-0.3 1 0 0.4-0.3 1-0.1 0.3-0.3 1 0 0.3-0.3 1 0 0.4-0.3 1.3 0 0.3-0.4 1.4 0 0.3-0.3 1.7 0 0.3-0.3 1.7 0 0.3-0.4 2 0 0.3-0.3 3 0 0.4-0.3 4.6 0zM1377.5 110.2l-2 0.5-2 1-1.3 1-1.2 1.5-0.7 1.6-0.3 1.7 0.2 1.7 0.7 2 1.1 2 1.3 1.6 2.2 2.2 0.3 0 0.7 0.6 0.3 0.5 0.4 0.1 0.6 0.6 1.7 0.7 0.7 0.6 0.3 0 0.3 0.4 0.7 0 1.7 1 0.6 0 0.4 0.3 0.6 0 0.4 0.3 0.6 0 0.4 0.4 0.6 0 0.4 0.3 0.6 0 0.4 0.3 1 0 0.3 0.4 1 0 0.3 0.3 1.4 0 0.3 0.3 1.7 0 0.3 0.4 2 0 0.3 0.3 3 0 0.4 0.3 9 0 0.3-0.3 3 0 0.3-0.3 2-0.1 0.4-0.3 1.6 0 0.4-0.3 1.3 0 0.3-0.3 1-0.1 0.4-0.3 1 0 0.3-0.3 0.7 0 0.3-0.3 0.7-0.1 0.3-0.3 0.7 0 0.3-0.3 0.7 0 0.3-0.3 0.7-0.1 1.6-0.9 0.7-0.1 0.3-0.3 0.4 0 0.6-0.6 1-0.4 0.4-0.3 0.3 0 0.7-0.7 0.3 0 0.3-0.3 0.2-0.6-0.5-0.5-2.3-1.8-3-1.8-5.7-2.7-6.3-2.3-7-2-21.4-5.5-5-0.7-2.3 0zM1357.8 172.2l0-0.3 0.4 0 1.6 1 0.4 0 0.3 0.3 0.3 0 0.4 0.3 0.3 0 0.3 0.4 0.7 0 1.7 1 0.6 0 1 0.6 0.7 0 0.3 0.4 0.7 0 0.3 0.3 0.7 0 1 0.7 0.7 0 0.3 0.3 1 0 0.3 0.3 0.7 0 0.3 0.4 0.7 0 0.3 0.3 1 0 0.4 0.3 0.6 0.1 0.4 0.3 1 0 0.3 0.3 1.3 0 0.4 0.4 1 0 0.3 0.3 1.3 0 0.4 0.3 1.3 0 0.3 0.4 1.7 0 0.3 0.3 1.7 0 0.3 0.3 2 0 0.4 0.4 2.6 0 0.4 0.3 4 0 0.3 0.3 14.3 0 0.4-0.3 4 0 0.3-0.4 2.7 0 0.3-0.3 2 0 0.3-0.3 1.7 0 0.3-0.4 1.7 0 0.3-0.3 1.4 0 0.3-0.3 1.3 0 0.4-0.4 1 0 0.3-0.3 1.3 0 0.4-0.3 1 0 0.3-0.4 0.7 0 0.3-0.3 1 0 0.3-0.3 0.7 0 0.3-0.4 0.7 0 0.3-0.3 1 0 0.4-0.3 0.6 0 1-0.7 0.7 0 0.3-0.3 0.7 0 0.3-0.4 0.7 0 1-0.6 0.7 0 1.6-1 0.7 0 0.3-0.3 0.4 0 0.3-0.4 0.3 0 1.7-1 1-0.3 0.3 0.6 0.4 0 0.3 0.3 0.3 0 0.4 0.3 1 0.4 0.6 0.6 1 0.4 0.7 0.6 0.3 0 0.4 0.4 0.3 0 0.7 0.6 0.3 0.1 1 0.9 0.3 0.1 0.7 0.6 0.3 0 1 1 0.4 0 1.6 1.7 0.4 0 5 5 2.6 3.6 1.7 2.9 1.3 3 1 3 0.7 3.1 0.3 2.7 0 3-0.3 3-0.7 3.2-1 3.2-1.2 3-1.4 2.6-3.6 5.4-4.7 5.3-5.4 4.8-6.3 4.5-7 4.1-7.7 3.7-8.3 3.1-8.4 2.4-8.6 1.8-8.7 1.1-8.7 0.4-8.3-0.3-8.3-1-7.8-1.6-7.6-2.4-7-3-3.5-1.9-3.1-2-5.4-4.2-2.3-2.2-2.3-2.7-0.4-0.6-0.6-0.7 0-0.3-1-1.1-0.4-0.9-0.6-0.7-0.4-1-0.6-0.6 0-0.4-0.4-0.3 0-0.3-0.3-0.4 0-0.3-1-1.7 0-0.6-0.7-1 0-0.7-0.6-1-0.1-0.7-0.3-0.3 0-0.7-0.3-0.3 0-1-0.4-0.3 0-1-0.3-0.4 0-1.3-0.3-0.3 0-1.7-0.4-0.3 0-4.4-0.3-0.3 0-0.3 0.3-0.4 0-4.3 0.4-0.3 0-1.7 0.3-0.3 0-1.4 0.3-0.3 0-0.7 0.3-0.3 0.1-1 0.3-0.3 0-0.7 0.3-0.3 0-0.7 0.7-1 0-0.7 1-1.6 0-0.4 0.3-0.3 0-0.3 0.3-0.4 0.4-1 0.6-0.6 0.4-1 1.3-1.7 0-0.3 1-1 0-0.4 1.3-1.3 0-0.3 5.8-5.8 0.3 0 1.7-1.6 0.3 0 1-1 0.3 0 0.7-0.7 0.3 0 0.7-0.7 0.3 0 0.7-0.6 0.3 0 0.7-0.7 0.3 0 0.7-0.7 1-0.3 0.7-0.7 0.3 0 0.3-0.3 0.4 0zM1379.8 198.5l-2.3 0.2-2.3 0.7-2 1-1.4 1.1-1 1.3-0.7 1.7-0.2 1.7 0.2 2 0.8 2 1.4 2 2 2.3 1.9 1.5 0.3 0 0.7 0.8 0.3 0 0.7 0.7 0.3 0 0.3 0.3 1.7 0.7 0.3 0.3 0.4 0 0.3 0.3 0.7 0 1 0.7 0.6 0 1 0.7 0.7 0 0.3 0.3 1 0 0.4 0.3 0.6 0 0.4 0.4 1 0 0.3 0.3 1.3 0 0.4 0.3 1.3 0 0.3 0.4 1.7 0 0.3 0.3 2 0 0.4 0.3 3.6 0 0.4 0.4 3.3 0 3.7 0 0.3-0.4 3.7 0 0.3-0.3 2 0 0.3-0.3 1.7 0 0.3-0.4 1.4 0 0.3-0.3 1.3 0 0.4-0.3 1-0.1 0.3-0.3 0.7 0 0.3-0.3 1 0 0.3-0.3 0.7-0.1 1-0.6 0.7 0 0.3-0.3 0.7-0.1 0.3-0.3 0.3 0 0.4-0.3 0.3 0 1.7-1 0.3 0 0.3-0.4 0.4 0 0.6-0.6 0.4 0 0.6-0.6 0-0.3 0.3-0.1-3.3-2.5-4-2.4-4.3-2-5.3-1.9-6.7-2-21.3-5.5-4.7-0.9z"/><path fill="#790079" d="M1400.1 79.2l9.1-0.1 0.3 0.4 4.7 0 0.3 0.3 3 0 0.3 0.3 2 0 0.4 0.4 2 0 0.3 0.3 1.3 0 0.4 0.3 1.3 0 0.3 0.4 1.4 0 0.3 0.3 1 0 0.3 0.3 1.4 0.1 0.3 0.3 0.7 0 0.3 0.3 1 0 0.3 0.3 0.7 0 0.3 0.4 1 0 0.4 0.3 0.6 0 0.4 0.3 0.6 0.1 0.4 0.3 0.6 0 0.4 0.3 0.6 0 1 0.7 0.7 0 0.3 0.3 0.7 0 1.7 1 0.6 0 1.7 1 0.3 0 0.4 0.4 0.6 0 0.4 0.3 1.6 0.7 0.7 0.6 0.3 0 0.4 0.4 0.3 0 0.3 0.3 1 0.3 0.7 0.7 1 0.3 1.7 1.4 0.3 0 4.7 3.6 4.5 4.7 1.8 2.3 1.7 2.7 2.4 5 0.9 2.9 0.6 2.8 0.4 2.6 0.1 3-0.1 3-0.3 2.8-1.5 5.9-1.1 3-1.4 3-3.4 5.7-4.5 5.6-5.1 5-5.9 4.7-6.3 4-7.2 3.7-7.7 3-8.1 2.3-8.4 1.7-8.8 0.9-8.6 0.3-8.7-0.5-8-1.1-8.4-2-8-2.6-6.6-3-3.7-2-4-2.7-3-2.3-3.3-3-2.7-3-2-2.7-1.6-2.7-0.4-1-0.3-0.3 0-0.3-0.3-0.4 0-0.6-1-1.7 0-0.7-0.4-0.3 0-0.7-0.3-0.3 0-1-0.3-0.3-0.1-1-0.3-0.4 0-1-0.3-0.3 0-1.7-0.3-0.3-0.1-4.3-0.3-0.4 0-0.3 0.3-0.3 0-4.4 0.4-0.3 0-1.7 0.3-0.3 0-1.3 0.3-0.4 0-1 0.4-0.3 0-1 0.3-0.3 0-0.7 0.3-0.3 0-0.7 0.4-0.3 0-0.7 1-1.7 0-0.6 0.3-0.4 0-0.3 0.3-0.3 0-0.4 0.4-0.3 0-0.3 0.3-0.4 0-0.3 0.3-0.3 0.4-1 0.6-0.7 0.4-1 1.3-1.7 0-0.3 2-2.3 0-0.4 1.3-1.3 0-0.3 6.1-6.1 0.3 0 1.7-1.6 0.3 0 1-1 0.3 0 1-1 0.4 0 0.6-0.7 0.4 0 0.6-0.7 0.4 0 1.6-1.3 1-0.3 0.7-0.7 1-0.3 0.3-0.4 1-0.3 0.4-0.3 0.3 0 0.3-0.4 0.4 0 0.6-0.6 0.7 0 0.3-0.4 0.4 0 0.3-0.3 0.3 0 1.7-1 0.7 0 1.6-1 0.7 0 0.3-0.3 0.7 0 1-0.7 0.7 0 0.3-0.3 0.7 0 0.3-0.4 0.7 0 0.3-0.3 0.7 0 0.3-0.3 1 0 0.3-0.4 0.7 0 0.3-0.3 1 0 0.4-0.3 1 0 0.3-0.4 1 0 0.3-0.3 1 0 0.4-0.3 1.3 0 0.3-0.4 1.4 0 0.3-0.3 1.7 0 0.3-0.3 1.7 0 0.3-0.4 2 0 0.3-0.3 3 0 0.4-0.3 4.6 0zM1380.5 106.8l-2.7 0.4-2.3 0.6-2.2 1-1.8 1.4-1.3 1.5-1 1.8-0.4 1.7-0.1 2 0.5 2 0.9 2 1.3 2 1.6 1.6 2.5 2.3 1.3 1.1 0.4 0 0.6 0.6 1.7 0.7 0.7 0.6 0.3 0.1 0.3 0.3 0.7 0 1.7 1 0.6 0 0.4 0.3 0.6 0 0.4 0.3 0.6 0.1 0.4 0.3 0.6 0 0.4 0.3 0.6 0 0.4 0.3 1 0 0.3 0.4 1 0 0.3 0.3 1.4 0 0.3 0.3 1.7 0 0.3 0.4 2 0 0.3 0.3 3 0 0.4 0.3 9 0 0.3-0.3 3 0 0.3-0.3 2 0 0.4-0.4 1.6 0 0.4-0.3 1.3 0 0.3-0.3 1 0 0.4-0.4 1 0 0.3-0.3 0.7 0 0.3-0.3 0.7 0 0.3-0.4 0.7 0 0.3-0.3 0.7 0 0.3-0.3 0.7 0 1.6-1 0.7 0 0.3-0.4 0.4 0 0.6-0.6 1-0.4 0.4-0.3 0.3 0 0.7-0.7 0.3 0 1-1.3-3-2.7-4-2.7-4.7-2.4-6.3-2.6-18.7-6.4-6-1.8-5.6-1.2zM1357.8 172.2l0-0.3 0.4 0 1.6 1 0.4 0 0.3 0.4 0.3 0 0.4 0.3 0.3 0 0.3 0.3 0.7 0 1.7 1 0.6 0 1 0.7 0.7 0 0.3 0.3 0.7 0 0.3 0.4 0.7 0 1 0.6 0.7 0 0.3 0.4 1 0 0.3 0.3 0.7 0 0.3 0.3 0.7 0 0.3 0.4 1 0 0.4 0.3 0.6 0 0.4 0.3 1 0 0.3 0.4 1.3 0 0.4 0.3 1 0 0.3 0.3 1.3 0 0.4 0.4 1.3 0 0.3 0.3 1.7 0 0.3 0.3 1.7 0 0.3 0.4 2 0 0.4 0.3 2.6 0 0.4 0.3 4 0 0.3 0.4 14.3-0.1 0.4-0.3 4 0 0.3-0.4 2.7 0 0.3-0.3 2 0 0.3-0.3 1.7 0 0.3-0.4 1.7 0 0.3-0.3 1.4 0 0.3-0.3 1.3 0 0.4-0.3 1 0 0.3-0.4 1.3 0 0.4-0.3 1 0 0.3-0.3 0.7 0 0.3-0.4 1 0 0.3-0.3 0.7 0 0.3-0.3 0.7 0 0.3-0.4 1 0.1 0.4-0.4 0.6 0 1-0.6 0.7 0 0.3-0.4 0.7 0 0.3-0.3 0.7 0 1-0.7 0.7 0 1.6-1 0.7 0 0.3-0.3 0.4 0 0.3-0.3 0.3 0 1.7-1 1-0.2 0.3 0.4 0.4 0 0.3 0.3 0.3 0 0.4 0.4 1 0.3 0.6 0.7 1 0.3 0.7 0.7 0.3 0 1.4 1 0.2 0 1.1 1 0.3 0 0.7 0.6 0.7 0.4 2.7 2.3 2.4 2.3 2.2 2.5 2 2.7 1.7 2.8 1.3 2.9 1 2.8 0.7 2.8 0.4 3.2 0 3-0.3 3-0.6 3-0.9 3-2.4 5.3-1.6 2.7-2 2.8-4.6 5.3-5.5 4.9-6.5 4.7-6.9 4-7.8 3.6-8 3-8.3 2.4-8.7 1.7-8.7 1.1-8.6 0.4-8.4-0.2-8.3-1-8-1.7-7.3-2.2-7.2-3.1-6.5-3.8-2.7-1.9-3-2.5-2.3-2.2-2.3-2.7-2-2.7-1.7-2.7-1-1.9 0-0.6-0.7-1 0-0.7-0.6-1 0-0.7-0.4-0.3 0-0.7-0.3-0.3 0-1-0.3-0.3-0.1-1-0.3-0.4 0-1.3-0.3-0.3 0-1.7-0.3-0.3-0.1-4.4-0.3-0.3 0-0.3 0.3-0.4 0-4.3 0.4-0.3 0-1.7 0.3-0.3 0-1.4 0.3-0.3 0-0.7 0.4-0.3 0-1 0.3-0.3 0-0.7 0.3-0.3 0-0.7 0.7-1 0-0.7 1-1.6 0-0.4 0.3-0.3 0-0.3 0.4-0.4 0.3-1 0.7-0.6 0.3-1 1.3-1.7 0-0.3 1-1 0-0.4 1.4-1.3 0-0.3 5.7-5.7 0.3 0 1.7-1.7 0.3 0 1-1 0.3 0 0.7-0.7 0.3 0 0.7-0.6 0.3 0 0.7-0.7 0.3 0 0.7-0.7 0.3 0 0.7-0.6 1-0.4 0.7-0.6 0.3 0 0.3-0.4 0.4 0zM1379.2 195.5l-2.7 0.5-2.3 0.8-2 1-1.7 1.4-1.2 1.6-0.7 1.7-0.3 2 0.2 2 0.8 2.3 1.3 2 1.7 2 2.2 2 2.7 2 0.3 0 0.7 0.7 0.3 0 0.3 0.3 1.7 0.7 0.3 0.3 0.4 0 0.3 0.3 0.7 0.1 1 0.6 0.6 0 1 0.7 0.7 0 0.3 0.3 1 0 0.4 0.3 0.6 0 0.4 0.4 1 0 0.3 0.3 1.3 0 0.4 0.3 1.3 0 0.3 0.4 1.7 0 0.3 0.3 2 0 0.4 0.3 3.6 0 0.4 0.4 3.3 0 3.7 0 0.3-0.4 3.7 0 0.3-0.3 2 0 0.3-0.3 1.7 0 0.3-0.4 1.4 0 0.3-0.3 1.3 0 0.4-0.3 1 0 0.3-0.4 0.7 0 0.3-0.3 1 0 0.3-0.3 0.7 0 1-0.7 0.7 0 0.3-0.3 0.7 0 0.3-0.4 0.3 0 0.4-0.3 0.3 0 1.7-1 0.3 0 0.3-0.3 0.4 0 0.6-0.7 0.4 0 0.6-0.9 0.4 0 0.3-0.4-3-2.8-4-2.6-5.3-2.8-6.7-2.6-18.3-6.3-6-1.8-6-1.1-2.7-0.1z"/><path fill="#8b008b" d="M1400.1 79.2l9.1 0 0.3 0.3 4.7 0 0.3 0.3 3 0 0.3 0.3 2 0.1 0.4 0.3 2 0 0.3 0.3 1.3 0 0.4 0.3 1.3 0.1 0.3 0.3 1.4 0 0.3 0.3 1 0 0.3 0.4 1.4 0 0.3 0.3 0.7 0 0.3 0.3 1 0 0.3 0.4 0.7 0 0.3 0.3 1 0 0.4 0.3 0.6 0 0.4 0.4 0.6 0 0.4 0.3 0.6 0 0.4 0.3 0.6 0 1 0.7 0.7 0 0.3 0.3 0.6 0 1.1 0.7 0.3 0 0.4 0.3 0.5 0 4 2 5.5 3.4 2.6 2 2.7 2.3 2.3 2.3 2 2.4 3.1 4.6 1.3 2.7 1 2.7 0.7 2.6 0.5 2.7 0.2 2.7 0.1 3-0.3 3-0.5 3-1.7 5.6-2.9 6-3.8 6-4.5 5.4-5.3 5-6.1 4.6-6.6 4-6.9 3.4-7.6 2.8-7.9 2.2-8.4 1.5-8.4 0.8-8.3 0.1-8.3-0.6-7.7-1.2-8-2-7.3-2.6-7-3.4-3.4-2-3.8-2.6-3.2-2.7-3-3-2.3-2.8-2-3-1.7-3.1-1.3-3.3 0-0.8-0.3-0.3 0-1-0.4-0.4 0-1-0.3-0.3 0-1.7-0.3-0.3-0.1-4.3-0.3-0.4 0-0.3 0.3-0.3 0-4.4 0.4-0.3 0-1.7 0.3-0.3 0-1.3 0.3-0.4 0-1 0.4-0.3 0-1 0.3-0.3 0-0.7 0.3-0.3 0-0.7 0.4-0.3 0-0.7 1-1.7 0-0.6 0.3-0.4 0-0.3 0.3-0.3 0-0.4 0.4-0.3 0-0.3 0.3-0.4 0-0.3 0.3-0.3 0.4-1 0.6-0.7 0.4-1 1.3-1.7 0-0.3 2-2.3 0-0.4 1.3-1.3 0-0.3 6.1-6.1 0.3 0 1.7-1.6 0.3 0 1-1 0.3 0 1-1 0.4 0 0.6-0.7 0.4 0 0.6-0.7 0.4 0 1.6-1.3 1-0.3 0.7-0.7 1-0.3 0.3-0.4 1-0.3 0.4-0.3 0.3 0 0.3-0.4 0.4 0 0.6-0.6 0.7 0 0.3-0.4 0.4 0 0.3-0.3 0.3 0 1.7-1 0.7 0 1.6-1 0.7 0 0.3-0.3 0.7 0 1-0.7 0.7 0 0.3-0.3 0.7 0 0.3-0.4 0.7 0 0.3-0.3 0.7 0 0.3-0.3 1 0 0.3-0.4 0.7 0 0.3-0.3 1 0 0.4-0.3 1 0 0.3-0.4 1 0 0.3-0.3 1 0 0.4-0.3 1.3 0 0.3-0.4 1.4 0 0.3-0.3 1.7 0 0.3-0.3 1.7 0 0.3-0.4 2 0 0.3-0.3 3 0 0.4-0.3 4.6 0zM1381.8 103.8l-3 0.4-2.6 0.6-2.5 1-2.2 1.3-1.7 1.5-1.4 1.9-0.9 2-0.3 2.3 0.1 2 0.8 2.4 1 2 1.6 2 1.6 1.6 2.2 1.8 3.3 2.2 1.5 0.7 0.9 0.7 0.3 0 0.3 0.3 0.6 0 1.1 0.7 0.3 0 0.4 0.3 0.6 0 0.4 0.3 0.6 0 0.4 0.4 0.6 0 0.4 0.3 0.6 0 0.4 0.3 0.6 0 0.4 0.3 1 0.1 0.3 0.3 1 0 0.3 0.3 1.4 0 0.3 0.3 1.7 0.1 0.3 0.3 2 0 0.3 0.3 3 0 0.4 0.3 9 0 0.3-0.3 3 0 0.3-0.3 2 0 0.4-0.4 1.6 0 0.4-0.3 1.3 0 0.3-0.3 1 0 0.4-0.4 1 0 0.3-0.3 0.7 0 0.3-0.3 0.7 0 0.3-0.4 0.7 0 0.3-0.3 0.7 0 0.3-0.3 0.7 0 1.6-1 0.7 0 0.3-0.4 0.4 0 0.6-0.6 1-0.4 0.4-0.3 0.3 0 0.7-0.7 0.3 0 1-1.2 0.3 0 0.4-0.4-0.7-1.1-1.7-1.7-4.3-3.4-5.7-3.2-7.3-3.4-13.3-5.5-7.4-2.6-3.3-0.9-3-0.6-3-0.3zM1357.8 172.2l0-0.2 0.4 0 1.6 1 0.4 0 0.3 0.3 0.3 0 0.4 0.3 0.3 0 0.3 0.4 0.7 0 1.7 1 0.6 0 1 0.6 0.7 0 0.3 0.4 0.7 0 0.3 0.3 0.7 0 1 0.7 0.7 0 0.3 0.3 1 0 0.3 0.3 0.7 0 0.3 0.4 0.7 0 0.3 0.3 1 0 0.4 0.3 0.6 0.1 0.4 0.3 1 0 0.3 0.3 1.3 0 0.4 0.4 1 0 0.3 0.3 1.3 0 0.4 0.3 1.3 0 0.3 0.4 1.7 0 0.3 0.3 1.7 0 0.3 0.3 2 0 0.4 0.4 2.6 0 0.4 0.3 4 0 0.3 0.3 14.3-0.1 0.4-0.3 4 0 0.3-0.3 2.7 0 0.3-0.4 2 0 0.3-0.3 1.7 0 0.3-0.3 1.7 0 0.3-0.4 1.4 0 0.3-0.3 1.3 0 0.4-0.3 1 0 0.3-0.3 1.3 0 0.4-0.4 1 0 0.3-0.3 0.7 0 0.3-0.3 1 0 0.3-0.3 0.7 0 0.3-0.4 0.7 0 0.3-0.3 1 0 0.4-0.3 0.6 0 1-0.7 0.7 0 0.3-0.3 0.7 0 0.3-0.4 0.7 0 1-0.6 0.7 0 1.6-1 0.7 0 0.3-0.3 0.4 0 0.3-0.4 0.3 0 1.7-0.9 1-0.2 6 3.6 2.7 2 3.1 2.7 2.5 2.6 2 2.4 1.7 2.5 1.6 2.8 1.1 2.4 1 3 0.6 3 0.3 2.6 0 2.7-0.3 3-0.6 3-0.8 2.7-1.2 3-1.4 2.6-3.3 5-4.7 5.3-5.3 4.7-6 4.4-7 4-7.7 3.6-8 3-8.3 2.4-8.3 1.7-8.7 1.1-8.7 0.4-8.3-0.3-8.3-0.9-8-1.6-7.4-2.3-7-2.9-6.3-3.6-3-2.1-2.7-2.1-2.3-2.2-2.3-2.5-2-2.6-1.7-2.6-1.3-2.4-1.4-3.2-0.3-0.9 0-0.7-0.3-0.4 0-0.9-0.4-0.4 0-1.3-0.3-0.3 0-1.7-0.3-0.3-0.1-4.4-0.3-0.3 0-0.3 0.3-0.4 0.1-4.3 0.3-0.3 0-1.7 0.3-0.3 0-1.4 0.3-0.3 0-0.7 0.4-0.3 0-1 0.3-0.3 0-0.7 0.3-0.3 0-0.7 0.7-1 0-0.7 1-1.6 0-0.4 0.3-0.3 0-0.3 0.4-0.4 0.3-1 0.7-0.6 0.3-1 1.3-1.7 0-0.3 1-1 0-0.4 1.4-1.3 0-0.3 5.7-5.7 0.3 0 1.7-1.7 0.3 0 1-1 0.3 0 0.7-0.7 0.3 0 0.7-0.6 0.3 0 0.7-0.7 0.3 0 0.7-0.7 0.3 0 0.7-0.6 1-0.4 0.7-0.6 0.3 0 0.3-0.4 0.4 0zM1379.2 192.5l-2.7 0.5-2.7 0.8-2.3 1.2-2 1.5-1.4 1.7-1.1 2-0.5 2 0 2 0.4 2 0.8 2 1.3 2 1.8 2 1.9 1.6 2.5 1.8 3 1.9 2 1 0.3 0 0.3 0.3 0.4 0 0.3 0.4 0.5 0 1.2 0.6 0.6 0 1 0.7 0.7 0 0.3 0.3 1 0 0.4 0.4 0.6 0 0.4 0.3 1 0 0.3 0.3 1.3 0 0.4 0.3 1.3 0.1 0.3 0.3 1.7 0 0.3 0.3 2 0 0.4 0.3 3.6 0.1 0.4 0.3 7 0 0.3-0.4 3.7 0 0.3-0.3 2 0 0.3-0.3 1.7 0 0.3-0.4 1.4 0 0.3-0.3 1.3 0 0.4-0.3 1 0 0.3-0.4 0.7 0 0.3-0.3 1 0 0.3-0.3 0.7 0 1-0.7 0.7 0 0.3-0.3 0.7 0 0.3-0.4 0.3 0 0.4-0.3 0.3 0 1.7-1 0.3 0 0.3-0.3 0.4 0 0.6-0.7 0.4 0 0.6-0.8 0.4 0 0.9-1.2-1.6-1.9-2-1.8-2.3-1.7-3.4-2.1-7.3-3.7-11.7-4.9-9-3.5-6.3-1.9-3-0.6-3-0.3-2.7-0.1z"/><path fill="#9d009d" d="M1400.2 79.2l9 0 0.3 0.3 4.7 0 0.3 0.3 2.9 0 0.4 0.4 2 0 0.4 0.3 1.7 0 0.6 0.3 1.2 0 0.5 0.4 1.1 0 0.5 0.3 1 0 0.7 0.3 0.7 0 0.6 0.4 0.7 0 2.4 0.6 7.5 2.7 6.2 3 5.8 3.7 2.6 2 2.5 2.3 3.8 4.3 2.9 4.7 1 2.3 0.9 2.7 0.7 2.7 0.3 2.6 0 5.4-0.4 2.6-0.6 3-2 5.7-2.9 5.7-4 5.8-4.7 5.4-5.5 5.1-5.8 4.4-6.4 3.9-7 3.4-7.6 2.9-7.7 2.1-8 1.4-8.3 0.7-8.4 0-8-0.7-8-1.4-7.2-2-7-2.7-6.4-3.3-3.6-2.4-3.1-2.3-3-2.7-2.3-2.4-2.4-3-2-3.2-1.6-3.4-1-2.8-1-4.4 0-3.4-0.3-0.7 0.3-0.3 0-4.4 0.3-0.3 0-1.7 0.3-0.3 0-1.3 0.4-0.4 0-1 0.3-0.3 0-1 0.3-0.3 0-0.7 0.3-0.3 0.1-0.7 0.3-0.3 0-0.7 1-1.7 0-0.6 0.3-0.4 0-0.3 0.3-0.3 0-0.4 0.4-0.3 0-0.3 0.3-0.4 0-0.3 0.3-0.3 0.4-1 0.6-0.7 0.4-1 1.3-1.7 0-0.3 2-2.3 0-0.4 1.3-1.3 0-0.3 6.1-6.1 0.3 0 1.7-1.6 0.3 0 1-1 0.3 0 1-1 0.4 0 0.6-0.7 0.4 0 0.6-0.7 0.4 0 1.6-1.3 1-0.3 0.7-0.7 1-0.3 0.3-0.4 1-0.3 0.4-0.3 0.3 0 0.3-0.4 0.4 0 0.6-0.6 0.7 0 0.3-0.4 0.4 0 0.3-0.3 0.3 0 1.7-1 0.7 0 1.6-1 0.7 0 0.3-0.3 0.7 0 1-0.7 0.7 0 0.3-0.3 0.7 0 0.3-0.3 0.7-0.1 0.3-0.3 0.7 0 0.3-0.3 1 0 0.3-0.3 0.7-0.1 0.3-0.3 1 0 0.4-0.3 1 0 0.3-0.3 1-0.1 0.3-0.3 1 0 0.4-0.3 1.3 0 0.3-0.3 1.4-0.1 0.3-0.3 1.7 0 0.3-0.3 1.7 0 0.3-0.3 2 0 0.3-0.4 3 0 0.4-0.3 4.6 0zM1384.2 100.8l-3.4 0.2-3.3 0.7-3 1-2.7 1.3-2.3 1.7-1.7 1.8-1.3 2.1-0.8 2.2-0.2 2.4 0.3 2.3 0.8 2.3 1.4 2.4 1.9 2.3 2.2 2 3.1 2.1 3 1.7 5 2.2 4 1.3 0.5 0 0.5 0.4 0.8 0 0.5 0.3 1 0 0.3 0.3 1.3 0 0.4 0.4 1.6 0 0.4 0.3 2 0 0.3 0.3 3 0 0.4 0.4 9-0.1 0.3-0.3 3 0 0.3-0.3 2 0 0.4-0.3 1.6-0.1 0.4-0.3 1.3 0 0.3-0.3 1 0 0.4-0.3 1-0.1 0.3-0.3 0.7 0 0.3-0.3 0.7 0 0.3-0.3 0.7-0.1 0.3-0.3 0.7 0 0.3-0.3 0.7 0 1.6-1 0.7 0 0.3-0.4 0.4 0 0.6-0.6 1-0.4 0.4-0.3 0.3 0 0.7-0.7 0.3 0 1-1.1 0.3 0 1.1-1.2 0.1-0.3-0.3-0.7-1.5-2.1-2-1.9-2.4-1.9-6-3.9-8.3-4.4-10.3-4.8-7.4-2.8-3.3-1-3.3-0.7-3-0.4zM1356.2 173.1l2-1.1 1.6 1 0.4 0 0.3 0.4 0.3 0 0.4 0.3 0.3 0 0.3 0.3 0.7 0 1.7 1 0.6 0 1 0.7 0.7 0 0.3 0.3 0.7 0 0.3 0.4 0.7 0 1 0.6 0.7 0 0.3 0.4 1 0 0.3 0.3 0.7 0 0.3 0.3 0.7 0 0.3 0.4 1 0 0.4 0.3 0.6 0 0.4 0.3 1 0 0.3 0.4 1.3 0 0.4 0.3 1 0 0.3 0.3 1.3 0 0.4 0.4 1.3 0 0.3 0.3 1.7 0 0.3 0.3 1.7 0 0.3 0.4 2 0 0.4 0.3 2.6 0 0.4 0.3 4 0 0.3 0.4 14.3-0.1 0.4-0.4 4 0 0.3-0.3 2.7 0 0.3-0.4 2 0.1 0.3-0.4 1.7 0 0.3-0.3 1.7 0 0.3-0.3 1.4 0 0.3-0.4 1.3 0 0.4-0.3 1 0 0.3-0.3 1.3 0 0.4-0.3 1 0 0.3-0.4 0.7 0.1 0.3-0.4 1 0 0.3-0.3 0.7 0 0.3-0.3 0.7 0 0.3-0.4 1 0 0.4-0.3 0.6 0 1-0.7 0.7 0 0.3-0.3 0.7 0 0.3-0.3 0.7 0 1-0.7 0.7 0 1.6-1 0.7 0 0.3-0.3 0.4 0 0.3-0.3 0.3 0 1.7-0.9 0.7 0 5.7 3.7 5.1 4.3 2.2 2.3 1.9 2.4 1.7 2.4 1.4 2.6 1.1 2.3 0.9 2.7 0.6 2.9 0.3 2.7 0.1 2.7-0.3 3-0.6 2.7-0.8 2.7-1.1 2.6-1.3 2.7-1.6 2.6-1.9 2.7-4.4 5-5.3 4.7-6.1 4.3-6.9 4-7.2 3.3-7.9 2.9-8.3 2.4-8.3 1.7-8.7 1-8.3 0.4-8.4-0.2-8-1-7.6-1.5-7.4-2.2-6.9-2.8-6.1-3.3-5.6-4.1-2.4-2.1-2.3-2.5-2-2.4-1.7-2.4-1.3-2.3-1.3-2.9-1-2.8-0.7-2.6-0.3-1.8 0-3.5-0.3-0.3 0-0.3 0.3-0.4 0-4.3 0.3-0.3 0-1.7 0.3-0.3 0-1.4 0.3-0.3 0.1-0.7 0.3-0.3 0-1 0.3-0.3 0-0.7 0.3-0.3 0.1-0.7 0.6-1 0-0.7 1-1.6 0-0.4 0.3-0.3 0-0.3 0.4-0.4 0.3-1 0.7-0.6 0.3-1 1.3-1.7 0-0.3 1-1 0-0.4 1.4-1.3 0-0.3 5.7-5.7 0.3 0 1.7-1.7 0.3 0 1-1 0.3 0 0.7-0.7 0.3 0 0.7-0.6 0.3 0 0.7-0.7 0.3 0 0.7-0.7 0.3 0 0.7-0.6 1-0.4 0.7-0.6 0.3 0 0.3-0.4zM1382.2 189.2l-3.4 0.2-3.3 0.7-3 1.1-2.5 1.3-2.2 1.7-1.7 2-1.1 2-0.7 2.3-0.1 2.3 0.5 2.4 1 2.3 1.6 2.3 1.8 2 2.4 2.1 3 2 3.3 1.8 3 1.3 5 1.8 1.8 0.4 0.6 0.3 0.8 0 0.5 0.3 1 0 0.7 0.4 1.1 0 0.5 0.3 1.5 0 0.5 0.3 2 0 0.4 0.4 3.6 0 0.4 0.3 7 0 0.3-0.3 3.7-0.1 0.3-0.3 2 0 0.3-0.3 1.7 0 0.3-0.3 1.4-0.1 0.3-0.3 1.3 0 0.4-0.3 1 0 0.3-0.3 0.7-0.1 0.3-0.3 1 0 0.3-0.3 0.7 0 1-0.7 0.7 0 0.3-0.3 0.7 0 0.3-0.4 0.3 0 0.4-0.3 0.3 0 1.7-1 0.3 0 0.3-0.3 0.4 0 0.6-0.7 0.4 0 0.6-0.8 0.4 0 1.3-1.4 0.4-0.1 0.1-0.3-0.3-0.7-1.5-2.2-2-1.9-2.7-2.1-6.7-4.2-10-5.1-9.6-4.4-7.4-2.6-3.3-0.9-3.3-0.6-3-0.3z"/><path fill="#af00af" d="M1395.2 79.6l8-0.3 7 0.2 8.5 1 8 1.7 7.5 2.3 6.3 2.7 5.4 3 5.1 3.6 4.1 4 3.1 4 2.2 4.4 1.4 4.6 0.4 2.4 0.1 2.6-0.5 5-1.3 5-2.3 5.4-3.6 6-4.4 5.6-5.1 5.4-5.8 5-6.1 4.3-6.4 3.7-7.2 3.3-7.1 2.5-7.5 1.8-7.8 1.2-8 0.5-7.7-0.2-7.7-0.9-7.3-1.6-7.1-2.3-6.7-3-3.5-2-3.7-2.5-3.1-2.5-2.9-2.7-2.7-3.2-2-2.9-1.6-3.1-1.4-3.2-1-3.6-0.5-3.3-0.1-3.3 0.3-4 0.3-0.7 0-1.2 0.4-0.5 0-1 0.3-0.3 0-1 0.3-0.3 0-0.7 0.4-0.3 0-0.7 0.3-0.3 0-0.7 1-1.7 0-0.6 0.3-0.4 0-0.3 0.4-0.3 0-0.4 0.3-0.3 0-0.3 0.3-0.4 0-0.3 0.4-0.3 0.3-1 0.7-0.7 0.3-1 1.3-1.7 0-0.3 2-2.3 0-0.4 1.4-1.3 0-0.3 6-6 0.3 0 1.7-1.7 0.3 0 1-1 0.3 0 1-1 0.4 0 0.6-0.7 0.4 0 0.6-0.6 0.4 0 1.6-1.4 1-0.3 0.7-0.7 1-0.3 0.3-0.3 0.4 0 0.3-0.4 0.3 0 0.4-0.3 0.3 0 0.3-0.3 0.4 0 0.6-0.7 0.7 0 0.3-0.3 0.4 0 0.3-0.4 0.3 0 1.7-1 0.7 0 1.6-1 0.7 0 0.3-0.3 0.7 0 1-0.7 0.7 0 0.3-0.3 0.7 0 0.3-0.3 0.7 0 0.3-0.4 0.7 0 0.3-0.3 1 0 0.3-0.3 0.7 0 0.3-0.4 1 0 0.4-0.3 1 0 0.3-0.3 1 0 0.3-0.4 1 0 0.4-0.3 1.3 0 0.3-0.3 1.4 0 0.3-0.4 1.7 0 0.3-0.3 1.7 0 0.3-0.3 2 0 0.7-0.4 2.6 0zM1384.5 97.8l-3.7 0.3-3.6 0.8-3.4 1.2-2.8 1.4-2.5 1.8-2.2 2.2-1.5 2.3-0.9 2.4-0.4 2.3 0.2 2.7 0.7 2.3 1.4 2.7 1.7 2.3 2.4 2.3 2.9 2.2 3.4 2 3.6 1.7 3.7 1.4 3.3 0.9 4.7 1.1 8.7 1.1 9 0 0.7-0.4 2.6 0 0.5-0.3 1.8 0 0.4-0.3 1.6 0 0.4-0.4 1.3 0 0.3-0.3 1 0 0.4-0.3 1 0 0.3-0.4 0.7 0 0.3-0.3 0.7 0 0.3-0.3 0.7 0 0.3-0.4 0.7 0 0.3-0.3 0.7 0 1.6-1 0.7 0 0.3-0.3 0.4 0 0.6-0.7 1-0.3 0.4-0.4 0.3 0 0.7-0.6 0.3 0 1-1.1 0.3 0 1.8-1.9 0.3-1.4-0.6-1.6-1.5-2-2.4-2.4-3.2-2.5-3.7-2.5-10-5.8-9-4.4-7.3-2.8-3.7-1-3.3-0.6-3.4-0.3zM1356.2 173.2l2-1.1 1.6 1 0.4 0 0.3 0.3 0.3 0 0.4 0.3 0.3 0 0.3 0.4 0.7 0 1.7 1 0.6 0 1 0.6 0.7 0 0.3 0.4 0.7 0 0.3 0.3 0.7 0 1 0.7 0.7 0 0.3 0.3 1 0 0.3 0.3 0.7 0 0.3 0.4 0.7 0 0.3 0.3 1 0 0.4 0.3 0.6 0.1 0.4 0.3 1 0 0.3 0.3 1.3 0 0.4 0.4 1 0 0.3 0.3 1.3 0 0.4 0.3 1.3 0 0.3 0.4 1.7 0 0.3 0.3 1.7 0 0.3 0.3 2 0 0.4 0.4 2.6 0 0.4 0.3 4 0 0.3 0.3 14.3-0.1 0.4-0.3 4-0.1 0.3-0.3 2.7 0 0.3-0.3 2 0 0.3-0.4 1.7 0 0.3-0.3 1.7 0 0.3-0.3 1.4 0 0.3-0.3 1.3 0 0.4-0.4 1 0.1 0.3-0.4 1.3 0 0.4-0.3 1 0 0.3-0.3 0.7 0 0.3-0.3 1 0 0.3-0.4 0.7 0 0.3-0.3 0.7 0 0.3-0.3 1 0 0.4-0.4 0.6 0 1-0.6 0.7 0 0.3-0.3 0.7 0 0.3-0.4 0.7 0 1-0.6 0.7 0 1.6-1 0.7 0 0.3-0.3 0.4 0 0.3-0.3 0.3 0 1-0.6 6 3.9 4.5 4 3.7 4.4 2.8 4.6 1.1 2.4 0.8 2.6 0.5 2.4 0.3 2.6 0 2.7-0.2 2.7-1.3 5-2.2 5-1.5 2.6-1.9 2.7-4.4 5-5.2 4.7-6 4.3-6.3 3.7-7 3.3-8 3-8 2.3-8 1.6-8.3 1.1-8.4 0.4-8-0.2-8-0.9-7.6-1.5-7.4-2.1-6.6-2.7-6.2-3.3-5.2-3.7-4.6-4.3-3.7-4.7-2.7-4.7-1-2.5-1-3.5-0.6-4.9 0-2.9 0.3-1.8 0-1.4 0.3-0.6 0-1.2 0.4-0.5 0-0.7 0.3-0.3 0-1 0.3-0.3 0-0.7 0.4-0.3 0-0.7 0.6-1 0-0.7 1-1.6 0-0.4 0.4-0.3 0-0.3 0.3-0.4 0.3-1 0.7-0.6 0.3-1 1.4-1.7 0-0.3 1-1 0-0.4 1.3-1.3 0-0.3 5.7-5.7 0.3 0 1.7-1.7 0.3 0 1-1 0.3 0 0.7-0.6 0.3 0 0.7-0.7 0.3 0 0.7-0.7 0.3 0 0.7-0.6 0.3 0 0.7-0.7 1-0.3 0.7-0.7 0.3 0 0.3-0.3zM1381.8 185.8l-3.6 0.4-3.7 0.8-3 1-3 1.6-2.7 1.9-1.8 2-1.5 2.3-0.8 2.4-0.3 2.6 0.3 2.7 1 2.7 1.3 2.3 1.9 2.3 2.6 2.4 3 2.1 3.3 1.9 4 1.8 3.7 1.4 3.7 1 4.3 0.9 5 0.7 5.7 0.5 7 0 1.2-0.3 2.8 0 0.4-0.4 1.9 0 0.5-0.3 1.5 0 0.3-0.3 1.4 0 0.3-0.4 1.3 0 0.4-0.3 1 0 0.3-0.3 0.7 0 0.3-0.4 1 0 0.3-0.3 0.7 0 1-0.7 0.7 0 0.3-0.3 0.7 0 0.3-0.3 0.3 0 0.4-0.4 0.3 0 1.7-1 0.3 0 0.3-0.3 0.4 0 0.6-0.7 0.4 0 0.6-0.7 0.4 0 1.3-1.4 0.3 0 1-1.5-0.2-1.7-1.1-1.9-2-2.2-2.7-2.3-3.3-2.4-4.3-2.7-11-6.1-8.4-3.8-7.3-2.6-3.7-0.8-3.3-0.6-3.3-0.3z"/><path fill="#c101c1" d="M1394.1 80.5l7.4-0.3 7.3 0.3 8.4 1 6.8 1.3 6.8 2 5.9 2.4 5.2 2.6 4.5 3 4.3 3.7 3.1 3.7 2.3 4 1.4 4 0.6 4.3-0.3 4.3-1.2 4.7-2.1 4.7-3.6 5.6-4.7 5.8-5.8 5.9-6.7 6-6.1 4.7-6.1 3.8-6 3-6.3 2.4-7 1.9-7.4 1.1-7.6 0.5-8-0.3-7.7-0.9-7-1.6-6.7-2.3-6.3-2.9-3.3-2-3-2.1-2.8-2.3-2.6-2.5-2.3-2.8-2-3-1.3-2.5-1.4-3.2-0.9-3.3-0.5-3-0.2-3.4 0.2-3.3 0.4-2.8 1-3.8 1-2.7 1.7-3.6 2-3.4 2.7-3.7 2-2.3 4.3-4.4 1-0.6 1.4-1.4 4-3 0.3 0 1.8-1.3 4-2.3 3.2-1.7 4.6-2 8-2.7 8.7-2 4.2-0.6zM1382.2 94.8l-4 0.7-3.7 1.1-3.3 1.4-3 1.8-2.4 2-2.1 2.4-1.5 2.6-0.9 2.7-0.2 2.7 0.3 2.6 0.8 2.7 1.5 2.7 2.1 2.6 2.4 2.4 3 2.2 3.3 1.9 3.7 1.8 4.3 1.6 3.7 1 4.6 1 4.7 0.6 4.7 0.4 4.6 0 4.7-0.3 5-0.6 3.7-0.8 3.6-1 4.4-1.5 2-1 0.3 0 0.4-0.3 0.3 0 2-1.4 0.3 0 0.8-0.6 0.2 0 0.7-0.7 0.6-0.4 2-1.9 0.8-1.4 0.6-2-0.2-1.6-1.2-2-1.8-2-3.2-2.8-4-3-5.3-3.5-4.8-2.7-4.7-2.4-5.5-2.3-5.5-2-4.3-1.3-3.9-0.9-3.6-0.5-3.7-0.2zM1357.8 172.2l1 0.3 1.7 0.9 0.3 0 0.4 0.4 0.3 0 0.3 0.3 0.7 0 1.7 1 0.6 0 1 0.7 0.7 0 0.3 0.3 0.7 0 0.3 0.3 0.7 0 1 0.7 0.7 0 0.3 0.4 1 0 0.3 0.3 0.7 0 0.3 0.3 0.7 0 0.3 0.4 1 0 0.4 0.3 0.6 0 0.4 0.3 1 0 0.3 0.4 1.3 0 0.4 0.3 1 0 0.3 0.3 1.3 0 0.4 0.4 1.3 0 0.3 0.3 1.7 0 0.3 0.4 1.7 0 0.3 0.3 2 0 0.4 0.3 2.6 0 0.4 0.3 4 0 0.3 0.4 14.3-0.2 0.4-0.3 4 0 0.3-0.4 2.7 0 0.3-0.3 2 0 0.3-0.3 1.7 0 0.3-0.4 1.7 0 0.3-0.3 1.4 0 0.3-0.3 1.3 0 0.4-0.3 1 0 0.3-0.3 1.3 0 0.4-0.4 1 0 0.3-0.3 0.7 0 0.3-0.3 1 0 0.3-0.3 0.7 0 0.3-0.4 0.7 0 0.3-0.3 1 0 0.4-0.3 0.6 0 1-0.7 0.7 0 0.3-0.3 0.7 0 0.3-0.3 0.7 0 1-0.7 0.7 0 1.6-1 0.7 0.1 0.5-0.4 4.9 3.4 4.5 4 3.4 4 2.6 4.3 0.9 2.3 0.8 2.4 0.7 4.6-0.3 4.7-1.1 4.7-2.2 5-3.4 5.1-4.1 4.9-5.2 4.6-5.8 4.4-6.6 4-7.4 3.6-7.2 2.8-7 2.1-7.7 1.6-8 0.9-7.3 0.3-7.7-0.2-8-0.9-7.6-1.5-7-2-6.7-2.7-5.8-3-5.3-3.7-4.6-4.2-3.6-4.5-2.7-4.7-1.7-4.6-0.6-3-0.3-2.7-0.1-2.6 0.3-2.7 0.4-2.6 0.7-2.6 2-5 1.3-2.1 0-0.3 2-3.1 2-2.3 0.3-0.7 5-5 0.4-0.3 0.3 0 1.3-1.3 0.7-0.4 1.1-1 0.2 0 0.7-0.6 0.3 0 0.7-0.7 0.3 0 0.7-0.7 0.3 0 0.7-0.6 0.3 0 0.8-0.7 0.9-0.3 0.9-0.7 1.1-0.7 0.3 0 0.4-0.3 0.3 0zM1378.5 182.1l-4 0.7-3.7 1.1-3.3 1.5-3 1.8-2.6 2.3-1.9 2.3-1.4 2.7-0.8 2.7-0.2 2.6 0.4 3 1 2.7 1.5 2.7 2.2 2.6 2.4 2.4 3.1 2.2 3.6 2.2 3.7 1.7 4.3 1.6 4.7 1.4 4.7 1 5 0.7 4.6 0.3 4.7 0 4.7-0.2 4.3-0.5 5-0.9 4.7-1.3 3.6-1.3 5.4-2.6 2-1.3 2.3-2 1.1-1.7 0.7-2-0.3-1.7-1.1-2-2.1-2.2-3.3-2.9-4.7-3.3-5.3-3.4-5-2.8-4.8-2.4-6.3-2.6-5.3-2-5.3-1.7-4-0.9-3.6-0.5-4-0.2z"/><path fill="#d101d1" d="M1401.7 82.5l6.5 0.1 6.3 0.6 6 1 6.7 1.6 5.6 2 5 2.4 4.4 2.6 3.8 3 3.1 3.4 2.2 3.3 1.6 3.7 0.6 3.6-0.1 3.7-1 3.7-1.9 3.8-2.7 3.7-4 4.1-8.6 7.4-3.1 3-2.1 2.6-2.9 4.7-1.6 2.3-2.3 2.7-2.6 2.3-3.8 2.8-4.3 2.4-4.7 2-5.6 1.7-7 1.2-7.4 0.5-7.3-0.5-7.7-1.3-8-2.3-7.9-3.1-6.7-3.6-2.8-1.8-2.6-2-2.5-2.3-2.1-2.3-1.7-2.4-1.7-2.6-1.3-2.9-1-3-0.7-3.1-0.2-2.7 0-2.7 0.3-3 0.6-3.1 1-3.2 1.3-3.1 1.7-3.1 1.7-2.5 2.3-3 4.6-4.6 5.1-4 6.3-3.7 6.8-3 8.3-2.7 9.9-2.3 8.7-1.4zM1380.8 90.5l-3.6 0.6-4 1.2-3.7 1.7-3.3 2.1-2.9 2.4-2.3 2.7-1.8 3-1.1 3-0.5 3 0.2 3 0.7 3 1.4 3 2.1 3 2.5 2.6 3 2.5 3.3 2.1 3.7 2 4.7 1.9 4.3 1.4 5.3 1.3 5 0.8 5.7 0.5 5.3 0.1 5-0.3 4.7-0.5 5-1 4.3-1.2 3.7-1.4 3.7-1.9 3-2.2 2.3-2.2 1.8-2.5 1.1-2.4 0.3-2-0.4-2-0.9-2-1.9-2.3-2.7-2.5-4-3.1-3.6-2.4-2.6-1.3-3.2-1.4-31.6-11.5-3.6-0.9zM1359.7 173.2l0.5 0 1.6 1 0.7 0 1.7 1 0.6 0 1 0.6 0.7 0 0.3 0.4 0.7 0 0.3 0.3 0.7 0 1 0.7 0.5 0-4.5 1.8-4.3 2.6-3.7 3.2-2.8 3.7-1.7 3.7-0.6 2-0.3 2-0.1 2 0.2 2 0.5 2 0.6 2 1.5 3 2.2 3 2.5 2.6 3.2 2.7 3.5 2.3 4 2.2 4.6 2 4.7 1.6 4.7 1.3 4.3 0.9 4.7 0.7 5.3 0.4 4.7 0.1 4.6-0.1 5-0.5 4.4-0.6 3.6-0.8 4.4-1.3 3.3-1.4 3-1.5 2.7-1.8 2-1.9 1.8-2.3 1.3-2.3 0.6-2 0.2-2-0.3-1.7-0.8-1.6-1.5-2-1.9-2-6.1-5-3.1-2-3.3-1.7-15.3-5.9-9.9-4.1 13.9-0.2 0.4-0.3 4 0 0.3-0.4 2.7 0 0.3-0.3 2 0 0.3-0.3 1.7 0 0.3-0.3 1.7 0 0.3-0.4 1.4 0.1 0.3-0.4 1.3 0 0.4-0.3 1 0 0.3-0.3 1.3 0 0.4-0.3 1 0 0.3-0.3 0.7 0 0.3-0.4 1 0 0.3-0.3 0.7 0 0.3-0.3 0.7 0 0.3-0.3 1 0 0.4-0.4 0.6 0 1-0.6 0.7 0 0.3-0.4 0.7 0 0.3-0.3 0.7 0 0.3-0.3 0.7-0.2 4.2 2.9 3.9 3.3 2.9 3.3 2.3 3.7 1.4 3.7 0.8 3.6-0.1 4-0.7 3.7-1.4 3.4-2 3.4-2.6 3.5-3.4 3.6-4.6 4.3-9.7 8.2-6.5 6.3-3.8 2.6-4.4 2.2-5.6 2.1-6.4 1.6-6.3 1-6.7 0.4-7.3 0-7-0.7-6.3-1.1-6.4-1.6-7.6-2.7-7-3.2-6-3.6-4.9-3.7-4.1-4.3-1.7-2.1-1.7-2.7-1.3-2.6-0.9-2.3-0.7-2.7-0.5-2.3-0.2-2.7 0-2.6 0.3-2.5 0.7-3.1 1-3 1-2.3 1.3-2.5 2-3 4-4.6 4.7-4.1 5.5-3.6 3.2-1.7z"/><path fill="#e004e0" d="M1405.2 86.5l3.6-0.2 4 0.1 5 0.6 4 0.7 4 1 4 1.3 3.7 1.6 3.6 1.9 2.9 2 2.7 2.3 2 2.4 1.5 2.3 1 2.3 0.5 2.7-0.1 2.3-0.8 2.1-0.6 0.9-0.7 0.5-0.7 0.2-1-0.2-1.3-0.9-6.4-5.6-3.2-2-2.7-1-13.4-3.5-8.6-2.9-10-4.1-2.5-1.5-0.9-1-0.1-0.6 0.3-0.7 0.7-0.7 1.5-0.7 3.6-1zM1346.7 110.5l0.8-0.2 0.7 0.1 0.6 0.3 0.7 0.7 4.5 8.1 1.9 2.7 2.4 2.6 4.6 4 5.7 3.7 4 2 4.8 2 5 1.7 5 1.3 4.6 1 6.1 1 14.7 1.8 4 1 2 1.1 0.7 0.7 0.3 0.7 0.1 1.7-0.8 2-1.4 2-2.1 2-2.8 2-3.3 1.9-3.7 1.5-3.6 1.2-4 0.9-4.4 0.7-4.3 0.2-4 0-4-0.3-4.3-0.7-4-0.9-4-1.3-4-1.6-3.4-1.7-3.3-2.1-3.4-2.5-3-2.6-2.9-3-3.6-4.4-2.4-3.3-1.8-3-1.2-3-0.7-3-0.3-3.3 0.2-3.4 0.6-3 1.2-3 1.6-2.8 2-2.3zM1437.8 177.5l4 2.3 3.7 3 2.6 3 1.9 3.4 1 3.3 0 1.7-0.2 1.6-0.5 1.7-0.7 1.3-1.1 1.2-1 0.6-1 0.3-1 0-2-0.6-2-1.3-6-4.5-3.2-1.7-2.1-0.6-9-2.2-5.7-1.6-7.3-2.7-7.3-3.2 10.9-0.1 0.4-0.4 4 0 0.3-0.3 2.7 0 0.3-0.4 2 0 0.3-0.3 1.7 0 0.3-0.3 1.7 0 0.3-0.3 1.4 0 0.3-0.3 1.3 0 0.4-0.4 1 0 0.3-0.3 1.3 0 0.4-0.3 1 0 0.3-0.3 0.7 0 0.3-0.3 1 0 0.3-0.3 0.7 0 0.3-0.4 0.7 0zM1339.3 196.8l0.5-0.2 0.7 0.1 1 0.8 3.1 6.3 1.7 3 2.4 3.4 3 3.3 2.9 2.7 3.4 2.6 3.6 2.4 4.3 2.3 5.1 2.3 5.4 2 5.5 1.7 5.6 1.3 9.5 1.7 17.2 1.8 4.3 0.7 1.6 0.5 1 0.7 0.4 0.6-0.1 1-1.3 1.4-2 1.3-3.3 1.4-4 1.3-4.3 1-4.3 0.7-4.4 0.4-4.3 0.2-4.3-0.1-4.4-0.4-8.3-1.3-4-1-4.3-1.4-3.7-1.4-3.7-1.7-3.3-1.8-3.3-2.1-3.4-2.5-3.2-2.6-3.1-3-2.7-3-2-2.7-1.6-2.7-1.4-2.9-0.9-3.1-0.4-2.6-0.1-3 0.4-3 0.7-2.5 1.3-2.5z"/><path fill="#ec13ec" d="M1407.6 87.5l5.6 0.1 5.3 0.7 5.3 1.3 4.7 1.7 4 2.1 3.2 2.4 1.2 1.4 0.8 1.3 0.2 1-0.1 1-0.6 0.7-1 0.5-1.7 0.3-2 0.1-5.7-0.4-6-1.1-8-2.3-8-2.9-5-2.4-1.2-0.8-0.9-1 0-0.7 0.3-0.7 1.8-1 3.4-0.9zM1354.7 132.2l2.1-0.1 2.7 0.6 14.3 5.1 5.5 1.7 5.3 1.3 6.4 1.4 16.2 2.4 4.3 1 2.3 0.9 1.3 1 0.7 1.3-0.2 1.7-0.6 1.3-1.3 1.7-1.9 1.7-2.3 1.5-2.3 1.3-3 1.2-6 1.7-6 0.9-6.7 0.1-6.3-0.7-6.4-1.5-6-2.3-5.1-2.9-2.2-1.7-2.2-2-1.9-2-1.4-2-1.4-2.3-1-2.3-0.5-2.4-0.2-2.3 0.3-2 0.8-1.7 1.2-1.1zM1432.1 179.2l1.1 0 0.3-0.3 1 0.6 2.6 2.3 1.5 2 0.6 1.7 0 1.3-0.7 1.4-1.3 0.9-2.7 0.8-3.3 0.3-4.4-0.2-4.3-0.6-4.7-1.1-5-1.6-5.3-2-4.7-2.2 9-0.1 0.4-0.4 4 0 0.3-0.3 2.7 0 0.3-0.3 2 0 0.3-0.4 1.7 0 0.3-0.3 1.7 0 0.3-0.3 1.4 0 0.3-0.3 1.3 0 0.4-0.3 1 0 0.3-0.4 1.3 0.1zM1347.6 220.8l0.6-0.2 1-0.1 2.3 0.5 15.3 6.2 6 2 5.9 1.6 5.8 1.4 7.2 1.3 21.5 2.8 1.9 0.5 1.3 0.7 0.5 0.7-0.1 0.6-0.4 0.7-1.3 1-2 1-2.3 0.9-5.3 1.3-6.3 1-6.4 0.2-6.3-0.2-5.7-0.7-6.3-1.3-5.3-1.7-5.7-2.3-5-2.8-3.9-2.7-3.9-3.7-1.4-1.7-1.3-2-0.7-1.6-0.3-1.4 0.1-1.3z"/><path fill="#f920f9" d="M1406.7 88.2l4.8-0.1 5.3 0.5 5 1 4 1.4 4.4 2 2.9 2.2 1.6 2 0.3 1-0.1 1-0.5 0.6-1.2 0.6-3 0.5-4.7-0.1-5-0.9-7-1.9-6.7-2.4-5.1-2.4-1.4-1-0.6-0.7 0-1 1.1-1 2.4-0.8zM1358.1 135.8l2.1-0.1 3 0.4 20 5.4 8.1 1.7 12.5 2.1 3.9 0.9 2.8 1 1.5 1 0.8 1.3-0.1 1.7-0.6 1.3-1.1 1.3-1.6 1.4-2 1.3-4.6 2.1-5.3 1.6-5.7 0.8-6 0.1-5.6-0.5-5.7-1.2-5.7-2.1-4.6-2.5-4-3.1-1.9-1.9-1.3-1.6-1.2-2-0.9-2-0.5-2-0.1-2 0.4-1.7 0.8-1.3 1-0.8zM1430.5 179.5l1.5 0 2 1.7 1.5 2 0.5 1 0.1 1-0.4 1.3-1.2 1.2-2 0.9-2.3 0.4-2.7 0.2-2.7-0.2-6-1.1-7.3-2.2-4-1.7-3.2-1.5 7.5-0.1 0.4-0.3 4-0.1 0.3-0.3 2.7 0 0.3-0.3 2 0 0.3-0.4 1.7 0.1 0.3-0.4 1.7 0 0.3-0.3 1.4 0 0.3-0.3 1.3 0 0.4-0.3 1 0zM1351.7 224.5l1.8-0.1 2.7 0.5 15.4 4.9 10.3 2.7 8.7 1.7 15.6 2.2 4 0.7 2.6 0.9 0.6 0.5 0.2 0.7-0.3 0.6-0.7 0.7-1.8 1-1.7 0.7-4.9 1.3-5.7 0.8-5.7 0.2-5.6-0.2-5.7-0.6-5.3-1.1-4.7-1.3-5.3-2-4.7-2.3-3.9-2.5-3.5-3-2.4-3-0.7-1.3-0.2-1.4 0.1-0.6z"/><path fill="#ff36ff" d="M1408.6 88.5l3.3 0 5.7 0.7 4.6 1.1 3 1 3.3 1.7 2.6 1.8 1.3 1.7 0.3 1-0.1 0.7-0.4 0.7-1 0.6-2.7 0.7-3.3 0-5.7-0.9-6-1.7-6.3-2.3-4.3-2.1-1.3-1-0.4-0.7-0.1-0.7 0.2-0.3 1.5-1 2.7-0.7zM1361.4 138.5l2.8-0.1 3.6 0.5 17.4 3.9 15 2.7 4.3 0.9 3 1 1.8 1.1 1.1 1.3 0.1 0.7-0.1 1-0.4 1-1.1 1.3-1.4 1.3-1.6 1.1-4.1 1.9-5 1.5-5 0.7-5.3 0.2-5.3-0.4-5.4-1.1-5.3-1.8-5-2.6-4-3.1-2.3-2.7-0.9-1.6-0.7-1.7-0.3-1.7 0.1-1.6 0.4-1.4 0.7-1 1.3-0.8zM1429.2 179.8l1.1 0 1.9 1.7 1 1.7 0.3 1.6-0.6 1.4-1.1 1-2 0.8-2 0.3-4.6-0.1-5-0.9-6.4-2-6.3-2.8 6.3-0.1 0.4-0.3 4 0 0.3-0.4 2.7 0 0.3-0.3 2 0 0.3-0.3 1.7 0 0.3-0.3 1.7 0 0.3-0.4 1.4 0.1 0.3-0.4 1.3 0zM1355.4 227.2l1.8-0.1 3 0.5 14.3 3.9 10 2.2 22.7 3.7 3 1 0.5 0.4 0.3 0.7-0.3 0.7-0.8 0.6-2.9 1.4-4.2 1-5 0.7-5.3 0.3-5.7-0.2-5.6-0.7-3.7-0.7-5-1.3-4.9-1.8-4.8-2.3-3.3-2-3.1-2.7-1.8-2.3-0.4-1-0.1-1 0.5-0.7z"/><path fill="#ff59ff" d="M1408.5 89.5l3.3-0.1 3.7 0.3 3.7 0.6 3.6 1.1 3 1.3 2.3 1.5 1.5 1.6 0.3 0.7-0.1 0.7-0.6 0.8-1.4 0.6-2 0.3-2.3-0.1-5.7-0.8-6.6-2-5-2.2-1.5-1-0.8-1 0-0.6 0.9-0.8 1.6-0.6zM1364.8 141.5l3.4-0.2 4.6 0.6 26.1 5.3 3.6 1.1 2.3 1.2 1.1 1.3 0.1 1.4-0.5 1-0.8 1-2.2 1.6-3.3 1.6-4 1.1-4.4 0.6-4.3 0.2-4.3-0.4-4.7-0.9-4.3-1.4-4-1.9-3.1-2.2-2.6-2.7-1.6-2.6-0.3-1.4 0-1.3 0.3-1 0.8-1 0.8-0.6zM1427.5 180.2l0.5 0 0.4 0.3 1.6 1.7 0.5 1.3-0.1 1-0.6 1-1 0.7-1.3 0.4-1.7 0.3-4 0-4.6-0.8-5-1.5-4.6-2.1 4.2 0 0.4-0.4 4 0 0.3-0.4 2.7 0 0.3-0.3 2 0 0.3-0.3 1.7 0 0.3-0.3 1.7 0 0.3-0.3 1.4 0zM1359.3 230.2l1.9-0.2 3 0.4 18.3 4.1 18.5 3.3 3.8 1.1 1 0.6 0.3 0.7-0.1 0.3-0.7 0.7-2.4 1-3.1 0.7-4 0.5-4 0.1-4.3-0.1-4-0.4-4.3-0.7-4-1-4-1.3-4-1.7-3-1.6-2.8-1.9-2-2-0.6-1-0.2-0.6 0.2-0.7z"/><path fill="#ff7dff" d="M1410.9 90.2l2.9 0 3 0.3 2.7 0.6 3 0.9 2.3 1.1 1.6 1.1 1.2 1.3 0.1 1-0.9 0.8-2 0.5-3 0-3.3-0.5-4-1.1-3.9-1.4-2.5-1.3-0.9-0.7-0.5-0.6 0-0.7 0.9-0.7 1.2-0.4zM1368 143.5l3.2-0.2 5 0.6 9.6 1.8 8.1 1.8 3.6 1.1 2.4 1.2 1.2 1.4 0.2 0.6-0.1 0.7-0.3 0.7-0.7 0.9-2 1.3-2.7 1.1-3.3 0.8-3.4 0.4-3.6 0-3.7-0.3-3.7-0.8-3.6-1.2-3.1-1.6-2.9-2-1.9-2-1.1-2-0.2-1 0-1 0.3-0.6 0.5-0.7 1-0.6zM1425.8 180.5l0.5 0 1.4 1.3 0.5 1 0 1-0.4 0.7-0.8 0.7-2.4 0.6-3.1 0.1-3.7-0.6-4-1.2-3.7-1.6 1.7 0 0.4-0.4 4 0 0.3-0.3 2.7 0 0.3-0.4 2 0 0.3-0.3 1.7 0 0.3-0.3 1.7 0zM1362.8 232.2l2-0.3 3.4 0.5 26.8 5.4 4.7 1.4 1.1 0.6 0.2 0.7-0.7 0.7-1.8 0.7-3 0.5-3.3 0.3-7-0.2-6.7-1.1-3.3-0.9-3.4-1.1-3-1.2-2.5-1.4-2.4-1.6-1.3-1.4-0.4-1z"/><path fill="#ffa0ff" d="M1412.8 90.8l4.4 0.4 2.3 0.5 2.3 0.8 1.6 0.7 1.5 1 0.8 1 0 0.6-0.6 0.7-1.6 0.4-2.3 0-2.7-0.4-3.3-0.8-3-1.1-2-1.1-1-1 0-0.7 0.6-0.4 1.4-0.4zM1371.1 145.2l3.1-0.2 4.3 0.5 5.7 1 6 1.4 3.6 1.2 2 1.1 1 1 0.3 0.6 0 0.7-0.7 1-1.6 1.1-2.2 0.9-2.8 0.6-2.6 0.2-3 0-3-0.3-3-0.7-3-1.1-2.7-1.3-1.9-1.4-1.5-1.7-0.8-1.6 0.1-1.4 0.8-1zM1423.8 180.8l1.1 0 0.3 0.4 0.8 1 0.2 1-0.7 1-2 0.6-2.3 0.1-3-0.4-3.4-0.9-2.6-1.2 0-0.2 4-0.1 0.3-0.3 2.7 0 0.3-0.3 2 0 0.3-0.4 1.7 0zM1366 233.8l1.5-0.3 3.3 0.4 18.2 3.6 6.1 1.7 1.2 0.6 0.2 0.4 0 0.3-1 0.6-1.3 0.4-4.4 0.4-5.3-0.2-5.5-0.9-4.9-1.3-4.7-2-2.2-1.3-1.1-1-0.4-0.7 0-0.3z"/><path fill="#ffcbff" d="M1412.4 91.8l1.4-0.2 1.7 0 4 0.8 2 0.7 1.3 0.7 0.7 0.7 0.2 0.7-0.2 0.3-0.6 0.3-1.7 0.2-2.4-0.2-2.6-0.6-2.8-1-1.5-1-0.3-0.7 0.2-0.3zM1374.1 146.8l2.4-0.1 3 0.2 3.7 0.7 3.9 0.9 2.4 0.8 1.8 0.9 1.2 1 0.3 1-0.6 1-1 0.6-1.7 0.6-1.7 0.3-4.3 0.1-4.3-0.7-2-0.7-2-0.9-1.6-1-1.3-1.3-0.5-1 0-1 0.7-0.8zM1421.8 181.2l1.5 0 0.7 1 0 0.6-0.2 0.4-0.6 0.4-1 0.2-2.4 0.1-3-0.6-2.9-1.1 2.3-0.1 0.3-0.3 2.7 0 0.3-0.3 2 0zM1370 235.2l1.8-0.1 3.3 0.4 10 2 5 1.3 1.4 0.7 0.4 0.3 0 0.4-0.4 0.3-1 0.3-3.3 0.3-4-0.3-4.1-0.6-4.6-1.4-3-1.3-1.8-1.3-0.2-0.7z"/></g></g>
<path class="ax" d="M1258.06 99.85L1258.06 273.35L1430.48 342.52L1551.29 244.1M1258.06 258.01L1253.42 256.15M1271.97 278.93L1268.1 282.08M1541.19 252.32L1545.84 254.18M1258.06 185.85L1253.42 183.99M1343.96 307.81L1340.08 310.96M1490.67 293.48L1495.32 295.34M1258.06 113.69L1253.42 111.83M1415.94 336.69L1412.06 339.84M1440.15 334.64L1444.8 336.5"/>
<text class="t" x="1228.77" y="120" font-size="26.5">4</text>
<text class="t" x="1228.68" y="191" font-size="26.5">0</text>
<text class="t" x="1219.19" y="263.5" font-size="26.5">-4</text>
<text class="t" x="1235.79" y="311.9" font-size="26.5">-4</text>
<text class="t" x="1317.68" y="340.3" font-size="26.5">0</text>
<text class="t" x="1389.37" y="369.4" font-size="26.5">4</text>
<text class="t" x="1452.57" y="363.75" font-size="26.5">4</text>
<text class="t" x="1502.78" y="322.5" font-size="26.5">0</text>
<text class="t" x="1552.49" y="281.25" font-size="26.5">-4</text>
<text class="s" y="345.6"><tspan x="1502.19" dy="0" font-size="27.64">x</tspan><tspan x="1515.98" dy="3" font-size="32.98" class="el">[</tspan><tspan x="1526.04" dy="-3" font-size="28.52" font-style="italic">c</tspan><tspan x="1540.04" dy="4.03" font-size="35.77" class="el">/</tspan><tspan x="1552.35" dy="-4.03" font-size="28.52" font-style="italic">ω</tspan><tspan x="1568.84" dy="3" font-size="32.98" class="el">]</tspan></text>
<text class="s" y="362.25"><tspan x="1198.23" dy="0" font-size="27.64">y</tspan><tspan x="1212.18" dy="3" font-size="32.98" class="el">[</tspan><tspan x="1222.24" dy="-3" font-size="28.52" font-style="italic">c</tspan><tspan x="1236.24" dy="4.03" font-size="35.77" class="el">/</tspan><tspan x="1248.55" dy="-4.03" font-size="28.52" font-style="italic">ω</tspan><tspan x="1265.04" dy="3" font-size="32.98" class="el">]</tspan></text>
<text class="s" y="0" transform="translate(1203.85 223.6) rotate(-90)"><tspan x="0.05" dy="0" font-size="27.64">z</tspan><tspan x="9.57" dy="3" font-size="32.98" class="el">[</tspan><tspan x="19.64" dy="-3" font-size="28.52" font-style="italic">c</tspan><tspan x="33.63" dy="4.03" font-size="35.77" class="el">/</tspan><tspan x="45.95" dy="-4.03" font-size="28.52" font-style="italic">ω</tspan><tspan x="62.43" dy="3" font-size="32.98" class="el">]</tspan></text>
<text class="cap" y="440.3"><tspan x="1368.67" font-size="49" textLength="14.65" lengthAdjust="spacingAndGlyphs">(</tspan><tspan x="1383.47" font-size="45" textLength="21.3" lengthAdjust="spacingAndGlyphs">c</tspan><tspan x="1405.18" font-size="49" textLength="14.65" lengthAdjust="spacingAndGlyphs">)</tspan></text></g></svg>
</div></body></html>
